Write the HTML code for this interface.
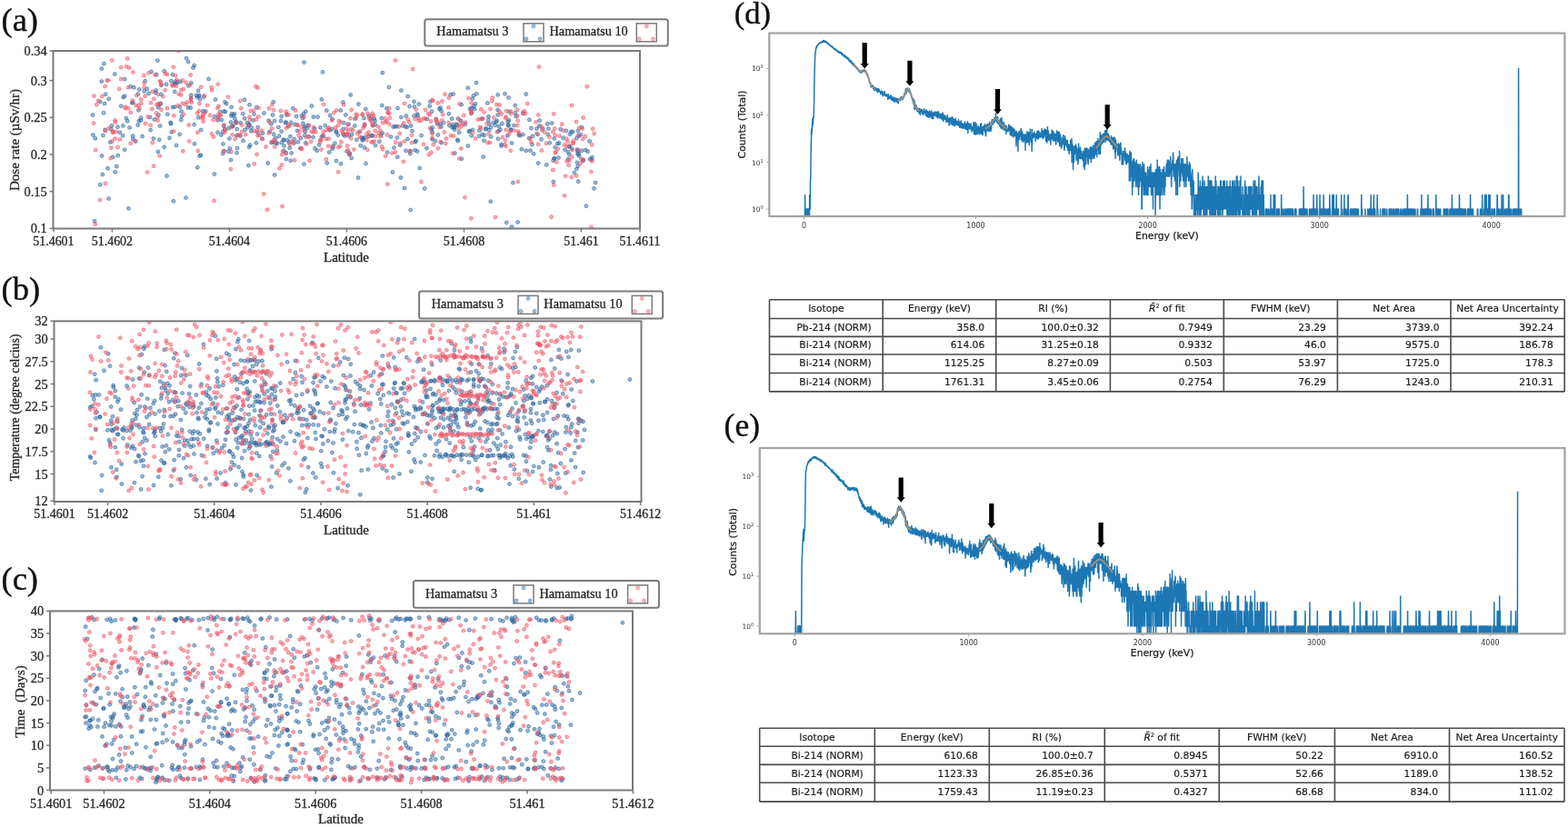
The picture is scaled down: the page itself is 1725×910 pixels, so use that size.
<!DOCTYPE html>
<html><head><meta charset="utf-8"><title>Figure</title><style>
html,body{margin:0;padding:0;background:#fff;}
body{width:1725px;height:910px;overflow:hidden;}
svg{display:block;}
.tk{font-family:'Liberation Serif','Times New Roman',serif;font-size:15px;fill:#262626;stroke:#262626;stroke-width:0.3px;}
.pl{font-family:'Liberation Serif','Times New Roman',serif;font-size:36.5px;fill:#111;stroke:#111;stroke-width:0.4px;}
.st{font-family:'DejaVu Sans','Liberation Sans',sans-serif;font-size:7.5px;fill:#333;}
.st2{font-family:'DejaVu Sans','Liberation Sans',sans-serif;font-size:8px;fill:#333;}
.sl{font-family:'DejaVu Sans','Liberation Sans',sans-serif;font-size:10.8px;fill:#222;stroke:#222;stroke-width:0.25px;}
.tb{font-family:'DejaVu Sans','Liberation Sans',sans-serif;font-size:10.7px;fill:#1e1e1e;stroke:#1e1e1e;stroke-width:0.2px;}
</style></head>
<body><svg width="1725" height="910" viewBox="0 0 1725 910">
<defs><filter id="bl" x="-5%" y="-5%" width="110%" height="110%"><feGaussianBlur stdDeviation="0.65"/></filter><filter id="bl2" x="-1%" y="-2%" width="102%" height="104%"><feGaussianBlur stdDeviation="0.35"/></filter></defs>
<clipPath id="c56"><rect x="58.5" y="56" width="645.5" height="195.5"/></clipPath><g clip-path="url(#c56)"><g fill="#2f72b0" fill-opacity="0.5" stroke="#22568c" stroke-opacity="0.5" stroke-width="1" filter="url(#bl)"><circle cx="384.8" cy="168.6" r="2.0"/><circle cx="628.1" cy="145.1" r="2.0"/><circle cx="180.8" cy="78.2" r="2.0"/><circle cx="627.1" cy="147.7" r="2.0"/><circle cx="273.8" cy="136.5" r="2.0"/><circle cx="335.7" cy="144.6" r="2.0"/><circle cx="560" cy="132.3" r="2.0"/><circle cx="327.8" cy="156.3" r="2.0"/><circle cx="405.7" cy="127.5" r="2.0"/><circle cx="116.1" cy="103.7" r="2.0"/><circle cx="518.9" cy="118.7" r="2.0"/><circle cx="399.4" cy="152" r="2.0"/><circle cx="283.8" cy="140.1" r="2.0"/><circle cx="538.2" cy="136.4" r="2.0"/><circle cx="269" cy="109.7" r="2.0"/><circle cx="352.4" cy="140.4" r="2.0"/><circle cx="175.2" cy="153.8" r="2.0"/><circle cx="324.5" cy="137" r="2.0"/><circle cx="213.7" cy="71.9" r="2.0"/><circle cx="246.4" cy="122.5" r="2.0"/><circle cx="517.1" cy="119.7" r="2.0"/><circle cx="256.4" cy="138.7" r="2.0"/><circle cx="370" cy="177" r="2.0"/><circle cx="644.9" cy="226.7" r="2.0"/><circle cx="634.3" cy="185.8" r="2.0"/><circle cx="502.9" cy="137.7" r="2.0"/><circle cx="401.1" cy="137.6" r="2.0"/><circle cx="254.4" cy="127.4" r="2.0"/><circle cx="190" cy="118.1" r="2.0"/><circle cx="638.9" cy="148.2" r="2.0"/><circle cx="387.1" cy="147.8" r="2.0"/><circle cx="165.1" cy="129.1" r="2.0"/><circle cx="446.7" cy="127.6" r="2.0"/><circle cx="531.7" cy="172.6" r="2.0"/><circle cx="440.9" cy="195.5" r="2.0"/><circle cx="609.7" cy="174.2" r="2.0"/><circle cx="122.8" cy="138.3" r="2.0"/><circle cx="394.1" cy="195.6" r="2.0"/><circle cx="355.7" cy="149.5" r="2.0"/><circle cx="135.4" cy="138.3" r="2.0"/><circle cx="456.6" cy="165.3" r="2.0"/><circle cx="573.9" cy="164.2" r="2.0"/><circle cx="429.8" cy="150.4" r="2.0"/><circle cx="245.1" cy="145.3" r="2.0"/><circle cx="566.8" cy="116.1" r="2.0"/><circle cx="383.5" cy="136.7" r="2.0"/><circle cx="384.3" cy="170.1" r="2.0"/><circle cx="518.6" cy="149.3" r="2.0"/><circle cx="182.9" cy="92.8" r="2.0"/><circle cx="555.5" cy="103.2" r="2.0"/><circle cx="479.9" cy="131.4" r="2.0"/><circle cx="537.5" cy="128.3" r="2.0"/><circle cx="207.1" cy="68.1" r="2.0"/><circle cx="546" cy="134.3" r="2.0"/><circle cx="207" cy="118.5" r="2.0"/><circle cx="146.1" cy="152.9" r="2.0"/><circle cx="575.3" cy="148" r="2.0"/><circle cx="578.7" cy="103.6" r="2.0"/><circle cx="587.1" cy="169.2" r="2.0"/><circle cx="362.6" cy="143.2" r="2.0"/><circle cx="252.9" cy="163.2" r="2.0"/><circle cx="104.8" cy="152.2" r="2.0"/><circle cx="459.1" cy="125.5" r="2.0"/><circle cx="500.2" cy="139.8" r="2.0"/><circle cx="564.4" cy="201.1" r="2.0"/><circle cx="257.2" cy="127.1" r="2.0"/><circle cx="220.2" cy="109.2" r="2.0"/><circle cx="455.5" cy="111.8" r="2.0"/><circle cx="547.5" cy="120.9" r="2.0"/><circle cx="635.5" cy="169.5" r="2.0"/><circle cx="184.3" cy="125.7" r="2.0"/><circle cx="368.4" cy="157.7" r="2.0"/><circle cx="597.2" cy="141.6" r="2.0"/><circle cx="335.3" cy="149.2" r="2.0"/><circle cx="427.9" cy="95.9" r="2.0"/><circle cx="114.4" cy="70.1" r="2.0"/><circle cx="474.5" cy="142.4" r="2.0"/><circle cx="610.7" cy="162" r="2.0"/><circle cx="559.5" cy="107.4" r="2.0"/><circle cx="592.1" cy="179.5" r="2.0"/><circle cx="467.2" cy="207.4" r="2.0"/><circle cx="237.1" cy="109.4" r="2.0"/><circle cx="527.2" cy="149.8" r="2.0"/><circle cx="218.3" cy="129.3" r="2.0"/><circle cx="562" cy="142.8" r="2.0"/><circle cx="135.6" cy="107" r="2.0"/><circle cx="558.8" cy="133.8" r="2.0"/><circle cx="192.1" cy="100.8" r="2.0"/><circle cx="309" cy="133.1" r="2.0"/><circle cx="276.6" cy="140.4" r="2.0"/><circle cx="484.4" cy="118.5" r="2.0"/><circle cx="199.9" cy="127.9" r="2.0"/><circle cx="320.7" cy="168.4" r="2.0"/><circle cx="104.1" cy="243.3" r="2.0"/><circle cx="246.5" cy="166.1" r="2.0"/><circle cx="334.5" cy="68.6" r="2.0"/><circle cx="159.6" cy="89.1" r="2.0"/><circle cx="452.1" cy="138.5" r="2.0"/><circle cx="311.9" cy="153.8" r="2.0"/><circle cx="503.2" cy="153.8" r="2.0"/><circle cx="463.6" cy="149.1" r="2.0"/><circle cx="340.1" cy="150.5" r="2.0"/><circle cx="582" cy="152.1" r="2.0"/><circle cx="451.5" cy="166.1" r="2.0"/><circle cx="550.4" cy="142.8" r="2.0"/><circle cx="290.5" cy="124.5" r="2.0"/><circle cx="402.5" cy="180" r="2.0"/><circle cx="209.7" cy="118.5" r="2.0"/><circle cx="653.5" cy="207.3" r="2.0"/><circle cx="235.8" cy="191.5" r="2.0"/><circle cx="243.3" cy="148.5" r="2.0"/><circle cx="141.4" cy="229.3" r="2.0"/><circle cx="243.9" cy="132" r="2.0"/><circle cx="524.2" cy="103.3" r="2.0"/><circle cx="488" cy="135.1" r="2.0"/><circle cx="172.2" cy="82.1" r="2.0"/><circle cx="309.6" cy="144.6" r="2.0"/><circle cx="334.4" cy="180.6" r="2.0"/><circle cx="469.8" cy="130.9" r="2.0"/><circle cx="353.8" cy="150.6" r="2.0"/><circle cx="426.2" cy="167.5" r="2.0"/><circle cx="566.7" cy="124.2" r="2.0"/><circle cx="503.9" cy="130.5" r="2.0"/><circle cx="303.3" cy="151.9" r="2.0"/><circle cx="349.6" cy="128.7" r="2.0"/><circle cx="304.8" cy="157.9" r="2.0"/><circle cx="161.7" cy="97.8" r="2.0"/><circle cx="213.6" cy="137.1" r="2.0"/><circle cx="258.3" cy="130.4" r="2.0"/><circle cx="275.1" cy="159.6" r="2.0"/><circle cx="274.5" cy="115.3" r="2.0"/><circle cx="420.8" cy="80" r="2.0"/><circle cx="639.9" cy="140" r="2.0"/><circle cx="530.6" cy="148.1" r="2.0"/><circle cx="539.7" cy="221.7" r="2.0"/><circle cx="522.1" cy="120.1" r="2.0"/><circle cx="432" cy="189.4" r="2.0"/><circle cx="610" cy="174.4" r="2.0"/><circle cx="483.4" cy="119.9" r="2.0"/><circle cx="378.4" cy="135.2" r="2.0"/><circle cx="143.6" cy="95.3" r="2.0"/><circle cx="371.8" cy="148.5" r="2.0"/><circle cx="218.9" cy="105.7" r="2.0"/><circle cx="174.4" cy="126.5" r="2.0"/><circle cx="381.6" cy="166.6" r="2.0"/><circle cx="536.4" cy="113.4" r="2.0"/><circle cx="264.5" cy="149.4" r="2.0"/><circle cx="527.3" cy="143.6" r="2.0"/><circle cx="392.4" cy="153.7" r="2.0"/><circle cx="183.5" cy="193.6" r="2.0"/><circle cx="636.2" cy="199.6" r="2.0"/><circle cx="323.7" cy="153" r="2.0"/><circle cx="264.6" cy="135.1" r="2.0"/><circle cx="570.7" cy="148.2" r="2.0"/><circle cx="169.9" cy="131.6" r="2.0"/><circle cx="507.8" cy="174.7" r="2.0"/><circle cx="205" cy="64.1" r="2.0"/><circle cx="318.6" cy="162.7" r="2.0"/><circle cx="229.5" cy="86.9" r="2.0"/><circle cx="567.5" cy="128" r="2.0"/><circle cx="317.2" cy="139.2" r="2.0"/><circle cx="641.6" cy="176" r="2.0"/><circle cx="447.7" cy="139.8" r="2.0"/><circle cx="485.6" cy="157" r="2.0"/><circle cx="390.2" cy="138.5" r="2.0"/><circle cx="272.2" cy="140.5" r="2.0"/><circle cx="320.3" cy="134.8" r="2.0"/><circle cx="622.8" cy="143.8" r="2.0"/><circle cx="212.5" cy="74.5" r="2.0"/><circle cx="649.1" cy="175" r="2.0"/><circle cx="521.5" cy="116.7" r="2.0"/><circle cx="300.4" cy="156.2" r="2.0"/><circle cx="456.7" cy="156.2" r="2.0"/><circle cx="312.2" cy="154.1" r="2.0"/><circle cx="312.5" cy="160.4" r="2.0"/><circle cx="380.3" cy="126.4" r="2.0"/><circle cx="110.1" cy="112" r="2.0"/><circle cx="374.7" cy="121.4" r="2.0"/><circle cx="639.9" cy="165.8" r="2.0"/><circle cx="259.2" cy="134.9" r="2.0"/><circle cx="515.9" cy="144.7" r="2.0"/><circle cx="346.5" cy="163.2" r="2.0"/><circle cx="216.9" cy="107.1" r="2.0"/><circle cx="602.9" cy="147.9" r="2.0"/><circle cx="110.2" cy="203.2" r="2.0"/><circle cx="269.2" cy="130.3" r="2.0"/><circle cx="655.1" cy="201" r="2.0"/><circle cx="246.3" cy="138.8" r="2.0"/><circle cx="571.9" cy="149.3" r="2.0"/><circle cx="436.9" cy="151.5" r="2.0"/><circle cx="548" cy="152.8" r="2.0"/><circle cx="450.5" cy="117" r="2.0"/><circle cx="302.1" cy="133.1" r="2.0"/><circle cx="522.9" cy="114.2" r="2.0"/><circle cx="115.5" cy="143" r="2.0"/><circle cx="348.7" cy="165.7" r="2.0"/><circle cx="307.1" cy="149.7" r="2.0"/><circle cx="365.5" cy="163.7" r="2.0"/><circle cx="171.6" cy="99.4" r="2.0"/><circle cx="224.3" cy="106.6" r="2.0"/><circle cx="412.6" cy="137.3" r="2.0"/><circle cx="316" cy="154.3" r="2.0"/><circle cx="540" cy="140" r="2.0"/><circle cx="436.6" cy="139.2" r="2.0"/><circle cx="578.7" cy="165.8" r="2.0"/><circle cx="507.1" cy="133" r="2.0"/><circle cx="434.7" cy="139.3" r="2.0"/><circle cx="260.4" cy="149.2" r="2.0"/><circle cx="535.1" cy="141.2" r="2.0"/><circle cx="240.2" cy="128.7" r="2.0"/><circle cx="142.6" cy="140.4" r="2.0"/><circle cx="635" cy="178.8" r="2.0"/><circle cx="400.4" cy="129.9" r="2.0"/><circle cx="530.2" cy="130.5" r="2.0"/><circle cx="394.4" cy="114.6" r="2.0"/><circle cx="440.1" cy="159.6" r="2.0"/><circle cx="119.6" cy="218.6" r="2.0"/><circle cx="204.5" cy="217.6" r="2.0"/><circle cx="475.1" cy="122.6" r="2.0"/><circle cx="417.4" cy="155.7" r="2.0"/><circle cx="188.8" cy="145.2" r="2.0"/><circle cx="629" cy="163.5" r="2.0"/><circle cx="186.5" cy="151.8" r="2.0"/><circle cx="383.9" cy="149.4" r="2.0"/><circle cx="180.7" cy="161.8" r="2.0"/><circle cx="498.8" cy="140.3" r="2.0"/><circle cx="254.1" cy="176" r="2.0"/><circle cx="175.2" cy="115.3" r="2.0"/><circle cx="126.3" cy="81.6" r="2.0"/><circle cx="197.8" cy="117.7" r="2.0"/><circle cx="207.2" cy="94.3" r="2.0"/><circle cx="398.7" cy="154.5" r="2.0"/><circle cx="351.1" cy="159.4" r="2.0"/><circle cx="631.9" cy="190.1" r="2.0"/><circle cx="630.2" cy="145" r="2.0"/><circle cx="542.7" cy="135" r="2.0"/><circle cx="473.4" cy="111.8" r="2.0"/><circle cx="569.6" cy="244.4" r="2.0"/><circle cx="621.6" cy="164.7" r="2.0"/><circle cx="113.4" cy="149" r="2.0"/><circle cx="166.4" cy="78.9" r="2.0"/><circle cx="300.7" cy="112.3" r="2.0"/><circle cx="152.8" cy="133.1" r="2.0"/><circle cx="433.4" cy="162.6" r="2.0"/><circle cx="245.3" cy="169.1" r="2.0"/><circle cx="247.5" cy="112.2" r="2.0"/><circle cx="260.8" cy="142" r="2.0"/><circle cx="155" cy="132.4" r="2.0"/><circle cx="511.9" cy="136.7" r="2.0"/><circle cx="461.8" cy="184.9" r="2.0"/><circle cx="437.3" cy="172.8" r="2.0"/><circle cx="119.7" cy="108.7" r="2.0"/><circle cx="339.1" cy="137.8" r="2.0"/><circle cx="481" cy="136.2" r="2.0"/><circle cx="187.6" cy="134.8" r="2.0"/><circle cx="314.8" cy="134.6" r="2.0"/><circle cx="111.8" cy="75.6" r="2.0"/><circle cx="146.2" cy="149.5" r="2.0"/><circle cx="220.9" cy="170.7" r="2.0"/><circle cx="330.9" cy="152.1" r="2.0"/><circle cx="357.8" cy="138.2" r="2.0"/><circle cx="591.6" cy="147.7" r="2.0"/><circle cx="276.5" cy="144.3" r="2.0"/><circle cx="112.7" cy="192.1" r="2.0"/><circle cx="559.2" cy="137.4" r="2.0"/><circle cx="135.1" cy="149.3" r="2.0"/><circle cx="152.4" cy="121.2" r="2.0"/><circle cx="635.2" cy="166.1" r="2.0"/><circle cx="518.8" cy="124.4" r="2.0"/><circle cx="288.3" cy="152.6" r="2.0"/><circle cx="174.2" cy="118.2" r="2.0"/><circle cx="315.4" cy="126.4" r="2.0"/><circle cx="289" cy="146.5" r="2.0"/><circle cx="586" cy="149.8" r="2.0"/><circle cx="333.1" cy="129.9" r="2.0"/><circle cx="146.3" cy="113" r="2.0"/><circle cx="615" cy="157.5" r="2.0"/><circle cx="446.1" cy="139.4" r="2.0"/><circle cx="165.6" cy="143.1" r="2.0"/><circle cx="163.6" cy="102.8" r="2.0"/><circle cx="359.3" cy="121.6" r="2.0"/><circle cx="151.9" cy="103.6" r="2.0"/><circle cx="451.3" cy="169.1" r="2.0"/><circle cx="442.8" cy="138.3" r="2.0"/><circle cx="118.6" cy="185.2" r="2.0"/><circle cx="548.8" cy="139.1" r="2.0"/><circle cx="537.3" cy="132.2" r="2.0"/><circle cx="608.6" cy="176.7" r="2.0"/><circle cx="472.7" cy="116.8" r="2.0"/><circle cx="485.2" cy="139.3" r="2.0"/><circle cx="191.7" cy="92.5" r="2.0"/><circle cx="114.1" cy="124.2" r="2.0"/><circle cx="137.2" cy="87.1" r="2.0"/><circle cx="635.9" cy="143.9" r="2.0"/><circle cx="459.1" cy="166.5" r="2.0"/><circle cx="626.2" cy="161.3" r="2.0"/><circle cx="294.7" cy="179.4" r="2.0"/><circle cx="519.8" cy="142.9" r="2.0"/><circle cx="137.1" cy="105.7" r="2.0"/><circle cx="193" cy="89.6" r="2.0"/><circle cx="254.6" cy="117.8" r="2.0"/><circle cx="406.1" cy="149.8" r="2.0"/><circle cx="410.1" cy="137.9" r="2.0"/><circle cx="377.7" cy="142.1" r="2.0"/><circle cx="336.3" cy="122.6" r="2.0"/><circle cx="420.2" cy="116" r="2.0"/><circle cx="637.1" cy="171.5" r="2.0"/><circle cx="355" cy="79.3" r="2.0"/><circle cx="565.4" cy="138" r="2.0"/><circle cx="131.8" cy="145.8" r="2.0"/><circle cx="314.7" cy="168.1" r="2.0"/><circle cx="411.8" cy="130.3" r="2.0"/><circle cx="445" cy="207.1" r="2.0"/><circle cx="239.5" cy="145.7" r="2.0"/><circle cx="322.4" cy="119.2" r="2.0"/><circle cx="626.2" cy="161" r="2.0"/><circle cx="460.8" cy="114.6" r="2.0"/><circle cx="425.4" cy="119.2" r="2.0"/><circle cx="137.1" cy="164.7" r="2.0"/><circle cx="129.8" cy="171.1" r="2.0"/><circle cx="218.1" cy="99.7" r="2.0"/><circle cx="177.3" cy="103.7" r="2.0"/><circle cx="646.6" cy="166.8" r="2.0"/><circle cx="102.4" cy="148.5" r="2.0"/><circle cx="303.8" cy="157.2" r="2.0"/><circle cx="133.2" cy="116.7" r="2.0"/><circle cx="455.9" cy="117.4" r="2.0"/><circle cx="126.6" cy="189.2" r="2.0"/><circle cx="138.8" cy="130.1" r="2.0"/><circle cx="145.2" cy="113.1" r="2.0"/><circle cx="251.6" cy="141.1" r="2.0"/><circle cx="420.6" cy="146.3" r="2.0"/><circle cx="547.7" cy="104.3" r="2.0"/><circle cx="249.1" cy="114.1" r="2.0"/><circle cx="257.9" cy="125.2" r="2.0"/><circle cx="558.2" cy="149.4" r="2.0"/><circle cx="514.7" cy="96.8" r="2.0"/><circle cx="171.2" cy="101.9" r="2.0"/><circle cx="548.2" cy="144.4" r="2.0"/><circle cx="562" cy="142.8" r="2.0"/><circle cx="199.5" cy="122.6" r="2.0"/><circle cx="448.7" cy="105.9" r="2.0"/><circle cx="210" cy="108.6" r="2.0"/><circle cx="235.9" cy="128.2" r="2.0"/><circle cx="374.9" cy="180.2" r="2.0"/><circle cx="390.6" cy="130.6" r="2.0"/><circle cx="366.6" cy="161.6" r="2.0"/><circle cx="401" cy="162.4" r="2.0"/><circle cx="219.1" cy="105" r="2.0"/><circle cx="532.8" cy="148.9" r="2.0"/><circle cx="255" cy="125.2" r="2.0"/><circle cx="607.2" cy="135.5" r="2.0"/><circle cx="386.6" cy="173.9" r="2.0"/><circle cx="269.3" cy="142.9" r="2.0"/><circle cx="197.6" cy="147.8" r="2.0"/><circle cx="370" cy="144.5" r="2.0"/><circle cx="309.6" cy="128" r="2.0"/><circle cx="446.5" cy="165.8" r="2.0"/><circle cx="377.4" cy="112.6" r="2.0"/><circle cx="121.3" cy="156.4" r="2.0"/><circle cx="563" cy="157.4" r="2.0"/><circle cx="129.5" cy="139.7" r="2.0"/><circle cx="560" cy="123.1" r="2.0"/><circle cx="551.7" cy="158.8" r="2.0"/><circle cx="613.4" cy="157.9" r="2.0"/><circle cx="469.4" cy="163.1" r="2.0"/><circle cx="189.9" cy="82.1" r="2.0"/><circle cx="346" cy="141.2" r="2.0"/><circle cx="344.6" cy="151.1" r="2.0"/><circle cx="451.6" cy="231" r="2.0"/><circle cx="312.3" cy="165.9" r="2.0"/><circle cx="475.7" cy="145.6" r="2.0"/><circle cx="214" cy="158.2" r="2.0"/><circle cx="296.9" cy="144.9" r="2.0"/><circle cx="402.3" cy="120" r="2.0"/><circle cx="338.1" cy="140.7" r="2.0"/><circle cx="168.8" cy="152.4" r="2.0"/><circle cx="636.7" cy="169.2" r="2.0"/><circle cx="484.4" cy="136.5" r="2.0"/><circle cx="563" cy="249.6" r="2.0"/><circle cx="299.1" cy="157" r="2.0"/><circle cx="625" cy="175.1" r="2.0"/><circle cx="551.6" cy="160.6" r="2.0"/><circle cx="644.2" cy="165.1" r="2.0"/><circle cx="210.3" cy="104.7" r="2.0"/><circle cx="365.6" cy="130.9" r="2.0"/><circle cx="314.9" cy="175" r="2.0"/><circle cx="441.4" cy="129" r="2.0"/><circle cx="239.6" cy="132.3" r="2.0"/><circle cx="156.6" cy="150" r="2.0"/><circle cx="365.3" cy="142" r="2.0"/><circle cx="455.6" cy="127.5" r="2.0"/><circle cx="313.9" cy="135.1" r="2.0"/><circle cx="648.6" cy="155.4" r="2.0"/><circle cx="326.1" cy="128" r="2.0"/><circle cx="267.2" cy="125.2" r="2.0"/><circle cx="552.4" cy="136" r="2.0"/><circle cx="359.7" cy="179.4" r="2.0"/><circle cx="252.4" cy="152.4" r="2.0"/><circle cx="259.8" cy="133.9" r="2.0"/><circle cx="626.3" cy="170" r="2.0"/><circle cx="634.4" cy="152.1" r="2.0"/><circle cx="459.4" cy="127.3" r="2.0"/><circle cx="255.5" cy="138.8" r="2.0"/><circle cx="495.5" cy="104.3" r="2.0"/><circle cx="221.1" cy="143" r="2.0"/><circle cx="279.5" cy="125.5" r="2.0"/><circle cx="401.4" cy="151.3" r="2.0"/><circle cx="323.4" cy="157.5" r="2.0"/><circle cx="295.6" cy="132.6" r="2.0"/><circle cx="641.3" cy="177.1" r="2.0"/><circle cx="195.3" cy="90.7" r="2.0"/><circle cx="441.3" cy="99.6" r="2.0"/><circle cx="122.2" cy="141.9" r="2.0"/><circle cx="151.7" cy="137.5" r="2.0"/><circle cx="217.3" cy="184.3" r="2.0"/><circle cx="651" cy="175.6" r="2.0"/><circle cx="503.8" cy="155.1" r="2.0"/><circle cx="582.4" cy="131.8" r="2.0"/><circle cx="128.3" cy="183.1" r="2.0"/><circle cx="478.9" cy="155.2" r="2.0"/><circle cx="344.9" cy="128.7" r="2.0"/><circle cx="331.9" cy="127.4" r="2.0"/><circle cx="493.8" cy="125.2" r="2.0"/><circle cx="271.9" cy="135" r="2.0"/><circle cx="385.7" cy="104.4" r="2.0"/><circle cx="245.5" cy="158.4" r="2.0"/><circle cx="318" cy="156.9" r="2.0"/><circle cx="396.7" cy="160.2" r="2.0"/><circle cx="188.4" cy="89.1" r="2.0"/><circle cx="254.1" cy="134.5" r="2.0"/><circle cx="334.1" cy="125" r="2.0"/><circle cx="363.1" cy="127" r="2.0"/><circle cx="544.7" cy="137.8" r="2.0"/><circle cx="457.5" cy="155.1" r="2.0"/><circle cx="412.9" cy="160" r="2.0"/><circle cx="583.4" cy="165.6" r="2.0"/><circle cx="210.3" cy="91.2" r="2.0"/><circle cx="158.6" cy="100.4" r="2.0"/><circle cx="319.3" cy="150" r="2.0"/><circle cx="176.9" cy="114.1" r="2.0"/><circle cx="409.3" cy="148.9" r="2.0"/><circle cx="419.1" cy="148.4" r="2.0"/><circle cx="173.8" cy="167" r="2.0"/><circle cx="498.1" cy="137.1" r="2.0"/><circle cx="409.6" cy="149.6" r="2.0"/><circle cx="335.6" cy="139" r="2.0"/><circle cx="609.8" cy="152.5" r="2.0"/><circle cx="575.7" cy="125" r="2.0"/><circle cx="223.4" cy="122.2" r="2.0"/><circle cx="193.2" cy="91.9" r="2.0"/><circle cx="608.8" cy="199.9" r="2.0"/><circle cx="188.1" cy="136.2" r="2.0"/><circle cx="520.9" cy="105.3" r="2.0"/><circle cx="274.2" cy="161.8" r="2.0"/><circle cx="301.2" cy="147.8" r="2.0"/><circle cx="408" cy="130.9" r="2.0"/><circle cx="614.5" cy="173.6" r="2.0"/><circle cx="102" cy="126.5" r="2.0"/><circle cx="190.9" cy="221.3" r="2.0"/><circle cx="500.4" cy="168.6" r="2.0"/><circle cx="319.7" cy="176.7" r="2.0"/><circle cx="260.5" cy="168.2" r="2.0"/><circle cx="635" cy="164.5" r="2.0"/><circle cx="247.3" cy="142.2" r="2.0"/><circle cx="497" cy="130.5" r="2.0"/><circle cx="635.8" cy="182.7" r="2.0"/><circle cx="524" cy="91.1" r="2.0"/><circle cx="494.4" cy="138.1" r="2.0"/><circle cx="502.1" cy="136.6" r="2.0"/><circle cx="547.6" cy="126.6" r="2.0"/><circle cx="251.3" cy="166.7" r="2.0"/><circle cx="448.5" cy="153" r="2.0"/><circle cx="546.3" cy="132.7" r="2.0"/><circle cx="593.6" cy="132.6" r="2.0"/><circle cx="603.4" cy="141.6" r="2.0"/><circle cx="602.3" cy="136.3" r="2.0"/><circle cx="155" cy="129.5" r="2.0"/><circle cx="309.7" cy="156.9" r="2.0"/><circle cx="354" cy="109.4" r="2.0"/><circle cx="595.5" cy="153.3" r="2.0"/><circle cx="333.4" cy="135.8" r="2.0"/><circle cx="247.8" cy="122.9" r="2.0"/><circle cx="111.8" cy="89.6" r="2.0"/><circle cx="261" cy="163" r="2.0"/><circle cx="534" cy="142.2" r="2.0"/><circle cx="112" cy="171.4" r="2.0"/><circle cx="192.4" cy="117.6" r="2.0"/><circle cx="273.4" cy="182.1" r="2.0"/><circle cx="396" cy="144.8" r="2.0"/><circle cx="302.2" cy="192.5" r="2.0"/><circle cx="590.5" cy="141.6" r="2.0"/><circle cx="215.9" cy="104.7" r="2.0"/><circle cx="412.4" cy="132.7" r="2.0"/><circle cx="532.4" cy="154.7" r="2.0"/><circle cx="616.6" cy="142.2" r="2.0"/><circle cx="585.4" cy="159" r="2.0"/><circle cx="176" cy="138.5" r="2.0"/><circle cx="540.1" cy="150.4" r="2.0"/><circle cx="475.5" cy="153.2" r="2.0"/><circle cx="334.7" cy="140.9" r="2.0"/><circle cx="115" cy="114.1" r="2.0"/><circle cx="194" cy="159.9" r="2.0"/><circle cx="516.6" cy="144.1" r="2.0"/><circle cx="147.4" cy="96.2" r="2.0"/><circle cx="274.3" cy="137.3" r="2.0"/><circle cx="242.4" cy="123.1" r="2.0"/><circle cx="514.8" cy="160.6" r="2.0"/><circle cx="300" cy="126.4" r="2.0"/><circle cx="149.2" cy="155.5" r="2.0"/><circle cx="306.3" cy="139.9" r="2.0"/><circle cx="282.2" cy="118" r="2.0"/><circle cx="498.6" cy="103.6" r="2.0"/><circle cx="278.4" cy="132.3" r="2.0"/><circle cx="485.6" cy="122.2" r="2.0"/><circle cx="399.6" cy="153.3" r="2.0"/><circle cx="593.3" cy="138.6" r="2.0"/><circle cx="507.7" cy="115.2" r="2.0"/><circle cx="327.1" cy="143.8" r="2.0"/><circle cx="369.9" cy="145.4" r="2.0"/><circle cx="362.3" cy="167.5" r="2.0"/><circle cx="584.4" cy="141" r="2.0"/><circle cx="177.4" cy="93.7" r="2.0"/><circle cx="336.2" cy="157.3" r="2.0"/><circle cx="397.6" cy="151.6" r="2.0"/><circle cx="342.8" cy="116.6" r="2.0"/><circle cx="432.6" cy="139.4" r="2.0"/><circle cx="377.6" cy="148.1" r="2.0"/><circle cx="330.3" cy="163.2" r="2.0"/><circle cx="481.9" cy="148.4" r="2.0"/><circle cx="283.5" cy="145.7" r="2.0"/><circle cx="437.5" cy="119" r="2.0"/><circle cx="505" cy="145.8" r="2.0"/><circle cx="173.3" cy="66.6" r="2.0"/><circle cx="281.9" cy="157.2" r="2.0"/><circle cx="624.9" cy="167.3" r="2.0"/><circle cx="636.8" cy="149.6" r="2.0"/><circle cx="651.4" cy="173" r="2.0"/><circle cx="124.4" cy="172.7" r="2.0"/><circle cx="559.4" cy="138.5" r="2.0"/><circle cx="619.7" cy="151.7" r="2.0"/><circle cx="601.2" cy="181.2" r="2.0"/><circle cx="497.5" cy="140" r="2.0"/><circle cx="475.7" cy="140.4" r="2.0"/><circle cx="500.1" cy="142.6" r="2.0"/><circle cx="419.8" cy="130.1" r="2.0"/><circle cx="538.2" cy="143.3" r="2.0"/><circle cx="379.3" cy="149.4" r="2.0"/><circle cx="226.2" cy="122.4" r="2.0"/><circle cx="153.2" cy="98.4" r="2.0"/><circle cx="604.7" cy="157.2" r="2.0"/><circle cx="519.6" cy="108.7" r="2.0"/><circle cx="199.2" cy="132" r="2.0"/><circle cx="557.1" cy="244.8" r="2.0"/><circle cx="267.5" cy="154.8" r="2.0"/><circle cx="453.5" cy="144.1" r="2.0"/><circle cx="298.4" cy="136.3" r="2.0"/><circle cx="219.6" cy="171.4" r="2.0"/><circle cx="198.3" cy="89.7" r="2.0"/><circle cx="140.2" cy="133.3" r="2.0"/></g><g fill="#f25566" fill-opacity="0.5" stroke="#ea5062" stroke-opacity="0.5" stroke-width="1" filter="url(#bl)"><circle cx="372.1" cy="162.1" r="2.0"/><circle cx="629.3" cy="172.5" r="2.0"/><circle cx="431.3" cy="168.5" r="2.0"/><circle cx="481.3" cy="134.5" r="2.0"/><circle cx="345" cy="140.3" r="2.0"/><circle cx="374.8" cy="134.4" r="2.0"/><circle cx="645.9" cy="95.2" r="2.0"/><circle cx="331.1" cy="163.2" r="2.0"/><circle cx="652.1" cy="141.7" r="2.0"/><circle cx="439" cy="139.3" r="2.0"/><circle cx="609.2" cy="125.4" r="2.0"/><circle cx="420.9" cy="135.1" r="2.0"/><circle cx="556.7" cy="160.8" r="2.0"/><circle cx="557" cy="122.1" r="2.0"/><circle cx="314.8" cy="122.7" r="2.0"/><circle cx="283.5" cy="149.1" r="2.0"/><circle cx="622.1" cy="193.8" r="2.0"/><circle cx="283.5" cy="96.6" r="2.0"/><circle cx="535.5" cy="136.1" r="2.0"/><circle cx="199.3" cy="104.3" r="2.0"/><circle cx="372.2" cy="189.2" r="2.0"/><circle cx="310.5" cy="227" r="2.0"/><circle cx="253.9" cy="186.2" r="2.0"/><circle cx="232.9" cy="147.3" r="2.0"/><circle cx="636.3" cy="148.7" r="2.0"/><circle cx="471.9" cy="170.2" r="2.0"/><circle cx="358.8" cy="175.3" r="2.0"/><circle cx="418.6" cy="150.3" r="2.0"/><circle cx="569.9" cy="199.9" r="2.0"/><circle cx="476.3" cy="110.8" r="2.0"/><circle cx="172.1" cy="124.4" r="2.0"/><circle cx="217.8" cy="166.1" r="2.0"/><circle cx="595.3" cy="139" r="2.0"/><circle cx="410.2" cy="138.3" r="2.0"/><circle cx="428.4" cy="136.5" r="2.0"/><circle cx="191.3" cy="127.3" r="2.0"/><circle cx="176.8" cy="90" r="2.0"/><circle cx="221.1" cy="95.7" r="2.0"/><circle cx="281.4" cy="95.1" r="2.0"/><circle cx="410.9" cy="127.1" r="2.0"/><circle cx="307.5" cy="185.2" r="2.0"/><circle cx="476.7" cy="159.1" r="2.0"/><circle cx="340.1" cy="138" r="2.0"/><circle cx="386.2" cy="141.9" r="2.0"/><circle cx="628.9" cy="194.9" r="2.0"/><circle cx="124.3" cy="146.1" r="2.0"/><circle cx="454.1" cy="76" r="2.0"/><circle cx="509.3" cy="136.1" r="2.0"/><circle cx="200.8" cy="113.8" r="2.0"/><circle cx="578.2" cy="125" r="2.0"/><circle cx="169" cy="182.7" r="2.0"/><circle cx="549.5" cy="122.9" r="2.0"/><circle cx="207.7" cy="137.6" r="2.0"/><circle cx="337.3" cy="158.5" r="2.0"/><circle cx="320.3" cy="155.3" r="2.0"/><circle cx="418.4" cy="143.7" r="2.0"/><circle cx="452.9" cy="148.8" r="2.0"/><circle cx="123.3" cy="155.6" r="2.0"/><circle cx="552.9" cy="151" r="2.0"/><circle cx="392.9" cy="126.8" r="2.0"/><circle cx="610.4" cy="141.5" r="2.0"/><circle cx="194.6" cy="88.1" r="2.0"/><circle cx="347.3" cy="145" r="2.0"/><circle cx="630.9" cy="154.9" r="2.0"/><circle cx="452.9" cy="157.1" r="2.0"/><circle cx="382.2" cy="160.5" r="2.0"/><circle cx="361.7" cy="152.7" r="2.0"/><circle cx="608.5" cy="145.2" r="2.0"/><circle cx="105.1" cy="165.1" r="2.0"/><circle cx="650.4" cy="188.9" r="2.0"/><circle cx="362.1" cy="141.8" r="2.0"/><circle cx="556.7" cy="128.6" r="2.0"/><circle cx="369" cy="140.5" r="2.0"/><circle cx="559.6" cy="147.8" r="2.0"/><circle cx="155.4" cy="113.8" r="2.0"/><circle cx="337" cy="150.9" r="2.0"/><circle cx="528.1" cy="139.7" r="2.0"/><circle cx="653.6" cy="146.9" r="2.0"/><circle cx="385.5" cy="130.2" r="2.0"/><circle cx="142.1" cy="74.6" r="2.0"/><circle cx="515.6" cy="108.2" r="2.0"/><circle cx="460.5" cy="129.8" r="2.0"/><circle cx="183.9" cy="119.1" r="2.0"/><circle cx="217.1" cy="124.7" r="2.0"/><circle cx="379.3" cy="147.7" r="2.0"/><circle cx="193" cy="83.2" r="2.0"/><circle cx="609.3" cy="203.5" r="2.0"/><circle cx="650.5" cy="249.9" r="2.0"/><circle cx="518.3" cy="240.3" r="2.0"/><circle cx="569.1" cy="138.1" r="2.0"/><circle cx="284.6" cy="118.8" r="2.0"/><circle cx="160" cy="135.8" r="2.0"/><circle cx="505.3" cy="174.4" r="2.0"/><circle cx="541.3" cy="111.2" r="2.0"/><circle cx="486.3" cy="111.5" r="2.0"/><circle cx="199.1" cy="99.1" r="2.0"/><circle cx="115.6" cy="95" r="2.0"/><circle cx="408.5" cy="156.5" r="2.0"/><circle cx="184" cy="81.8" r="2.0"/><circle cx="264.3" cy="110.9" r="2.0"/><circle cx="365.1" cy="132.4" r="2.0"/><circle cx="240" cy="125.9" r="2.0"/><circle cx="618.3" cy="136.8" r="2.0"/><circle cx="279.1" cy="121.7" r="2.0"/><circle cx="412" cy="155.5" r="2.0"/><circle cx="640.6" cy="141.5" r="2.0"/><circle cx="473" cy="126.2" r="2.0"/><circle cx="314.8" cy="141.1" r="2.0"/><circle cx="518.6" cy="113.2" r="2.0"/><circle cx="208.2" cy="155.4" r="2.0"/><circle cx="158.5" cy="96.3" r="2.0"/><circle cx="122.3" cy="162.7" r="2.0"/><circle cx="471.3" cy="124.9" r="2.0"/><circle cx="465.9" cy="158.7" r="2.0"/><circle cx="473.1" cy="141" r="2.0"/><circle cx="474.4" cy="167.7" r="2.0"/><circle cx="424.1" cy="171.7" r="2.0"/><circle cx="623.3" cy="152.8" r="2.0"/><circle cx="355.9" cy="144.8" r="2.0"/><circle cx="169.3" cy="108.8" r="2.0"/><circle cx="239.5" cy="119.1" r="2.0"/><circle cx="327.4" cy="137.8" r="2.0"/><circle cx="440.5" cy="157.5" r="2.0"/><circle cx="299.3" cy="141.3" r="2.0"/><circle cx="342.6" cy="144.8" r="2.0"/><circle cx="263.7" cy="148.8" r="2.0"/><circle cx="504.6" cy="137.5" r="2.0"/><circle cx="569.7" cy="144.4" r="2.0"/><circle cx="288.8" cy="152.9" r="2.0"/><circle cx="544.9" cy="239.1" r="2.0"/><circle cx="210.2" cy="107.7" r="2.0"/><circle cx="641.7" cy="129.4" r="2.0"/><circle cx="298.4" cy="156.5" r="2.0"/><circle cx="467.8" cy="130.6" r="2.0"/><circle cx="434.9" cy="167.4" r="2.0"/><circle cx="146.4" cy="79.6" r="2.0"/><circle cx="425.8" cy="148.3" r="2.0"/><circle cx="126.7" cy="132.5" r="2.0"/><circle cx="370.2" cy="121.4" r="2.0"/><circle cx="398.9" cy="126" r="2.0"/><circle cx="629" cy="116" r="2.0"/><circle cx="201.9" cy="98" r="2.0"/><circle cx="127.8" cy="145" r="2.0"/><circle cx="448.7" cy="131.4" r="2.0"/><circle cx="272.8" cy="138" r="2.0"/><circle cx="406.1" cy="130.2" r="2.0"/><circle cx="242.6" cy="127.4" r="2.0"/><circle cx="483.8" cy="139.9" r="2.0"/><circle cx="170.6" cy="82.2" r="2.0"/><circle cx="384.8" cy="169.5" r="2.0"/><circle cx="528.9" cy="141.5" r="2.0"/><circle cx="595.8" cy="165.5" r="2.0"/><circle cx="282.7" cy="143.8" r="2.0"/><circle cx="405.2" cy="150.2" r="2.0"/><circle cx="629.6" cy="165" r="2.0"/><circle cx="177.6" cy="120.8" r="2.0"/><circle cx="561.4" cy="144.7" r="2.0"/><circle cx="507.3" cy="163.4" r="2.0"/><circle cx="636.8" cy="165.2" r="2.0"/><circle cx="371.9" cy="138" r="2.0"/><circle cx="353.4" cy="153.7" r="2.0"/><circle cx="403.4" cy="154.1" r="2.0"/><circle cx="301.2" cy="153.8" r="2.0"/><circle cx="133.2" cy="74.2" r="2.0"/><circle cx="416.3" cy="139.5" r="2.0"/><circle cx="317.1" cy="137.3" r="2.0"/><circle cx="381.2" cy="148.3" r="2.0"/><circle cx="488.9" cy="145.4" r="2.0"/><circle cx="319.3" cy="158.9" r="2.0"/><circle cx="190.8" cy="73.8" r="2.0"/><circle cx="561.7" cy="165.8" r="2.0"/><circle cx="624.7" cy="155.7" r="2.0"/><circle cx="231.1" cy="126.9" r="2.0"/><circle cx="439.7" cy="146.8" r="2.0"/><circle cx="310.2" cy="170.2" r="2.0"/><circle cx="490.2" cy="157.8" r="2.0"/><circle cx="131.2" cy="97.9" r="2.0"/><circle cx="610.9" cy="168.4" r="2.0"/><circle cx="575" cy="124" r="2.0"/><circle cx="177.8" cy="93.2" r="2.0"/><circle cx="456.5" cy="131.1" r="2.0"/><circle cx="284.2" cy="128.4" r="2.0"/><circle cx="217.4" cy="145.7" r="2.0"/><circle cx="571" cy="146.4" r="2.0"/><circle cx="518.6" cy="123" r="2.0"/><circle cx="421" cy="164.2" r="2.0"/><circle cx="445" cy="113.9" r="2.0"/><circle cx="583.3" cy="152.7" r="2.0"/><circle cx="290.2" cy="213.4" r="2.0"/><circle cx="374.3" cy="160.7" r="2.0"/><circle cx="228.1" cy="116.1" r="2.0"/><circle cx="352.2" cy="156" r="2.0"/><circle cx="195.7" cy="116.2" r="2.0"/><circle cx="292.6" cy="161.6" r="2.0"/><circle cx="457.7" cy="120.4" r="2.0"/><circle cx="254.3" cy="167.1" r="2.0"/><circle cx="463" cy="132.4" r="2.0"/><circle cx="543.1" cy="129.4" r="2.0"/><circle cx="450.1" cy="134.3" r="2.0"/><circle cx="361.2" cy="160.8" r="2.0"/><circle cx="317.6" cy="126.2" r="2.0"/><circle cx="141" cy="96.3" r="2.0"/><circle cx="525.9" cy="131.5" r="2.0"/><circle cx="630.9" cy="157.3" r="2.0"/><circle cx="234.7" cy="132.1" r="2.0"/><circle cx="487.1" cy="126.1" r="2.0"/><circle cx="435.2" cy="156.5" r="2.0"/><circle cx="551.7" cy="125.5" r="2.0"/><circle cx="479.8" cy="131.1" r="2.0"/><circle cx="209.6" cy="82.5" r="2.0"/><circle cx="175.7" cy="171.5" r="2.0"/><circle cx="287.7" cy="143.7" r="2.0"/><circle cx="204.1" cy="114.9" r="2.0"/><circle cx="435" cy="66.4" r="2.0"/><circle cx="149.6" cy="115.9" r="2.0"/><circle cx="475.5" cy="147.1" r="2.0"/><circle cx="536.5" cy="156.9" r="2.0"/><circle cx="123.8" cy="144.5" r="2.0"/><circle cx="593" cy="73.6" r="2.0"/><circle cx="555.9" cy="154.5" r="2.0"/><circle cx="124.5" cy="144.9" r="2.0"/><circle cx="404.6" cy="124.8" r="2.0"/><circle cx="116.2" cy="144.1" r="2.0"/><circle cx="365.4" cy="161.3" r="2.0"/><circle cx="145.8" cy="110.5" r="2.0"/><circle cx="420.3" cy="161.4" r="2.0"/><circle cx="143.6" cy="157.7" r="2.0"/><circle cx="150.3" cy="105" r="2.0"/><circle cx="639.4" cy="175" r="2.0"/><circle cx="549.5" cy="115.5" r="2.0"/><circle cx="474" cy="133.4" r="2.0"/><circle cx="537.6" cy="147.4" r="2.0"/><circle cx="219.4" cy="114" r="2.0"/><circle cx="158.3" cy="83.1" r="2.0"/><circle cx="279.5" cy="144.3" r="2.0"/><circle cx="523" cy="152.6" r="2.0"/><circle cx="519.9" cy="145.9" r="2.0"/><circle cx="498.9" cy="149.6" r="2.0"/><circle cx="332.2" cy="163.9" r="2.0"/><circle cx="383" cy="165.2" r="2.0"/><circle cx="511.4" cy="217.3" r="2.0"/><circle cx="426.8" cy="123.6" r="2.0"/><circle cx="223.6" cy="130" r="2.0"/><circle cx="361.6" cy="140.5" r="2.0"/><circle cx="619.5" cy="143.6" r="2.0"/><circle cx="634" cy="134" r="2.0"/><circle cx="143.8" cy="123.7" r="2.0"/><circle cx="167.2" cy="119.9" r="2.0"/><circle cx="133" cy="87.1" r="2.0"/><circle cx="381.2" cy="141.5" r="2.0"/><circle cx="599.1" cy="145.5" r="2.0"/><circle cx="386.5" cy="120.9" r="2.0"/><circle cx="285.4" cy="148.9" r="2.0"/><circle cx="589.7" cy="134.3" r="2.0"/><circle cx="234.8" cy="150.5" r="2.0"/><circle cx="405.7" cy="145.5" r="2.0"/><circle cx="592.1" cy="158.8" r="2.0"/><circle cx="584.4" cy="156.5" r="2.0"/><circle cx="174.2" cy="114.4" r="2.0"/><circle cx="270.1" cy="148" r="2.0"/><circle cx="327.1" cy="137.4" r="2.0"/><circle cx="529.4" cy="120.3" r="2.0"/><circle cx="481.8" cy="163.3" r="2.0"/><circle cx="398.6" cy="125.7" r="2.0"/><circle cx="309.9" cy="181.5" r="2.0"/><circle cx="260" cy="135.4" r="2.0"/><circle cx="424" cy="130.4" r="2.0"/><circle cx="546.8" cy="145.2" r="2.0"/><circle cx="295.7" cy="146.2" r="2.0"/><circle cx="258.5" cy="152.9" r="2.0"/><circle cx="106.3" cy="115.3" r="2.0"/><circle cx="162.1" cy="189.5" r="2.0"/><circle cx="173.6" cy="132.6" r="2.0"/><circle cx="340.6" cy="176.7" r="2.0"/><circle cx="531.3" cy="130.7" r="2.0"/><circle cx="325.2" cy="121.6" r="2.0"/><circle cx="181.9" cy="81.2" r="2.0"/><circle cx="194" cy="94.7" r="2.0"/><circle cx="629.5" cy="158" r="2.0"/><circle cx="444.9" cy="155.4" r="2.0"/><circle cx="265.3" cy="119.2" r="2.0"/><circle cx="569.3" cy="127.4" r="2.0"/><circle cx="626.5" cy="176.3" r="2.0"/><circle cx="404.1" cy="164.7" r="2.0"/><circle cx="352.2" cy="154.2" r="2.0"/><circle cx="315.3" cy="125.3" r="2.0"/><circle cx="308.9" cy="121.9" r="2.0"/><circle cx="580.2" cy="114" r="2.0"/><circle cx="495.9" cy="149.3" r="2.0"/><circle cx="606.6" cy="238.7" r="2.0"/><circle cx="119.2" cy="88.4" r="2.0"/><circle cx="173.9" cy="104" r="2.0"/><circle cx="391.9" cy="129.9" r="2.0"/><circle cx="426.5" cy="202.5" r="2.0"/><circle cx="339.5" cy="150" r="2.0"/><circle cx="388" cy="143.3" r="2.0"/><circle cx="600.9" cy="157.7" r="2.0"/><circle cx="413.1" cy="149.8" r="2.0"/><circle cx="246.2" cy="166.3" r="2.0"/><circle cx="378.1" cy="115.3" r="2.0"/><circle cx="266" cy="137.5" r="2.0"/><circle cx="450.6" cy="166.6" r="2.0"/><circle cx="426.7" cy="124.1" r="2.0"/><circle cx="493.6" cy="135" r="2.0"/><circle cx="641.2" cy="153" r="2.0"/><circle cx="377.5" cy="146.3" r="2.0"/><circle cx="121.7" cy="174" r="2.0"/><circle cx="375.4" cy="156" r="2.0"/><circle cx="382.6" cy="137" r="2.0"/><circle cx="539.5" cy="120" r="2.0"/><circle cx="615.5" cy="149.5" r="2.0"/><circle cx="190.3" cy="94.5" r="2.0"/><circle cx="592.3" cy="126.6" r="2.0"/><circle cx="196.6" cy="103.4" r="2.0"/><circle cx="428.3" cy="125" r="2.0"/><circle cx="103.4" cy="105.6" r="2.0"/><circle cx="569.6" cy="132.7" r="2.0"/><circle cx="329.5" cy="144.6" r="2.0"/><circle cx="221.1" cy="129.4" r="2.0"/><circle cx="625.7" cy="181.8" r="2.0"/><circle cx="148.4" cy="154.8" r="2.0"/><circle cx="296.1" cy="119.3" r="2.0"/><circle cx="359.5" cy="143" r="2.0"/><circle cx="247.4" cy="145.6" r="2.0"/><circle cx="299.3" cy="115" r="2.0"/><circle cx="569" cy="120.7" r="2.0"/><circle cx="209.9" cy="110.8" r="2.0"/><circle cx="409.7" cy="124.9" r="2.0"/><circle cx="218.7" cy="122" r="2.0"/><circle cx="444.4" cy="135.4" r="2.0"/><circle cx="239.8" cy="92.7" r="2.0"/><circle cx="275.8" cy="121.9" r="2.0"/><circle cx="393.1" cy="146.8" r="2.0"/><circle cx="240.5" cy="116.7" r="2.0"/><circle cx="505.6" cy="114.3" r="2.0"/><circle cx="225.4" cy="124.3" r="2.0"/><circle cx="565.4" cy="143.5" r="2.0"/><circle cx="489.6" cy="103.7" r="2.0"/><circle cx="172.5" cy="115.3" r="2.0"/><circle cx="389.4" cy="164.5" r="2.0"/><circle cx="137.6" cy="119.2" r="2.0"/><circle cx="196.3" cy="56" r="2.0"/><circle cx="274.4" cy="128.6" r="2.0"/><circle cx="493.5" cy="118.4" r="2.0"/><circle cx="443.8" cy="177.8" r="2.0"/><circle cx="396" cy="150.7" r="2.0"/><circle cx="202" cy="125.8" r="2.0"/><circle cx="265.9" cy="145.1" r="2.0"/><circle cx="481.7" cy="113.3" r="2.0"/><circle cx="373" cy="133" r="2.0"/><circle cx="279.8" cy="180.3" r="2.0"/><circle cx="139.1" cy="73.3" r="2.0"/><circle cx="126.4" cy="152.5" r="2.0"/><circle cx="613.7" cy="163.7" r="2.0"/><circle cx="331.6" cy="139.7" r="2.0"/><circle cx="596.1" cy="143.2" r="2.0"/><circle cx="235.5" cy="220.8" r="2.0"/><circle cx="428.3" cy="119.2" r="2.0"/><circle cx="242.6" cy="126" r="2.0"/><circle cx="590.4" cy="147" r="2.0"/><circle cx="225" cy="105.2" r="2.0"/><circle cx="403.6" cy="147.3" r="2.0"/><circle cx="637" cy="140.8" r="2.0"/><circle cx="505.9" cy="131.9" r="2.0"/><circle cx="408.5" cy="128.1" r="2.0"/><circle cx="302.9" cy="155.7" r="2.0"/><circle cx="394.9" cy="145.4" r="2.0"/><circle cx="103" cy="135.5" r="2.0"/><circle cx="173.3" cy="128.8" r="2.0"/><circle cx="255.7" cy="148.3" r="2.0"/><circle cx="126.8" cy="134.6" r="2.0"/><circle cx="233" cy="99.2" r="2.0"/><circle cx="334.4" cy="128.5" r="2.0"/><circle cx="576.9" cy="122.3" r="2.0"/><circle cx="610.7" cy="148.8" r="2.0"/><circle cx="112.3" cy="106.1" r="2.0"/><circle cx="356" cy="114.9" r="2.0"/><circle cx="480" cy="132.9" r="2.0"/><circle cx="518.2" cy="125.1" r="2.0"/><circle cx="189.2" cy="93.2" r="2.0"/><circle cx="104.8" cy="246.7" r="2.0"/><circle cx="239.2" cy="130.7" r="2.0"/><circle cx="275.1" cy="131.5" r="2.0"/><circle cx="204.7" cy="90.7" r="2.0"/><circle cx="223.2" cy="126" r="2.0"/><circle cx="468.1" cy="120.8" r="2.0"/><circle cx="223.8" cy="133.8" r="2.0"/><circle cx="205.6" cy="112.6" r="2.0"/><circle cx="251.1" cy="106.8" r="2.0"/><circle cx="353.5" cy="164.6" r="2.0"/><circle cx="210.8" cy="112.8" r="2.0"/><circle cx="375.8" cy="143.8" r="2.0"/><circle cx="620.6" cy="159.5" r="2.0"/><circle cx="556.7" cy="143.1" r="2.0"/><circle cx="517.7" cy="121.8" r="2.0"/><circle cx="623.7" cy="177.6" r="2.0"/><circle cx="612.2" cy="178.2" r="2.0"/><circle cx="407.6" cy="132.9" r="2.0"/><circle cx="484.6" cy="156.1" r="2.0"/><circle cx="296.5" cy="134.3" r="2.0"/><circle cx="399.5" cy="140.9" r="2.0"/><circle cx="611.6" cy="167.1" r="2.0"/><circle cx="382.5" cy="147.5" r="2.0"/><circle cx="334.5" cy="143.9" r="2.0"/><circle cx="466" cy="130.6" r="2.0"/><circle cx="358.8" cy="152.8" r="2.0"/><circle cx="153.6" cy="119.1" r="2.0"/><circle cx="311.1" cy="166.6" r="2.0"/><circle cx="176.2" cy="113.7" r="2.0"/><circle cx="608.3" cy="187" r="2.0"/><circle cx="511.9" cy="134.6" r="2.0"/><circle cx="344.6" cy="145.5" r="2.0"/><circle cx="140.1" cy="64.4" r="2.0"/><circle cx="163.5" cy="80.3" r="2.0"/><circle cx="246.4" cy="137.2" r="2.0"/><circle cx="391.7" cy="125.8" r="2.0"/><circle cx="159.7" cy="105.7" r="2.0"/><circle cx="302.2" cy="161.5" r="2.0"/><circle cx="201.3" cy="166.3" r="2.0"/><circle cx="158.6" cy="91.6" r="2.0"/><circle cx="167.8" cy="100.8" r="2.0"/><circle cx="167.7" cy="157.1" r="2.0"/><circle cx="562.1" cy="125.1" r="2.0"/><circle cx="200.8" cy="88.5" r="2.0"/><circle cx="162.7" cy="128.4" r="2.0"/><circle cx="561.8" cy="122.5" r="2.0"/><circle cx="634" cy="193.3" r="2.0"/><circle cx="508.2" cy="138.3" r="2.0"/><circle cx="141.3" cy="119.3" r="2.0"/><circle cx="175.9" cy="89.5" r="2.0"/><circle cx="181.6" cy="99.2" r="2.0"/><circle cx="155.1" cy="109.3" r="2.0"/><circle cx="367.4" cy="124" r="2.0"/><circle cx="131.9" cy="153.5" r="2.0"/><circle cx="541.8" cy="107.6" r="2.0"/><circle cx="328.7" cy="149.1" r="2.0"/><circle cx="209.2" cy="93.4" r="2.0"/><circle cx="152.4" cy="115.7" r="2.0"/><circle cx="416.6" cy="146.4" r="2.0"/><circle cx="532.5" cy="123.4" r="2.0"/><circle cx="424.1" cy="134.5" r="2.0"/><circle cx="232.7" cy="96.1" r="2.0"/><circle cx="546.3" cy="115.1" r="2.0"/><circle cx="386.2" cy="152.3" r="2.0"/><circle cx="425.5" cy="133.5" r="2.0"/><circle cx="604.4" cy="151.1" r="2.0"/><circle cx="475.5" cy="151.7" r="2.0"/><circle cx="165.6" cy="137.8" r="2.0"/><circle cx="486.1" cy="132.4" r="2.0"/><circle cx="261.9" cy="148.5" r="2.0"/><circle cx="539.1" cy="156.8" r="2.0"/><circle cx="412.8" cy="143.9" r="2.0"/><circle cx="400.8" cy="138.7" r="2.0"/><circle cx="179.3" cy="106.3" r="2.0"/><circle cx="115.9" cy="202" r="2.0"/><circle cx="641.6" cy="175.8" r="2.0"/><circle cx="117.7" cy="88.5" r="2.0"/><circle cx="129.6" cy="161.9" r="2.0"/><circle cx="355.2" cy="148.6" r="2.0"/><circle cx="620.9" cy="215.3" r="2.0"/><circle cx="401.2" cy="136.5" r="2.0"/><circle cx="651.3" cy="177.3" r="2.0"/><circle cx="498" cy="168.7" r="2.0"/><circle cx="556.1" cy="130.1" r="2.0"/><circle cx="555.4" cy="159" r="2.0"/><circle cx="624" cy="160.9" r="2.0"/><circle cx="638.4" cy="180" r="2.0"/><circle cx="282.6" cy="169.7" r="2.0"/><circle cx="493.8" cy="107.8" r="2.0"/><circle cx="382.9" cy="144.7" r="2.0"/><circle cx="643.8" cy="150" r="2.0"/><circle cx="428.9" cy="129.7" r="2.0"/><circle cx="322.8" cy="156.2" r="2.0"/><circle cx="119.6" cy="140.9" r="2.0"/><circle cx="505.2" cy="141.3" r="2.0"/><circle cx="107.9" cy="110.9" r="2.0"/><circle cx="460.6" cy="133" r="2.0"/><circle cx="247.8" cy="142.8" r="2.0"/><circle cx="475.6" cy="110.1" r="2.0"/><circle cx="651.1" cy="159.3" r="2.0"/><circle cx="294.2" cy="230.7" r="2.0"/><circle cx="409.9" cy="156.1" r="2.0"/><circle cx="409.5" cy="135.7" r="2.0"/><circle cx="191.2" cy="144.5" r="2.0"/><circle cx="510.2" cy="127.1" r="2.0"/><circle cx="490.9" cy="152.6" r="2.0"/><circle cx="528.8" cy="130.9" r="2.0"/><circle cx="223.3" cy="127.8" r="2.0"/><circle cx="138.4" cy="117.8" r="2.0"/><circle cx="319.3" cy="137.7" r="2.0"/><circle cx="165.9" cy="113.2" r="2.0"/><circle cx="254.4" cy="140.1" r="2.0"/><circle cx="110.2" cy="220.1" r="2.0"/><circle cx="324" cy="176.3" r="2.0"/><circle cx="300.9" cy="121.1" r="2.0"/><circle cx="281.8" cy="131.5" r="2.0"/><circle cx="314.7" cy="169.1" r="2.0"/><circle cx="123.2" cy="66.4" r="2.0"/><circle cx="342.1" cy="155.8" r="2.0"/><circle cx="463.5" cy="199.9" r="2.0"/></g></g><clipPath id="c353"><rect x="59.5" y="353.4" width="646.0" height="198.60000000000002"/></clipPath><g clip-path="url(#c353)"><g fill="#2f72b0" fill-opacity="0.5" stroke="#22568c" stroke-opacity="0.5" stroke-width="1" filter="url(#bl)"><circle cx="240.7" cy="425.2" r="2.0"/><circle cx="260.8" cy="428.3" r="2.0"/><circle cx="541.8" cy="466.3" r="2.0"/><circle cx="148.2" cy="455" r="2.0"/><circle cx="425.1" cy="518.1" r="2.0"/><circle cx="495.1" cy="470.8" r="2.0"/><circle cx="200.5" cy="432.6" r="2.0"/><circle cx="128.1" cy="516.7" r="2.0"/><circle cx="247.9" cy="483.8" r="2.0"/><circle cx="456.4" cy="484.8" r="2.0"/><circle cx="404.5" cy="492.5" r="2.0"/><circle cx="179.9" cy="466.4" r="2.0"/><circle cx="333.9" cy="461.1" r="2.0"/><circle cx="462.8" cy="508.5" r="2.0"/><circle cx="328.5" cy="449.3" r="2.0"/><circle cx="443.2" cy="456.9" r="2.0"/><circle cx="625.3" cy="461.4" r="2.0"/><circle cx="470.3" cy="525.4" r="2.0"/><circle cx="311.5" cy="464.8" r="2.0"/><circle cx="200.1" cy="472.9" r="2.0"/><circle cx="286.6" cy="452" r="2.0"/><circle cx="376.6" cy="452.6" r="2.0"/><circle cx="583.8" cy="462.4" r="2.0"/><circle cx="520.8" cy="495.6" r="2.0"/><circle cx="271.5" cy="419.8" r="2.0"/><circle cx="601.8" cy="424.2" r="2.0"/><circle cx="354.7" cy="480.1" r="2.0"/><circle cx="476.2" cy="446.3" r="2.0"/><circle cx="156.5" cy="524.2" r="2.0"/><circle cx="155.1" cy="538.4" r="2.0"/><circle cx="208.1" cy="443.1" r="2.0"/><circle cx="580.1" cy="439" r="2.0"/><circle cx="468.6" cy="436.9" r="2.0"/><circle cx="560.9" cy="454.1" r="2.0"/><circle cx="449.3" cy="479.2" r="2.0"/><circle cx="319.6" cy="474.9" r="2.0"/><circle cx="379.6" cy="443.3" r="2.0"/><circle cx="421.5" cy="422.9" r="2.0"/><circle cx="567.9" cy="474.2" r="2.0"/><circle cx="336.9" cy="467.7" r="2.0"/><circle cx="584.3" cy="437.5" r="2.0"/><circle cx="432.6" cy="525.5" r="2.0"/><circle cx="550.1" cy="445.2" r="2.0"/><circle cx="369.5" cy="466.2" r="2.0"/><circle cx="475.5" cy="526.7" r="2.0"/><circle cx="282.9" cy="435.2" r="2.0"/><circle cx="383" cy="435.9" r="2.0"/><circle cx="215.9" cy="434.6" r="2.0"/><circle cx="153" cy="416.5" r="2.0"/><circle cx="119.1" cy="389.2" r="2.0"/><circle cx="480.6" cy="495.9" r="2.0"/><circle cx="346.8" cy="459.3" r="2.0"/><circle cx="587.3" cy="512.9" r="2.0"/><circle cx="553.2" cy="436.4" r="2.0"/><circle cx="308" cy="453.2" r="2.0"/><circle cx="628.7" cy="428.6" r="2.0"/><circle cx="420.8" cy="515.4" r="2.0"/><circle cx="515.5" cy="452.6" r="2.0"/><circle cx="320" cy="444.5" r="2.0"/><circle cx="205" cy="514.3" r="2.0"/><circle cx="191.7" cy="431.3" r="2.0"/><circle cx="196.8" cy="501.3" r="2.0"/><circle cx="427.2" cy="453.1" r="2.0"/><circle cx="159.5" cy="499.3" r="2.0"/><circle cx="108.9" cy="434.4" r="2.0"/><circle cx="552.1" cy="406" r="2.0"/><circle cx="152.3" cy="500.9" r="2.0"/><circle cx="343.6" cy="376.9" r="2.0"/><circle cx="364.3" cy="419.6" r="2.0"/><circle cx="436.1" cy="472.2" r="2.0"/><circle cx="372.8" cy="456.8" r="2.0"/><circle cx="608.9" cy="460.9" r="2.0"/><circle cx="507" cy="445.1" r="2.0"/><circle cx="411.2" cy="409.5" r="2.0"/><circle cx="434.5" cy="421" r="2.0"/><circle cx="374.2" cy="398.4" r="2.0"/><circle cx="623.9" cy="458.2" r="2.0"/><circle cx="221.6" cy="422.8" r="2.0"/><circle cx="473.6" cy="482.5" r="2.0"/><circle cx="400.6" cy="429.1" r="2.0"/><circle cx="121" cy="402.7" r="2.0"/><circle cx="259.5" cy="384.2" r="2.0"/><circle cx="603.4" cy="495.4" r="2.0"/><circle cx="525.7" cy="537.8" r="2.0"/><circle cx="105.1" cy="434.5" r="2.0"/><circle cx="259.7" cy="483.6" r="2.0"/><circle cx="103.4" cy="439.4" r="2.0"/><circle cx="549" cy="439.6" r="2.0"/><circle cx="158.2" cy="471.3" r="2.0"/><circle cx="129.4" cy="442.1" r="2.0"/><circle cx="633.2" cy="484.8" r="2.0"/><circle cx="341.1" cy="446.8" r="2.0"/><circle cx="271.6" cy="420.2" r="2.0"/><circle cx="124.8" cy="426" r="2.0"/><circle cx="310.4" cy="512.2" r="2.0"/><circle cx="297.6" cy="502" r="2.0"/><circle cx="383.4" cy="474.1" r="2.0"/><circle cx="101.8" cy="435.3" r="2.0"/><circle cx="178.7" cy="491.5" r="2.0"/><circle cx="212.5" cy="445.4" r="2.0"/><circle cx="338.2" cy="430.9" r="2.0"/><circle cx="262.8" cy="437.2" r="2.0"/><circle cx="432.3" cy="463.1" r="2.0"/><circle cx="253.6" cy="516.2" r="2.0"/><circle cx="593.8" cy="443.2" r="2.0"/><circle cx="622.3" cy="520.6" r="2.0"/><circle cx="130.5" cy="439.2" r="2.0"/><circle cx="212" cy="477" r="2.0"/><circle cx="404.9" cy="490.3" r="2.0"/><circle cx="518.1" cy="375.9" r="2.0"/><circle cx="133" cy="450.6" r="2.0"/><circle cx="198.8" cy="462.1" r="2.0"/><circle cx="347" cy="414.7" r="2.0"/><circle cx="462.5" cy="448.3" r="2.0"/><circle cx="590.4" cy="426.1" r="2.0"/><circle cx="570.6" cy="452.6" r="2.0"/><circle cx="530.7" cy="452.9" r="2.0"/><circle cx="126.8" cy="430.1" r="2.0"/><circle cx="630.3" cy="440.9" r="2.0"/><circle cx="433" cy="482.5" r="2.0"/><circle cx="145" cy="469.2" r="2.0"/><circle cx="237" cy="369.7" r="2.0"/><circle cx="436.4" cy="432.8" r="2.0"/><circle cx="308.3" cy="421.5" r="2.0"/><circle cx="341.5" cy="454.9" r="2.0"/><circle cx="536.6" cy="391.2" r="2.0"/><circle cx="547.2" cy="466.1" r="2.0"/><circle cx="396.1" cy="424.5" r="2.0"/><circle cx="530" cy="383.3" r="2.0"/><circle cx="319.4" cy="529.3" r="2.0"/><circle cx="629.2" cy="466.6" r="2.0"/><circle cx="427.9" cy="432.2" r="2.0"/><circle cx="625.5" cy="445.3" r="2.0"/><circle cx="122.1" cy="462.9" r="2.0"/><circle cx="579.1" cy="466.3" r="2.0"/><circle cx="402.9" cy="499" r="2.0"/><circle cx="487" cy="423.7" r="2.0"/><circle cx="203.1" cy="490.6" r="2.0"/><circle cx="397.1" cy="445.6" r="2.0"/><circle cx="255.7" cy="463.1" r="2.0"/><circle cx="155.6" cy="434.3" r="2.0"/><circle cx="99.8" cy="503.8" r="2.0"/><circle cx="592.3" cy="474.1" r="2.0"/><circle cx="463.7" cy="420.6" r="2.0"/><circle cx="209.8" cy="491.8" r="2.0"/><circle cx="238.6" cy="526.6" r="2.0"/><circle cx="351.8" cy="453" r="2.0"/><circle cx="544" cy="517.3" r="2.0"/><circle cx="162.2" cy="438.7" r="2.0"/><circle cx="625.5" cy="393" r="2.0"/><circle cx="612.5" cy="432.1" r="2.0"/><circle cx="231.4" cy="465.4" r="2.0"/><circle cx="447.3" cy="393.3" r="2.0"/><circle cx="294.3" cy="430.3" r="2.0"/><circle cx="478.1" cy="460.2" r="2.0"/><circle cx="145.5" cy="462.5" r="2.0"/><circle cx="354.2" cy="513.7" r="2.0"/><circle cx="418.8" cy="468.1" r="2.0"/><circle cx="439.5" cy="521.4" r="2.0"/><circle cx="475.6" cy="451" r="2.0"/><circle cx="583.9" cy="454.2" r="2.0"/><circle cx="229.6" cy="436" r="2.0"/><circle cx="181.6" cy="402.2" r="2.0"/><circle cx="311" cy="464.1" r="2.0"/><circle cx="408.1" cy="413" r="2.0"/><circle cx="621.6" cy="494" r="2.0"/><circle cx="485.3" cy="453.5" r="2.0"/><circle cx="500.5" cy="428.4" r="2.0"/><circle cx="628.2" cy="385" r="2.0"/><circle cx="244" cy="493.2" r="2.0"/><circle cx="239.5" cy="466.5" r="2.0"/><circle cx="328.4" cy="454" r="2.0"/><circle cx="259.1" cy="461.6" r="2.0"/><circle cx="452.9" cy="488.6" r="2.0"/><circle cx="616.8" cy="510" r="2.0"/><circle cx="181.8" cy="497.2" r="2.0"/><circle cx="380.4" cy="461.1" r="2.0"/><circle cx="467.4" cy="500.9" r="2.0"/><circle cx="366.9" cy="402.5" r="2.0"/><circle cx="596.1" cy="425.6" r="2.0"/><circle cx="499.7" cy="518.7" r="2.0"/><circle cx="578.9" cy="507.8" r="2.0"/><circle cx="159" cy="381.2" r="2.0"/><circle cx="204.8" cy="412.8" r="2.0"/><circle cx="133.9" cy="532.5" r="2.0"/><circle cx="550.1" cy="503.7" r="2.0"/><circle cx="622.8" cy="470.1" r="2.0"/><circle cx="105.7" cy="418.2" r="2.0"/><circle cx="528.2" cy="455.3" r="2.0"/><circle cx="494.7" cy="487.4" r="2.0"/><circle cx="593" cy="514.2" r="2.0"/><circle cx="245.4" cy="423.8" r="2.0"/><circle cx="487.6" cy="454.2" r="2.0"/><circle cx="227.5" cy="450.8" r="2.0"/><circle cx="139.5" cy="424.6" r="2.0"/><circle cx="504.2" cy="476.4" r="2.0"/><circle cx="121.1" cy="487.5" r="2.0"/><circle cx="479.4" cy="434.4" r="2.0"/><circle cx="252.6" cy="496.5" r="2.0"/><circle cx="363.7" cy="442.9" r="2.0"/><circle cx="584" cy="481.7" r="2.0"/><circle cx="230.7" cy="533.1" r="2.0"/><circle cx="353.3" cy="496.3" r="2.0"/><circle cx="291.6" cy="422.8" r="2.0"/><circle cx="201.8" cy="449.7" r="2.0"/><circle cx="356.2" cy="454.8" r="2.0"/><circle cx="197.1" cy="486" r="2.0"/><circle cx="533.5" cy="463.6" r="2.0"/><circle cx="433.2" cy="393.4" r="2.0"/><circle cx="252.4" cy="496.7" r="2.0"/><circle cx="628.4" cy="469.9" r="2.0"/><circle cx="286.3" cy="463" r="2.0"/><circle cx="463.9" cy="419.8" r="2.0"/><circle cx="497.7" cy="501.6" r="2.0"/><circle cx="242.6" cy="520.4" r="2.0"/><circle cx="104.5" cy="509" r="2.0"/><circle cx="584.5" cy="438.2" r="2.0"/><circle cx="619.3" cy="433.3" r="2.0"/><circle cx="190.9" cy="517.6" r="2.0"/><circle cx="181.8" cy="426.5" r="2.0"/><circle cx="333.9" cy="505.7" r="2.0"/><circle cx="423.8" cy="496.8" r="2.0"/><circle cx="637.1" cy="461.5" r="2.0"/><circle cx="623.2" cy="386.8" r="2.0"/><circle cx="636.5" cy="465.8" r="2.0"/><circle cx="231.9" cy="464.6" r="2.0"/><circle cx="424.5" cy="485.7" r="2.0"/><circle cx="335.6" cy="504.1" r="2.0"/><circle cx="224.2" cy="482.7" r="2.0"/><circle cx="133.7" cy="510.6" r="2.0"/><circle cx="190" cy="440.1" r="2.0"/><circle cx="293.4" cy="486.2" r="2.0"/><circle cx="146.1" cy="417.6" r="2.0"/><circle cx="180.2" cy="509.5" r="2.0"/><circle cx="122.4" cy="514.2" r="2.0"/><circle cx="437.6" cy="487.2" r="2.0"/><circle cx="366.6" cy="487.4" r="2.0"/><circle cx="230.8" cy="449.9" r="2.0"/><circle cx="384.9" cy="430.6" r="2.0"/><circle cx="329.4" cy="460.5" r="2.0"/><circle cx="457.3" cy="470.5" r="2.0"/><circle cx="606.4" cy="395.9" r="2.0"/><circle cx="290.6" cy="443.1" r="2.0"/><circle cx="449.7" cy="497.3" r="2.0"/><circle cx="217.4" cy="482.9" r="2.0"/><circle cx="610.3" cy="405.5" r="2.0"/><circle cx="434.7" cy="448.7" r="2.0"/><circle cx="184.6" cy="433" r="2.0"/><circle cx="238.2" cy="394.7" r="2.0"/><circle cx="184.8" cy="478.1" r="2.0"/><circle cx="195.7" cy="447.3" r="2.0"/><circle cx="265.3" cy="480.4" r="2.0"/><circle cx="546.6" cy="459.4" r="2.0"/><circle cx="347.2" cy="525.4" r="2.0"/><circle cx="249.1" cy="388.7" r="2.0"/><circle cx="326.5" cy="454.6" r="2.0"/><circle cx="243.8" cy="454.7" r="2.0"/><circle cx="497.9" cy="425.8" r="2.0"/><circle cx="130.1" cy="478" r="2.0"/><circle cx="255.7" cy="499.6" r="2.0"/><circle cx="274.3" cy="446.7" r="2.0"/><circle cx="197" cy="494.9" r="2.0"/><circle cx="500.4" cy="453.4" r="2.0"/><circle cx="196.3" cy="441.2" r="2.0"/><circle cx="261.8" cy="487.1" r="2.0"/><circle cx="128.9" cy="463.2" r="2.0"/><circle cx="509.9" cy="492.2" r="2.0"/><circle cx="296.4" cy="438.1" r="2.0"/><circle cx="455.6" cy="505.6" r="2.0"/><circle cx="216.5" cy="454.1" r="2.0"/><circle cx="110" cy="458.9" r="2.0"/><circle cx="273.8" cy="493.5" r="2.0"/><circle cx="522.7" cy="464.1" r="2.0"/><circle cx="554.5" cy="387.6" r="2.0"/><circle cx="288.2" cy="425.8" r="2.0"/><circle cx="559.7" cy="470.6" r="2.0"/><circle cx="125.5" cy="472.4" r="2.0"/><circle cx="382.6" cy="534.3" r="2.0"/><circle cx="238.4" cy="408.3" r="2.0"/><circle cx="337.4" cy="462" r="2.0"/><circle cx="218.9" cy="448.7" r="2.0"/><circle cx="585.1" cy="465.7" r="2.0"/><circle cx="262.8" cy="481.8" r="2.0"/><circle cx="613.3" cy="521" r="2.0"/><circle cx="157.5" cy="506.5" r="2.0"/><circle cx="332.3" cy="468.1" r="2.0"/><circle cx="339.8" cy="467.5" r="2.0"/><circle cx="484.7" cy="396.6" r="2.0"/><circle cx="286.1" cy="470.2" r="2.0"/><circle cx="366.5" cy="449" r="2.0"/><circle cx="136.5" cy="470.6" r="2.0"/><circle cx="267.6" cy="422" r="2.0"/><circle cx="493.2" cy="468.7" r="2.0"/><circle cx="155.8" cy="390.1" r="2.0"/><circle cx="350.2" cy="467.8" r="2.0"/><circle cx="227.1" cy="434.8" r="2.0"/><circle cx="188.3" cy="534.3" r="2.0"/><circle cx="164.2" cy="467" r="2.0"/><circle cx="541.6" cy="432.3" r="2.0"/><circle cx="472.3" cy="457.4" r="2.0"/><circle cx="304.9" cy="495.8" r="2.0"/><circle cx="311.5" cy="480.7" r="2.0"/><circle cx="495.1" cy="448.8" r="2.0"/><circle cx="427.2" cy="402.7" r="2.0"/><circle cx="597.3" cy="475" r="2.0"/><circle cx="599.2" cy="442.1" r="2.0"/><circle cx="360.9" cy="485" r="2.0"/><circle cx="457.3" cy="451.2" r="2.0"/><circle cx="394.9" cy="500.8" r="2.0"/><circle cx="267.2" cy="484.4" r="2.0"/><circle cx="345.2" cy="459.6" r="2.0"/><circle cx="491.1" cy="483.2" r="2.0"/><circle cx="399.3" cy="468" r="2.0"/><circle cx="442.7" cy="427.3" r="2.0"/><circle cx="363.5" cy="463.4" r="2.0"/><circle cx="617.4" cy="394.5" r="2.0"/><circle cx="521.2" cy="425.4" r="2.0"/><circle cx="169.4" cy="476.3" r="2.0"/><circle cx="541.8" cy="422.8" r="2.0"/><circle cx="598.2" cy="461.9" r="2.0"/><circle cx="543.2" cy="487.5" r="2.0"/><circle cx="285.1" cy="436.4" r="2.0"/><circle cx="298.6" cy="384.2" r="2.0"/><circle cx="230.6" cy="427.5" r="2.0"/><circle cx="128.4" cy="470.7" r="2.0"/><circle cx="355.4" cy="488.4" r="2.0"/><circle cx="561.6" cy="512.3" r="2.0"/><circle cx="517.1" cy="481.1" r="2.0"/><circle cx="459" cy="471.1" r="2.0"/><circle cx="559.8" cy="436.2" r="2.0"/><circle cx="457.3" cy="449.2" r="2.0"/><circle cx="219.8" cy="477.3" r="2.0"/><circle cx="535.8" cy="431.3" r="2.0"/><circle cx="298.4" cy="535.6" r="2.0"/><circle cx="583.2" cy="492.7" r="2.0"/><circle cx="276" cy="539.5" r="2.0"/><circle cx="148.2" cy="494" r="2.0"/><circle cx="495.9" cy="467.5" r="2.0"/><circle cx="156.8" cy="486.3" r="2.0"/><circle cx="572.3" cy="483.6" r="2.0"/><circle cx="322.6" cy="417" r="2.0"/><circle cx="523.2" cy="505.9" r="2.0"/><circle cx="126.7" cy="492.2" r="2.0"/><circle cx="394.5" cy="476.2" r="2.0"/><circle cx="467" cy="420.9" r="2.0"/><circle cx="168.7" cy="444.1" r="2.0"/><circle cx="429.7" cy="467.9" r="2.0"/><circle cx="176" cy="471.1" r="2.0"/><circle cx="263.8" cy="467.9" r="2.0"/><circle cx="297.2" cy="443.7" r="2.0"/><circle cx="435.8" cy="488.7" r="2.0"/><circle cx="169" cy="534" r="2.0"/><circle cx="198.8" cy="527.3" r="2.0"/><circle cx="523.9" cy="408.1" r="2.0"/><circle cx="488.2" cy="461.4" r="2.0"/><circle cx="345.6" cy="415.4" r="2.0"/><circle cx="251.8" cy="456.4" r="2.0"/><circle cx="475.3" cy="401.3" r="2.0"/><circle cx="353.1" cy="509.9" r="2.0"/><circle cx="267.9" cy="524.4" r="2.0"/><circle cx="574.8" cy="447.1" r="2.0"/><circle cx="208.1" cy="433.2" r="2.0"/><circle cx="536.4" cy="482.6" r="2.0"/><circle cx="434.8" cy="404" r="2.0"/><circle cx="450.1" cy="455.6" r="2.0"/><circle cx="469.8" cy="456.6" r="2.0"/><circle cx="505.9" cy="406.6" r="2.0"/><circle cx="578.2" cy="529.8" r="2.0"/><circle cx="599.8" cy="442.2" r="2.0"/><circle cx="237.3" cy="448.3" r="2.0"/><circle cx="187.4" cy="458.1" r="2.0"/><circle cx="586.6" cy="444.2" r="2.0"/><circle cx="209.2" cy="425" r="2.0"/><circle cx="219.1" cy="400.5" r="2.0"/><circle cx="536.9" cy="434.4" r="2.0"/><circle cx="624.6" cy="411.9" r="2.0"/><circle cx="558.4" cy="426.6" r="2.0"/><circle cx="379.7" cy="440.2" r="2.0"/><circle cx="302.8" cy="436.6" r="2.0"/><circle cx="636.8" cy="385.7" r="2.0"/><circle cx="499.2" cy="474.5" r="2.0"/><circle cx="440.9" cy="427.6" r="2.0"/><circle cx="104.2" cy="411.7" r="2.0"/><circle cx="204.5" cy="444" r="2.0"/><circle cx="105.4" cy="472.9" r="2.0"/><circle cx="592.4" cy="462.8" r="2.0"/><circle cx="227" cy="431.3" r="2.0"/><circle cx="191.3" cy="394.3" r="2.0"/><circle cx="415.6" cy="433.2" r="2.0"/><circle cx="208.8" cy="474.7" r="2.0"/><circle cx="395.9" cy="438.3" r="2.0"/><circle cx="615.7" cy="536.4" r="2.0"/><circle cx="568.9" cy="381.9" r="2.0"/><circle cx="231.7" cy="439" r="2.0"/><circle cx="597.4" cy="456.7" r="2.0"/><circle cx="315.7" cy="460.2" r="2.0"/><circle cx="383.1" cy="395.1" r="2.0"/><circle cx="275.2" cy="491.2" r="2.0"/><circle cx="643" cy="472.9" r="2.0"/><circle cx="265.4" cy="411.3" r="2.0"/><circle cx="499.9" cy="385.2" r="2.0"/><circle cx="435.9" cy="454.6" r="2.0"/><circle cx="473.5" cy="427.9" r="2.0"/><circle cx="154.8" cy="507.2" r="2.0"/><circle cx="390.6" cy="452.8" r="2.0"/><circle cx="641.5" cy="463.9" r="2.0"/><circle cx="405" cy="516.5" r="2.0"/><circle cx="205.3" cy="445.6" r="2.0"/><circle cx="126.7" cy="436.7" r="2.0"/><circle cx="277.9" cy="403" r="2.0"/><circle cx="504.4" cy="470.1" r="2.0"/><circle cx="111.6" cy="539.8" r="2.0"/><circle cx="124.6" cy="424.1" r="2.0"/><circle cx="456.1" cy="373.1" r="2.0"/><circle cx="578.7" cy="419.1" r="2.0"/><circle cx="337.2" cy="538.3" r="2.0"/><circle cx="438.3" cy="373.4" r="2.0"/><circle cx="238.3" cy="484.8" r="2.0"/><circle cx="246.6" cy="490.2" r="2.0"/><circle cx="356.9" cy="472.3" r="2.0"/><circle cx="217.5" cy="475.4" r="2.0"/><circle cx="345.4" cy="429" r="2.0"/><circle cx="179" cy="470.9" r="2.0"/><circle cx="601.6" cy="479.6" r="2.0"/><circle cx="451.2" cy="427" r="2.0"/><circle cx="149.4" cy="508.2" r="2.0"/><circle cx="203.3" cy="484.6" r="2.0"/><circle cx="550" cy="473.2" r="2.0"/><circle cx="301" cy="469.5" r="2.0"/><circle cx="239.8" cy="453.8" r="2.0"/><circle cx="110.8" cy="382.3" r="2.0"/><circle cx="466.1" cy="418.3" r="2.0"/><circle cx="408.9" cy="424.4" r="2.0"/><circle cx="556.1" cy="502" r="2.0"/><circle cx="190.6" cy="457.7" r="2.0"/><circle cx="508.1" cy="430.6" r="2.0"/><circle cx="548.8" cy="460.6" r="2.0"/><circle cx="547.2" cy="482.2" r="2.0"/><circle cx="504.8" cy="405.6" r="2.0"/><circle cx="339.2" cy="514.1" r="2.0"/><circle cx="123.9" cy="458.3" r="2.0"/><circle cx="449.2" cy="476.8" r="2.0"/><circle cx="112.1" cy="522.9" r="2.0"/><circle cx="144.9" cy="470.7" r="2.0"/><circle cx="321.1" cy="456.5" r="2.0"/><circle cx="163.9" cy="412.7" r="2.0"/><circle cx="344.4" cy="520.6" r="2.0"/><circle cx="561.9" cy="434.9" r="2.0"/><circle cx="193" cy="455.7" r="2.0"/><circle cx="533.1" cy="424.6" r="2.0"/><circle cx="641.7" cy="519.9" r="2.0"/><circle cx="118.4" cy="473.3" r="2.0"/><circle cx="328.7" cy="478.5" r="2.0"/><circle cx="483.7" cy="440.8" r="2.0"/><circle cx="496.8" cy="377.9" r="2.0"/><circle cx="250.6" cy="475.3" r="2.0"/><circle cx="539" cy="495.3" r="2.0"/><circle cx="300.4" cy="497" r="2.0"/><circle cx="207.5" cy="488.8" r="2.0"/><circle cx="380.3" cy="428.7" r="2.0"/><circle cx="431.9" cy="493" r="2.0"/><circle cx="554.6" cy="383.7" r="2.0"/><circle cx="459.9" cy="450.2" r="2.0"/><circle cx="143.4" cy="473.8" r="2.0"/><circle cx="411.4" cy="482.3" r="2.0"/><circle cx="285.6" cy="442.6" r="2.0"/><circle cx="482.3" cy="469.5" r="2.0"/><circle cx="122.6" cy="472.9" r="2.0"/><circle cx="456.3" cy="477.1" r="2.0"/><circle cx="529.5" cy="539.1" r="2.0"/><circle cx="120" cy="484.3" r="2.0"/><circle cx="106.5" cy="453.5" r="2.0"/><circle cx="584.2" cy="415.9" r="2.0"/><circle cx="586.1" cy="480.8" r="2.0"/><circle cx="194.3" cy="479.5" r="2.0"/><circle cx="600.8" cy="479.8" r="2.0"/><circle cx="319.7" cy="440.2" r="2.0"/><circle cx="381" cy="438.9" r="2.0"/><circle cx="354.7" cy="414.2" r="2.0"/><circle cx="280.7" cy="437" r="2.0"/><circle cx="580" cy="518.1" r="2.0"/><circle cx="430.8" cy="445.1" r="2.0"/><circle cx="606.3" cy="535.4" r="2.0"/><circle cx="437.1" cy="441.6" r="2.0"/><circle cx="602.1" cy="453.9" r="2.0"/><circle cx="378.9" cy="393.6" r="2.0"/><circle cx="356.9" cy="415.8" r="2.0"/><circle cx="409.4" cy="485.4" r="2.0"/><circle cx="101.3" cy="446.9" r="2.0"/><circle cx="516.4" cy="431.5" r="2.0"/><circle cx="174.2" cy="524.7" r="2.0"/><circle cx="612.5" cy="488.3" r="2.0"/><circle cx="122.2" cy="447.6" r="2.0"/><circle cx="484" cy="438.9" r="2.0"/><circle cx="517" cy="453.4" r="2.0"/><circle cx="393.3" cy="422.4" r="2.0"/><circle cx="150.3" cy="467.8" r="2.0"/><circle cx="540.3" cy="443.6" r="2.0"/><circle cx="273.1" cy="431.9" r="2.0"/><circle cx="255" cy="508.6" r="2.0"/><circle cx="475.4" cy="457.7" r="2.0"/><circle cx="627.7" cy="476.6" r="2.0"/><circle cx="150.5" cy="456.6" r="2.0"/><circle cx="335.9" cy="541.9" r="2.0"/><circle cx="465" cy="455.7" r="2.0"/><circle cx="249" cy="476.3" r="2.0"/><circle cx="602.2" cy="478.6" r="2.0"/><circle cx="426.6" cy="457.7" r="2.0"/><circle cx="139.3" cy="474.1" r="2.0"/><circle cx="182.4" cy="429.8" r="2.0"/><circle cx="176.2" cy="419.7" r="2.0"/><circle cx="346.6" cy="431.2" r="2.0"/><circle cx="594.2" cy="428.6" r="2.0"/><circle cx="159.3" cy="447.6" r="2.0"/><circle cx="180.5" cy="458.1" r="2.0"/><circle cx="213.5" cy="499.6" r="2.0"/><circle cx="410.4" cy="470.8" r="2.0"/><circle cx="332.5" cy="420.8" r="2.0"/><circle cx="326.1" cy="434.9" r="2.0"/><circle cx="177.1" cy="474.6" r="2.0"/><circle cx="547.3" cy="455.7" r="2.0"/><circle cx="359.4" cy="425.6" r="2.0"/><circle cx="569.9" cy="464.2" r="2.0"/><circle cx="114.5" cy="407.8" r="2.0"/><circle cx="347.5" cy="483" r="2.0"/><circle cx="298.9" cy="434.1" r="2.0"/><circle cx="556.6" cy="437.1" r="2.0"/><circle cx="475.3" cy="453.6" r="2.0"/><circle cx="382" cy="449.5" r="2.0"/><circle cx="186" cy="442" r="2.0"/><circle cx="470.1" cy="530.7" r="2.0"/><circle cx="586.4" cy="444.1" r="2.0"/><circle cx="521.3" cy="422.8" r="2.0"/><circle cx="625.1" cy="446.3" r="2.0"/><circle cx="420.3" cy="423" r="2.0"/><circle cx="269.1" cy="496.3" r="2.0"/><circle cx="218.5" cy="461.1" r="2.0"/><circle cx="533.7" cy="448.5" r="2.0"/><circle cx="540.5" cy="467.2" r="2.0"/><circle cx="444" cy="421.4" r="2.0"/><circle cx="524.3" cy="443.6" r="2.0"/><circle cx="362.9" cy="475.1" r="2.0"/><circle cx="562.2" cy="433.2" r="2.0"/><circle cx="476.7" cy="433.1" r="2.0"/><circle cx="229.9" cy="472.7" r="2.0"/><circle cx="418.3" cy="439.1" r="2.0"/><circle cx="455.7" cy="447" r="2.0"/><circle cx="208.6" cy="447.7" r="2.0"/><circle cx="608.1" cy="479.2" r="2.0"/><circle cx="537.1" cy="418.7" r="2.0"/><circle cx="177.3" cy="438.5" r="2.0"/><circle cx="217.9" cy="459.8" r="2.0"/><circle cx="99.2" cy="448" r="2.0"/><circle cx="610" cy="448.4" r="2.0"/><circle cx="193.1" cy="432" r="2.0"/><circle cx="552.5" cy="477.5" r="2.0"/><circle cx="376.9" cy="455.9" r="2.0"/><circle cx="129.2" cy="477.8" r="2.0"/><circle cx="213.3" cy="474.4" r="2.0"/><circle cx="238.5" cy="495.8" r="2.0"/><circle cx="514.6" cy="467.8" r="2.0"/><circle cx="298.5" cy="427.2" r="2.0"/><circle cx="175.4" cy="452.3" r="2.0"/><circle cx="613.8" cy="457.6" r="2.0"/><circle cx="378.5" cy="423.8" r="2.0"/><circle cx="134.4" cy="472.5" r="2.0"/><circle cx="628.4" cy="506.4" r="2.0"/><circle cx="466.1" cy="406.7" r="2.0"/><circle cx="338.4" cy="482.1" r="2.0"/><circle cx="177.5" cy="506.5" r="2.0"/><circle cx="476" cy="446.4" r="2.0"/><circle cx="150.9" cy="451.1" r="2.0"/><circle cx="610" cy="475.5" r="2.0"/><circle cx="507.6" cy="505.8" r="2.0"/><circle cx="486.7" cy="502.8" r="2.0"/><circle cx="517.9" cy="409.5" r="2.0"/><circle cx="568.8" cy="462.8" r="2.0"/><circle cx="353.6" cy="479.8" r="2.0"/><circle cx="540.3" cy="400.3" r="2.0"/><circle cx="158.1" cy="476.4" r="2.0"/><circle cx="479.8" cy="488.4" r="2.0"/><circle cx="507.5" cy="441.9" r="2.0"/><circle cx="213.3" cy="447.5" r="2.0"/><circle cx="158.8" cy="409.6" r="2.0"/><circle cx="597.7" cy="508.5" r="2.0"/><circle cx="583.9" cy="450" r="2.0"/><circle cx="158" cy="512.8" r="2.0"/><circle cx="419.3" cy="444.5" r="2.0"/><circle cx="196.6" cy="479.9" r="2.0"/><circle cx="209.6" cy="522.9" r="2.0"/><circle cx="604.5" cy="482.5" r="2.0"/><circle cx="459.3" cy="397.7" r="2.0"/><circle cx="511.4" cy="441.5" r="2.0"/><circle cx="251.8" cy="461.9" r="2.0"/><circle cx="520.9" cy="467.3" r="2.0"/><circle cx="462.9" cy="475.1" r="2.0"/><circle cx="286.8" cy="442.6" r="2.0"/><circle cx="368.5" cy="427.2" r="2.0"/><circle cx="233.8" cy="492.4" r="2.0"/><circle cx="422.1" cy="501.4" r="2.0"/><circle cx="200" cy="404.9" r="2.0"/><circle cx="342.6" cy="454.5" r="2.0"/><circle cx="564.2" cy="502.7" r="2.0"/><circle cx="456.6" cy="508.7" r="2.0"/><circle cx="426.3" cy="472.6" r="2.0"/><circle cx="159.1" cy="482" r="2.0"/><circle cx="545.9" cy="467.1" r="2.0"/><circle cx="435.7" cy="495.8" r="2.0"/><circle cx="614.9" cy="384.9" r="2.0"/><circle cx="607" cy="441" r="2.0"/><circle cx="605.9" cy="516.8" r="2.0"/><circle cx="389.3" cy="444.2" r="2.0"/><circle cx="517.6" cy="536.7" r="2.0"/><circle cx="153.5" cy="470.2" r="2.0"/><circle cx="122.5" cy="466.7" r="2.0"/><circle cx="526.6" cy="425" r="2.0"/><circle cx="465" cy="442.4" r="2.0"/><circle cx="614.2" cy="498.2" r="2.0"/><circle cx="264" cy="420.7" r="2.0"/><circle cx="367.9" cy="475.2" r="2.0"/><circle cx="526.8" cy="400.7" r="2.0"/><circle cx="430" cy="490.2" r="2.0"/><circle cx="560.5" cy="532.6" r="2.0"/><circle cx="313.2" cy="456.6" r="2.0"/><circle cx="558.7" cy="421.2" r="2.0"/><circle cx="567.5" cy="443.4" r="2.0"/><circle cx="590.2" cy="454.9" r="2.0"/><circle cx="315" cy="488" r="2.0"/><circle cx="593.1" cy="430.8" r="2.0"/><circle cx="266.5" cy="519" r="2.0"/><circle cx="421.8" cy="434.8" r="2.0"/><circle cx="632.1" cy="498.6" r="2.0"/><circle cx="449.3" cy="479.3" r="2.0"/><circle cx="420.9" cy="502.3" r="2.0"/><circle cx="294.8" cy="489.5" r="2.0"/><circle cx="378" cy="413.1" r="2.0"/><circle cx="365.5" cy="498" r="2.0"/><circle cx="467.4" cy="454.5" r="2.0"/><circle cx="392.3" cy="486.2" r="2.0"/><circle cx="271.6" cy="427.9" r="2.0"/><circle cx="202.1" cy="504.1" r="2.0"/><circle cx="636.2" cy="460.7" r="2.0"/><circle cx="435.6" cy="432" r="2.0"/><circle cx="192.4" cy="388.6" r="2.0"/><circle cx="282.3" cy="498.7" r="2.0"/><circle cx="452.4" cy="518.8" r="2.0"/><circle cx="228.1" cy="490.7" r="2.0"/><circle cx="586" cy="413.7" r="2.0"/><circle cx="392.7" cy="493.8" r="2.0"/><circle cx="469.1" cy="434.8" r="2.0"/><circle cx="459.7" cy="481.2" r="2.0"/><circle cx="186.2" cy="494.4" r="2.0"/><circle cx="606.1" cy="512.1" r="2.0"/><circle cx="559" cy="457" r="2.0"/><circle cx="177.6" cy="434.9" r="2.0"/><circle cx="408.5" cy="464.6" r="2.0"/><circle cx="385.8" cy="400.8" r="2.0"/><circle cx="266.8" cy="479.4" r="2.0"/><circle cx="302.6" cy="430.4" r="2.0"/><circle cx="239.3" cy="420.3" r="2.0"/><circle cx="442.2" cy="452.6" r="2.0"/><circle cx="331.7" cy="414.1" r="2.0"/><circle cx="152.8" cy="502.2" r="2.0"/><circle cx="221.9" cy="501.1" r="2.0"/><circle cx="180.7" cy="385" r="2.0"/><circle cx="441.2" cy="440" r="2.0"/><circle cx="400.1" cy="468.1" r="2.0"/><circle cx="312" cy="464.6" r="2.0"/><circle cx="396.3" cy="544.3" r="2.0"/><circle cx="440.8" cy="447.4" r="2.0"/><circle cx="216.1" cy="528.1" r="2.0"/><circle cx="128.4" cy="524.9" r="2.0"/><circle cx="622.4" cy="475.6" r="2.0"/><circle cx="199.2" cy="413.2" r="2.0"/><circle cx="229.9" cy="474.4" r="2.0"/><circle cx="481.9" cy="449.6" r="2.0"/><circle cx="635.3" cy="475.6" r="2.0"/><circle cx="165.4" cy="448.8" r="2.0"/><circle cx="317.4" cy="515.3" r="2.0"/><circle cx="564.5" cy="393.9" r="2.0"/><circle cx="144.4" cy="492.7" r="2.0"/><circle cx="234.5" cy="443.6" r="2.0"/><circle cx="432.6" cy="466.8" r="2.0"/><circle cx="550" cy="404.4" r="2.0"/><circle cx="154" cy="447.5" r="2.0"/><circle cx="325" cy="396.9" r="2.0"/><circle cx="420.8" cy="391.6" r="2.0"/><circle cx="396.2" cy="428" r="2.0"/><circle cx="389.9" cy="467.1" r="2.0"/><circle cx="639.3" cy="462.8" r="2.0"/><circle cx="634.4" cy="419.4" r="2.0"/><circle cx="212.7" cy="490.5" r="2.0"/><circle cx="237.4" cy="437.4" r="2.0"/><circle cx="316.1" cy="398.4" r="2.0"/><circle cx="153.1" cy="404.7" r="2.0"/><circle cx="177.9" cy="426.8" r="2.0"/><circle cx="406" cy="450.4" r="2.0"/><circle cx="636" cy="492.2" r="2.0"/><circle cx="258.2" cy="414.5" r="2.0"/><circle cx="206.2" cy="390.9" r="2.0"/><circle cx="434.1" cy="421.9" r="2.0"/><circle cx="260.2" cy="471.4" r="2.0"/><circle cx="105.5" cy="460.3" r="2.0"/><circle cx="149.2" cy="460.7" r="2.0"/><circle cx="576.4" cy="441" r="2.0"/><circle cx="157.3" cy="474.8" r="2.0"/><circle cx="447.6" cy="454.8" r="2.0"/><circle cx="326.3" cy="477.4" r="2.0"/><circle cx="517.4" cy="443.5" r="2.0"/><circle cx="375.6" cy="451.4" r="2.0"/><circle cx="223.9" cy="378.7" r="2.0"/><circle cx="213.2" cy="482.9" r="2.0"/><circle cx="226.3" cy="455" r="2.0"/><circle cx="225.5" cy="459.2" r="2.0"/><circle cx="234.8" cy="498.8" r="2.0"/><circle cx="261.2" cy="458.9" r="2.0"/><circle cx="424.1" cy="491.9" r="2.0"/><circle cx="385.7" cy="437.2" r="2.0"/><circle cx="135.5" cy="482.3" r="2.0"/><circle cx="327.4" cy="451.5" r="2.0"/><circle cx="604.9" cy="527.5" r="2.0"/><circle cx="610.2" cy="444.4" r="2.0"/><circle cx="272.3" cy="439.3" r="2.0"/><circle cx="182.9" cy="490.3" r="2.0"/><circle cx="257.6" cy="401.1" r="2.0"/><circle cx="170.4" cy="472.7" r="2.0"/><circle cx="239" cy="416.2" r="2.0"/><circle cx="602.1" cy="439.3" r="2.0"/><circle cx="576.1" cy="500.9" r="2.0"/><circle cx="344.6" cy="467.3" r="2.0"/><circle cx="397.7" cy="517.6" r="2.0"/><circle cx="479.9" cy="471.1" r="2.0"/><circle cx="480.3" cy="443.2" r="2.0"/><circle cx="476.1" cy="434" r="2.0"/><circle cx="499.2" cy="464.2" r="2.0"/><circle cx="420.2" cy="411.4" r="2.0"/><circle cx="170.5" cy="455.5" r="2.0"/><circle cx="472.5" cy="480.1" r="2.0"/><circle cx="462.7" cy="450.1" r="2.0"/><circle cx="186.6" cy="424.5" r="2.0"/><circle cx="204.3" cy="454.3" r="2.0"/><circle cx="445" cy="432.7" r="2.0"/><circle cx="308.4" cy="485.5" r="2.0"/><circle cx="540" cy="476.2" r="2.0"/><circle cx="249.2" cy="449.4" r="2.0"/><circle cx="461.1" cy="395.1" r="2.0"/><circle cx="433.2" cy="427.5" r="2.0"/><circle cx="158.3" cy="383.7" r="2.0"/><circle cx="249.8" cy="458.3" r="2.0"/><circle cx="290.7" cy="420" r="2.0"/><circle cx="262.6" cy="514" r="2.0"/><circle cx="147.7" cy="442.9" r="2.0"/><circle cx="226.4" cy="526.8" r="2.0"/><circle cx="390.9" cy="420" r="2.0"/><circle cx="221.3" cy="444.1" r="2.0"/><circle cx="444.6" cy="422" r="2.0"/><circle cx="324.3" cy="446.4" r="2.0"/><circle cx="346.8" cy="476" r="2.0"/><circle cx="210.9" cy="483.2" r="2.0"/><circle cx="526.7" cy="482.1" r="2.0"/><circle cx="140.3" cy="489.5" r="2.0"/><circle cx="612.8" cy="536.9" r="2.0"/><circle cx="419.3" cy="476.5" r="2.0"/><circle cx="612.7" cy="477.3" r="2.0"/><circle cx="397.4" cy="481.8" r="2.0"/><circle cx="289.7" cy="465.9" r="2.0"/><circle cx="299.7" cy="462" r="2.0"/><circle cx="604.5" cy="474.5" r="2.0"/><circle cx="382" cy="458.8" r="2.0"/><circle cx="313" cy="509.6" r="2.0"/><circle cx="183.1" cy="408.8" r="2.0"/><circle cx="180.8" cy="451" r="2.0"/><circle cx="324.8" cy="410" r="2.0"/><circle cx="344.4" cy="449.6" r="2.0"/><circle cx="536.4" cy="465.1" r="2.0"/><circle cx="164.4" cy="456.1" r="2.0"/><circle cx="345.6" cy="451.7" r="2.0"/><circle cx="170.6" cy="480" r="2.0"/><circle cx="236.5" cy="449.7" r="2.0"/><circle cx="366.8" cy="520.3" r="2.0"/><circle cx="576" cy="428.6" r="2.0"/><circle cx="170.2" cy="475.2" r="2.0"/><circle cx="193.1" cy="441.8" r="2.0"/><circle cx="483" cy="485.4" r="2.0"/><circle cx="385.4" cy="413.6" r="2.0"/><circle cx="145.9" cy="490.8" r="2.0"/><circle cx="469.2" cy="429.8" r="2.0"/><circle cx="620.4" cy="457.6" r="2.0"/><circle cx="500.4" cy="457.3" r="2.0"/><circle cx="641.2" cy="484.4" r="2.0"/><circle cx="502.9" cy="466.6" r="2.0"/><circle cx="277.4" cy="482.8" r="2.0"/><circle cx="534.3" cy="486" r="2.0"/><circle cx="407.6" cy="443.6" r="2.0"/><circle cx="147.9" cy="531.2" r="2.0"/><circle cx="295.6" cy="469.3" r="2.0"/><circle cx="613.8" cy="393" r="2.0"/><circle cx="455" cy="458.8" r="2.0"/><circle cx="299.7" cy="481.2" r="2.0"/><circle cx="484.2" cy="415.5" r="2.0"/><circle cx="470.4" cy="437" r="2.0"/><circle cx="184.4" cy="421.9" r="2.0"/><circle cx="349.2" cy="444.2" r="2.0"/><circle cx="537.3" cy="473.4" r="2.0"/><circle cx="161.5" cy="484.5" r="2.0"/><circle cx="396.5" cy="466.9" r="2.0"/><circle cx="162.9" cy="404.6" r="2.0"/><circle cx="247.9" cy="531.2" r="2.0"/><circle cx="515.8" cy="440.3" r="2.0"/><circle cx="293" cy="411.3" r="2.0"/><circle cx="546.3" cy="432.7" r="2.0"/><circle cx="493.8" cy="430" r="2.0"/><circle cx="444.5" cy="466.6" r="2.0"/><circle cx="180" cy="422" r="2.0"/><circle cx="344.5" cy="421.1" r="2.0"/><circle cx="576.7" cy="459.3" r="2.0"/><circle cx="442.9" cy="465.6" r="2.0"/><circle cx="135.5" cy="473.5" r="2.0"/><circle cx="371.7" cy="537.2" r="2.0"/><circle cx="352.5" cy="419.6" r="2.0"/><circle cx="363.6" cy="461.6" r="2.0"/><circle cx="324" cy="485.2" r="2.0"/><circle cx="541.5" cy="472.7" r="2.0"/><circle cx="388.2" cy="475.2" r="2.0"/><circle cx="565.9" cy="516.4" r="2.0"/><circle cx="617.7" cy="418.7" r="2.0"/><circle cx="586" cy="519.1" r="2.0"/><circle cx="517.6" cy="372.4" r="2.0"/><circle cx="109.8" cy="458.5" r="2.0"/><circle cx="99.1" cy="502.3" r="2.0"/><circle cx="191.6" cy="506.2" r="2.0"/><circle cx="379.9" cy="425.6" r="2.0"/><circle cx="261.2" cy="492.8" r="2.0"/><circle cx="170.1" cy="440.9" r="2.0"/><circle cx="603.2" cy="484.4" r="2.0"/><circle cx="332.3" cy="433.7" r="2.0"/><circle cx="206.4" cy="484.7" r="2.0"/><circle cx="376.9" cy="483.7" r="2.0"/><circle cx="633.1" cy="514" r="2.0"/><circle cx="492.1" cy="420.4" r="2.0"/><circle cx="602" cy="492.1" r="2.0"/><circle cx="161.4" cy="459" r="2.0"/><circle cx="501.9" cy="461.5" r="2.0"/><circle cx="282.1" cy="401" r="2.0"/><circle cx="294.4" cy="477.1" r="2.0"/><circle cx="347" cy="433.9" r="2.0"/><circle cx="350.3" cy="393.7" r="2.0"/><circle cx="529.1" cy="539.3" r="2.0"/><circle cx="259.3" cy="418.4" r="2.0"/><circle cx="349.6" cy="443.8" r="2.0"/><circle cx="334.1" cy="451.3" r="2.0"/><circle cx="437.4" cy="442.6" r="2.0"/><circle cx="402.5" cy="469.5" r="2.0"/><circle cx="123.9" cy="474.3" r="2.0"/><circle cx="563.5" cy="449.3" r="2.0"/><circle cx="448.3" cy="464.2" r="2.0"/><circle cx="181" cy="509.5" r="2.0"/><circle cx="368.3" cy="472.2" r="2.0"/><circle cx="588.7" cy="404.4" r="2.0"/><circle cx="579.2" cy="482.8" r="2.0"/><circle cx="318.1" cy="440.9" r="2.0"/><circle cx="227.9" cy="461.1" r="2.0"/><circle cx="581.8" cy="435.2" r="2.0"/><circle cx="556.4" cy="486.3" r="2.0"/><circle cx="547.9" cy="494.2" r="2.0"/><circle cx="518.1" cy="444.4" r="2.0"/><circle cx="571.6" cy="481" r="2.0"/><circle cx="492.8" cy="459.8" r="2.0"/><circle cx="567.2" cy="404.2" r="2.0"/><circle cx="564" cy="428.1" r="2.0"/><circle cx="531.4" cy="450.6" r="2.0"/><circle cx="512.9" cy="454.3" r="2.0"/><circle cx="550.6" cy="489.7" r="2.0"/><circle cx="515.7" cy="508.7" r="2.0"/><circle cx="518.7" cy="485.4" r="2.0"/><circle cx="501.8" cy="432.3" r="2.0"/><circle cx="562" cy="491.7" r="2.0"/><circle cx="488.2" cy="440.3" r="2.0"/><circle cx="528.2" cy="471.6" r="2.0"/><circle cx="522" cy="491.4" r="2.0"/><circle cx="585.8" cy="422.4" r="2.0"/><circle cx="483.1" cy="453.1" r="2.0"/><circle cx="536.5" cy="442" r="2.0"/><circle cx="496.2" cy="457" r="2.0"/><circle cx="581.6" cy="480.7" r="2.0"/><circle cx="484.9" cy="459.6" r="2.0"/><circle cx="577.6" cy="435.5" r="2.0"/><circle cx="545.9" cy="490.6" r="2.0"/><circle cx="492.6" cy="449.9" r="2.0"/><circle cx="518.8" cy="400.5" r="2.0"/><circle cx="502.5" cy="420.4" r="2.0"/><circle cx="526.2" cy="438" r="2.0"/><circle cx="566.9" cy="387" r="2.0"/><circle cx="526.6" cy="411.2" r="2.0"/><circle cx="585.7" cy="480" r="2.0"/><circle cx="577" cy="452.8" r="2.0"/><circle cx="495.5" cy="474.1" r="2.0"/><circle cx="485.7" cy="452.5" r="2.0"/><circle cx="550.4" cy="434.3" r="2.0"/><circle cx="512.4" cy="459.3" r="2.0"/><circle cx="501.3" cy="457.2" r="2.0"/><circle cx="578.7" cy="501.5" r="2.0"/><circle cx="538" cy="440.8" r="2.0"/><circle cx="501.7" cy="459.6" r="2.0"/><circle cx="536.2" cy="439.3" r="2.0"/><circle cx="534.7" cy="426.2" r="2.0"/><circle cx="563.9" cy="458.1" r="2.0"/><circle cx="518.5" cy="468.5" r="2.0"/><circle cx="529.3" cy="478.2" r="2.0"/><circle cx="488" cy="470.4" r="2.0"/><circle cx="569.7" cy="459.8" r="2.0"/><circle cx="577.9" cy="477.9" r="2.0"/><circle cx="470.5" cy="466.4" r="2.0"/><circle cx="558.7" cy="504" r="2.0"/><circle cx="584.3" cy="486.2" r="2.0"/><circle cx="570.9" cy="472.7" r="2.0"/><circle cx="563.9" cy="404.8" r="2.0"/><circle cx="495.4" cy="461.9" r="2.0"/><circle cx="586.3" cy="479.5" r="2.0"/><circle cx="513.9" cy="465" r="2.0"/><circle cx="570.7" cy="526.7" r="2.0"/><circle cx="293.1" cy="456.4" r="2.0"/><circle cx="283.1" cy="441.6" r="2.0"/><circle cx="304.1" cy="520.4" r="2.0"/><circle cx="303.6" cy="425.3" r="2.0"/><circle cx="273.5" cy="465.8" r="2.0"/><circle cx="275.2" cy="462" r="2.0"/><circle cx="300.4" cy="474.4" r="2.0"/><circle cx="274" cy="474.6" r="2.0"/><circle cx="298.4" cy="455.5" r="2.0"/><circle cx="260.8" cy="417.1" r="2.0"/><circle cx="262.3" cy="373.2" r="2.0"/><circle cx="270.2" cy="475.1" r="2.0"/><circle cx="265.6" cy="450.8" r="2.0"/><circle cx="274.1" cy="374.9" r="2.0"/><circle cx="260.5" cy="446.5" r="2.0"/><circle cx="257.1" cy="502.8" r="2.0"/><circle cx="269.8" cy="470.6" r="2.0"/><circle cx="257.9" cy="511.7" r="2.0"/><circle cx="267.6" cy="522.2" r="2.0"/><circle cx="270.8" cy="484.5" r="2.0"/><circle cx="302.7" cy="439.4" r="2.0"/><circle cx="272" cy="469.1" r="2.0"/><circle cx="282.1" cy="490.1" r="2.0"/><circle cx="301.7" cy="473.2" r="2.0"/><circle cx="273.6" cy="456" r="2.0"/><circle cx="263.7" cy="460.4" r="2.0"/><circle cx="280.8" cy="468.2" r="2.0"/><circle cx="295.8" cy="471.1" r="2.0"/><circle cx="264.2" cy="459.8" r="2.0"/><circle cx="290.7" cy="433.6" r="2.0"/><circle cx="275.7" cy="478.2" r="2.0"/><circle cx="278.5" cy="446.4" r="2.0"/><circle cx="285.3" cy="501.9" r="2.0"/><circle cx="274.9" cy="431.2" r="2.0"/><circle cx="258.4" cy="448.8" r="2.0"/><circle cx="261.1" cy="471.2" r="2.0"/><circle cx="250.4" cy="470.5" r="2.0"/><circle cx="299.2" cy="513.4" r="2.0"/><circle cx="285.7" cy="457.3" r="2.0"/><circle cx="302.5" cy="467.9" r="2.0"/><circle cx="266.1" cy="504" r="2.0"/><circle cx="280.3" cy="419.4" r="2.0"/><circle cx="280.9" cy="442.1" r="2.0"/><circle cx="255.7" cy="454.6" r="2.0"/><circle cx="280.1" cy="451.6" r="2.0"/><circle cx="283" cy="477.5" r="2.0"/><circle cx="272.8" cy="433.5" r="2.0"/><circle cx="268" cy="460.8" r="2.0"/><circle cx="261.4" cy="376.2" r="2.0"/><circle cx="252" cy="390.5" r="2.0"/><circle cx="282.6" cy="522.8" r="2.0"/><circle cx="259" cy="475.7" r="2.0"/><circle cx="252.2" cy="459.7" r="2.0"/><circle cx="305.1" cy="483" r="2.0"/><circle cx="299.7" cy="427.5" r="2.0"/><circle cx="268.7" cy="470.8" r="2.0"/><circle cx="275.1" cy="407.4" r="2.0"/><circle cx="259.5" cy="533.4" r="2.0"/><circle cx="305.3" cy="446.4" r="2.0"/><circle cx="473.7" cy="419.3" r="2.0"/><circle cx="474.1" cy="419.1" r="2.0"/><circle cx="478.1" cy="418.3" r="2.0"/><circle cx="478.2" cy="419.6" r="2.0"/><circle cx="483.7" cy="416.2" r="2.0"/><circle cx="487" cy="417.9" r="2.0"/><circle cx="490.7" cy="418.7" r="2.0"/><circle cx="492.2" cy="419" r="2.0"/><circle cx="495.2" cy="416.4" r="2.0"/><circle cx="497.4" cy="419.2" r="2.0"/><circle cx="501.2" cy="418" r="2.0"/><circle cx="507.5" cy="417.4" r="2.0"/><circle cx="505.8" cy="419.3" r="2.0"/><circle cx="508.8" cy="418.1" r="2.0"/><circle cx="513.8" cy="418.9" r="2.0"/><circle cx="515.6" cy="417.5" r="2.0"/><circle cx="521.1" cy="417.4" r="2.0"/><circle cx="520.9" cy="418.1" r="2.0"/><circle cx="527.6" cy="418.4" r="2.0"/><circle cx="528.1" cy="419.5" r="2.0"/><circle cx="529.7" cy="416.6" r="2.0"/><circle cx="532" cy="417.3" r="2.0"/><circle cx="482.8" cy="450.2" r="2.0"/><circle cx="486.6" cy="449.6" r="2.0"/><circle cx="487.7" cy="450.5" r="2.0"/><circle cx="489.3" cy="449.7" r="2.0"/><circle cx="494.5" cy="451.3" r="2.0"/><circle cx="495.2" cy="449.9" r="2.0"/><circle cx="498.6" cy="450.3" r="2.0"/><circle cx="503" cy="450.2" r="2.0"/><circle cx="503.1" cy="451" r="2.0"/><circle cx="507.9" cy="450.7" r="2.0"/><circle cx="510.4" cy="450" r="2.0"/><circle cx="512.2" cy="451.2" r="2.0"/><circle cx="515.1" cy="449.6" r="2.0"/><circle cx="519.1" cy="450.6" r="2.0"/><circle cx="521.9" cy="449.9" r="2.0"/><circle cx="525.3" cy="451.1" r="2.0"/><circle cx="526.2" cy="451.5" r="2.0"/><circle cx="531" cy="449.7" r="2.0"/><circle cx="532.3" cy="449.7" r="2.0"/><circle cx="535.7" cy="450.3" r="2.0"/><circle cx="540.6" cy="449.7" r="2.0"/><circle cx="541.6" cy="450.2" r="2.0"/><circle cx="544.7" cy="449.7" r="2.0"/><circle cx="547.2" cy="450.1" r="2.0"/><circle cx="477.9" cy="501.3" r="2.0"/><circle cx="483.2" cy="502.7" r="2.0"/><circle cx="483.7" cy="500.2" r="2.0"/><circle cx="490.4" cy="500.5" r="2.0"/><circle cx="490.5" cy="499.9" r="2.0"/><circle cx="492.6" cy="501.7" r="2.0"/><circle cx="496.3" cy="501.2" r="2.0"/><circle cx="499.6" cy="502.2" r="2.0"/><circle cx="502.6" cy="500.5" r="2.0"/><circle cx="506" cy="501.4" r="2.0"/><circle cx="507.6" cy="499.9" r="2.0"/><circle cx="508.8" cy="500.6" r="2.0"/><circle cx="513.2" cy="500.6" r="2.0"/><circle cx="517.6" cy="500.8" r="2.0"/><circle cx="521.3" cy="502.4" r="2.0"/><circle cx="520.6" cy="500.6" r="2.0"/><circle cx="526" cy="502.5" r="2.0"/><circle cx="530.1" cy="500.9" r="2.0"/><circle cx="530.1" cy="500.7" r="2.0"/><circle cx="536.7" cy="502.1" r="2.0"/><circle cx="536.7" cy="501.7" r="2.0"/><circle cx="540.4" cy="501.3" r="2.0"/><circle cx="542.9" cy="501" r="2.0"/><circle cx="548.5" cy="501" r="2.0"/><circle cx="550.4" cy="501.2" r="2.0"/><circle cx="552.4" cy="501.9" r="2.0"/><circle cx="554.8" cy="501" r="2.0"/><circle cx="556.1" cy="499.2" r="2.0"/><circle cx="560.7" cy="501.6" r="2.0"/><circle cx="563.3" cy="499.9" r="2.0"/><circle cx="266.1" cy="488.2" r="2.0"/><circle cx="269.2" cy="488.1" r="2.0"/><circle cx="274.1" cy="488" r="2.0"/><circle cx="276" cy="486.8" r="2.0"/><circle cx="279.5" cy="487.7" r="2.0"/><circle cx="280.8" cy="486.9" r="2.0"/><circle cx="281.9" cy="487.7" r="2.0"/><circle cx="285.2" cy="489.3" r="2.0"/><circle cx="287.1" cy="488.9" r="2.0"/><circle cx="291.4" cy="488" r="2.0"/><circle cx="293.4" cy="486.9" r="2.0"/><circle cx="296.7" cy="487.8" r="2.0"/><circle cx="296.9" cy="489" r="2.0"/><circle cx="300" cy="487.7" r="2.0"/><circle cx="264.8" cy="396.5" r="2.0"/><circle cx="269.1" cy="397.1" r="2.0"/><circle cx="272.8" cy="397.3" r="2.0"/><circle cx="275.5" cy="396.4" r="2.0"/><circle cx="277.7" cy="396.1" r="2.0"/><circle cx="280.6" cy="396.5" r="2.0"/><circle cx="284.8" cy="397.6" r="2.0"/><circle cx="288.5" cy="397" r="2.0"/><circle cx="651.9" cy="419.5" r="2.0"/><circle cx="692.9" cy="417.6" r="2.0"/></g><g fill="#f25566" fill-opacity="0.5" stroke="#ea5062" stroke-opacity="0.5" stroke-width="1" filter="url(#bl)"><circle cx="483.3" cy="385.3" r="2.0"/><circle cx="145.4" cy="437.6" r="2.0"/><circle cx="201.8" cy="488.3" r="2.0"/><circle cx="410.9" cy="419.3" r="2.0"/><circle cx="187.8" cy="379.3" r="2.0"/><circle cx="163.6" cy="424.4" r="2.0"/><circle cx="460.8" cy="394.5" r="2.0"/><circle cx="141.4" cy="416.2" r="2.0"/><circle cx="360.5" cy="513.3" r="2.0"/><circle cx="540.3" cy="409.6" r="2.0"/><circle cx="163.5" cy="538.4" r="2.0"/><circle cx="611.1" cy="376.3" r="2.0"/><circle cx="327.7" cy="449.1" r="2.0"/><circle cx="158" cy="494.6" r="2.0"/><circle cx="203.3" cy="406.9" r="2.0"/><circle cx="205.1" cy="500.1" r="2.0"/><circle cx="580.7" cy="422.1" r="2.0"/><circle cx="602.3" cy="480.6" r="2.0"/><circle cx="401.1" cy="445.7" r="2.0"/><circle cx="262.8" cy="381.7" r="2.0"/><circle cx="503.7" cy="523.5" r="2.0"/><circle cx="361.4" cy="408.9" r="2.0"/><circle cx="330.8" cy="461.5" r="2.0"/><circle cx="450.3" cy="425.1" r="2.0"/><circle cx="473.3" cy="363.4" r="2.0"/><circle cx="535.5" cy="495.6" r="2.0"/><circle cx="426.2" cy="446.7" r="2.0"/><circle cx="218.6" cy="486.9" r="2.0"/><circle cx="607.3" cy="410.1" r="2.0"/><circle cx="159" cy="452.6" r="2.0"/><circle cx="637.6" cy="491.6" r="2.0"/><circle cx="252.7" cy="395.7" r="2.0"/><circle cx="500.8" cy="493.3" r="2.0"/><circle cx="607.7" cy="445" r="2.0"/><circle cx="555.1" cy="431.6" r="2.0"/><circle cx="330.9" cy="488.8" r="2.0"/><circle cx="169.2" cy="491" r="2.0"/><circle cx="624.6" cy="489.5" r="2.0"/><circle cx="243" cy="393" r="2.0"/><circle cx="594.4" cy="380.3" r="2.0"/><circle cx="133.2" cy="409.6" r="2.0"/><circle cx="483.9" cy="372.9" r="2.0"/><circle cx="533.1" cy="369.6" r="2.0"/><circle cx="206.8" cy="442" r="2.0"/><circle cx="638.2" cy="370.7" r="2.0"/><circle cx="591.1" cy="378.1" r="2.0"/><circle cx="195" cy="475.9" r="2.0"/><circle cx="104.3" cy="444.3" r="2.0"/><circle cx="464.7" cy="531.5" r="2.0"/><circle cx="142.5" cy="481.9" r="2.0"/><circle cx="286.7" cy="458" r="2.0"/><circle cx="253.2" cy="466.6" r="2.0"/><circle cx="245.7" cy="420.4" r="2.0"/><circle cx="194.5" cy="389.4" r="2.0"/><circle cx="307.4" cy="523.4" r="2.0"/><circle cx="157.8" cy="412.1" r="2.0"/><circle cx="555.9" cy="526" r="2.0"/><circle cx="145.8" cy="440.5" r="2.0"/><circle cx="170.8" cy="364.7" r="2.0"/><circle cx="193.3" cy="409.4" r="2.0"/><circle cx="417" cy="429.4" r="2.0"/><circle cx="335.1" cy="416.9" r="2.0"/><circle cx="153.8" cy="488.8" r="2.0"/><circle cx="609.3" cy="529.5" r="2.0"/><circle cx="539" cy="448.9" r="2.0"/><circle cx="608.8" cy="433" r="2.0"/><circle cx="548.3" cy="424.7" r="2.0"/><circle cx="265.1" cy="415.2" r="2.0"/><circle cx="124.2" cy="519.5" r="2.0"/><circle cx="394.5" cy="388.4" r="2.0"/><circle cx="615.8" cy="391.8" r="2.0"/><circle cx="594.5" cy="412.3" r="2.0"/><circle cx="254.6" cy="416.9" r="2.0"/><circle cx="334.7" cy="368.5" r="2.0"/><circle cx="289.8" cy="542.1" r="2.0"/><circle cx="172.6" cy="381.8" r="2.0"/><circle cx="593.2" cy="379.3" r="2.0"/><circle cx="282.9" cy="413.3" r="2.0"/><circle cx="178.9" cy="479.6" r="2.0"/><circle cx="152.3" cy="440.1" r="2.0"/><circle cx="486.1" cy="420.3" r="2.0"/><circle cx="590.2" cy="478.2" r="2.0"/><circle cx="539.6" cy="449.3" r="2.0"/><circle cx="233.8" cy="365.1" r="2.0"/><circle cx="333.8" cy="491" r="2.0"/><circle cx="609.8" cy="513.3" r="2.0"/><circle cx="236.2" cy="459.3" r="2.0"/><circle cx="426.7" cy="399.9" r="2.0"/><circle cx="342.5" cy="378.6" r="2.0"/><circle cx="188.8" cy="524.2" r="2.0"/><circle cx="526.8" cy="451.6" r="2.0"/><circle cx="541.9" cy="365.7" r="2.0"/><circle cx="409.3" cy="365.3" r="2.0"/><circle cx="153.4" cy="391.2" r="2.0"/><circle cx="144.2" cy="408.3" r="2.0"/><circle cx="188.5" cy="470.8" r="2.0"/><circle cx="239.5" cy="445" r="2.0"/><circle cx="505.7" cy="386.4" r="2.0"/><circle cx="248" cy="461.7" r="2.0"/><circle cx="438.8" cy="459.7" r="2.0"/><circle cx="588.9" cy="484.6" r="2.0"/><circle cx="237" cy="425.1" r="2.0"/><circle cx="521.3" cy="369.4" r="2.0"/><circle cx="468" cy="423.6" r="2.0"/><circle cx="246.3" cy="399.1" r="2.0"/><circle cx="475.4" cy="371.8" r="2.0"/><circle cx="320.6" cy="367.7" r="2.0"/><circle cx="473.1" cy="511.6" r="2.0"/><circle cx="498.2" cy="457.6" r="2.0"/><circle cx="590.4" cy="435" r="2.0"/><circle cx="329.9" cy="447" r="2.0"/><circle cx="266.8" cy="354.3" r="2.0"/><circle cx="606.3" cy="375.3" r="2.0"/><circle cx="481.9" cy="418.9" r="2.0"/><circle cx="273.2" cy="531" r="2.0"/><circle cx="599.5" cy="375.5" r="2.0"/><circle cx="515.2" cy="455" r="2.0"/><circle cx="341.2" cy="397.4" r="2.0"/><circle cx="252.9" cy="443.6" r="2.0"/><circle cx="332.6" cy="374" r="2.0"/><circle cx="120.6" cy="431.9" r="2.0"/><circle cx="603.8" cy="421.5" r="2.0"/><circle cx="133.4" cy="402.4" r="2.0"/><circle cx="316.9" cy="429" r="2.0"/><circle cx="288.6" cy="409.1" r="2.0"/><circle cx="492.7" cy="413.4" r="2.0"/><circle cx="466.8" cy="431.3" r="2.0"/><circle cx="389.5" cy="446" r="2.0"/><circle cx="628.5" cy="366.1" r="2.0"/><circle cx="289.1" cy="430.6" r="2.0"/><circle cx="105.3" cy="471.7" r="2.0"/><circle cx="340.7" cy="493.3" r="2.0"/><circle cx="151.6" cy="383.9" r="2.0"/><circle cx="459.5" cy="471.9" r="2.0"/><circle cx="144.7" cy="537.1" r="2.0"/><circle cx="129.3" cy="460.5" r="2.0"/><circle cx="379.8" cy="512.7" r="2.0"/><circle cx="611.2" cy="436.2" r="2.0"/><circle cx="539.7" cy="394.8" r="2.0"/><circle cx="616" cy="437.6" r="2.0"/><circle cx="261.3" cy="416.8" r="2.0"/><circle cx="600.8" cy="381.3" r="2.0"/><circle cx="139.8" cy="497.9" r="2.0"/><circle cx="310.3" cy="368.6" r="2.0"/><circle cx="421.6" cy="499.6" r="2.0"/><circle cx="416.2" cy="363.5" r="2.0"/><circle cx="124.4" cy="465.5" r="2.0"/><circle cx="579.5" cy="414.8" r="2.0"/><circle cx="212.5" cy="441.8" r="2.0"/><circle cx="129.2" cy="471.8" r="2.0"/><circle cx="467.4" cy="392.8" r="2.0"/><circle cx="391.7" cy="383.4" r="2.0"/><circle cx="354.4" cy="380" r="2.0"/><circle cx="435" cy="407.2" r="2.0"/><circle cx="611.4" cy="513.7" r="2.0"/><circle cx="482.9" cy="448.5" r="2.0"/><circle cx="374.6" cy="503" r="2.0"/><circle cx="170.6" cy="399.9" r="2.0"/><circle cx="548.3" cy="453.6" r="2.0"/><circle cx="172.7" cy="377.7" r="2.0"/><circle cx="427.5" cy="463.1" r="2.0"/><circle cx="269.3" cy="369.7" r="2.0"/><circle cx="445.3" cy="361.7" r="2.0"/><circle cx="251.3" cy="405.6" r="2.0"/><circle cx="456.6" cy="423.6" r="2.0"/><circle cx="273.6" cy="383.2" r="2.0"/><circle cx="574.6" cy="425.6" r="2.0"/><circle cx="575.6" cy="448.5" r="2.0"/><circle cx="581.3" cy="476.5" r="2.0"/><circle cx="287.5" cy="424.2" r="2.0"/><circle cx="469.2" cy="422.2" r="2.0"/><circle cx="99.8" cy="391.9" r="2.0"/><circle cx="403.1" cy="446.1" r="2.0"/><circle cx="544.3" cy="518.3" r="2.0"/><circle cx="241.8" cy="496.4" r="2.0"/><circle cx="309.7" cy="400.8" r="2.0"/><circle cx="309.2" cy="430.1" r="2.0"/><circle cx="376.5" cy="540.1" r="2.0"/><circle cx="577" cy="369" r="2.0"/><circle cx="525.9" cy="530.3" r="2.0"/><circle cx="101.5" cy="395.6" r="2.0"/><circle cx="279" cy="460.4" r="2.0"/><circle cx="194.1" cy="437.3" r="2.0"/><circle cx="241.1" cy="498.1" r="2.0"/><circle cx="98.8" cy="431.7" r="2.0"/><circle cx="420" cy="427.5" r="2.0"/><circle cx="624.7" cy="519.3" r="2.0"/><circle cx="182.8" cy="374.8" r="2.0"/><circle cx="354.1" cy="397.5" r="2.0"/><circle cx="121.2" cy="489.3" r="2.0"/><circle cx="528" cy="419.3" r="2.0"/><circle cx="603.2" cy="380.2" r="2.0"/><circle cx="381.6" cy="541.1" r="2.0"/><circle cx="438.2" cy="442.4" r="2.0"/><circle cx="516.4" cy="446.5" r="2.0"/><circle cx="292.6" cy="422.3" r="2.0"/><circle cx="154.1" cy="382.3" r="2.0"/><circle cx="344.8" cy="370.5" r="2.0"/><circle cx="590.2" cy="387.7" r="2.0"/><circle cx="426.9" cy="525.8" r="2.0"/><circle cx="235" cy="366.8" r="2.0"/><circle cx="370.3" cy="389.3" r="2.0"/><circle cx="280.2" cy="393" r="2.0"/><circle cx="579.3" cy="427.3" r="2.0"/><circle cx="319.4" cy="421.4" r="2.0"/><circle cx="115.6" cy="455.5" r="2.0"/><circle cx="103.8" cy="497.9" r="2.0"/><circle cx="546.8" cy="354.8" r="2.0"/><circle cx="346.7" cy="412.4" r="2.0"/><circle cx="414.4" cy="462.3" r="2.0"/><circle cx="530.6" cy="404.1" r="2.0"/><circle cx="368.9" cy="375.5" r="2.0"/><circle cx="614.5" cy="526.6" r="2.0"/><circle cx="347.1" cy="381.4" r="2.0"/><circle cx="249.5" cy="533" r="2.0"/><circle cx="228" cy="493.8" r="2.0"/><circle cx="499" cy="496.3" r="2.0"/><circle cx="369.8" cy="395" r="2.0"/><circle cx="149.2" cy="381.2" r="2.0"/><circle cx="458.6" cy="389.1" r="2.0"/><circle cx="523" cy="444.8" r="2.0"/><circle cx="441.1" cy="360" r="2.0"/><circle cx="638.9" cy="418.5" r="2.0"/><circle cx="169.8" cy="502.7" r="2.0"/><circle cx="599.2" cy="419" r="2.0"/><circle cx="183.2" cy="384.2" r="2.0"/><circle cx="568.3" cy="455.6" r="2.0"/><circle cx="474.5" cy="398.8" r="2.0"/><circle cx="577.1" cy="517.4" r="2.0"/><circle cx="429" cy="476.1" r="2.0"/><circle cx="141.9" cy="394.4" r="2.0"/><circle cx="186.6" cy="449.9" r="2.0"/><circle cx="422.7" cy="512.6" r="2.0"/><circle cx="532.3" cy="436.4" r="2.0"/><circle cx="162.8" cy="513.1" r="2.0"/><circle cx="465.1" cy="455.8" r="2.0"/><circle cx="573.4" cy="359.6" r="2.0"/><circle cx="439.2" cy="406.5" r="2.0"/><circle cx="396.1" cy="418" r="2.0"/><circle cx="629.9" cy="370.6" r="2.0"/><circle cx="620.6" cy="513.9" r="2.0"/><circle cx="209.6" cy="514.2" r="2.0"/><circle cx="540.5" cy="517.4" r="2.0"/><circle cx="495.5" cy="424.1" r="2.0"/><circle cx="325.1" cy="498.6" r="2.0"/><circle cx="401.4" cy="443" r="2.0"/><circle cx="531" cy="392.4" r="2.0"/><circle cx="278.6" cy="364.2" r="2.0"/><circle cx="223.8" cy="432.6" r="2.0"/><circle cx="615.7" cy="410.3" r="2.0"/><circle cx="211.6" cy="455.2" r="2.0"/><circle cx="536.6" cy="393.4" r="2.0"/><circle cx="518.4" cy="430.5" r="2.0"/><circle cx="631.9" cy="448.2" r="2.0"/><circle cx="545.8" cy="366.3" r="2.0"/><circle cx="582.3" cy="476.6" r="2.0"/><circle cx="419" cy="504.3" r="2.0"/><circle cx="489.3" cy="433.1" r="2.0"/><circle cx="418.3" cy="404.7" r="2.0"/><circle cx="559.2" cy="415.4" r="2.0"/><circle cx="296.3" cy="450.7" r="2.0"/><circle cx="604.6" cy="474.6" r="2.0"/><circle cx="178.1" cy="432.7" r="2.0"/><circle cx="211.9" cy="448.5" r="2.0"/><circle cx="631.4" cy="417.1" r="2.0"/><circle cx="595.3" cy="387.1" r="2.0"/><circle cx="447.6" cy="426.6" r="2.0"/><circle cx="476" cy="357.9" r="2.0"/><circle cx="542" cy="431.8" r="2.0"/><circle cx="467" cy="426.7" r="2.0"/><circle cx="141.7" cy="470.3" r="2.0"/><circle cx="144.4" cy="466.4" r="2.0"/><circle cx="233.4" cy="368.9" r="2.0"/><circle cx="196.2" cy="397.2" r="2.0"/><circle cx="434.8" cy="456.4" r="2.0"/><circle cx="372.7" cy="527.2" r="2.0"/><circle cx="487.7" cy="456.2" r="2.0"/><circle cx="280.4" cy="361.3" r="2.0"/><circle cx="207" cy="501.3" r="2.0"/><circle cx="577.1" cy="398.4" r="2.0"/><circle cx="122.6" cy="432.9" r="2.0"/><circle cx="429.8" cy="389.2" r="2.0"/><circle cx="153.5" cy="367.9" r="2.0"/><circle cx="617.3" cy="498.9" r="2.0"/><circle cx="444.5" cy="373.2" r="2.0"/><circle cx="526.9" cy="456.4" r="2.0"/><circle cx="154.8" cy="416.3" r="2.0"/><circle cx="606.8" cy="358.1" r="2.0"/><circle cx="381.7" cy="429.4" r="2.0"/><circle cx="348.5" cy="357" r="2.0"/><circle cx="146.6" cy="477.9" r="2.0"/><circle cx="421.5" cy="406" r="2.0"/><circle cx="99.1" cy="467.9" r="2.0"/><circle cx="192.1" cy="442.4" r="2.0"/><circle cx="200.4" cy="476.1" r="2.0"/><circle cx="377.7" cy="531.5" r="2.0"/><circle cx="570.2" cy="409.2" r="2.0"/><circle cx="411.4" cy="494.1" r="2.0"/><circle cx="494.7" cy="506.5" r="2.0"/><circle cx="436" cy="406.6" r="2.0"/><circle cx="174.3" cy="518.1" r="2.0"/><circle cx="556.3" cy="491.6" r="2.0"/><circle cx="545.1" cy="407" r="2.0"/><circle cx="214.4" cy="523.9" r="2.0"/><circle cx="164.6" cy="413.3" r="2.0"/><circle cx="267.7" cy="446.4" r="2.0"/><circle cx="474.7" cy="462.6" r="2.0"/><circle cx="108.3" cy="445.4" r="2.0"/><circle cx="362.1" cy="538.9" r="2.0"/><circle cx="309" cy="461.1" r="2.0"/><circle cx="617.8" cy="424.8" r="2.0"/><circle cx="202.6" cy="412" r="2.0"/><circle cx="608.2" cy="413.4" r="2.0"/><circle cx="618.5" cy="419.8" r="2.0"/><circle cx="609.6" cy="448.7" r="2.0"/><circle cx="494.9" cy="470.6" r="2.0"/><circle cx="561.9" cy="452" r="2.0"/><circle cx="544.8" cy="509.2" r="2.0"/><circle cx="331.6" cy="511.9" r="2.0"/><circle cx="626.7" cy="421.3" r="2.0"/><circle cx="499.4" cy="390.1" r="2.0"/><circle cx="305.5" cy="498.9" r="2.0"/><circle cx="333" cy="361" r="2.0"/><circle cx="212.9" cy="370.9" r="2.0"/><circle cx="475" cy="372.2" r="2.0"/><circle cx="471.3" cy="532.4" r="2.0"/><circle cx="621.1" cy="428.3" r="2.0"/><circle cx="471.5" cy="448.3" r="2.0"/><circle cx="176.3" cy="517.5" r="2.0"/><circle cx="613.6" cy="439.1" r="2.0"/><circle cx="515" cy="410.3" r="2.0"/><circle cx="462.8" cy="397" r="2.0"/><circle cx="288.3" cy="460.1" r="2.0"/><circle cx="267" cy="440.2" r="2.0"/><circle cx="600.7" cy="413.4" r="2.0"/><circle cx="500.1" cy="381.1" r="2.0"/><circle cx="359.5" cy="400.3" r="2.0"/><circle cx="139.5" cy="415.8" r="2.0"/><circle cx="318.2" cy="431.8" r="2.0"/><circle cx="555.4" cy="378.2" r="2.0"/><circle cx="441.2" cy="482.2" r="2.0"/><circle cx="544.2" cy="361.2" r="2.0"/><circle cx="432.5" cy="433.2" r="2.0"/><circle cx="390.4" cy="440" r="2.0"/><circle cx="298.4" cy="484.9" r="2.0"/><circle cx="592" cy="369.2" r="2.0"/><circle cx="121.5" cy="491.7" r="2.0"/><circle cx="372.2" cy="402.1" r="2.0"/><circle cx="555.2" cy="468.7" r="2.0"/><circle cx="192.5" cy="432.1" r="2.0"/><circle cx="491.2" cy="385.2" r="2.0"/><circle cx="126" cy="483.5" r="2.0"/><circle cx="336.5" cy="378.9" r="2.0"/><circle cx="610.7" cy="359.2" r="2.0"/><circle cx="602.5" cy="368.5" r="2.0"/><circle cx="509.6" cy="394.4" r="2.0"/><circle cx="485.6" cy="434.8" r="2.0"/><circle cx="454.5" cy="408.3" r="2.0"/><circle cx="612.4" cy="444.4" r="2.0"/><circle cx="596" cy="522.8" r="2.0"/><circle cx="213.2" cy="527.5" r="2.0"/><circle cx="634.9" cy="478.8" r="2.0"/><circle cx="413.6" cy="512.6" r="2.0"/><circle cx="598.3" cy="427.2" r="2.0"/><circle cx="239.9" cy="374.2" r="2.0"/><circle cx="204" cy="387.2" r="2.0"/><circle cx="246.9" cy="497.6" r="2.0"/><circle cx="431.4" cy="373.3" r="2.0"/><circle cx="188.6" cy="384.6" r="2.0"/><circle cx="382.8" cy="360.3" r="2.0"/><circle cx="162.3" cy="470.8" r="2.0"/><circle cx="468.5" cy="474.5" r="2.0"/><circle cx="592.7" cy="396.9" r="2.0"/><circle cx="403.1" cy="409.8" r="2.0"/><circle cx="99.5" cy="409.5" r="2.0"/><circle cx="372.3" cy="427.8" r="2.0"/><circle cx="449.3" cy="429.1" r="2.0"/><circle cx="638" cy="418.9" r="2.0"/><circle cx="127.6" cy="526.2" r="2.0"/><circle cx="277.1" cy="383.4" r="2.0"/><circle cx="224.6" cy="501.9" r="2.0"/><circle cx="267.5" cy="537.7" r="2.0"/><circle cx="565.1" cy="436.4" r="2.0"/><circle cx="605.1" cy="421" r="2.0"/><circle cx="533.4" cy="378.2" r="2.0"/><circle cx="379.7" cy="521.6" r="2.0"/><circle cx="626.9" cy="376.9" r="2.0"/><circle cx="579.6" cy="423" r="2.0"/><circle cx="635.4" cy="404" r="2.0"/><circle cx="453.9" cy="415.2" r="2.0"/><circle cx="414.7" cy="484.5" r="2.0"/><circle cx="277.6" cy="505" r="2.0"/><circle cx="274.7" cy="491.2" r="2.0"/><circle cx="473.9" cy="533.4" r="2.0"/><circle cx="286.5" cy="386.2" r="2.0"/><circle cx="447.4" cy="441.1" r="2.0"/><circle cx="416.5" cy="481.5" r="2.0"/><circle cx="439.7" cy="472" r="2.0"/><circle cx="301.2" cy="489.4" r="2.0"/><circle cx="566.3" cy="521.8" r="2.0"/><circle cx="288.8" cy="388.7" r="2.0"/><circle cx="606" cy="495.3" r="2.0"/><circle cx="592" cy="364.7" r="2.0"/><circle cx="416.2" cy="375.4" r="2.0"/><circle cx="546.3" cy="393.8" r="2.0"/><circle cx="639.3" cy="359.6" r="2.0"/><circle cx="194.2" cy="362.7" r="2.0"/><circle cx="285.7" cy="484.6" r="2.0"/><circle cx="257.2" cy="448.1" r="2.0"/><circle cx="199.3" cy="421.4" r="2.0"/><circle cx="331.9" cy="388.2" r="2.0"/><circle cx="246.8" cy="373" r="2.0"/><circle cx="183.7" cy="437.8" r="2.0"/><circle cx="206.3" cy="368.8" r="2.0"/><circle cx="233.1" cy="445" r="2.0"/><circle cx="160.4" cy="424.3" r="2.0"/><circle cx="570" cy="362.1" r="2.0"/><circle cx="414.1" cy="398.7" r="2.0"/><circle cx="633.1" cy="474.7" r="2.0"/><circle cx="294.7" cy="436.9" r="2.0"/><circle cx="117.5" cy="438.7" r="2.0"/><circle cx="612.2" cy="460" r="2.0"/><circle cx="118.1" cy="466.9" r="2.0"/><circle cx="613" cy="374.3" r="2.0"/><circle cx="405.2" cy="414.3" r="2.0"/><circle cx="413.5" cy="365.6" r="2.0"/><circle cx="617.5" cy="370.5" r="2.0"/><circle cx="214.1" cy="357.2" r="2.0"/><circle cx="478.9" cy="540.6" r="2.0"/><circle cx="235.4" cy="431.7" r="2.0"/><circle cx="393.3" cy="370.7" r="2.0"/><circle cx="326.3" cy="413.7" r="2.0"/><circle cx="319" cy="407.9" r="2.0"/><circle cx="375.3" cy="422.5" r="2.0"/><circle cx="381.6" cy="490.1" r="2.0"/><circle cx="580.2" cy="357.5" r="2.0"/><circle cx="325.8" cy="419.9" r="2.0"/><circle cx="422.2" cy="380" r="2.0"/><circle cx="163.6" cy="377.4" r="2.0"/><circle cx="298.4" cy="374.8" r="2.0"/><circle cx="626.2" cy="490.1" r="2.0"/><circle cx="196" cy="527.4" r="2.0"/><circle cx="265.9" cy="487.9" r="2.0"/><circle cx="237.3" cy="518.9" r="2.0"/><circle cx="592.1" cy="377.7" r="2.0"/><circle cx="571.8" cy="431.1" r="2.0"/><circle cx="423.8" cy="467.9" r="2.0"/><circle cx="199.2" cy="447" r="2.0"/><circle cx="520.6" cy="493.7" r="2.0"/><circle cx="276" cy="389.7" r="2.0"/><circle cx="202.3" cy="417.4" r="2.0"/><circle cx="573.9" cy="531.7" r="2.0"/><circle cx="313.8" cy="462.2" r="2.0"/><circle cx="638.3" cy="430.9" r="2.0"/><circle cx="224" cy="382.6" r="2.0"/><circle cx="567.4" cy="429.2" r="2.0"/><circle cx="421.3" cy="406.6" r="2.0"/><circle cx="303.5" cy="498.8" r="2.0"/><circle cx="141.1" cy="427.5" r="2.0"/><circle cx="448.3" cy="417.2" r="2.0"/><circle cx="228.2" cy="414.2" r="2.0"/><circle cx="153" cy="467.5" r="2.0"/><circle cx="375" cy="357.5" r="2.0"/><circle cx="100.9" cy="482.4" r="2.0"/><circle cx="315.2" cy="389.8" r="2.0"/><circle cx="565.3" cy="409.5" r="2.0"/><circle cx="347.5" cy="388.9" r="2.0"/><circle cx="515.4" cy="435.4" r="2.0"/><circle cx="379.7" cy="363.6" r="2.0"/><circle cx="265.1" cy="385.3" r="2.0"/><circle cx="429.7" cy="354.5" r="2.0"/><circle cx="322.4" cy="461.2" r="2.0"/><circle cx="511.9" cy="406.4" r="2.0"/><circle cx="572.5" cy="354.5" r="2.0"/><circle cx="381" cy="415.5" r="2.0"/><circle cx="370.9" cy="394.4" r="2.0"/><circle cx="251" cy="363.4" r="2.0"/><circle cx="431" cy="512.5" r="2.0"/><circle cx="344.9" cy="378.3" r="2.0"/><circle cx="290.7" cy="439.5" r="2.0"/><circle cx="513.9" cy="466.9" r="2.0"/><circle cx="543.2" cy="444.6" r="2.0"/><circle cx="230.8" cy="391.5" r="2.0"/><circle cx="147.1" cy="424.7" r="2.0"/><circle cx="229.1" cy="416.6" r="2.0"/><circle cx="412.1" cy="504.8" r="2.0"/><circle cx="309" cy="457.7" r="2.0"/><circle cx="251.8" cy="379" r="2.0"/><circle cx="407.1" cy="446.2" r="2.0"/><circle cx="555.8" cy="386" r="2.0"/><circle cx="549.2" cy="382.7" r="2.0"/><circle cx="157.9" cy="362.8" r="2.0"/><circle cx="345.3" cy="456.9" r="2.0"/><circle cx="209.3" cy="437.8" r="2.0"/><circle cx="170.5" cy="415.1" r="2.0"/><circle cx="227" cy="508.9" r="2.0"/><circle cx="119.1" cy="396.5" r="2.0"/><circle cx="338.7" cy="403.1" r="2.0"/><circle cx="376.9" cy="476.9" r="2.0"/><circle cx="623.4" cy="422.4" r="2.0"/><circle cx="597.3" cy="389.2" r="2.0"/><circle cx="472" cy="410.5" r="2.0"/><circle cx="180.6" cy="424.5" r="2.0"/><circle cx="443.3" cy="385" r="2.0"/><circle cx="355.6" cy="390.8" r="2.0"/><circle cx="491.3" cy="438.8" r="2.0"/><circle cx="606" cy="448.5" r="2.0"/><circle cx="518" cy="493.3" r="2.0"/><circle cx="610.2" cy="533.7" r="2.0"/><circle cx="216.2" cy="360.1" r="2.0"/><circle cx="267.5" cy="442.2" r="2.0"/><circle cx="594.9" cy="359.8" r="2.0"/><circle cx="581.2" cy="503.1" r="2.0"/><circle cx="208.2" cy="369.1" r="2.0"/><circle cx="174.8" cy="407.8" r="2.0"/><circle cx="401.7" cy="479.9" r="2.0"/><circle cx="175.7" cy="516.3" r="2.0"/><circle cx="162.2" cy="380.7" r="2.0"/><circle cx="145.1" cy="375.2" r="2.0"/><circle cx="639" cy="527.5" r="2.0"/><circle cx="405.1" cy="432.2" r="2.0"/><circle cx="453.3" cy="377.1" r="2.0"/><circle cx="333.7" cy="476.2" r="2.0"/><circle cx="501" cy="491.2" r="2.0"/><circle cx="208" cy="444.2" r="2.0"/><circle cx="279.8" cy="463.6" r="2.0"/><circle cx="269.4" cy="455.5" r="2.0"/><circle cx="244.9" cy="532.9" r="2.0"/><circle cx="394.4" cy="440" r="2.0"/><circle cx="255.3" cy="436.7" r="2.0"/><circle cx="404.4" cy="444.2" r="2.0"/><circle cx="298.2" cy="381.4" r="2.0"/><circle cx="287.5" cy="369.8" r="2.0"/><circle cx="527.4" cy="401" r="2.0"/><circle cx="548" cy="525.7" r="2.0"/><circle cx="200.9" cy="481.4" r="2.0"/><circle cx="625.5" cy="473.2" r="2.0"/><circle cx="271.4" cy="535.4" r="2.0"/><circle cx="525.6" cy="518.3" r="2.0"/><circle cx="568.4" cy="379.9" r="2.0"/><circle cx="222.9" cy="432.3" r="2.0"/><circle cx="239" cy="432.2" r="2.0"/><circle cx="525" cy="515.4" r="2.0"/><circle cx="474.4" cy="391.7" r="2.0"/><circle cx="291.7" cy="473" r="2.0"/><circle cx="132.3" cy="371.7" r="2.0"/><circle cx="139.5" cy="491.6" r="2.0"/><circle cx="128.9" cy="498.1" r="2.0"/><circle cx="261.3" cy="438.1" r="2.0"/><circle cx="248.9" cy="413.8" r="2.0"/><circle cx="368.2" cy="445.3" r="2.0"/><circle cx="428.4" cy="404.6" r="2.0"/><circle cx="209.1" cy="411.6" r="2.0"/><circle cx="300.2" cy="440.2" r="2.0"/><circle cx="594.5" cy="378.9" r="2.0"/><circle cx="181.2" cy="453" r="2.0"/><circle cx="403.2" cy="445.6" r="2.0"/><circle cx="231" cy="374.4" r="2.0"/><circle cx="636.9" cy="462.2" r="2.0"/><circle cx="234" cy="492.6" r="2.0"/><circle cx="166.9" cy="453.8" r="2.0"/><circle cx="434.9" cy="501.7" r="2.0"/><circle cx="513.3" cy="358.6" r="2.0"/><circle cx="598.9" cy="531.1" r="2.0"/><circle cx="479.3" cy="392.5" r="2.0"/><circle cx="258.6" cy="435.7" r="2.0"/><circle cx="536.5" cy="364.2" r="2.0"/><circle cx="332.2" cy="492.3" r="2.0"/><circle cx="237.2" cy="521.8" r="2.0"/><circle cx="417.1" cy="413.8" r="2.0"/><circle cx="418.1" cy="412.1" r="2.0"/><circle cx="418.2" cy="511.6" r="2.0"/><circle cx="178.3" cy="414" r="2.0"/><circle cx="377.8" cy="385.5" r="2.0"/><circle cx="572.5" cy="394" r="2.0"/><circle cx="219.6" cy="368.8" r="2.0"/><circle cx="597.7" cy="406.6" r="2.0"/><circle cx="332.2" cy="486" r="2.0"/><circle cx="331.1" cy="407.3" r="2.0"/><circle cx="582.9" cy="421.6" r="2.0"/><circle cx="624.6" cy="371" r="2.0"/><circle cx="589.7" cy="477.6" r="2.0"/><circle cx="552" cy="372.3" r="2.0"/><circle cx="245.3" cy="450.6" r="2.0"/><circle cx="288.1" cy="416.3" r="2.0"/><circle cx="450.4" cy="396.6" r="2.0"/><circle cx="470.5" cy="466" r="2.0"/><circle cx="558.9" cy="412.7" r="2.0"/><circle cx="318.8" cy="457.1" r="2.0"/><circle cx="187" cy="415.4" r="2.0"/><circle cx="160.7" cy="449.2" r="2.0"/><circle cx="589.6" cy="433.8" r="2.0"/><circle cx="343.7" cy="459.1" r="2.0"/><circle cx="219.1" cy="489.5" r="2.0"/><circle cx="141.6" cy="539.8" r="2.0"/><circle cx="525.5" cy="448.2" r="2.0"/><circle cx="595.7" cy="406.3" r="2.0"/><circle cx="199" cy="531.5" r="2.0"/><circle cx="549.3" cy="388.7" r="2.0"/><circle cx="510.7" cy="363.1" r="2.0"/><circle cx="220.9" cy="425.3" r="2.0"/><circle cx="108.5" cy="370.5" r="2.0"/><circle cx="559.1" cy="359.9" r="2.0"/><circle cx="483.5" cy="415.4" r="2.0"/><circle cx="530.8" cy="492.8" r="2.0"/><circle cx="539.2" cy="404.1" r="2.0"/><circle cx="433.3" cy="464.5" r="2.0"/><circle cx="598.8" cy="410.7" r="2.0"/><circle cx="619.4" cy="372.1" r="2.0"/><circle cx="239" cy="487.5" r="2.0"/><circle cx="349.3" cy="424.7" r="2.0"/><circle cx="286.5" cy="384.8" r="2.0"/><circle cx="187.1" cy="430" r="2.0"/><circle cx="385.5" cy="435.8" r="2.0"/><circle cx="324.7" cy="422.9" r="2.0"/><circle cx="461.9" cy="441.2" r="2.0"/><circle cx="631.2" cy="530.9" r="2.0"/><circle cx="355.2" cy="530.7" r="2.0"/><circle cx="146.3" cy="465.4" r="2.0"/><circle cx="466.4" cy="416.2" r="2.0"/><circle cx="598.3" cy="360.6" r="2.0"/><circle cx="586.7" cy="433.9" r="2.0"/><circle cx="427.2" cy="390.7" r="2.0"/><circle cx="191.9" cy="515.9" r="2.0"/><circle cx="195.1" cy="402.6" r="2.0"/><circle cx="116.3" cy="387.7" r="2.0"/><circle cx="641.1" cy="409" r="2.0"/><circle cx="299.6" cy="381.7" r="2.0"/><circle cx="330.1" cy="447.6" r="2.0"/><circle cx="528.6" cy="485.3" r="2.0"/><circle cx="171.6" cy="412.3" r="2.0"/><circle cx="575.2" cy="438.7" r="2.0"/><circle cx="338.8" cy="470.2" r="2.0"/><circle cx="219.3" cy="406.2" r="2.0"/><circle cx="154.8" cy="406.1" r="2.0"/><circle cx="605.8" cy="532.7" r="2.0"/><circle cx="483.7" cy="467" r="2.0"/><circle cx="581.9" cy="522.2" r="2.0"/><circle cx="193.1" cy="487" r="2.0"/><circle cx="349.1" cy="412.7" r="2.0"/><circle cx="492.3" cy="527.6" r="2.0"/><circle cx="285" cy="526" r="2.0"/><circle cx="622.4" cy="542.3" r="2.0"/><circle cx="361.4" cy="454.6" r="2.0"/><circle cx="503.1" cy="360.6" r="2.0"/><circle cx="355.5" cy="379.8" r="2.0"/><circle cx="104.6" cy="450.2" r="2.0"/><circle cx="540.5" cy="394.2" r="2.0"/><circle cx="491.2" cy="396.1" r="2.0"/><circle cx="485.2" cy="363.7" r="2.0"/><circle cx="509.5" cy="520.1" r="2.0"/><circle cx="168.2" cy="471.2" r="2.0"/><circle cx="99.2" cy="450.6" r="2.0"/><circle cx="372.1" cy="361.2" r="2.0"/><circle cx="533.8" cy="425.8" r="2.0"/><circle cx="443.7" cy="438.8" r="2.0"/><circle cx="250" cy="475" r="2.0"/><circle cx="259.2" cy="475" r="2.0"/><circle cx="301.4" cy="424.5" r="2.0"/><circle cx="111.1" cy="397.5" r="2.0"/><circle cx="227.8" cy="424.2" r="2.0"/><circle cx="183.6" cy="377.5" r="2.0"/><circle cx="344" cy="493.9" r="2.0"/><circle cx="487" cy="480.2" r="2.0"/><circle cx="469.5" cy="420.4" r="2.0"/><circle cx="104.7" cy="454.5" r="2.0"/><circle cx="414.2" cy="401.2" r="2.0"/><circle cx="537.8" cy="510.9" r="2.0"/><circle cx="212.6" cy="444.3" r="2.0"/><circle cx="401.2" cy="415.7" r="2.0"/><circle cx="362.2" cy="464.2" r="2.0"/><circle cx="607.5" cy="418.2" r="2.0"/><circle cx="332.8" cy="526.3" r="2.0"/><circle cx="623.2" cy="436.9" r="2.0"/><circle cx="131.1" cy="507" r="2.0"/><circle cx="550.1" cy="387.3" r="2.0"/><circle cx="596.3" cy="527.9" r="2.0"/><circle cx="338.5" cy="429.2" r="2.0"/><circle cx="254.1" cy="514.1" r="2.0"/><circle cx="129.4" cy="464.3" r="2.0"/><circle cx="437.2" cy="377.2" r="2.0"/><circle cx="560.8" cy="404.1" r="2.0"/><circle cx="261.2" cy="400.9" r="2.0"/><circle cx="304.6" cy="491.6" r="2.0"/><circle cx="496" cy="375.5" r="2.0"/><circle cx="242.8" cy="436.2" r="2.0"/><circle cx="439.2" cy="386.9" r="2.0"/><circle cx="326.9" cy="397.4" r="2.0"/><circle cx="222.2" cy="453.4" r="2.0"/><circle cx="178.4" cy="401" r="2.0"/><circle cx="221.1" cy="535.3" r="2.0"/><circle cx="267.5" cy="445.7" r="2.0"/><circle cx="466.9" cy="374.9" r="2.0"/><circle cx="164.1" cy="354.8" r="2.0"/><circle cx="402.4" cy="409.3" r="2.0"/><circle cx="329.8" cy="537" r="2.0"/><circle cx="506.2" cy="421.3" r="2.0"/><circle cx="192.7" cy="413.7" r="2.0"/><circle cx="372.5" cy="443" r="2.0"/><circle cx="466.8" cy="455.9" r="2.0"/><circle cx="558" cy="437.2" r="2.0"/><circle cx="368" cy="505.7" r="2.0"/><circle cx="276.1" cy="522.1" r="2.0"/><circle cx="172.4" cy="470.7" r="2.0"/><circle cx="532.6" cy="525.2" r="2.0"/><circle cx="504.9" cy="429.2" r="2.0"/><circle cx="568.9" cy="470" r="2.0"/><circle cx="586" cy="430" r="2.0"/><circle cx="517" cy="398.7" r="2.0"/><circle cx="537.7" cy="429.2" r="2.0"/><circle cx="513" cy="372.7" r="2.0"/><circle cx="544.1" cy="408.4" r="2.0"/><circle cx="531.6" cy="440.3" r="2.0"/><circle cx="492.4" cy="443.6" r="2.0"/><circle cx="547.8" cy="473.4" r="2.0"/><circle cx="526.4" cy="416.3" r="2.0"/><circle cx="521.7" cy="480.3" r="2.0"/><circle cx="509.6" cy="485.2" r="2.0"/><circle cx="505.8" cy="485.7" r="2.0"/><circle cx="486.8" cy="389" r="2.0"/><circle cx="566" cy="400.6" r="2.0"/><circle cx="526" cy="440.2" r="2.0"/><circle cx="558" cy="366" r="2.0"/><circle cx="550.4" cy="433.1" r="2.0"/><circle cx="571" cy="451.1" r="2.0"/><circle cx="564.9" cy="371.5" r="2.0"/><circle cx="505.7" cy="440.1" r="2.0"/><circle cx="530.8" cy="386.5" r="2.0"/><circle cx="558.4" cy="401.4" r="2.0"/><circle cx="570.4" cy="357.8" r="2.0"/><circle cx="523.9" cy="381.7" r="2.0"/><circle cx="473.1" cy="366.4" r="2.0"/><circle cx="511.9" cy="538.2" r="2.0"/><circle cx="555.4" cy="394.9" r="2.0"/><circle cx="513.9" cy="382.7" r="2.0"/><circle cx="539.5" cy="420.1" r="2.0"/><circle cx="578" cy="451.4" r="2.0"/><circle cx="504.2" cy="415.4" r="2.0"/><circle cx="482.6" cy="430.4" r="2.0"/><circle cx="518.6" cy="499.1" r="2.0"/><circle cx="513" cy="432.4" r="2.0"/><circle cx="509" cy="488.3" r="2.0"/><circle cx="587.1" cy="430.3" r="2.0"/><circle cx="571" cy="521.9" r="2.0"/><circle cx="493.3" cy="375.2" r="2.0"/><circle cx="575.7" cy="446.5" r="2.0"/><circle cx="506.5" cy="400" r="2.0"/><circle cx="565.5" cy="511.2" r="2.0"/><circle cx="529.2" cy="451.4" r="2.0"/><circle cx="520.3" cy="445.9" r="2.0"/><circle cx="525.7" cy="395.3" r="2.0"/><circle cx="501.2" cy="379.1" r="2.0"/><circle cx="288.3" cy="429.1" r="2.0"/><circle cx="264.6" cy="460.3" r="2.0"/><circle cx="276.5" cy="532.8" r="2.0"/><circle cx="289.6" cy="478.8" r="2.0"/><circle cx="285.8" cy="389.1" r="2.0"/><circle cx="270.8" cy="476.8" r="2.0"/><circle cx="299.5" cy="465.5" r="2.0"/><circle cx="305.5" cy="391.1" r="2.0"/><circle cx="299.2" cy="505.1" r="2.0"/><circle cx="247.7" cy="533.3" r="2.0"/><circle cx="257" cy="472.4" r="2.0"/><circle cx="279.8" cy="396" r="2.0"/><circle cx="298.7" cy="449.8" r="2.0"/><circle cx="259.1" cy="366.7" r="2.0"/><circle cx="248" cy="533.3" r="2.0"/><circle cx="269.9" cy="535.7" r="2.0"/><circle cx="255.5" cy="441.9" r="2.0"/><circle cx="276.9" cy="475.3" r="2.0"/><circle cx="295.8" cy="528.1" r="2.0"/><circle cx="269.4" cy="404.8" r="2.0"/><circle cx="254.8" cy="419.8" r="2.0"/><circle cx="288.5" cy="538.7" r="2.0"/><circle cx="299.4" cy="462" r="2.0"/><circle cx="277.3" cy="498.3" r="2.0"/><circle cx="273" cy="395" r="2.0"/><circle cx="291.1" cy="459.1" r="2.0"/><circle cx="253.9" cy="363.7" r="2.0"/><circle cx="305.9" cy="517.9" r="2.0"/><circle cx="283.7" cy="382.3" r="2.0"/><circle cx="274.6" cy="435.8" r="2.0"/><circle cx="292.5" cy="356.4" r="2.0"/><circle cx="250" cy="449.5" r="2.0"/><circle cx="292.9" cy="490.6" r="2.0"/><circle cx="257.2" cy="461.9" r="2.0"/><circle cx="276.5" cy="503.8" r="2.0"/><circle cx="251.8" cy="412.6" r="2.0"/><circle cx="275.2" cy="408.2" r="2.0"/><circle cx="256" cy="451.2" r="2.0"/><circle cx="287.2" cy="451.6" r="2.0"/><circle cx="268" cy="484.2" r="2.0"/><circle cx="268.3" cy="432.5" r="2.0"/><circle cx="275.1" cy="522.6" r="2.0"/><circle cx="289.1" cy="402.4" r="2.0"/><circle cx="302.1" cy="455.7" r="2.0"/><circle cx="279.8" cy="528.4" r="2.0"/><circle cx="296.8" cy="413.6" r="2.0"/><circle cx="247.7" cy="518.4" r="2.0"/><circle cx="271.3" cy="432" r="2.0"/><circle cx="481.7" cy="393.4" r="2.0"/><circle cx="484.5" cy="391.6" r="2.0"/><circle cx="487.2" cy="392.5" r="2.0"/><circle cx="488.9" cy="391.9" r="2.0"/><circle cx="490.4" cy="393.4" r="2.0"/><circle cx="492.4" cy="392.7" r="2.0"/><circle cx="495.6" cy="391.2" r="2.0"/><circle cx="498.8" cy="393.3" r="2.0"/><circle cx="500.5" cy="393.1" r="2.0"/><circle cx="500" cy="391.2" r="2.0"/><circle cx="501.5" cy="392.5" r="2.0"/><circle cx="504.9" cy="392.4" r="2.0"/><circle cx="508.5" cy="393.2" r="2.0"/><circle cx="511" cy="392.7" r="2.0"/><circle cx="511.3" cy="393.6" r="2.0"/><circle cx="512.3" cy="390.8" r="2.0"/><circle cx="514.6" cy="392.2" r="2.0"/><circle cx="518.4" cy="392" r="2.0"/><circle cx="519.5" cy="392.9" r="2.0"/><circle cx="524.8" cy="393.1" r="2.0"/><circle cx="523.4" cy="392.6" r="2.0"/><circle cx="523.4" cy="393.3" r="2.0"/><circle cx="531.3" cy="392.7" r="2.0"/><circle cx="532" cy="393.1" r="2.0"/><circle cx="531" cy="392" r="2.0"/><circle cx="533.3" cy="392.9" r="2.0"/><circle cx="506.2" cy="434.2" r="2.0"/><circle cx="508.7" cy="435.3" r="2.0"/><circle cx="508.6" cy="434.5" r="2.0"/><circle cx="510.7" cy="436.1" r="2.0"/><circle cx="513.2" cy="435.6" r="2.0"/><circle cx="513.7" cy="434.3" r="2.0"/><circle cx="517.6" cy="435.6" r="2.0"/><circle cx="520.1" cy="436" r="2.0"/><circle cx="518.7" cy="434" r="2.0"/><circle cx="523.6" cy="436.6" r="2.0"/><circle cx="524.6" cy="434.7" r="2.0"/><circle cx="526" cy="435.7" r="2.0"/><circle cx="528.3" cy="434.1" r="2.0"/><circle cx="529.9" cy="435.1" r="2.0"/><circle cx="533.3" cy="435.7" r="2.0"/><circle cx="533.9" cy="433.9" r="2.0"/><circle cx="478.3" cy="478.1" r="2.0"/><circle cx="484.7" cy="477.9" r="2.0"/><circle cx="484.3" cy="479.7" r="2.0"/><circle cx="486" cy="477.1" r="2.0"/><circle cx="488.1" cy="478.8" r="2.0"/><circle cx="490.9" cy="478.4" r="2.0"/><circle cx="492.5" cy="478.1" r="2.0"/><circle cx="495.6" cy="476.3" r="2.0"/><circle cx="497.3" cy="479" r="2.0"/><circle cx="498.9" cy="478.8" r="2.0"/><circle cx="502.8" cy="479.2" r="2.0"/><circle cx="504" cy="478.2" r="2.0"/><circle cx="504.4" cy="478.4" r="2.0"/><circle cx="508.7" cy="477.4" r="2.0"/><circle cx="508.9" cy="477.8" r="2.0"/><circle cx="512.6" cy="478.4" r="2.0"/><circle cx="514.4" cy="477.7" r="2.0"/><circle cx="517.5" cy="477.9" r="2.0"/><circle cx="520.4" cy="477.6" r="2.0"/><circle cx="523.3" cy="477.7" r="2.0"/><circle cx="524.1" cy="477.5" r="2.0"/><circle cx="527" cy="477.7" r="2.0"/><circle cx="528.6" cy="477.3" r="2.0"/><circle cx="531.8" cy="479.2" r="2.0"/><circle cx="534.9" cy="477.7" r="2.0"/><circle cx="537.7" cy="477.7" r="2.0"/><circle cx="537.1" cy="478.2" r="2.0"/><circle cx="541.5" cy="477.5" r="2.0"/><circle cx="266.7" cy="409.8" r="2.0"/><circle cx="267.3" cy="409.2" r="2.0"/><circle cx="271" cy="409.8" r="2.0"/><circle cx="275" cy="411.6" r="2.0"/><circle cx="277.9" cy="409.9" r="2.0"/><circle cx="279.5" cy="409.1" r="2.0"/><circle cx="280.6" cy="409.6" r="2.0"/><circle cx="284.4" cy="408.6" r="2.0"/><circle cx="287.1" cy="410.3" r="2.0"/><circle cx="289.1" cy="408.6" r="2.0"/><circle cx="291.2" cy="409.4" r="2.0"/><circle cx="293.9" cy="408.4" r="2.0"/><circle cx="295.3" cy="408.8" r="2.0"/><circle cx="298.9" cy="410.8" r="2.0"/></g></g><clipPath id="c672"><rect x="55" y="672.4" width="641" height="197.10000000000002"/></clipPath><g clip-path="url(#c672)"><g fill="#2f72b0" fill-opacity="0.5" stroke="#22568c" stroke-opacity="0.5" stroke-width="1" filter="url(#bl)"><circle cx="138.8" cy="774.7" r="2.0"/><circle cx="219.9" cy="814.5" r="2.0"/><circle cx="522.8" cy="680.6" r="2.0"/><circle cx="405.3" cy="720.4" r="2.0"/><circle cx="143.4" cy="844" r="2.0"/><circle cx="325.3" cy="825.2" r="2.0"/><circle cx="349.9" cy="824.5" r="2.0"/><circle cx="178.6" cy="855.7" r="2.0"/><circle cx="487" cy="770.4" r="2.0"/><circle cx="153.9" cy="740.9" r="2.0"/><circle cx="302.8" cy="802.9" r="2.0"/><circle cx="370.2" cy="773.2" r="2.0"/><circle cx="323.9" cy="723.7" r="2.0"/><circle cx="407.7" cy="725.7" r="2.0"/><circle cx="488.8" cy="797.1" r="2.0"/><circle cx="606" cy="845.4" r="2.0"/><circle cx="245.4" cy="801.2" r="2.0"/><circle cx="440.9" cy="786.2" r="2.0"/><circle cx="466.5" cy="858.1" r="2.0"/><circle cx="249.9" cy="809.8" r="2.0"/><circle cx="93.7" cy="759.9" r="2.0"/><circle cx="615.2" cy="797.5" r="2.0"/><circle cx="253" cy="681.6" r="2.0"/><circle cx="261.4" cy="681.5" r="2.0"/><circle cx="571.4" cy="855.7" r="2.0"/><circle cx="406.9" cy="846.8" r="2.0"/><circle cx="345.8" cy="758.3" r="2.0"/><circle cx="507.8" cy="733.3" r="2.0"/><circle cx="109.1" cy="736.1" r="2.0"/><circle cx="472.2" cy="793.9" r="2.0"/><circle cx="293.7" cy="832.2" r="2.0"/><circle cx="141.6" cy="780" r="2.0"/><circle cx="447.3" cy="845.3" r="2.0"/><circle cx="592.7" cy="806.3" r="2.0"/><circle cx="204" cy="814.2" r="2.0"/><circle cx="431" cy="769" r="2.0"/><circle cx="252.9" cy="701" r="2.0"/><circle cx="490.9" cy="680.5" r="2.0"/><circle cx="480.4" cy="729.9" r="2.0"/><circle cx="210.2" cy="821.3" r="2.0"/><circle cx="538.2" cy="738.3" r="2.0"/><circle cx="445.8" cy="682.3" r="2.0"/><circle cx="459.3" cy="829.1" r="2.0"/><circle cx="532.9" cy="750.3" r="2.0"/><circle cx="322.8" cy="714.3" r="2.0"/><circle cx="500" cy="844.2" r="2.0"/><circle cx="564.3" cy="795.5" r="2.0"/><circle cx="147.8" cy="680.7" r="2.0"/><circle cx="548.9" cy="796.2" r="2.0"/><circle cx="304.2" cy="681.6" r="2.0"/><circle cx="350.3" cy="768.4" r="2.0"/><circle cx="171.4" cy="860.8" r="2.0"/><circle cx="467.6" cy="836" r="2.0"/><circle cx="249.5" cy="839.8" r="2.0"/><circle cx="560.3" cy="799.9" r="2.0"/><circle cx="240.6" cy="777.4" r="2.0"/><circle cx="394.3" cy="777.4" r="2.0"/><circle cx="307.3" cy="809.8" r="2.0"/><circle cx="421.8" cy="742.3" r="2.0"/><circle cx="198.4" cy="777.1" r="2.0"/><circle cx="189.6" cy="774.4" r="2.0"/><circle cx="493.6" cy="820.5" r="2.0"/><circle cx="496.5" cy="813.3" r="2.0"/><circle cx="397.1" cy="832.5" r="2.0"/><circle cx="587.1" cy="778.3" r="2.0"/><circle cx="203.3" cy="830.2" r="2.0"/><circle cx="549.5" cy="773.2" r="2.0"/><circle cx="183.5" cy="814.4" r="2.0"/><circle cx="610.3" cy="777.2" r="2.0"/><circle cx="427.5" cy="812.6" r="2.0"/><circle cx="418.5" cy="784.5" r="2.0"/><circle cx="613.7" cy="834.6" r="2.0"/><circle cx="515.2" cy="734.5" r="2.0"/><circle cx="516.7" cy="728.6" r="2.0"/><circle cx="121.9" cy="789" r="2.0"/><circle cx="291" cy="740.2" r="2.0"/><circle cx="138.4" cy="777.6" r="2.0"/><circle cx="196.7" cy="823.1" r="2.0"/><circle cx="207.6" cy="773.5" r="2.0"/><circle cx="553.6" cy="845.3" r="2.0"/><circle cx="160.9" cy="845.7" r="2.0"/><circle cx="252.1" cy="796.7" r="2.0"/><circle cx="357.3" cy="858.2" r="2.0"/><circle cx="548.7" cy="770" r="2.0"/><circle cx="610.8" cy="780.7" r="2.0"/><circle cx="472.9" cy="804.9" r="2.0"/><circle cx="207.5" cy="779.6" r="2.0"/><circle cx="385.3" cy="857.3" r="2.0"/><circle cx="471.7" cy="790.3" r="2.0"/><circle cx="120.7" cy="775.2" r="2.0"/><circle cx="457.7" cy="845.4" r="2.0"/><circle cx="290.5" cy="746.5" r="2.0"/><circle cx="409.3" cy="805.2" r="2.0"/><circle cx="452.1" cy="844.1" r="2.0"/><circle cx="451.9" cy="780.2" r="2.0"/><circle cx="373.5" cy="795.5" r="2.0"/><circle cx="390.5" cy="844.2" r="2.0"/><circle cx="199.2" cy="794.7" r="2.0"/><circle cx="358.6" cy="746.1" r="2.0"/><circle cx="160.2" cy="756.2" r="2.0"/><circle cx="350.8" cy="844.8" r="2.0"/><circle cx="380.6" cy="804.2" r="2.0"/><circle cx="508.3" cy="718.6" r="2.0"/><circle cx="304.1" cy="755.7" r="2.0"/><circle cx="103.4" cy="742.6" r="2.0"/><circle cx="376.1" cy="786.3" r="2.0"/><circle cx="203" cy="816.3" r="2.0"/><circle cx="490.6" cy="813.4" r="2.0"/><circle cx="301.4" cy="744.2" r="2.0"/><circle cx="297" cy="832.8" r="2.0"/><circle cx="580.9" cy="846.2" r="2.0"/><circle cx="303.7" cy="759.9" r="2.0"/><circle cx="280.1" cy="688.4" r="2.0"/><circle cx="279.6" cy="780.8" r="2.0"/><circle cx="350.8" cy="693.2" r="2.0"/><circle cx="142.9" cy="772.5" r="2.0"/><circle cx="386.3" cy="682.3" r="2.0"/><circle cx="587.3" cy="845.8" r="2.0"/><circle cx="394.9" cy="699.5" r="2.0"/><circle cx="492.1" cy="809.3" r="2.0"/><circle cx="601.1" cy="775.6" r="2.0"/><circle cx="544.7" cy="777.1" r="2.0"/><circle cx="492.1" cy="709.1" r="2.0"/><circle cx="529.2" cy="743.2" r="2.0"/><circle cx="533" cy="859.1" r="2.0"/><circle cx="229" cy="779.8" r="2.0"/><circle cx="351.5" cy="808.1" r="2.0"/><circle cx="276.8" cy="812.5" r="2.0"/><circle cx="233.3" cy="735.1" r="2.0"/><circle cx="399.6" cy="780.7" r="2.0"/><circle cx="263.4" cy="839.6" r="2.0"/><circle cx="424.8" cy="855.3" r="2.0"/><circle cx="405.4" cy="856.7" r="2.0"/><circle cx="148.9" cy="682.6" r="2.0"/><circle cx="330.3" cy="805.2" r="2.0"/><circle cx="302.1" cy="725.4" r="2.0"/><circle cx="472.1" cy="775.7" r="2.0"/><circle cx="140.2" cy="766.6" r="2.0"/><circle cx="183.5" cy="751.7" r="2.0"/><circle cx="367.9" cy="791.4" r="2.0"/><circle cx="310" cy="790.5" r="2.0"/><circle cx="449.9" cy="835.7" r="2.0"/><circle cx="271.5" cy="771.2" r="2.0"/><circle cx="198.7" cy="680.4" r="2.0"/><circle cx="592.9" cy="682.5" r="2.0"/><circle cx="223.7" cy="680.9" r="2.0"/><circle cx="171.8" cy="818.5" r="2.0"/><circle cx="243.1" cy="773" r="2.0"/><circle cx="275.2" cy="683.9" r="2.0"/><circle cx="213.7" cy="710.2" r="2.0"/><circle cx="380.7" cy="732.7" r="2.0"/><circle cx="595.6" cy="745.1" r="2.0"/><circle cx="160.5" cy="822.2" r="2.0"/><circle cx="315.6" cy="854.2" r="2.0"/><circle cx="451.4" cy="681.5" r="2.0"/><circle cx="567.6" cy="724.3" r="2.0"/><circle cx="629.4" cy="769.9" r="2.0"/><circle cx="169.9" cy="802.5" r="2.0"/><circle cx="381.2" cy="722.6" r="2.0"/><circle cx="565.7" cy="845.1" r="2.0"/><circle cx="121.3" cy="681" r="2.0"/><circle cx="408.5" cy="680.7" r="2.0"/><circle cx="186.2" cy="858.8" r="2.0"/><circle cx="504.9" cy="723.8" r="2.0"/><circle cx="596" cy="843.9" r="2.0"/><circle cx="381.7" cy="776.6" r="2.0"/><circle cx="97.7" cy="801.7" r="2.0"/><circle cx="127.3" cy="799.4" r="2.0"/><circle cx="315.9" cy="785.3" r="2.0"/><circle cx="547.5" cy="790" r="2.0"/><circle cx="219.9" cy="857.9" r="2.0"/><circle cx="451.9" cy="823.8" r="2.0"/><circle cx="310.4" cy="805.9" r="2.0"/><circle cx="235.1" cy="679.8" r="2.0"/><circle cx="470.6" cy="813.8" r="2.0"/><circle cx="258.3" cy="782.3" r="2.0"/><circle cx="292.4" cy="712" r="2.0"/><circle cx="503.5" cy="855.7" r="2.0"/><circle cx="358.6" cy="793.3" r="2.0"/><circle cx="513.5" cy="727" r="2.0"/><circle cx="369.9" cy="808.5" r="2.0"/><circle cx="178.7" cy="816.8" r="2.0"/><circle cx="331" cy="754.6" r="2.0"/><circle cx="561.2" cy="844.4" r="2.0"/><circle cx="396" cy="782.3" r="2.0"/><circle cx="610.6" cy="756" r="2.0"/><circle cx="93.5" cy="789.1" r="2.0"/><circle cx="275.5" cy="797" r="2.0"/><circle cx="505.5" cy="756.4" r="2.0"/><circle cx="461.1" cy="775.9" r="2.0"/><circle cx="393.9" cy="802.5" r="2.0"/><circle cx="449" cy="823" r="2.0"/><circle cx="563.2" cy="797.8" r="2.0"/><circle cx="459.7" cy="837.1" r="2.0"/><circle cx="386.5" cy="813" r="2.0"/><circle cx="394.7" cy="819.9" r="2.0"/><circle cx="450.4" cy="777.2" r="2.0"/><circle cx="266.7" cy="680.4" r="2.0"/><circle cx="452.1" cy="806.3" r="2.0"/><circle cx="422.9" cy="857.4" r="2.0"/><circle cx="514.6" cy="820.1" r="2.0"/><circle cx="350.6" cy="828.8" r="2.0"/><circle cx="107.4" cy="799.6" r="2.0"/><circle cx="381" cy="769" r="2.0"/><circle cx="553.1" cy="855.5" r="2.0"/><circle cx="436.3" cy="780.6" r="2.0"/><circle cx="438.2" cy="794.8" r="2.0"/><circle cx="302.7" cy="740" r="2.0"/><circle cx="284.2" cy="810.5" r="2.0"/><circle cx="478.6" cy="756.4" r="2.0"/><circle cx="134.6" cy="758.3" r="2.0"/><circle cx="557.8" cy="855.7" r="2.0"/><circle cx="563.1" cy="784.5" r="2.0"/><circle cx="609.3" cy="680.4" r="2.0"/><circle cx="165.7" cy="832.8" r="2.0"/><circle cx="154.8" cy="738.3" r="2.0"/><circle cx="572.6" cy="761.1" r="2.0"/><circle cx="308.1" cy="765.1" r="2.0"/><circle cx="237.9" cy="790" r="2.0"/><circle cx="298" cy="796.5" r="2.0"/><circle cx="446.8" cy="820.4" r="2.0"/><circle cx="179.5" cy="767.9" r="2.0"/><circle cx="354.3" cy="795.5" r="2.0"/><circle cx="447.1" cy="834.1" r="2.0"/><circle cx="479.6" cy="809.2" r="2.0"/><circle cx="99.4" cy="846.9" r="2.0"/><circle cx="528" cy="842.9" r="2.0"/><circle cx="325.8" cy="793.4" r="2.0"/><circle cx="326.7" cy="782.6" r="2.0"/><circle cx="394.6" cy="823.1" r="2.0"/><circle cx="243.2" cy="817.6" r="2.0"/><circle cx="568.7" cy="857.8" r="2.0"/><circle cx="206.7" cy="856.5" r="2.0"/><circle cx="384.1" cy="779" r="2.0"/><circle cx="183" cy="729.4" r="2.0"/><circle cx="423.5" cy="721.6" r="2.0"/><circle cx="576.8" cy="764.6" r="2.0"/><circle cx="566.5" cy="770.8" r="2.0"/><circle cx="165.1" cy="778.5" r="2.0"/><circle cx="428.2" cy="794.5" r="2.0"/><circle cx="571.8" cy="723.6" r="2.0"/><circle cx="200.3" cy="823.1" r="2.0"/><circle cx="315.4" cy="738.5" r="2.0"/><circle cx="475.5" cy="831.7" r="2.0"/><circle cx="488.9" cy="711.8" r="2.0"/><circle cx="335" cy="681.6" r="2.0"/><circle cx="435.6" cy="855.9" r="2.0"/><circle cx="451.8" cy="775.4" r="2.0"/><circle cx="282.4" cy="760.3" r="2.0"/><circle cx="442.8" cy="706.5" r="2.0"/><circle cx="402.7" cy="802.3" r="2.0"/><circle cx="467.1" cy="844.7" r="2.0"/><circle cx="367.4" cy="752.1" r="2.0"/><circle cx="273.4" cy="682.7" r="2.0"/><circle cx="326" cy="846.2" r="2.0"/><circle cx="587.9" cy="802.3" r="2.0"/><circle cx="193.5" cy="682.9" r="2.0"/><circle cx="172.4" cy="776.4" r="2.0"/><circle cx="99.4" cy="792.8" r="2.0"/><circle cx="550.1" cy="682.3" r="2.0"/><circle cx="623.4" cy="743.6" r="2.0"/><circle cx="219.8" cy="843.7" r="2.0"/><circle cx="235.7" cy="801" r="2.0"/><circle cx="199.3" cy="856.3" r="2.0"/><circle cx="414.9" cy="845.7" r="2.0"/><circle cx="353.2" cy="758.1" r="2.0"/><circle cx="533.2" cy="814.7" r="2.0"/><circle cx="205.4" cy="680.8" r="2.0"/><circle cx="564" cy="844.4" r="2.0"/><circle cx="341.8" cy="729.1" r="2.0"/><circle cx="526.4" cy="767.2" r="2.0"/><circle cx="523.3" cy="786.8" r="2.0"/><circle cx="581.6" cy="799.3" r="2.0"/><circle cx="360.5" cy="759.4" r="2.0"/><circle cx="420" cy="754.9" r="2.0"/><circle cx="393.9" cy="827.5" r="2.0"/><circle cx="195" cy="846.8" r="2.0"/><circle cx="362" cy="790" r="2.0"/><circle cx="590.1" cy="679.7" r="2.0"/><circle cx="580.6" cy="804.2" r="2.0"/><circle cx="104.4" cy="760.9" r="2.0"/><circle cx="448.8" cy="680.7" r="2.0"/><circle cx="268.2" cy="680.9" r="2.0"/><circle cx="165.8" cy="791.9" r="2.0"/><circle cx="167.7" cy="700.5" r="2.0"/><circle cx="519.4" cy="769.2" r="2.0"/><circle cx="607.6" cy="775.6" r="2.0"/><circle cx="372" cy="835.4" r="2.0"/><circle cx="298.7" cy="765.7" r="2.0"/><circle cx="366.5" cy="857" r="2.0"/><circle cx="537.9" cy="765.1" r="2.0"/><circle cx="493.6" cy="769.2" r="2.0"/><circle cx="127.3" cy="763.4" r="2.0"/><circle cx="206.9" cy="680.1" r="2.0"/><circle cx="558.5" cy="764.1" r="2.0"/><circle cx="357.5" cy="741.2" r="2.0"/><circle cx="445.8" cy="817" r="2.0"/><circle cx="510.1" cy="753.8" r="2.0"/><circle cx="434.5" cy="771" r="2.0"/><circle cx="486.7" cy="834" r="2.0"/><circle cx="385.7" cy="845.1" r="2.0"/><circle cx="215.9" cy="843.9" r="2.0"/><circle cx="193.3" cy="681.7" r="2.0"/><circle cx="626" cy="760.2" r="2.0"/><circle cx="98.5" cy="793" r="2.0"/><circle cx="463.6" cy="845.6" r="2.0"/><circle cx="565.4" cy="730" r="2.0"/><circle cx="217" cy="816.3" r="2.0"/><circle cx="118.9" cy="846.9" r="2.0"/><circle cx="307.1" cy="789.7" r="2.0"/><circle cx="269.9" cy="778.8" r="2.0"/><circle cx="340.6" cy="680.9" r="2.0"/><circle cx="322.2" cy="769.2" r="2.0"/><circle cx="598.4" cy="846.1" r="2.0"/><circle cx="156.9" cy="843.9" r="2.0"/><circle cx="599.4" cy="785.5" r="2.0"/><circle cx="117.4" cy="818.8" r="2.0"/><circle cx="596.3" cy="775.8" r="2.0"/><circle cx="271.6" cy="758.1" r="2.0"/><circle cx="483" cy="681.4" r="2.0"/><circle cx="94.5" cy="795.6" r="2.0"/><circle cx="332.9" cy="839.5" r="2.0"/><circle cx="456.6" cy="753.6" r="2.0"/><circle cx="430" cy="847.2" r="2.0"/><circle cx="525.6" cy="765.4" r="2.0"/><circle cx="175.2" cy="680.9" r="2.0"/><circle cx="308.2" cy="754.4" r="2.0"/><circle cx="422.2" cy="802.8" r="2.0"/><circle cx="108.3" cy="792.3" r="2.0"/><circle cx="541.3" cy="846.9" r="2.0"/><circle cx="316.2" cy="681.5" r="2.0"/><circle cx="224.9" cy="789.2" r="2.0"/><circle cx="212.2" cy="737.8" r="2.0"/><circle cx="442.2" cy="771" r="2.0"/><circle cx="118.5" cy="843.7" r="2.0"/><circle cx="224" cy="792.9" r="2.0"/><circle cx="255.9" cy="780.5" r="2.0"/><circle cx="231.6" cy="781.9" r="2.0"/><circle cx="484.9" cy="761.8" r="2.0"/><circle cx="410.8" cy="723.6" r="2.0"/><circle cx="577.9" cy="740.4" r="2.0"/><circle cx="469" cy="775.7" r="2.0"/><circle cx="250.9" cy="807.1" r="2.0"/><circle cx="266.9" cy="758.9" r="2.0"/><circle cx="159" cy="778.2" r="2.0"/><circle cx="223" cy="835.7" r="2.0"/><circle cx="417.3" cy="683.1" r="2.0"/><circle cx="485.1" cy="681.8" r="2.0"/><circle cx="251.6" cy="774.9" r="2.0"/><circle cx="277.6" cy="776.3" r="2.0"/><circle cx="523.7" cy="802.5" r="2.0"/><circle cx="607.2" cy="682.4" r="2.0"/><circle cx="138.3" cy="857.4" r="2.0"/><circle cx="131.1" cy="830.4" r="2.0"/><circle cx="500.3" cy="807.6" r="2.0"/><circle cx="358.9" cy="761.1" r="2.0"/><circle cx="320.9" cy="837" r="2.0"/><circle cx="432.8" cy="781.8" r="2.0"/><circle cx="500.9" cy="857" r="2.0"/><circle cx="130.3" cy="734.3" r="2.0"/><circle cx="609" cy="799.7" r="2.0"/><circle cx="607" cy="817.5" r="2.0"/><circle cx="316.4" cy="803.3" r="2.0"/><circle cx="344.8" cy="808.4" r="2.0"/><circle cx="239" cy="678.7" r="2.0"/><circle cx="408.1" cy="748.3" r="2.0"/><circle cx="202.9" cy="844.7" r="2.0"/><circle cx="379.7" cy="823.1" r="2.0"/><circle cx="578.1" cy="728.4" r="2.0"/><circle cx="364.5" cy="754.7" r="2.0"/><circle cx="536.7" cy="855.2" r="2.0"/><circle cx="189" cy="844.9" r="2.0"/><circle cx="567" cy="679.1" r="2.0"/><circle cx="159" cy="845.5" r="2.0"/><circle cx="207.1" cy="794.3" r="2.0"/><circle cx="479.3" cy="809.5" r="2.0"/><circle cx="254.9" cy="853.6" r="2.0"/><circle cx="156.7" cy="724.6" r="2.0"/><circle cx="139.4" cy="738.2" r="2.0"/><circle cx="518.6" cy="826.7" r="2.0"/><circle cx="103.5" cy="682.1" r="2.0"/><circle cx="123.1" cy="818.4" r="2.0"/><circle cx="600.2" cy="827.3" r="2.0"/><circle cx="512.6" cy="682.5" r="2.0"/><circle cx="291.6" cy="772.2" r="2.0"/><circle cx="196.1" cy="844.3" r="2.0"/><circle cx="558.2" cy="803.5" r="2.0"/><circle cx="515.5" cy="771.9" r="2.0"/><circle cx="451.6" cy="745.6" r="2.0"/><circle cx="377.5" cy="806.7" r="2.0"/><circle cx="374.7" cy="775.1" r="2.0"/><circle cx="617.6" cy="858.8" r="2.0"/><circle cx="373.1" cy="777.8" r="2.0"/><circle cx="138" cy="822.7" r="2.0"/><circle cx="133" cy="837.6" r="2.0"/><circle cx="412.4" cy="785.2" r="2.0"/><circle cx="486" cy="768.4" r="2.0"/><circle cx="430" cy="765.8" r="2.0"/><circle cx="491.5" cy="808.4" r="2.0"/><circle cx="250.7" cy="808.7" r="2.0"/><circle cx="292" cy="858.2" r="2.0"/><circle cx="235.2" cy="740.7" r="2.0"/><circle cx="292.8" cy="798.4" r="2.0"/><circle cx="235.9" cy="843.7" r="2.0"/><circle cx="540.5" cy="681.2" r="2.0"/><circle cx="172.2" cy="856.9" r="2.0"/><circle cx="204.4" cy="758.4" r="2.0"/><circle cx="476" cy="783.5" r="2.0"/><circle cx="306.4" cy="820.6" r="2.0"/><circle cx="276" cy="731.7" r="2.0"/><circle cx="615.8" cy="704.7" r="2.0"/><circle cx="572.5" cy="803.2" r="2.0"/><circle cx="210.4" cy="771.2" r="2.0"/><circle cx="176.2" cy="743.1" r="2.0"/><circle cx="357.1" cy="803.4" r="2.0"/><circle cx="400.9" cy="844.2" r="2.0"/><circle cx="278.9" cy="822.4" r="2.0"/><circle cx="410.2" cy="799.6" r="2.0"/><circle cx="456.8" cy="756.4" r="2.0"/><circle cx="530" cy="854.5" r="2.0"/><circle cx="222.8" cy="753.8" r="2.0"/><circle cx="439" cy="857.9" r="2.0"/><circle cx="124" cy="835" r="2.0"/><circle cx="127.6" cy="847.4" r="2.0"/><circle cx="122.6" cy="798.4" r="2.0"/><circle cx="155.3" cy="736.5" r="2.0"/><circle cx="512.4" cy="766.9" r="2.0"/><circle cx="291.9" cy="853.2" r="2.0"/><circle cx="357.3" cy="756.3" r="2.0"/><circle cx="334.8" cy="722.4" r="2.0"/><circle cx="204" cy="741.1" r="2.0"/><circle cx="117.4" cy="844" r="2.0"/><circle cx="190.4" cy="782.4" r="2.0"/><circle cx="553.4" cy="683.4" r="2.0"/><circle cx="274.6" cy="812.6" r="2.0"/><circle cx="318.5" cy="809.8" r="2.0"/><circle cx="234.7" cy="839.6" r="2.0"/><circle cx="490.6" cy="824.2" r="2.0"/><circle cx="469.8" cy="745.3" r="2.0"/><circle cx="298.8" cy="765.6" r="2.0"/><circle cx="364.6" cy="750.2" r="2.0"/><circle cx="305.3" cy="801" r="2.0"/><circle cx="400.5" cy="762.9" r="2.0"/><circle cx="411.4" cy="762.8" r="2.0"/><circle cx="402.7" cy="784.9" r="2.0"/><circle cx="576.7" cy="764.2" r="2.0"/><circle cx="602.8" cy="853.3" r="2.0"/><circle cx="120.4" cy="797.9" r="2.0"/><circle cx="296.6" cy="679.4" r="2.0"/><circle cx="114.5" cy="799.7" r="2.0"/><circle cx="293.9" cy="737.6" r="2.0"/><circle cx="523.8" cy="769" r="2.0"/><circle cx="457.5" cy="795.9" r="2.0"/><circle cx="397.3" cy="809.6" r="2.0"/><circle cx="139.2" cy="847.3" r="2.0"/><circle cx="528.2" cy="842.4" r="2.0"/><circle cx="421.5" cy="793" r="2.0"/><circle cx="255.3" cy="803.4" r="2.0"/><circle cx="514.3" cy="803.8" r="2.0"/><circle cx="113.8" cy="779.8" r="2.0"/><circle cx="193.5" cy="681.3" r="2.0"/><circle cx="516.3" cy="693.2" r="2.0"/><circle cx="117.5" cy="681.9" r="2.0"/><circle cx="163.8" cy="845.5" r="2.0"/><circle cx="362" cy="679.7" r="2.0"/><circle cx="473.9" cy="836.1" r="2.0"/><circle cx="409.1" cy="750.8" r="2.0"/><circle cx="112.7" cy="725.8" r="2.0"/><circle cx="240.3" cy="816" r="2.0"/><circle cx="471.8" cy="679.3" r="2.0"/><circle cx="279.8" cy="860.2" r="2.0"/><circle cx="197.1" cy="844" r="2.0"/><circle cx="94.1" cy="689.6" r="2.0"/><circle cx="233.8" cy="714.6" r="2.0"/><circle cx="592.3" cy="844.4" r="2.0"/><circle cx="119.5" cy="763.2" r="2.0"/><circle cx="389.7" cy="814.7" r="2.0"/><circle cx="581" cy="845.8" r="2.0"/><circle cx="468.8" cy="855.7" r="2.0"/><circle cx="243.6" cy="807.2" r="2.0"/><circle cx="440.9" cy="681" r="2.0"/><circle cx="156.9" cy="804.6" r="2.0"/><circle cx="360.6" cy="800.6" r="2.0"/><circle cx="234.1" cy="812.9" r="2.0"/><circle cx="562.8" cy="798.4" r="2.0"/><circle cx="557.5" cy="679.8" r="2.0"/><circle cx="501.7" cy="843.1" r="2.0"/><circle cx="294.4" cy="792.1" r="2.0"/><circle cx="520.5" cy="819.5" r="2.0"/><circle cx="618.7" cy="743.6" r="2.0"/><circle cx="291.1" cy="768.7" r="2.0"/><circle cx="374.7" cy="755.1" r="2.0"/><circle cx="180" cy="787.1" r="2.0"/><circle cx="151" cy="764" r="2.0"/><circle cx="479.3" cy="788.1" r="2.0"/><circle cx="125.2" cy="814.1" r="2.0"/><circle cx="415.6" cy="781.8" r="2.0"/><circle cx="153.8" cy="855.8" r="2.0"/><circle cx="451.9" cy="780.9" r="2.0"/><circle cx="497.2" cy="803.3" r="2.0"/><circle cx="597.8" cy="837.6" r="2.0"/><circle cx="302.1" cy="775.9" r="2.0"/><circle cx="301.9" cy="809.1" r="2.0"/><circle cx="307.3" cy="793.4" r="2.0"/><circle cx="471.6" cy="857.3" r="2.0"/><circle cx="515.6" cy="859.4" r="2.0"/><circle cx="155" cy="805.1" r="2.0"/><circle cx="267.1" cy="833.2" r="2.0"/><circle cx="122.5" cy="683.7" r="2.0"/><circle cx="218.9" cy="682.3" r="2.0"/><circle cx="486.6" cy="856.2" r="2.0"/><circle cx="595.6" cy="682.5" r="2.0"/><circle cx="618.9" cy="857.2" r="2.0"/><circle cx="129.4" cy="844.5" r="2.0"/><circle cx="308.5" cy="769.2" r="2.0"/><circle cx="561" cy="774.6" r="2.0"/><circle cx="363.7" cy="819.6" r="2.0"/><circle cx="280.4" cy="790.8" r="2.0"/><circle cx="512.7" cy="838.3" r="2.0"/><circle cx="556.7" cy="812.9" r="2.0"/><circle cx="171.2" cy="765.3" r="2.0"/><circle cx="370.4" cy="683.6" r="2.0"/><circle cx="171.9" cy="791.9" r="2.0"/><circle cx="189.6" cy="841.8" r="2.0"/><circle cx="377.6" cy="680" r="2.0"/><circle cx="228.5" cy="693.4" r="2.0"/><circle cx="524.9" cy="767.2" r="2.0"/><circle cx="288.9" cy="702.5" r="2.0"/><circle cx="190.1" cy="741.6" r="2.0"/><circle cx="430.5" cy="751" r="2.0"/><circle cx="233.5" cy="760.4" r="2.0"/><circle cx="128.5" cy="745.2" r="2.0"/><circle cx="629" cy="677.7" r="2.0"/><circle cx="191.7" cy="770" r="2.0"/><circle cx="163.3" cy="732.1" r="2.0"/><circle cx="350.7" cy="843.9" r="2.0"/><circle cx="95" cy="788.6" r="2.0"/><circle cx="516.4" cy="854.9" r="2.0"/><circle cx="133.2" cy="799.5" r="2.0"/><circle cx="114.1" cy="779.2" r="2.0"/><circle cx="611.2" cy="844.4" r="2.0"/><circle cx="370.2" cy="770" r="2.0"/><circle cx="591.2" cy="784.4" r="2.0"/><circle cx="574.2" cy="841.2" r="2.0"/><circle cx="486.7" cy="683.2" r="2.0"/><circle cx="108.8" cy="842.8" r="2.0"/><circle cx="438.3" cy="797.8" r="2.0"/><circle cx="127.8" cy="855.8" r="2.0"/><circle cx="98.6" cy="798.3" r="2.0"/><circle cx="546" cy="778.7" r="2.0"/><circle cx="257.5" cy="844.8" r="2.0"/><circle cx="493.8" cy="682.1" r="2.0"/><circle cx="377.2" cy="740.3" r="2.0"/><circle cx="513.6" cy="806.2" r="2.0"/><circle cx="436.2" cy="728.1" r="2.0"/><circle cx="614.9" cy="846" r="2.0"/><circle cx="347.6" cy="762.5" r="2.0"/><circle cx="550.7" cy="858" r="2.0"/><circle cx="533.9" cy="842" r="2.0"/><circle cx="407.7" cy="728.6" r="2.0"/><circle cx="364.6" cy="839.1" r="2.0"/><circle cx="323.7" cy="824" r="2.0"/><circle cx="439.5" cy="813.2" r="2.0"/><circle cx="198" cy="853.7" r="2.0"/><circle cx="328.5" cy="794.7" r="2.0"/><circle cx="440.1" cy="843" r="2.0"/><circle cx="257.8" cy="853.9" r="2.0"/><circle cx="209.2" cy="771.8" r="2.0"/><circle cx="149.9" cy="843" r="2.0"/><circle cx="524.6" cy="816.2" r="2.0"/><circle cx="562.8" cy="813.4" r="2.0"/><circle cx="540.4" cy="772.7" r="2.0"/><circle cx="472" cy="771.1" r="2.0"/><circle cx="417.3" cy="796" r="2.0"/><circle cx="124" cy="790.1" r="2.0"/><circle cx="565.5" cy="785.9" r="2.0"/><circle cx="347" cy="824.9" r="2.0"/><circle cx="461.3" cy="679.7" r="2.0"/><circle cx="157.8" cy="776.5" r="2.0"/><circle cx="493" cy="807.5" r="2.0"/><circle cx="171.7" cy="719.8" r="2.0"/><circle cx="607.1" cy="681.7" r="2.0"/><circle cx="474.2" cy="783.2" r="2.0"/><circle cx="377.6" cy="803.2" r="2.0"/><circle cx="443.4" cy="797.8" r="2.0"/><circle cx="216.2" cy="785.5" r="2.0"/><circle cx="360.7" cy="794.5" r="2.0"/><circle cx="139.1" cy="786.7" r="2.0"/><circle cx="242.9" cy="772.6" r="2.0"/><circle cx="246.1" cy="681.3" r="2.0"/><circle cx="181.5" cy="769" r="2.0"/><circle cx="316.1" cy="803.7" r="2.0"/><circle cx="126.8" cy="682.4" r="2.0"/><circle cx="106.7" cy="758.1" r="2.0"/><circle cx="271.4" cy="803.8" r="2.0"/><circle cx="624.9" cy="755.3" r="2.0"/><circle cx="483" cy="790" r="2.0"/><circle cx="322.4" cy="772.7" r="2.0"/><circle cx="199.9" cy="680.8" r="2.0"/><circle cx="158.1" cy="775.2" r="2.0"/><circle cx="316.4" cy="785.4" r="2.0"/><circle cx="443.5" cy="767" r="2.0"/><circle cx="536.2" cy="791.1" r="2.0"/><circle cx="341" cy="796.6" r="2.0"/><circle cx="550" cy="854.4" r="2.0"/><circle cx="528.2" cy="856.5" r="2.0"/><circle cx="548.8" cy="845.3" r="2.0"/><circle cx="271" cy="762.1" r="2.0"/><circle cx="343.5" cy="682.7" r="2.0"/><circle cx="178.9" cy="773.5" r="2.0"/><circle cx="406.5" cy="779.1" r="2.0"/><circle cx="115.6" cy="820.4" r="2.0"/><circle cx="344.8" cy="810" r="2.0"/><circle cx="180.7" cy="788.3" r="2.0"/><circle cx="349.2" cy="734.2" r="2.0"/><circle cx="190.1" cy="752.7" r="2.0"/><circle cx="93.7" cy="845.7" r="2.0"/><circle cx="319.2" cy="700" r="2.0"/><circle cx="322.7" cy="846.1" r="2.0"/><circle cx="383.2" cy="843.1" r="2.0"/><circle cx="159.8" cy="766.8" r="2.0"/><circle cx="360.2" cy="680.2" r="2.0"/><circle cx="253.7" cy="822.5" r="2.0"/><circle cx="136.5" cy="777.5" r="2.0"/><circle cx="313" cy="739.8" r="2.0"/><circle cx="450.7" cy="727.8" r="2.0"/><circle cx="255.4" cy="845" r="2.0"/><circle cx="475.7" cy="805.7" r="2.0"/><circle cx="516.1" cy="787.5" r="2.0"/><circle cx="100.4" cy="800.1" r="2.0"/><circle cx="208.5" cy="748.2" r="2.0"/><circle cx="245.1" cy="809.7" r="2.0"/><circle cx="410.7" cy="815.7" r="2.0"/><circle cx="354.2" cy="680.5" r="2.0"/><circle cx="397.7" cy="778.8" r="2.0"/><circle cx="132.5" cy="771.7" r="2.0"/><circle cx="246.9" cy="802.3" r="2.0"/><circle cx="179.2" cy="807" r="2.0"/><circle cx="493.2" cy="843.8" r="2.0"/><circle cx="459.6" cy="744.7" r="2.0"/><circle cx="256.5" cy="824.3" r="2.0"/><circle cx="563" cy="834" r="2.0"/><circle cx="165.6" cy="848" r="2.0"/><circle cx="102.4" cy="773.3" r="2.0"/><circle cx="293.2" cy="747.1" r="2.0"/><circle cx="451.6" cy="680.7" r="2.0"/><circle cx="600.6" cy="682.4" r="2.0"/><circle cx="365.8" cy="736.5" r="2.0"/><circle cx="166.1" cy="750.4" r="2.0"/><circle cx="413.4" cy="775.7" r="2.0"/><circle cx="101.9" cy="790.9" r="2.0"/><circle cx="531.8" cy="819.3" r="2.0"/><circle cx="265.9" cy="843.3" r="2.0"/><circle cx="147.5" cy="845.9" r="2.0"/><circle cx="173" cy="818" r="2.0"/><circle cx="537.5" cy="792.4" r="2.0"/><circle cx="579.3" cy="835.4" r="2.0"/><circle cx="191.9" cy="681.6" r="2.0"/><circle cx="628.4" cy="680.6" r="2.0"/><circle cx="554.5" cy="834.7" r="2.0"/><circle cx="269.6" cy="794" r="2.0"/><circle cx="120.3" cy="848.8" r="2.0"/><circle cx="174" cy="855.2" r="2.0"/><circle cx="327.1" cy="760.5" r="2.0"/><circle cx="203.1" cy="819" r="2.0"/><circle cx="190.5" cy="846.7" r="2.0"/><circle cx="239.2" cy="844.2" r="2.0"/><circle cx="563.8" cy="682.6" r="2.0"/><circle cx="112.4" cy="810.4" r="2.0"/><circle cx="587.9" cy="836.3" r="2.0"/><circle cx="333.9" cy="836.3" r="2.0"/><circle cx="488.9" cy="682.7" r="2.0"/><circle cx="367.6" cy="856.4" r="2.0"/><circle cx="600.2" cy="735.5" r="2.0"/><circle cx="190.1" cy="816.5" r="2.0"/><circle cx="229.9" cy="800" r="2.0"/><circle cx="365.6" cy="857.4" r="2.0"/><circle cx="365.3" cy="835.1" r="2.0"/><circle cx="270.5" cy="789.2" r="2.0"/><circle cx="256.7" cy="859.4" r="2.0"/><circle cx="140.7" cy="842.6" r="2.0"/><circle cx="362.3" cy="769" r="2.0"/><circle cx="538.6" cy="797.6" r="2.0"/><circle cx="558" cy="755.7" r="2.0"/><circle cx="315.4" cy="802.8" r="2.0"/><circle cx="618.5" cy="762.8" r="2.0"/><circle cx="611.7" cy="794.1" r="2.0"/><circle cx="264.3" cy="848.9" r="2.0"/><circle cx="155.4" cy="792.2" r="2.0"/><circle cx="541.3" cy="761.5" r="2.0"/><circle cx="597.7" cy="810.3" r="2.0"/><circle cx="441.2" cy="790.5" r="2.0"/><circle cx="610.4" cy="856.2" r="2.0"/><circle cx="349.1" cy="780.8" r="2.0"/><circle cx="373.9" cy="812.4" r="2.0"/><circle cx="132.6" cy="740.2" r="2.0"/><circle cx="291.4" cy="859.5" r="2.0"/><circle cx="589" cy="780" r="2.0"/><circle cx="148.3" cy="756.2" r="2.0"/><circle cx="166.6" cy="752.5" r="2.0"/><circle cx="110.6" cy="767.9" r="2.0"/><circle cx="358.9" cy="772" r="2.0"/><circle cx="416.7" cy="765.1" r="2.0"/><circle cx="378.6" cy="813.5" r="2.0"/><circle cx="564.5" cy="684.6" r="2.0"/><circle cx="458.1" cy="808.8" r="2.0"/><circle cx="434.7" cy="695.5" r="2.0"/><circle cx="416.3" cy="802.5" r="2.0"/><circle cx="364.4" cy="846.9" r="2.0"/><circle cx="132.9" cy="810.3" r="2.0"/><circle cx="145.1" cy="810.5" r="2.0"/><circle cx="438.5" cy="798" r="2.0"/><circle cx="206.6" cy="785.1" r="2.0"/><circle cx="315.8" cy="819.4" r="2.0"/><circle cx="440.2" cy="844.7" r="2.0"/><circle cx="414.7" cy="855.5" r="2.0"/><circle cx="224" cy="772.4" r="2.0"/><circle cx="236.3" cy="782.6" r="2.0"/><circle cx="168.3" cy="692.8" r="2.0"/><circle cx="448.4" cy="788.8" r="2.0"/><circle cx="479" cy="835.6" r="2.0"/><circle cx="163.7" cy="781.1" r="2.0"/><circle cx="238.1" cy="837.1" r="2.0"/><circle cx="172.7" cy="858.6" r="2.0"/><circle cx="421.3" cy="768.2" r="2.0"/><circle cx="251.8" cy="774.3" r="2.0"/><circle cx="559.6" cy="805" r="2.0"/><circle cx="235.7" cy="682.1" r="2.0"/><circle cx="438.6" cy="681.5" r="2.0"/><circle cx="434.2" cy="721.8" r="2.0"/><circle cx="598.3" cy="813.5" r="2.0"/><circle cx="480.8" cy="856.3" r="2.0"/><circle cx="593.5" cy="801.9" r="2.0"/><circle cx="406.4" cy="679.9" r="2.0"/><circle cx="94.7" cy="748.8" r="2.0"/><circle cx="268" cy="780.4" r="2.0"/><circle cx="490.2" cy="683" r="2.0"/><circle cx="276.8" cy="726.9" r="2.0"/><circle cx="445.9" cy="759.4" r="2.0"/><circle cx="156" cy="857" r="2.0"/><circle cx="439.8" cy="786.6" r="2.0"/><circle cx="299.5" cy="828.5" r="2.0"/><circle cx="600.5" cy="683.4" r="2.0"/><circle cx="131.1" cy="732.6" r="2.0"/><circle cx="286.4" cy="847.1" r="2.0"/><circle cx="504.7" cy="825.4" r="2.0"/><circle cx="303.3" cy="845.5" r="2.0"/><circle cx="341" cy="846.4" r="2.0"/><circle cx="272.3" cy="679.5" r="2.0"/><circle cx="145.2" cy="828.5" r="2.0"/><circle cx="264.7" cy="844.7" r="2.0"/><circle cx="563.3" cy="788.8" r="2.0"/><circle cx="504.6" cy="679.7" r="2.0"/><circle cx="259.1" cy="772.7" r="2.0"/><circle cx="451.6" cy="847.1" r="2.0"/><circle cx="518.9" cy="845.4" r="2.0"/><circle cx="520.5" cy="846.1" r="2.0"/><circle cx="122.5" cy="793.6" r="2.0"/><circle cx="180.9" cy="858.3" r="2.0"/><circle cx="606" cy="809.7" r="2.0"/><circle cx="243.1" cy="747.1" r="2.0"/><circle cx="510.6" cy="750" r="2.0"/><circle cx="431.1" cy="682.9" r="2.0"/><circle cx="560.9" cy="858.1" r="2.0"/><circle cx="134.8" cy="767" r="2.0"/><circle cx="594" cy="808.7" r="2.0"/><circle cx="562.9" cy="682" r="2.0"/><circle cx="220.8" cy="844.7" r="2.0"/><circle cx="474.4" cy="738.9" r="2.0"/><circle cx="96.1" cy="703.1" r="2.0"/><circle cx="557.2" cy="746.9" r="2.0"/><circle cx="315.3" cy="857.5" r="2.0"/><circle cx="490.2" cy="845" r="2.0"/><circle cx="519.5" cy="729.5" r="2.0"/><circle cx="107.1" cy="757.2" r="2.0"/><circle cx="566.2" cy="683.9" r="2.0"/><circle cx="149.2" cy="681.4" r="2.0"/><circle cx="176" cy="679.4" r="2.0"/><circle cx="337.7" cy="721" r="2.0"/><circle cx="228.9" cy="680.1" r="2.0"/><circle cx="440.6" cy="783.9" r="2.0"/><circle cx="195.1" cy="819.9" r="2.0"/><circle cx="427.2" cy="789.1" r="2.0"/><circle cx="501.6" cy="761.3" r="2.0"/><circle cx="610" cy="809.2" r="2.0"/><circle cx="307.2" cy="775.2" r="2.0"/><circle cx="246.3" cy="843.4" r="2.0"/><circle cx="402.8" cy="771.7" r="2.0"/><circle cx="442.4" cy="854.4" r="2.0"/><circle cx="588.2" cy="844.6" r="2.0"/><circle cx="407.2" cy="682.8" r="2.0"/><circle cx="328.2" cy="761.1" r="2.0"/><circle cx="252.6" cy="809.7" r="2.0"/><circle cx="482" cy="746.7" r="2.0"/><circle cx="435" cy="680.9" r="2.0"/><circle cx="131.3" cy="796.9" r="2.0"/><circle cx="253.5" cy="682.3" r="2.0"/><circle cx="182.6" cy="798.6" r="2.0"/><circle cx="358.7" cy="812.8" r="2.0"/><circle cx="297.4" cy="777.2" r="2.0"/><circle cx="178.1" cy="842.3" r="2.0"/><circle cx="377.2" cy="799.5" r="2.0"/><circle cx="446.7" cy="680.8" r="2.0"/><circle cx="275.9" cy="856" r="2.0"/><circle cx="540.7" cy="765.4" r="2.0"/><circle cx="147.3" cy="690.6" r="2.0"/><circle cx="123.7" cy="847.3" r="2.0"/><circle cx="472.4" cy="857" r="2.0"/><circle cx="395.1" cy="796.3" r="2.0"/><circle cx="496.3" cy="769.3" r="2.0"/><circle cx="594.4" cy="743.1" r="2.0"/><circle cx="367" cy="682.1" r="2.0"/><circle cx="531.3" cy="762.9" r="2.0"/><circle cx="440.5" cy="774.7" r="2.0"/><circle cx="368.8" cy="855.4" r="2.0"/><circle cx="362.9" cy="818.3" r="2.0"/><circle cx="625.1" cy="680.4" r="2.0"/><circle cx="278.4" cy="793.9" r="2.0"/><circle cx="320.7" cy="778.3" r="2.0"/><circle cx="347.5" cy="858.3" r="2.0"/><circle cx="436.2" cy="679.4" r="2.0"/><circle cx="125.6" cy="785.5" r="2.0"/><circle cx="442.6" cy="710.7" r="2.0"/><circle cx="113.4" cy="845.3" r="2.0"/><circle cx="296.5" cy="730.6" r="2.0"/><circle cx="330.2" cy="774.8" r="2.0"/><circle cx="396.6" cy="858.9" r="2.0"/><circle cx="399.6" cy="758.9" r="2.0"/><circle cx="416.7" cy="837.2" r="2.0"/><circle cx="106" cy="775.2" r="2.0"/><circle cx="269.2" cy="718.3" r="2.0"/><circle cx="488.9" cy="857.9" r="2.0"/><circle cx="316.7" cy="818.6" r="2.0"/><circle cx="536.3" cy="843.8" r="2.0"/><circle cx="384.6" cy="784.5" r="2.0"/><circle cx="398.4" cy="742" r="2.0"/><circle cx="455.9" cy="806.7" r="2.0"/><circle cx="620.3" cy="752.2" r="2.0"/><circle cx="95" cy="775.9" r="2.0"/><circle cx="156.6" cy="787.9" r="2.0"/><circle cx="140.5" cy="789.8" r="2.0"/><circle cx="203.6" cy="735.2" r="2.0"/><circle cx="104" cy="844.7" r="2.0"/><circle cx="622.9" cy="680.8" r="2.0"/><circle cx="173.4" cy="855.1" r="2.0"/><circle cx="347.3" cy="755.6" r="2.0"/><circle cx="566.1" cy="823.4" r="2.0"/><circle cx="347.3" cy="857.1" r="2.0"/><circle cx="225.4" cy="819.1" r="2.0"/><circle cx="249.6" cy="768.7" r="2.0"/><circle cx="319.3" cy="848.8" r="2.0"/><circle cx="257.8" cy="742.8" r="2.0"/><circle cx="345.5" cy="856.5" r="2.0"/><circle cx="314.6" cy="777.1" r="2.0"/><circle cx="136.5" cy="779" r="2.0"/><circle cx="561.9" cy="768.9" r="2.0"/><circle cx="612.9" cy="760" r="2.0"/><circle cx="394.7" cy="784.7" r="2.0"/><circle cx="143.5" cy="777.4" r="2.0"/><circle cx="580.6" cy="761.7" r="2.0"/><circle cx="287.5" cy="680.7" r="2.0"/><circle cx="297.6" cy="755.5" r="2.0"/><circle cx="229.9" cy="789.2" r="2.0"/><circle cx="591.3" cy="807.8" r="2.0"/><circle cx="464.2" cy="779.5" r="2.0"/><circle cx="254.3" cy="680.7" r="2.0"/><circle cx="291.1" cy="740.8" r="2.0"/><circle cx="319.7" cy="832.5" r="2.0"/><circle cx="297.1" cy="776.1" r="2.0"/><circle cx="453.6" cy="844.4" r="2.0"/><circle cx="602.4" cy="763.6" r="2.0"/><circle cx="115.9" cy="795.6" r="2.0"/><circle cx="547.9" cy="792.2" r="2.0"/><circle cx="548.6" cy="801" r="2.0"/><circle cx="210.4" cy="845.6" r="2.0"/><circle cx="617.8" cy="779" r="2.0"/><circle cx="563" cy="680" r="2.0"/><circle cx="480.6" cy="856.5" r="2.0"/><circle cx="150.2" cy="818.8" r="2.0"/><circle cx="332.9" cy="819.2" r="2.0"/><circle cx="499.2" cy="768.1" r="2.0"/><circle cx="390.2" cy="818.4" r="2.0"/><circle cx="124.4" cy="788.1" r="2.0"/><circle cx="502.8" cy="783.9" r="2.0"/><circle cx="313.1" cy="857.3" r="2.0"/><circle cx="211.2" cy="681.9" r="2.0"/><circle cx="279.4" cy="841.3" r="2.0"/><circle cx="148.5" cy="681.5" r="2.0"/><circle cx="286.7" cy="681.5" r="2.0"/><circle cx="101.2" cy="679.3" r="2.0"/><circle cx="628.6" cy="681" r="2.0"/><circle cx="166.2" cy="845" r="2.0"/><circle cx="274.8" cy="835.7" r="2.0"/><circle cx="254.3" cy="782.4" r="2.0"/><circle cx="339.5" cy="792.9" r="2.0"/><circle cx="274.8" cy="729.5" r="2.0"/><circle cx="569" cy="782.6" r="2.0"/><circle cx="193.3" cy="749.2" r="2.0"/><circle cx="627.9" cy="797.8" r="2.0"/><circle cx="303.5" cy="782.6" r="2.0"/><circle cx="684.8" cy="685.2" r="2.0"/><circle cx="638.2" cy="762.6" r="2.0"/></g><g fill="#f25566" fill-opacity="0.5" stroke="#ea5062" stroke-opacity="0.5" stroke-width="1" filter="url(#bl)"><circle cx="625.7" cy="750.6" r="2.0"/><circle cx="191.9" cy="770" r="2.0"/><circle cx="322.6" cy="805.5" r="2.0"/><circle cx="255" cy="733" r="2.0"/><circle cx="565.1" cy="824.1" r="2.0"/><circle cx="114.2" cy="700" r="2.0"/><circle cx="428.3" cy="751" r="2.0"/><circle cx="529.8" cy="713.5" r="2.0"/><circle cx="172.3" cy="734.3" r="2.0"/><circle cx="238.4" cy="855" r="2.0"/><circle cx="248.9" cy="754.8" r="2.0"/><circle cx="380.6" cy="815.9" r="2.0"/><circle cx="126.8" cy="727.8" r="2.0"/><circle cx="338.7" cy="721.2" r="2.0"/><circle cx="406.3" cy="718.1" r="2.0"/><circle cx="99.6" cy="722.1" r="2.0"/><circle cx="499.5" cy="713.9" r="2.0"/><circle cx="123.3" cy="730.3" r="2.0"/><circle cx="107.7" cy="842.8" r="2.0"/><circle cx="410.6" cy="776.8" r="2.0"/><circle cx="554.4" cy="781.1" r="2.0"/><circle cx="223.4" cy="751.1" r="2.0"/><circle cx="464" cy="737.4" r="2.0"/><circle cx="133.6" cy="681.3" r="2.0"/><circle cx="338.2" cy="730" r="2.0"/><circle cx="556.1" cy="728.5" r="2.0"/><circle cx="482.7" cy="749.3" r="2.0"/><circle cx="554.7" cy="692.4" r="2.0"/><circle cx="350.4" cy="768.2" r="2.0"/><circle cx="614.4" cy="732.9" r="2.0"/><circle cx="543.7" cy="696.5" r="2.0"/><circle cx="243.7" cy="857.7" r="2.0"/><circle cx="536.5" cy="771.4" r="2.0"/><circle cx="440.1" cy="802" r="2.0"/><circle cx="610.3" cy="714.8" r="2.0"/><circle cx="429.5" cy="719.5" r="2.0"/><circle cx="261.4" cy="679.8" r="2.0"/><circle cx="404.6" cy="766.9" r="2.0"/><circle cx="498.4" cy="752.9" r="2.0"/><circle cx="516.7" cy="719.1" r="2.0"/><circle cx="426.2" cy="723.4" r="2.0"/><circle cx="311.2" cy="708.8" r="2.0"/><circle cx="410.6" cy="692.6" r="2.0"/><circle cx="201.8" cy="715.8" r="2.0"/><circle cx="614.7" cy="729.8" r="2.0"/><circle cx="356.3" cy="832" r="2.0"/><circle cx="281.2" cy="757.3" r="2.0"/><circle cx="582.2" cy="681.7" r="2.0"/><circle cx="524.4" cy="846.3" r="2.0"/><circle cx="243.6" cy="695.1" r="2.0"/><circle cx="450.9" cy="697.4" r="2.0"/><circle cx="400.6" cy="682.6" r="2.0"/><circle cx="443.9" cy="731" r="2.0"/><circle cx="187.2" cy="764.9" r="2.0"/><circle cx="431.6" cy="847.7" r="2.0"/><circle cx="435.2" cy="792.6" r="2.0"/><circle cx="243.8" cy="859.1" r="2.0"/><circle cx="602.2" cy="791.9" r="2.0"/><circle cx="610.1" cy="845.9" r="2.0"/><circle cx="577.1" cy="858.1" r="2.0"/><circle cx="568.8" cy="681.5" r="2.0"/><circle cx="455.3" cy="754.3" r="2.0"/><circle cx="556.2" cy="763.4" r="2.0"/><circle cx="267.2" cy="858.1" r="2.0"/><circle cx="321.2" cy="824.3" r="2.0"/><circle cx="521.2" cy="694" r="2.0"/><circle cx="461.6" cy="754.2" r="2.0"/><circle cx="353.3" cy="833.8" r="2.0"/><circle cx="112.6" cy="845.5" r="2.0"/><circle cx="348.3" cy="726.6" r="2.0"/><circle cx="218.4" cy="731.5" r="2.0"/><circle cx="477" cy="828.5" r="2.0"/><circle cx="477.7" cy="856.3" r="2.0"/><circle cx="405" cy="710.2" r="2.0"/><circle cx="542.3" cy="728" r="2.0"/><circle cx="415.1" cy="691.2" r="2.0"/><circle cx="336.6" cy="737.4" r="2.0"/><circle cx="168.6" cy="718.9" r="2.0"/><circle cx="182.9" cy="758.9" r="2.0"/><circle cx="160.8" cy="718.8" r="2.0"/><circle cx="298.2" cy="855.1" r="2.0"/><circle cx="489.2" cy="858.8" r="2.0"/><circle cx="290.9" cy="758.1" r="2.0"/><circle cx="544.5" cy="735.3" r="2.0"/><circle cx="367.3" cy="733.6" r="2.0"/><circle cx="547.9" cy="856.8" r="2.0"/><circle cx="556.4" cy="856.3" r="2.0"/><circle cx="206.8" cy="857.4" r="2.0"/><circle cx="534.8" cy="857.3" r="2.0"/><circle cx="624.4" cy="744.7" r="2.0"/><circle cx="454.1" cy="717.8" r="2.0"/><circle cx="181.4" cy="785.4" r="2.0"/><circle cx="568.7" cy="705.6" r="2.0"/><circle cx="374.9" cy="753.1" r="2.0"/><circle cx="283.9" cy="729.7" r="2.0"/><circle cx="468.3" cy="722.5" r="2.0"/><circle cx="239.3" cy="777.2" r="2.0"/><circle cx="344.6" cy="739.6" r="2.0"/><circle cx="266.3" cy="738.2" r="2.0"/><circle cx="366" cy="725.8" r="2.0"/><circle cx="565.1" cy="858.2" r="2.0"/><circle cx="379.7" cy="718.6" r="2.0"/><circle cx="208.4" cy="740.6" r="2.0"/><circle cx="603.8" cy="740.8" r="2.0"/><circle cx="300.2" cy="750.5" r="2.0"/><circle cx="430.9" cy="841.8" r="2.0"/><circle cx="621.1" cy="785.2" r="2.0"/><circle cx="379.2" cy="707.1" r="2.0"/><circle cx="238.5" cy="696.6" r="2.0"/><circle cx="454.2" cy="689.2" r="2.0"/><circle cx="598.4" cy="769.4" r="2.0"/><circle cx="451.8" cy="751.6" r="2.0"/><circle cx="609.2" cy="729.2" r="2.0"/><circle cx="338.1" cy="743" r="2.0"/><circle cx="118.5" cy="757.4" r="2.0"/><circle cx="93.5" cy="765.1" r="2.0"/><circle cx="197.8" cy="846.7" r="2.0"/><circle cx="476.6" cy="855.2" r="2.0"/><circle cx="94.7" cy="775.6" r="2.0"/><circle cx="162" cy="744.2" r="2.0"/><circle cx="355.4" cy="678.7" r="2.0"/><circle cx="276.1" cy="856.1" r="2.0"/><circle cx="503.3" cy="721.7" r="2.0"/><circle cx="320.7" cy="720.2" r="2.0"/><circle cx="183.6" cy="858.6" r="2.0"/><circle cx="618.7" cy="679.1" r="2.0"/><circle cx="227.9" cy="766.8" r="2.0"/><circle cx="597.2" cy="856.7" r="2.0"/><circle cx="477.9" cy="843.7" r="2.0"/><circle cx="581.6" cy="742.7" r="2.0"/><circle cx="625.8" cy="692" r="2.0"/><circle cx="545.9" cy="748.1" r="2.0"/><circle cx="468.1" cy="712.2" r="2.0"/><circle cx="142.3" cy="714.8" r="2.0"/><circle cx="97.1" cy="679.9" r="2.0"/><circle cx="398.4" cy="811.5" r="2.0"/><circle cx="597.7" cy="794.8" r="2.0"/><circle cx="604.9" cy="772" r="2.0"/><circle cx="402.8" cy="845.5" r="2.0"/><circle cx="218.6" cy="845.9" r="2.0"/><circle cx="480.3" cy="775.7" r="2.0"/><circle cx="597.5" cy="702.6" r="2.0"/><circle cx="611.4" cy="858.9" r="2.0"/><circle cx="98.3" cy="695.5" r="2.0"/><circle cx="223.3" cy="843.5" r="2.0"/><circle cx="292" cy="770.1" r="2.0"/><circle cx="280.4" cy="856.4" r="2.0"/><circle cx="189.1" cy="731.2" r="2.0"/><circle cx="415.3" cy="855.7" r="2.0"/><circle cx="395.1" cy="859.9" r="2.0"/><circle cx="475.8" cy="750.2" r="2.0"/><circle cx="246.5" cy="726.7" r="2.0"/><circle cx="200.8" cy="770.2" r="2.0"/><circle cx="527.2" cy="703.8" r="2.0"/><circle cx="262" cy="721.8" r="2.0"/><circle cx="209.5" cy="818.9" r="2.0"/><circle cx="477" cy="857.5" r="2.0"/><circle cx="201.9" cy="857.3" r="2.0"/><circle cx="217.7" cy="740.6" r="2.0"/><circle cx="336.6" cy="853.8" r="2.0"/><circle cx="154.3" cy="740.2" r="2.0"/><circle cx="247.9" cy="856.1" r="2.0"/><circle cx="591.2" cy="806.1" r="2.0"/><circle cx="283.5" cy="789.5" r="2.0"/><circle cx="126.4" cy="721.5" r="2.0"/><circle cx="520.7" cy="708.9" r="2.0"/><circle cx="308.3" cy="752.5" r="2.0"/><circle cx="617" cy="855.9" r="2.0"/><circle cx="469" cy="857.1" r="2.0"/><circle cx="271.5" cy="767.3" r="2.0"/><circle cx="571" cy="856.7" r="2.0"/><circle cx="143" cy="691.8" r="2.0"/><circle cx="553.4" cy="750" r="2.0"/><circle cx="338.1" cy="748" r="2.0"/><circle cx="398.5" cy="678.7" r="2.0"/><circle cx="589" cy="828" r="2.0"/><circle cx="590.1" cy="817.2" r="2.0"/><circle cx="104" cy="775.2" r="2.0"/><circle cx="332.2" cy="741.8" r="2.0"/><circle cx="588.3" cy="731.4" r="2.0"/><circle cx="320.7" cy="734.4" r="2.0"/><circle cx="143.1" cy="704.3" r="2.0"/><circle cx="580.7" cy="775" r="2.0"/><circle cx="232.2" cy="681.3" r="2.0"/><circle cx="474.8" cy="778.9" r="2.0"/><circle cx="419.1" cy="723.8" r="2.0"/><circle cx="426.8" cy="720.4" r="2.0"/><circle cx="617.8" cy="764.6" r="2.0"/><circle cx="430.2" cy="839" r="2.0"/><circle cx="375.3" cy="742.9" r="2.0"/><circle cx="110.2" cy="855.9" r="2.0"/><circle cx="294.6" cy="682" r="2.0"/><circle cx="484.8" cy="707.4" r="2.0"/><circle cx="461.1" cy="856.6" r="2.0"/><circle cx="334.5" cy="703.1" r="2.0"/><circle cx="225.6" cy="856" r="2.0"/><circle cx="251.5" cy="857.1" r="2.0"/><circle cx="130.9" cy="858.7" r="2.0"/><circle cx="132.6" cy="766" r="2.0"/><circle cx="487.1" cy="845.8" r="2.0"/><circle cx="422.3" cy="749" r="2.0"/><circle cx="507.1" cy="836.9" r="2.0"/><circle cx="479.6" cy="707" r="2.0"/><circle cx="533" cy="805.2" r="2.0"/><circle cx="354.2" cy="836.2" r="2.0"/><circle cx="209.3" cy="741.8" r="2.0"/><circle cx="189.9" cy="762.5" r="2.0"/><circle cx="261" cy="842.1" r="2.0"/><circle cx="512.8" cy="856.5" r="2.0"/><circle cx="541.4" cy="843.9" r="2.0"/><circle cx="280.1" cy="693.3" r="2.0"/><circle cx="405.8" cy="856.7" r="2.0"/><circle cx="166.1" cy="780.5" r="2.0"/><circle cx="622.9" cy="690.4" r="2.0"/><circle cx="97.4" cy="682.3" r="2.0"/><circle cx="436.9" cy="701.6" r="2.0"/><circle cx="385.3" cy="859" r="2.0"/><circle cx="256.4" cy="858.4" r="2.0"/><circle cx="539.4" cy="765.1" r="2.0"/><circle cx="99.8" cy="680.5" r="2.0"/><circle cx="379.9" cy="768.5" r="2.0"/><circle cx="451.9" cy="697.2" r="2.0"/><circle cx="489.9" cy="724.6" r="2.0"/><circle cx="418.3" cy="829.7" r="2.0"/><circle cx="469.3" cy="857.7" r="2.0"/><circle cx="528.5" cy="714.3" r="2.0"/><circle cx="410.2" cy="854.8" r="2.0"/><circle cx="363.5" cy="724.8" r="2.0"/><circle cx="168.9" cy="711.3" r="2.0"/><circle cx="299.1" cy="755" r="2.0"/><circle cx="533.1" cy="734" r="2.0"/><circle cx="345.2" cy="680.4" r="2.0"/><circle cx="310.2" cy="787.9" r="2.0"/><circle cx="259.3" cy="698.1" r="2.0"/><circle cx="323.6" cy="744.3" r="2.0"/><circle cx="437" cy="762.4" r="2.0"/><circle cx="453.3" cy="757.4" r="2.0"/><circle cx="232.2" cy="746.4" r="2.0"/><circle cx="521.1" cy="856" r="2.0"/><circle cx="99.2" cy="710.3" r="2.0"/><circle cx="264.5" cy="695.1" r="2.0"/><circle cx="148.5" cy="772.5" r="2.0"/><circle cx="453" cy="728.5" r="2.0"/><circle cx="367" cy="854.5" r="2.0"/><circle cx="551.5" cy="700.7" r="2.0"/><circle cx="573.8" cy="736.6" r="2.0"/><circle cx="553.1" cy="860.2" r="2.0"/><circle cx="476.4" cy="746.7" r="2.0"/><circle cx="618.6" cy="856.3" r="2.0"/><circle cx="262.9" cy="735.5" r="2.0"/><circle cx="409.9" cy="769.8" r="2.0"/><circle cx="132" cy="798.3" r="2.0"/><circle cx="535.4" cy="787.5" r="2.0"/><circle cx="202.5" cy="682.9" r="2.0"/><circle cx="487.1" cy="751.7" r="2.0"/><circle cx="503.9" cy="711.3" r="2.0"/><circle cx="393.6" cy="790.4" r="2.0"/><circle cx="415.4" cy="772.4" r="2.0"/><circle cx="604.3" cy="830.1" r="2.0"/><circle cx="355.6" cy="770.7" r="2.0"/><circle cx="260.9" cy="803.8" r="2.0"/><circle cx="400.7" cy="843.7" r="2.0"/><circle cx="520" cy="783.6" r="2.0"/><circle cx="468.2" cy="845.2" r="2.0"/><circle cx="97.6" cy="844.2" r="2.0"/><circle cx="406.2" cy="677.4" r="2.0"/><circle cx="191.4" cy="807.5" r="2.0"/><circle cx="342.1" cy="772" r="2.0"/><circle cx="608.3" cy="854.6" r="2.0"/><circle cx="569.3" cy="694.3" r="2.0"/><circle cx="250.6" cy="752" r="2.0"/><circle cx="252.3" cy="755.4" r="2.0"/><circle cx="341" cy="719.5" r="2.0"/><circle cx="311.8" cy="801.9" r="2.0"/><circle cx="374.9" cy="734.7" r="2.0"/><circle cx="464.1" cy="720.1" r="2.0"/><circle cx="618.2" cy="816" r="2.0"/><circle cx="271.6" cy="712.6" r="2.0"/><circle cx="97.4" cy="730.4" r="2.0"/><circle cx="278.8" cy="785.7" r="2.0"/><circle cx="330.7" cy="717.7" r="2.0"/><circle cx="365.5" cy="705.4" r="2.0"/><circle cx="168.3" cy="774.8" r="2.0"/><circle cx="116.7" cy="727.2" r="2.0"/><circle cx="349.8" cy="714.8" r="2.0"/><circle cx="491.4" cy="857.5" r="2.0"/><circle cx="505.9" cy="856.2" r="2.0"/><circle cx="107.1" cy="732.4" r="2.0"/><circle cx="414.8" cy="858.2" r="2.0"/><circle cx="358.7" cy="827.3" r="2.0"/><circle cx="277.4" cy="752.5" r="2.0"/><circle cx="424.3" cy="856.3" r="2.0"/><circle cx="181.6" cy="718" r="2.0"/><circle cx="598.6" cy="706.3" r="2.0"/><circle cx="386" cy="747.5" r="2.0"/><circle cx="137.4" cy="829.7" r="2.0"/><circle cx="131.4" cy="701.1" r="2.0"/><circle cx="250.9" cy="843.3" r="2.0"/><circle cx="214.1" cy="856.9" r="2.0"/><circle cx="419.8" cy="734.5" r="2.0"/><circle cx="403.8" cy="746" r="2.0"/><circle cx="386.3" cy="705.5" r="2.0"/><circle cx="514.3" cy="761.4" r="2.0"/><circle cx="150.1" cy="690.4" r="2.0"/><circle cx="589.3" cy="846" r="2.0"/><circle cx="322.5" cy="734.8" r="2.0"/><circle cx="121.5" cy="772.8" r="2.0"/><circle cx="141.4" cy="822.6" r="2.0"/><circle cx="528" cy="765.1" r="2.0"/><circle cx="253.1" cy="731.8" r="2.0"/><circle cx="340" cy="716.6" r="2.0"/><circle cx="152.7" cy="735.8" r="2.0"/><circle cx="479.2" cy="792.6" r="2.0"/><circle cx="143.8" cy="700.4" r="2.0"/><circle cx="571.5" cy="835.8" r="2.0"/><circle cx="151.9" cy="726.2" r="2.0"/><circle cx="539.2" cy="859" r="2.0"/><circle cx="323.4" cy="855.2" r="2.0"/><circle cx="304.6" cy="856.7" r="2.0"/><circle cx="145.1" cy="856.2" r="2.0"/><circle cx="283" cy="859.3" r="2.0"/><circle cx="585.2" cy="715.6" r="2.0"/><circle cx="120.2" cy="855.6" r="2.0"/><circle cx="149" cy="718.1" r="2.0"/><circle cx="603.3" cy="700.8" r="2.0"/><circle cx="527" cy="857.7" r="2.0"/><circle cx="588.8" cy="836.5" r="2.0"/><circle cx="579.6" cy="771.2" r="2.0"/><circle cx="616.7" cy="743.1" r="2.0"/><circle cx="286.4" cy="765.8" r="2.0"/><circle cx="534.8" cy="855.7" r="2.0"/><circle cx="272.6" cy="721.1" r="2.0"/><circle cx="422.6" cy="737.2" r="2.0"/><circle cx="98.1" cy="679.8" r="2.0"/><circle cx="249.5" cy="805.6" r="2.0"/><circle cx="266.1" cy="775.4" r="2.0"/><circle cx="273.4" cy="702.4" r="2.0"/><circle cx="170.2" cy="826.2" r="2.0"/><circle cx="100.5" cy="772.9" r="2.0"/><circle cx="214.8" cy="745.1" r="2.0"/><circle cx="103.6" cy="717.6" r="2.0"/><circle cx="200.6" cy="821.5" r="2.0"/><circle cx="435" cy="718.1" r="2.0"/><circle cx="399.4" cy="830" r="2.0"/><circle cx="456.4" cy="718" r="2.0"/><circle cx="451.9" cy="699.5" r="2.0"/><circle cx="122.8" cy="730.1" r="2.0"/><circle cx="379.4" cy="858.4" r="2.0"/><circle cx="304.4" cy="739.8" r="2.0"/><circle cx="298.9" cy="701.7" r="2.0"/><circle cx="274.5" cy="753.6" r="2.0"/><circle cx="308.8" cy="706.7" r="2.0"/><circle cx="528.3" cy="725.4" r="2.0"/><circle cx="202.1" cy="683.4" r="2.0"/><circle cx="452.4" cy="743.7" r="2.0"/><circle cx="331.1" cy="845" r="2.0"/><circle cx="427" cy="823.4" r="2.0"/><circle cx="290.8" cy="855" r="2.0"/><circle cx="550.2" cy="721.8" r="2.0"/><circle cx="440.5" cy="823.8" r="2.0"/><circle cx="342.6" cy="780.7" r="2.0"/><circle cx="98.4" cy="746" r="2.0"/><circle cx="111.6" cy="726.6" r="2.0"/><circle cx="206.3" cy="739.7" r="2.0"/><circle cx="483.6" cy="722.2" r="2.0"/><circle cx="242.4" cy="777.1" r="2.0"/><circle cx="487" cy="778.6" r="2.0"/><circle cx="267.5" cy="724.6" r="2.0"/><circle cx="422.5" cy="698.7" r="2.0"/><circle cx="178.7" cy="729.3" r="2.0"/><circle cx="174.9" cy="756.4" r="2.0"/><circle cx="616.1" cy="683.9" r="2.0"/><circle cx="453.1" cy="857.2" r="2.0"/><circle cx="178.1" cy="856.6" r="2.0"/><circle cx="255.1" cy="808.6" r="2.0"/><circle cx="155.7" cy="731.4" r="2.0"/><circle cx="201.8" cy="857.5" r="2.0"/><circle cx="507.9" cy="784.5" r="2.0"/><circle cx="239.7" cy="698" r="2.0"/><circle cx="569.6" cy="726.9" r="2.0"/><circle cx="95.6" cy="859.2" r="2.0"/><circle cx="433.6" cy="723.7" r="2.0"/><circle cx="226.5" cy="786.1" r="2.0"/><circle cx="569.6" cy="836.4" r="2.0"/><circle cx="279.2" cy="828.6" r="2.0"/><circle cx="260.1" cy="686.8" r="2.0"/><circle cx="291.6" cy="715.2" r="2.0"/><circle cx="144.1" cy="724.3" r="2.0"/><circle cx="579.4" cy="700.9" r="2.0"/><circle cx="588.7" cy="846.2" r="2.0"/><circle cx="472.7" cy="690.8" r="2.0"/><circle cx="371.7" cy="752.1" r="2.0"/><circle cx="308.6" cy="736.2" r="2.0"/><circle cx="358.6" cy="680.9" r="2.0"/><circle cx="619.1" cy="845.3" r="2.0"/><circle cx="367.8" cy="680.9" r="2.0"/><circle cx="483.4" cy="683" r="2.0"/><circle cx="317.3" cy="718" r="2.0"/><circle cx="552.8" cy="818.5" r="2.0"/><circle cx="368.4" cy="764.7" r="2.0"/><circle cx="336.5" cy="681.3" r="2.0"/><circle cx="231.4" cy="741.4" r="2.0"/><circle cx="274.9" cy="806.1" r="2.0"/><circle cx="186.5" cy="783.9" r="2.0"/><circle cx="352.6" cy="750.9" r="2.0"/><circle cx="610.8" cy="743.2" r="2.0"/><circle cx="519.9" cy="857" r="2.0"/><circle cx="454.4" cy="783.4" r="2.0"/><circle cx="457.4" cy="773.3" r="2.0"/><circle cx="328.6" cy="855" r="2.0"/><circle cx="224.3" cy="844.6" r="2.0"/><circle cx="180" cy="768.8" r="2.0"/><circle cx="527" cy="854.9" r="2.0"/><circle cx="544.8" cy="779.1" r="2.0"/><circle cx="424.9" cy="847.7" r="2.0"/><circle cx="308.5" cy="857.2" r="2.0"/><circle cx="182.9" cy="727.6" r="2.0"/><circle cx="104.1" cy="720.2" r="2.0"/><circle cx="121.3" cy="696.9" r="2.0"/><circle cx="433.5" cy="854.8" r="2.0"/><circle cx="299.4" cy="714.6" r="2.0"/><circle cx="279.6" cy="812.6" r="2.0"/><circle cx="472.8" cy="681.4" r="2.0"/><circle cx="556" cy="694" r="2.0"/><circle cx="416.6" cy="856.9" r="2.0"/><circle cx="496.3" cy="738.8" r="2.0"/><circle cx="436.3" cy="858.4" r="2.0"/><circle cx="358.1" cy="844.8" r="2.0"/><circle cx="320.4" cy="728.1" r="2.0"/><circle cx="198.9" cy="713.5" r="2.0"/><circle cx="605.5" cy="717" r="2.0"/><circle cx="525.7" cy="786.2" r="2.0"/><circle cx="381.7" cy="775.3" r="2.0"/><circle cx="489.9" cy="792.2" r="2.0"/><circle cx="264.1" cy="742.8" r="2.0"/><circle cx="406.9" cy="742.3" r="2.0"/><circle cx="468.8" cy="790.4" r="2.0"/><circle cx="180.1" cy="681.6" r="2.0"/><circle cx="484.4" cy="754.7" r="2.0"/><circle cx="164.3" cy="771.6" r="2.0"/><circle cx="274.2" cy="778.1" r="2.0"/><circle cx="372" cy="722.8" r="2.0"/><circle cx="302" cy="714.3" r="2.0"/><circle cx="210.5" cy="845.8" r="2.0"/><circle cx="396.8" cy="747" r="2.0"/><circle cx="99.1" cy="715.7" r="2.0"/><circle cx="189.5" cy="767.6" r="2.0"/><circle cx="114.7" cy="745.5" r="2.0"/><circle cx="131.5" cy="706.3" r="2.0"/><circle cx="366" cy="679.5" r="2.0"/><circle cx="351.6" cy="683.3" r="2.0"/><circle cx="443.7" cy="843.7" r="2.0"/><circle cx="268.7" cy="835.7" r="2.0"/><circle cx="207.7" cy="710.2" r="2.0"/><circle cx="614" cy="856.8" r="2.0"/><circle cx="200.3" cy="803.5" r="2.0"/><circle cx="534.7" cy="681.5" r="2.0"/><circle cx="294.3" cy="723.9" r="2.0"/><circle cx="94" cy="705.3" r="2.0"/><circle cx="340.9" cy="691.1" r="2.0"/><circle cx="448.6" cy="714.6" r="2.0"/><circle cx="555.8" cy="754.7" r="2.0"/><circle cx="288.5" cy="856.6" r="2.0"/><circle cx="305.7" cy="846.7" r="2.0"/><circle cx="279.8" cy="722.4" r="2.0"/><circle cx="317.3" cy="749.4" r="2.0"/><circle cx="284.6" cy="855.2" r="2.0"/><circle cx="367.3" cy="726.5" r="2.0"/><circle cx="266.6" cy="802.9" r="2.0"/><circle cx="280" cy="859.9" r="2.0"/><circle cx="385" cy="854.9" r="2.0"/><circle cx="450.6" cy="746" r="2.0"/><circle cx="509.9" cy="693.9" r="2.0"/><circle cx="388.1" cy="845.5" r="2.0"/><circle cx="540.1" cy="855.4" r="2.0"/><circle cx="465.9" cy="712.9" r="2.0"/><circle cx="419.1" cy="855.8" r="2.0"/><circle cx="151.9" cy="858.7" r="2.0"/><circle cx="135.2" cy="774.5" r="2.0"/><circle cx="97.5" cy="859" r="2.0"/><circle cx="259.1" cy="845.3" r="2.0"/><circle cx="354.6" cy="700.2" r="2.0"/><circle cx="209.8" cy="683.3" r="2.0"/><circle cx="399.1" cy="855.2" r="2.0"/><circle cx="134.8" cy="843.2" r="2.0"/><circle cx="354.4" cy="823" r="2.0"/><circle cx="222.8" cy="756.3" r="2.0"/><circle cx="270.4" cy="729.2" r="2.0"/><circle cx="520.1" cy="844.9" r="2.0"/><circle cx="104.4" cy="836.6" r="2.0"/><circle cx="482.9" cy="744.4" r="2.0"/><circle cx="252.5" cy="857.1" r="2.0"/><circle cx="585.9" cy="724.7" r="2.0"/><circle cx="281.7" cy="699.9" r="2.0"/><circle cx="481.5" cy="773.3" r="2.0"/><circle cx="252.2" cy="842.6" r="2.0"/><circle cx="360.2" cy="855.2" r="2.0"/><circle cx="372.4" cy="824.7" r="2.0"/><circle cx="244.3" cy="731.9" r="2.0"/><circle cx="325" cy="837.2" r="2.0"/><circle cx="143.7" cy="799.7" r="2.0"/><circle cx="588.5" cy="753.9" r="2.0"/><circle cx="441.6" cy="858.4" r="2.0"/><circle cx="365.8" cy="729.5" r="2.0"/><circle cx="314.5" cy="714.2" r="2.0"/><circle cx="93.2" cy="703" r="2.0"/><circle cx="339.8" cy="843.6" r="2.0"/><circle cx="187.7" cy="729.6" r="2.0"/><circle cx="364.9" cy="727.2" r="2.0"/><circle cx="467.8" cy="846.3" r="2.0"/><circle cx="205.3" cy="746.4" r="2.0"/><circle cx="496.4" cy="681.3" r="2.0"/><circle cx="332.1" cy="701.2" r="2.0"/><circle cx="193.8" cy="855.7" r="2.0"/><circle cx="243.2" cy="681.1" r="2.0"/><circle cx="405.6" cy="704.6" r="2.0"/><circle cx="409.2" cy="725.5" r="2.0"/><circle cx="513.3" cy="725.9" r="2.0"/><circle cx="404.2" cy="728.8" r="2.0"/><circle cx="481" cy="776.2" r="2.0"/><circle cx="168.4" cy="855.9" r="2.0"/><circle cx="425.3" cy="746.6" r="2.0"/><circle cx="360.6" cy="695.5" r="2.0"/><circle cx="275.7" cy="700.2" r="2.0"/><circle cx="336.2" cy="828.4" r="2.0"/><circle cx="516.7" cy="714.7" r="2.0"/><circle cx="281.2" cy="846.9" r="2.0"/><circle cx="329.8" cy="748.2" r="2.0"/><circle cx="605.6" cy="845.3" r="2.0"/><circle cx="350.7" cy="693" r="2.0"/><circle cx="192.9" cy="858.7" r="2.0"/><circle cx="419.7" cy="844.1" r="2.0"/><circle cx="399.2" cy="713" r="2.0"/><circle cx="212.4" cy="857.1" r="2.0"/><circle cx="99" cy="781.2" r="2.0"/><circle cx="147.8" cy="766.7" r="2.0"/><circle cx="451.9" cy="746.9" r="2.0"/><circle cx="429.1" cy="854.1" r="2.0"/><circle cx="441" cy="845.2" r="2.0"/><circle cx="362.3" cy="700.7" r="2.0"/><circle cx="466.7" cy="836" r="2.0"/><circle cx="354.4" cy="846.6" r="2.0"/><circle cx="167.7" cy="844.3" r="2.0"/><circle cx="123.2" cy="857.8" r="2.0"/><circle cx="441.5" cy="855.1" r="2.0"/><circle cx="587.8" cy="831.4" r="2.0"/><circle cx="614.7" cy="828.7" r="2.0"/><circle cx="269.7" cy="725.5" r="2.0"/><circle cx="233.4" cy="719.8" r="2.0"/><circle cx="332.2" cy="757.4" r="2.0"/><circle cx="241.5" cy="738.7" r="2.0"/><circle cx="527.5" cy="764.3" r="2.0"/><circle cx="231.5" cy="698.9" r="2.0"/><circle cx="378.2" cy="856.7" r="2.0"/><circle cx="213.7" cy="736.4" r="2.0"/><circle cx="607.4" cy="811.4" r="2.0"/><circle cx="261.4" cy="845.5" r="2.0"/><circle cx="399.1" cy="734" r="2.0"/><circle cx="370.4" cy="734.4" r="2.0"/><circle cx="190.3" cy="696.2" r="2.0"/><circle cx="503.4" cy="846.3" r="2.0"/><circle cx="238.3" cy="688" r="2.0"/><circle cx="120.5" cy="740" r="2.0"/><circle cx="340.4" cy="858.1" r="2.0"/><circle cx="398" cy="813.5" r="2.0"/><circle cx="278.9" cy="715.2" r="2.0"/><circle cx="203.6" cy="837.6" r="2.0"/><circle cx="615.2" cy="826.4" r="2.0"/><circle cx="232" cy="678.1" r="2.0"/><circle cx="206.6" cy="717.1" r="2.0"/><circle cx="582.3" cy="738.9" r="2.0"/><circle cx="425.6" cy="746.2" r="2.0"/><circle cx="515.4" cy="857.5" r="2.0"/><circle cx="380.6" cy="742.5" r="2.0"/><circle cx="583.8" cy="742.6" r="2.0"/><circle cx="600.3" cy="705.4" r="2.0"/><circle cx="445.9" cy="722" r="2.0"/><circle cx="556.1" cy="746" r="2.0"/><circle cx="238.9" cy="744.7" r="2.0"/><circle cx="329.2" cy="828.6" r="2.0"/><circle cx="371.3" cy="753.1" r="2.0"/><circle cx="371.7" cy="725.9" r="2.0"/><circle cx="116.5" cy="820.6" r="2.0"/><circle cx="131.9" cy="699.3" r="2.0"/><circle cx="464.5" cy="700.2" r="2.0"/><circle cx="106" cy="844.7" r="2.0"/><circle cx="282" cy="858.2" r="2.0"/><circle cx="611.7" cy="682.8" r="2.0"/><circle cx="143.1" cy="712.5" r="2.0"/><circle cx="446.7" cy="833.2" r="2.0"/><circle cx="317.2" cy="854.1" r="2.0"/><circle cx="127.2" cy="811.3" r="2.0"/><circle cx="132.2" cy="823.8" r="2.0"/><circle cx="269.3" cy="778.5" r="2.0"/><circle cx="192.2" cy="800.6" r="2.0"/><circle cx="480" cy="754.1" r="2.0"/><circle cx="539.5" cy="731.4" r="2.0"/><circle cx="449" cy="759.9" r="2.0"/><circle cx="388.2" cy="773.5" r="2.0"/><circle cx="315.8" cy="745.6" r="2.0"/><circle cx="132.1" cy="763.6" r="2.0"/><circle cx="615.1" cy="743.8" r="2.0"/><circle cx="483.7" cy="690" r="2.0"/><circle cx="195.2" cy="819.9" r="2.0"/><circle cx="109.6" cy="742.9" r="2.0"/><circle cx="106.7" cy="681.1" r="2.0"/><circle cx="412.8" cy="754.8" r="2.0"/><circle cx="576.6" cy="692.3" r="2.0"/><circle cx="623.7" cy="810.9" r="2.0"/><circle cx="455.2" cy="845.3" r="2.0"/><circle cx="175.7" cy="859" r="2.0"/><circle cx="434.3" cy="725.3" r="2.0"/><circle cx="385.1" cy="828.5" r="2.0"/><circle cx="98.7" cy="745.4" r="2.0"/><circle cx="539.9" cy="723.9" r="2.0"/><circle cx="326.4" cy="772.4" r="2.0"/><circle cx="416.9" cy="728.8" r="2.0"/><circle cx="404.3" cy="743.9" r="2.0"/><circle cx="339.4" cy="787.2" r="2.0"/><circle cx="247.6" cy="847.5" r="2.0"/><circle cx="148.2" cy="724.4" r="2.0"/><circle cx="206.8" cy="746.3" r="2.0"/><circle cx="492.6" cy="858.5" r="2.0"/><circle cx="409.7" cy="687.5" r="2.0"/><circle cx="588.8" cy="731.7" r="2.0"/><circle cx="241" cy="756.5" r="2.0"/><circle cx="172.3" cy="722.6" r="2.0"/><circle cx="489.7" cy="703.2" r="2.0"/><circle cx="615.2" cy="799.9" r="2.0"/><circle cx="425.6" cy="688.7" r="2.0"/><circle cx="268.6" cy="723.7" r="2.0"/><circle cx="487.2" cy="845.3" r="2.0"/><circle cx="339" cy="709.1" r="2.0"/><circle cx="583.6" cy="681.6" r="2.0"/><circle cx="589.9" cy="708" r="2.0"/><circle cx="606" cy="856.7" r="2.0"/><circle cx="270.4" cy="700.4" r="2.0"/><circle cx="468.5" cy="692.1" r="2.0"/><circle cx="316.2" cy="704.4" r="2.0"/><circle cx="100.5" cy="745.2" r="2.0"/><circle cx="398.8" cy="836.7" r="2.0"/><circle cx="129.3" cy="702.4" r="2.0"/><circle cx="360.9" cy="775.1" r="2.0"/><circle cx="418.2" cy="742.6" r="2.0"/><circle cx="571.2" cy="729" r="2.0"/><circle cx="395.2" cy="719.1" r="2.0"/><circle cx="155.3" cy="779.9" r="2.0"/><circle cx="460.3" cy="714.4" r="2.0"/><circle cx="217.8" cy="786" r="2.0"/><circle cx="248.7" cy="709.5" r="2.0"/><circle cx="154.1" cy="844.4" r="2.0"/><circle cx="286.3" cy="846.3" r="2.0"/><circle cx="133.6" cy="715.4" r="2.0"/><circle cx="155.9" cy="789.6" r="2.0"/><circle cx="373.2" cy="815.1" r="2.0"/><circle cx="477.7" cy="855.3" r="2.0"/><circle cx="439.1" cy="858.7" r="2.0"/><circle cx="301.7" cy="737.6" r="2.0"/><circle cx="480.3" cy="726.6" r="2.0"/><circle cx="240.9" cy="858" r="2.0"/><circle cx="557.7" cy="838.1" r="2.0"/><circle cx="414.7" cy="742.1" r="2.0"/><circle cx="387.1" cy="857.1" r="2.0"/><circle cx="608.7" cy="739.1" r="2.0"/><circle cx="244.3" cy="739.9" r="2.0"/><circle cx="606.4" cy="838.2" r="2.0"/><circle cx="168.9" cy="720.9" r="2.0"/><circle cx="523.6" cy="857.3" r="2.0"/><circle cx="113.8" cy="856.7" r="2.0"/><circle cx="431.5" cy="704.3" r="2.0"/><circle cx="417.4" cy="681.3" r="2.0"/><circle cx="307.7" cy="857.7" r="2.0"/><circle cx="616.3" cy="739.3" r="2.0"/><circle cx="615.2" cy="811.4" r="2.0"/><circle cx="548.1" cy="788" r="2.0"/><circle cx="298.9" cy="718.2" r="2.0"/><circle cx="615.3" cy="708.8" r="2.0"/><circle cx="113.3" cy="856.8" r="2.0"/><circle cx="425.4" cy="832.5" r="2.0"/><circle cx="330.6" cy="818.9" r="2.0"/><circle cx="397.5" cy="744.5" r="2.0"/><circle cx="424.2" cy="713.6" r="2.0"/><circle cx="608.5" cy="847.3" r="2.0"/><circle cx="310.9" cy="739.5" r="2.0"/><circle cx="225.8" cy="855.7" r="2.0"/><circle cx="293" cy="817.3" r="2.0"/><circle cx="219.8" cy="691.3" r="2.0"/><circle cx="206.7" cy="723.6" r="2.0"/><circle cx="532.3" cy="690" r="2.0"/><circle cx="451.1" cy="834.7" r="2.0"/><circle cx="575.8" cy="755.5" r="2.0"/><circle cx="400.3" cy="844.1" r="2.0"/><circle cx="555.4" cy="858.5" r="2.0"/><circle cx="287.7" cy="843.5" r="2.0"/><circle cx="363.6" cy="699.1" r="2.0"/><circle cx="509.4" cy="859.1" r="2.0"/><circle cx="310.6" cy="740.3" r="2.0"/><circle cx="478.1" cy="737" r="2.0"/><circle cx="520.6" cy="845.4" r="2.0"/><circle cx="251.9" cy="702.5" r="2.0"/><circle cx="576" cy="798.8" r="2.0"/><circle cx="441.6" cy="823" r="2.0"/><circle cx="551" cy="692.7" r="2.0"/><circle cx="341.1" cy="844.8" r="2.0"/><circle cx="122.3" cy="735" r="2.0"/><circle cx="432.8" cy="765.6" r="2.0"/><circle cx="124" cy="728.4" r="2.0"/><circle cx="375.4" cy="754.1" r="2.0"/><circle cx="452.8" cy="713.3" r="2.0"/><circle cx="416" cy="682.5" r="2.0"/><circle cx="164.9" cy="717.2" r="2.0"/><circle cx="222.6" cy="838.2" r="2.0"/><circle cx="459.8" cy="702.8" r="2.0"/><circle cx="395.4" cy="683.2" r="2.0"/><circle cx="198.5" cy="784" r="2.0"/><circle cx="521.5" cy="835.6" r="2.0"/><circle cx="102" cy="735.7" r="2.0"/><circle cx="351.4" cy="750.5" r="2.0"/><circle cx="277.4" cy="857.9" r="2.0"/><circle cx="313.5" cy="682.4" r="2.0"/><circle cx="462" cy="689.4" r="2.0"/><circle cx="431.4" cy="713.9" r="2.0"/><circle cx="208.8" cy="729.4" r="2.0"/><circle cx="362.2" cy="793.3" r="2.0"/><circle cx="172.3" cy="846.3" r="2.0"/><circle cx="479.6" cy="845" r="2.0"/><circle cx="329.8" cy="703.7" r="2.0"/><circle cx="162.5" cy="847.2" r="2.0"/><circle cx="404.2" cy="856.6" r="2.0"/><circle cx="372.8" cy="722.1" r="2.0"/><circle cx="208.4" cy="845.6" r="2.0"/><circle cx="252.4" cy="754.8" r="2.0"/><circle cx="460.8" cy="714.7" r="2.0"/><circle cx="507.2" cy="737.3" r="2.0"/><circle cx="620.8" cy="682.6" r="2.0"/><circle cx="599.8" cy="740.3" r="2.0"/><circle cx="99.5" cy="754.1" r="2.0"/><circle cx="326.9" cy="717" r="2.0"/><circle cx="162.8" cy="679.9" r="2.0"/><circle cx="549.3" cy="696.6" r="2.0"/><circle cx="577.9" cy="745.3" r="2.0"/><circle cx="171.8" cy="681.7" r="2.0"/><circle cx="440.8" cy="852.9" r="2.0"/><circle cx="132.6" cy="844.8" r="2.0"/><circle cx="95.5" cy="855.5" r="2.0"/><circle cx="368.2" cy="802.4" r="2.0"/><circle cx="266.8" cy="740.6" r="2.0"/><circle cx="507.4" cy="846.1" r="2.0"/><circle cx="350.9" cy="774.8" r="2.0"/><circle cx="340.8" cy="856" r="2.0"/><circle cx="600" cy="734.8" r="2.0"/><circle cx="97.5" cy="845.3" r="2.0"/><circle cx="487.4" cy="686" r="2.0"/><circle cx="624.4" cy="740.9" r="2.0"/><circle cx="506.6" cy="688.2" r="2.0"/><circle cx="229" cy="711.2" r="2.0"/><circle cx="539.4" cy="762.2" r="2.0"/><circle cx="311.2" cy="727.1" r="2.0"/><circle cx="275.2" cy="730.3" r="2.0"/><circle cx="528.5" cy="702.1" r="2.0"/><circle cx="610.4" cy="758.6" r="2.0"/><circle cx="518.1" cy="829.3" r="2.0"/><circle cx="577.8" cy="789.1" r="2.0"/><circle cx="222.4" cy="805.8" r="2.0"/><circle cx="534.3" cy="845" r="2.0"/><circle cx="452.3" cy="861.1" r="2.0"/><circle cx="272.2" cy="859.5" r="2.0"/><circle cx="343.4" cy="686.5" r="2.0"/><circle cx="111.9" cy="715.8" r="2.0"/><circle cx="619.5" cy="771.1" r="2.0"/><circle cx="548.3" cy="712.6" r="2.0"/><circle cx="579.4" cy="688.1" r="2.0"/><circle cx="142.3" cy="691.4" r="2.0"/><circle cx="94.6" cy="781.4" r="2.0"/><circle cx="590.1" cy="709.6" r="2.0"/><circle cx="480.6" cy="815.2" r="2.0"/><circle cx="290.2" cy="751" r="2.0"/><circle cx="179.3" cy="696.2" r="2.0"/><circle cx="151.5" cy="728.4" r="2.0"/><circle cx="291.4" cy="812.5" r="2.0"/></g></g><clipPath id="s36"><rect x="846.3" y="36.5" width="875.1000000000001" height="201.5"/></clipPath><path clip-path="url(#s36)" d="M884.5 239.0 884.7 239.0 884.9 239.0 885.1 239.0 885.3 239.0 885.4 239.0 885.6 214.5 885.8 230.0 886.0 239.0 886.2 239.0 886.4 239.0 886.6 239.0 886.8 239.0 887.0 239.0 887.1 239.0 887.3 230.0 887.5 230.0 887.7 230.0 887.9 239.0 888.1 230.0 888.3 230.0 888.5 239.0 888.7 230.0 888.8 230.0 889.0 239.0 889.2 230.0 889.4 230.0 889.6 239.0 889.8 230.0 890.0 230.0 890.2 239.0 890.4 230.0 890.5 239.0 890.7 214.5 890.9 230.0 891.1 214.5 891.3 230.0 891.5 199.0 891.7 199.0 891.9 189.9 892.1 169.4 892.3 157.1 892.4 164.1 892.6 143.8 892.8 142.0 893.0 148.0 893.2 142.5 893.4 139.1 893.6 140.3 893.8 131.1 894.0 135.2 894.1 131.7 894.3 137.6 894.5 133.7 894.7 128.6 894.9 127.9 895.1 129.8 895.3 125.0 895.5 113.5 895.7 106.9 895.8 97.1 896.0 84.3 896.2 75.4 896.4 68.6 896.6 64.8 896.8 59.9 897.0 58.4 897.2 56.8 897.4 55.5 897.5 53.5 897.7 54.1 897.9 52.5 898.1 51.8 898.3 52.3 898.5 51.1 898.7 50.6 898.9 50.2 899.1 50.8 899.2 50.0 899.4 49.5 899.6 49.7 899.8 49.3 900.0 49.2 900.2 48.8 900.4 48.3 900.6 48.9 900.8 48.1 900.9 48.4 901.1 47.5 901.3 47.1 901.5 47.8 901.7 47.6 901.9 47.5 902.1 46.7 902.3 46.8 902.5 46.7 902.6 46.8 902.8 46.7 903.0 46.5 903.2 46.6 903.4 47.0 903.6 46.5 903.8 46.2 904.0 46.3 904.2 46.6 904.4 46.1 904.5 46.0 904.7 45.9 904.9 46.2 905.1 46.5 905.3 44.5 905.5 46.2 905.7 46.0 905.9 45.6 906.1 45.8 906.2 45.3 906.4 45.6 906.6 44.4 906.8 45.9 907.0 45.5 907.2 46.4 907.4 45.7 907.6 45.5 907.8 46.6 907.9 45.3 908.1 46.0 908.3 45.3 908.5 45.8 908.7 46.6 908.9 46.9 909.1 46.5 909.3 46.0 909.5 46.5 909.6 47.3 909.8 46.8 910.0 47.0 910.2 47.4 910.4 47.9 910.6 47.7 910.8 48.3 911.0 48.1 911.2 48.1 911.3 47.8 911.5 47.8 911.7 48.7 911.9 49.0 912.1 49.4 912.3 49.2 912.5 49.4 912.7 49.3 912.9 49.6 913.0 49.9 913.2 49.8 913.4 50.8 913.6 50.4 913.8 50.3 914.0 50.7 914.2 50.6 914.4 51.0 914.6 51.1 914.7 51.1 914.9 51.4 915.1 51.5 915.3 51.0 915.5 50.9 915.7 51.2 915.9 52.2 916.1 52.3 916.3 52.0 916.4 52.3 916.6 53.0 916.8 52.6 917.0 53.3 917.2 53.4 917.4 53.6 917.6 53.0 917.8 53.9 918.0 54.0 918.2 54.6 918.3 53.4 918.5 54.5 918.7 53.8 918.9 54.7 919.1 54.3 919.3 55.3 919.5 54.6 919.7 54.4 919.9 55.3 920.0 54.7 920.2 55.4 920.4 55.8 920.6 55.7 920.8 55.6 921.0 55.5 921.2 56.3 921.4 56.4 921.6 57.2 921.7 56.5 921.9 56.1 922.1 56.7 922.3 57.5 922.5 57.0 922.7 57.7 922.9 57.6 923.1 57.3 923.3 57.8 923.4 57.9 923.6 57.9 923.8 58.3 924.0 56.9 924.2 57.6 924.4 57.3 924.6 58.3 924.8 58.2 925.0 58.5 925.1 58.8 925.3 59.3 925.5 57.7 925.7 59.7 925.9 59.5 926.1 60.0 926.3 58.6 926.5 59.5 926.7 59.4 926.8 60.1 927.0 60.8 927.2 60.6 927.4 60.6 927.6 60.7 927.8 60.0 928.0 60.1 928.2 61.3 928.4 61.4 928.5 60.8 928.7 61.6 928.9 62.6 929.1 61.4 929.3 60.8 929.5 62.4 929.7 61.8 929.9 61.8 930.1 62.0 930.3 62.3 930.4 63.2 930.6 62.7 930.8 63.1 931.0 62.3 931.2 62.9 931.4 64.1 931.6 63.3 931.8 63.3 932.0 64.5 932.1 63.9 932.3 63.9 932.5 63.5 932.7 65.2 932.9 63.5 933.1 65.1 933.3 65.2 933.5 65.5 933.7 65.2 933.8 64.8 934.0 66.0 934.2 67.5 934.4 66.4 934.6 66.0 934.8 66.2 935.0 67.8 935.2 67.3 935.4 67.0 935.5 67.1 935.7 68.4 935.9 67.9 936.1 67.4 936.3 68.1 936.5 66.9 936.7 69.4 936.9 69.1 937.1 69.9 937.2 69.5 937.4 68.9 937.6 70.0 937.8 70.0 938.0 69.8 938.2 69.6 938.4 72.0 938.6 70.5 938.8 70.2 938.9 71.3 939.1 70.9 939.3 70.2 939.5 72.0 939.7 71.5 939.9 71.3 940.1 72.9 940.3 72.6 940.5 73.2 940.6 71.8 940.8 72.3 941.0 73.2 941.2 73.1 941.4 74.0 941.6 74.6 941.8 74.9 942.0 74.0 942.2 74.6 942.3 74.6 942.5 75.7 942.7 75.2 942.9 74.3 943.1 75.9 943.3 76.0 943.5 76.1 943.7 75.6 943.9 75.3 944.1 77.5 944.2 76.8 944.4 77.4 944.6 77.7 944.8 78.3 945.0 78.1 945.2 77.2 945.4 78.1 945.6 77.8 945.8 78.2 945.9 78.6 946.1 79.6 946.3 78.4 946.5 79.7 946.7 77.9 946.9 78.2 947.1 79.5 947.3 80.2 947.5 78.2 947.6 79.0 947.8 79.2 948.0 77.6 948.2 79.3 948.4 77.6 948.6 78.4 948.8 78.2 949.0 78.9 949.2 78.6 949.3 77.4 949.5 77.4 949.7 78.7 949.9 78.7 950.1 78.6 950.3 78.3 950.5 76.5 950.7 76.5 950.9 77.4 951.0 78.3 951.2 76.8 951.4 78.7 951.6 77.1 951.8 78.0 952.0 77.7 952.2 78.7 952.4 78.2 952.6 78.4 952.7 79.5 952.9 80.8 953.1 80.0 953.3 80.1 953.5 81.6 953.7 82.6 953.9 82.8 954.1 81.9 954.3 82.9 954.4 83.5 954.6 83.6 954.8 83.9 955.0 84.1 955.2 85.6 955.4 86.2 955.6 85.9 955.8 87.3 956.0 87.1 956.1 88.0 956.3 88.2 956.5 89.6 956.7 91.4 956.9 90.5 957.1 91.2 957.3 91.2 957.5 90.7 957.7 92.8 957.9 92.7 958.0 96.0 958.2 93.9 958.4 93.2 958.6 94.5 958.8 94.1 959.0 95.3 959.2 94.8 959.4 95.4 959.6 95.3 959.7 95.3 959.9 94.1 960.1 94.0 960.3 95.2 960.5 97.3 960.7 96.7 960.9 97.7 961.1 95.2 961.3 95.5 961.4 97.2 961.6 97.5 961.8 99.8 962.0 96.8 962.2 96.9 962.4 96.4 962.6 98.5 962.8 97.2 963.0 96.7 963.1 97.1 963.3 98.4 963.5 96.5 963.7 97.6 963.9 98.7 964.1 98.9 964.3 99.1 964.5 100.3 964.7 99.1 964.8 100.0 965.0 97.4 965.2 99.7 965.4 101.4 965.6 99.7 965.8 99.6 966.0 98.7 966.2 100.5 966.4 100.2 966.5 97.8 966.7 100.7 966.9 98.1 967.1 98.5 967.3 99.7 967.5 100.0 967.7 100.4 967.9 100.6 968.1 101.0 968.2 101.3 968.4 100.4 968.6 100.3 968.8 103.7 969.0 102.2 969.2 102.3 969.4 100.7 969.6 100.2 969.8 101.3 970.0 100.6 970.1 101.5 970.3 101.3 970.5 101.5 970.7 104.4 970.9 100.7 971.1 101.3 971.3 105.7 971.5 102.8 971.7 104.1 971.8 103.5 972.0 102.5 972.2 103.7 972.4 103.6 972.6 104.0 972.8 103.1 973.0 103.5 973.2 100.6 973.4 105.0 973.5 104.5 973.7 104.8 973.9 105.1 974.1 104.6 974.3 104.5 974.5 105.6 974.7 104.4 974.9 105.8 975.1 106.0 975.2 103.8 975.4 105.8 975.6 103.7 975.8 104.5 976.0 104.3 976.2 106.0 976.4 105.2 976.6 105.7 976.8 109.1 976.9 106.5 977.1 109.0 977.3 103.7 977.5 107.4 977.7 106.1 977.9 106.2 978.1 106.3 978.3 106.2 978.5 108.2 978.6 108.2 978.8 108.1 979.0 105.9 979.2 105.7 979.4 107.8 979.6 107.3 979.8 104.8 980.0 106.6 980.2 109.0 980.3 105.6 980.5 108.1 980.7 109.8 980.9 109.2 981.1 107.2 981.3 110.3 981.5 109.3 981.7 107.4 981.9 108.1 982.0 106.9 982.2 107.9 982.4 106.7 982.6 110.9 982.8 109.7 983.0 107.8 983.2 108.5 983.4 111.3 983.6 109.9 983.8 108.9 983.9 109.1 984.1 108.6 984.3 112.6 984.5 107.3 984.7 110.8 984.9 109.3 985.1 108.5 985.3 109.2 985.5 109.5 985.6 109.2 985.8 109.6 986.0 109.9 986.2 111.2 986.4 111.5 986.6 111.2 986.8 108.3 987.0 112.6 987.2 112.8 987.3 108.6 987.5 110.4 987.7 111.4 987.9 110.2 988.1 113.8 988.3 112.3 988.5 109.3 988.7 110.0 988.9 109.2 989.0 109.5 989.2 110.0 989.4 108.6 989.6 108.9 989.8 110.3 990.0 110.8 990.2 110.1 990.4 110.2 990.6 110.0 990.7 108.4 990.9 110.3 991.1 106.8 991.3 106.7 991.5 107.8 991.7 108.9 991.9 108.4 992.1 106.9 992.3 107.2 992.4 108.2 992.6 108.9 992.8 107.3 993.0 109.5 993.2 108.7 993.4 107.0 993.6 107.0 993.8 106.5 994.0 105.5 994.1 107.2 994.3 105.8 994.5 106.4 994.7 105.2 994.9 105.9 995.1 102.7 995.3 103.3 995.5 101.5 995.7 104.4 995.9 104.0 996.0 101.4 996.2 100.5 996.4 97.8 996.6 103.1 996.8 101.4 997.0 98.2 997.2 102.7 997.4 99.2 997.6 98.2 997.7 99.9 997.9 99.7 998.1 96.7 998.3 100.0 998.5 98.3 998.7 99.0 998.9 98.2 999.1 97.6 999.3 98.4 999.4 97.2 999.6 98.8 999.8 99.2 1000.0 101.3 1000.2 100.4 1000.4 100.1 1000.6 98.0 1000.8 101.1 1001.0 100.0 1001.1 99.6 1001.3 102.4 1001.5 102.7 1001.7 101.5 1001.9 102.6 1002.1 104.2 1002.3 103.5 1002.5 105.3 1002.7 106.2 1002.8 107.3 1003.0 107.3 1003.2 106.1 1003.4 108.5 1003.6 108.3 1003.8 110.8 1004.0 107.4 1004.2 108.3 1004.4 110.8 1004.5 110.3 1004.7 112.8 1004.9 108.8 1005.1 114.5 1005.3 113.1 1005.5 110.0 1005.7 116.3 1005.9 111.2 1006.1 120.6 1006.2 116.0 1006.4 112.0 1006.6 114.0 1006.8 117.4 1007.0 117.9 1007.2 115.3 1007.4 119.6 1007.6 118.2 1007.8 119.4 1007.9 116.1 1008.1 116.1 1008.3 119.1 1008.5 121.1 1008.7 119.4 1008.9 120.4 1009.1 122.3 1009.3 120.7 1009.5 120.9 1009.7 122.1 1009.8 118.9 1010.0 119.9 1010.2 123.2 1010.4 119.9 1010.6 120.9 1010.8 124.0 1011.0 122.7 1011.2 121.6 1011.4 120.7 1011.5 119.6 1011.7 121.1 1011.9 125.4 1012.1 119.9 1012.3 125.4 1012.5 126.3 1012.7 121.2 1012.9 120.6 1013.1 122.5 1013.2 123.2 1013.4 123.0 1013.6 121.8 1013.8 120.4 1014.0 122.3 1014.2 120.7 1014.4 121.9 1014.6 123.0 1014.8 125.6 1014.9 124.6 1015.1 122.5 1015.3 122.9 1015.5 122.3 1015.7 122.9 1015.9 126.1 1016.1 124.4 1016.3 123.8 1016.5 121.4 1016.6 119.7 1016.8 123.8 1017.0 124.2 1017.2 122.7 1017.4 123.6 1017.6 123.2 1017.8 123.8 1018.0 124.2 1018.2 125.8 1018.3 122.1 1018.5 126.3 1018.7 127.2 1018.9 121.1 1019.1 122.1 1019.3 121.1 1019.5 125.0 1019.7 123.4 1019.9 122.3 1020.0 128.8 1020.2 128.6 1020.4 122.5 1020.6 125.2 1020.8 125.2 1021.0 124.6 1021.2 122.9 1021.4 123.6 1021.6 125.8 1021.8 129.3 1021.9 126.3 1022.1 127.2 1022.3 125.4 1022.5 125.2 1022.7 121.9 1022.9 124.0 1023.1 127.6 1023.3 125.6 1023.5 129.1 1023.6 126.3 1023.8 126.1 1024.0 124.0 1024.2 124.0 1024.4 127.9 1024.6 122.1 1024.8 123.6 1025.0 125.2 1025.2 124.8 1025.3 130.6 1025.5 123.6 1025.7 126.9 1025.9 128.8 1026.1 127.6 1026.3 124.2 1026.5 126.5 1026.7 130.6 1026.9 129.1 1027.0 124.6 1027.2 126.1 1027.4 125.6 1027.6 126.3 1027.8 124.0 1028.0 125.2 1028.2 127.2 1028.4 124.4 1028.6 122.9 1028.7 124.6 1028.9 123.4 1029.1 126.7 1029.3 125.0 1029.5 124.4 1029.7 123.6 1029.9 126.9 1030.1 128.8 1030.3 124.4 1030.4 123.2 1030.6 125.2 1030.8 126.7 1031.0 123.6 1031.2 126.9 1031.4 127.2 1031.6 128.3 1031.8 130.1 1032.0 123.6 1032.1 125.8 1032.3 122.5 1032.5 126.9 1032.7 124.2 1032.9 124.6 1033.1 125.6 1033.3 128.8 1033.5 128.8 1033.7 126.7 1033.8 130.1 1034.0 127.2 1034.2 126.1 1034.4 126.3 1034.6 125.4 1034.8 127.2 1035.0 128.1 1035.2 130.1 1035.4 125.4 1035.6 128.3 1035.7 130.3 1035.9 128.6 1036.1 125.2 1036.3 131.4 1036.5 131.1 1036.7 129.3 1036.9 126.5 1037.1 130.8 1037.3 124.0 1037.4 130.1 1037.6 133.4 1037.8 127.9 1038.0 128.1 1038.2 126.5 1038.4 126.7 1038.6 128.3 1038.8 129.5 1039.0 131.7 1039.1 128.6 1039.3 129.8 1039.5 127.6 1039.7 130.1 1039.9 127.2 1040.1 129.1 1040.3 129.8 1040.5 131.4 1040.7 129.5 1040.8 129.3 1041.0 134.6 1041.2 129.8 1041.4 133.1 1041.6 130.8 1041.8 129.5 1042.0 131.4 1042.2 127.4 1042.4 126.7 1042.5 134.0 1042.7 134.0 1042.9 131.4 1043.1 131.7 1043.3 131.1 1043.5 130.6 1043.7 134.0 1043.9 130.8 1044.1 138.0 1044.2 132.5 1044.4 130.1 1044.6 131.7 1044.8 131.1 1045.0 134.0 1045.2 130.3 1045.4 130.6 1045.6 134.6 1045.8 129.5 1045.9 130.6 1046.1 136.9 1046.3 134.0 1046.5 131.7 1046.7 130.1 1046.9 134.3 1047.1 131.1 1047.3 130.1 1047.5 128.8 1047.7 128.8 1047.8 137.3 1048.0 134.9 1048.2 130.3 1048.4 134.3 1048.6 133.4 1048.8 138.0 1049.0 137.6 1049.2 131.1 1049.4 138.0 1049.5 133.7 1049.7 132.5 1049.9 131.7 1050.1 131.7 1050.3 134.3 1050.5 138.4 1050.7 133.4 1050.9 134.0 1051.1 137.3 1051.2 130.3 1051.4 134.6 1051.6 133.7 1051.8 132.5 1052.0 135.6 1052.2 136.9 1052.4 135.9 1052.6 136.6 1052.8 136.9 1052.9 134.0 1053.1 137.6 1053.3 136.9 1053.5 133.7 1053.7 134.3 1053.9 134.9 1054.1 135.2 1054.3 136.9 1054.5 138.0 1054.6 131.7 1054.8 136.2 1055.0 134.0 1055.2 134.6 1055.4 134.3 1055.6 138.7 1055.8 140.3 1056.0 136.2 1056.2 137.6 1056.3 136.2 1056.5 134.6 1056.7 138.0 1056.9 137.6 1057.1 139.5 1057.3 132.8 1057.5 140.7 1057.7 138.0 1057.9 137.6 1058.0 134.9 1058.2 136.2 1058.4 137.3 1058.6 139.5 1058.8 141.1 1059.0 137.6 1059.2 139.9 1059.4 136.9 1059.6 136.2 1059.7 138.7 1059.9 141.1 1060.1 137.3 1060.3 141.1 1060.5 136.2 1060.7 139.9 1060.9 136.9 1061.1 138.7 1061.3 138.4 1061.5 133.7 1061.6 141.6 1061.8 142.0 1062.0 139.9 1062.2 136.9 1062.4 138.4 1062.6 142.0 1062.8 138.0 1063.0 137.3 1063.2 135.9 1063.3 142.5 1063.5 139.9 1063.7 135.9 1063.9 135.2 1064.1 142.5 1064.3 141.1 1064.5 134.0 1064.7 135.9 1064.9 146.4 1065.0 136.9 1065.2 141.6 1065.4 139.9 1065.6 138.7 1065.8 140.3 1066.0 135.9 1066.2 141.6 1066.4 140.3 1066.6 138.7 1066.7 138.4 1066.9 142.0 1067.1 139.9 1067.3 136.9 1067.5 141.6 1067.7 140.3 1067.9 139.9 1068.1 135.9 1068.3 138.0 1068.4 140.3 1068.6 142.9 1068.8 144.8 1069.0 141.1 1069.2 140.3 1069.4 141.6 1069.6 139.9 1069.8 139.9 1070.0 139.9 1070.1 139.5 1070.3 141.6 1070.5 143.8 1070.7 139.9 1070.9 136.6 1071.1 134.6 1071.3 140.7 1071.5 147.4 1071.7 138.7 1071.8 136.9 1072.0 142.9 1072.2 141.6 1072.4 145.3 1072.6 148.0 1072.8 134.6 1073.0 136.9 1073.2 146.4 1073.4 141.6 1073.5 139.5 1073.7 144.3 1073.9 148.0 1074.1 135.9 1074.3 139.5 1074.5 146.9 1074.7 142.9 1074.9 142.0 1075.1 140.3 1075.3 146.9 1075.4 142.9 1075.6 142.5 1075.8 147.4 1076.0 140.3 1076.2 140.3 1076.4 138.7 1076.6 141.1 1076.8 142.9 1077.0 145.8 1077.1 142.0 1077.3 140.7 1077.5 141.1 1077.7 147.4 1077.9 140.3 1078.1 144.8 1078.3 145.8 1078.5 140.7 1078.7 146.4 1078.8 136.6 1079.0 145.8 1079.2 142.5 1079.4 135.9 1079.6 147.4 1079.8 145.3 1080.0 140.3 1080.2 145.3 1080.4 142.5 1080.5 139.9 1080.7 146.9 1080.9 141.6 1081.1 145.8 1081.3 148.6 1081.5 142.0 1081.7 141.1 1081.9 139.1 1082.1 142.0 1082.2 142.0 1082.4 143.4 1082.6 138.7 1082.8 143.4 1083.0 139.5 1083.2 141.1 1083.4 138.7 1083.6 136.6 1083.8 145.8 1083.9 144.8 1084.1 145.8 1084.3 149.8 1084.5 144.8 1084.7 149.2 1084.9 138.7 1085.1 142.5 1085.3 138.7 1085.5 137.6 1085.6 143.4 1085.8 137.3 1086.0 139.1 1086.2 138.4 1086.4 142.9 1086.6 136.6 1086.8 143.8 1087.0 139.5 1087.2 144.3 1087.4 140.3 1087.5 141.6 1087.7 140.7 1087.9 136.9 1088.1 141.6 1088.3 144.8 1088.5 134.6 1088.7 137.3 1088.9 139.5 1089.1 135.2 1089.2 136.2 1089.4 138.7 1089.6 138.0 1089.8 143.4 1090.0 137.6 1090.2 144.3 1090.4 136.2 1090.6 141.6 1090.8 137.6 1090.9 133.7 1091.1 135.9 1091.3 131.7 1091.5 134.0 1091.7 136.2 1091.9 134.9 1092.1 135.2 1092.3 131.4 1092.5 136.9 1092.6 131.9 1092.8 131.9 1093.0 133.4 1093.2 133.1 1093.4 133.7 1093.6 134.0 1093.8 129.8 1094.0 132.8 1094.2 134.9 1094.3 132.5 1094.5 131.7 1094.7 129.8 1094.9 133.4 1095.1 130.6 1095.3 130.1 1095.5 124.4 1095.7 129.3 1095.9 129.8 1096.0 131.1 1096.2 129.5 1096.4 131.4 1096.6 131.1 1096.8 134.6 1097.0 131.4 1097.2 128.8 1097.4 129.5 1097.6 132.5 1097.7 129.3 1097.9 134.9 1098.1 136.2 1098.3 132.2 1098.5 133.4 1098.7 134.0 1098.9 133.4 1099.1 136.2 1099.3 133.4 1099.4 133.1 1099.6 136.9 1099.8 138.7 1100.0 136.6 1100.2 134.0 1100.4 130.8 1100.6 131.4 1100.8 133.7 1101.0 140.7 1101.2 135.6 1101.3 133.4 1101.5 141.1 1101.7 138.4 1101.9 129.5 1102.1 131.7 1102.3 141.6 1102.5 142.0 1102.7 140.3 1102.9 142.0 1103.0 137.6 1103.2 138.0 1103.4 135.2 1103.6 136.6 1103.8 134.6 1104.0 134.3 1104.2 139.1 1104.4 139.9 1104.6 139.1 1104.7 139.9 1104.9 143.4 1105.1 139.9 1105.3 139.1 1105.5 142.0 1105.7 137.6 1105.9 139.1 1106.1 139.9 1106.3 138.4 1106.4 142.0 1106.6 142.0 1106.8 147.4 1107.0 140.3 1107.2 144.8 1107.4 139.1 1107.6 141.6 1107.8 143.4 1108.0 141.6 1108.1 142.9 1108.3 143.8 1108.5 142.9 1108.7 141.6 1108.9 144.8 1109.1 143.4 1109.3 144.3 1109.5 140.7 1109.7 137.3 1109.8 143.4 1110.0 141.1 1110.2 138.4 1110.4 138.0 1110.6 140.3 1110.8 143.4 1111.0 143.4 1111.2 143.8 1111.4 148.6 1111.5 147.4 1111.7 142.9 1111.9 138.7 1112.1 146.9 1112.3 144.3 1112.5 148.6 1112.7 139.9 1112.9 145.8 1113.1 149.8 1113.3 140.3 1113.4 146.4 1113.6 144.3 1113.8 143.8 1114.0 144.8 1114.2 143.8 1114.4 141.1 1114.6 141.1 1114.8 151.1 1115.0 145.8 1115.1 142.0 1115.3 142.9 1115.5 143.8 1115.7 144.8 1115.9 142.5 1116.1 149.2 1116.3 144.3 1116.5 146.9 1116.7 144.8 1116.8 144.3 1117.0 149.8 1117.2 148.6 1117.4 146.4 1117.6 148.0 1117.8 152.4 1118.0 160.8 1118.2 153.9 1118.4 144.3 1118.5 151.8 1118.7 146.4 1118.9 148.6 1119.1 148.0 1119.3 151.8 1119.5 147.4 1119.7 149.8 1119.9 166.6 1120.1 152.4 1120.2 146.4 1120.4 146.9 1120.6 153.2 1120.8 148.6 1121.0 148.0 1121.2 144.3 1121.4 147.4 1121.6 152.4 1121.8 153.2 1121.9 151.1 1122.1 145.8 1122.3 148.6 1122.5 149.8 1122.7 148.0 1122.9 145.3 1123.1 141.6 1123.3 142.0 1123.5 148.6 1123.6 149.8 1123.8 151.1 1124.0 154.6 1124.2 148.6 1124.4 144.8 1124.6 152.4 1124.8 149.2 1125.0 152.4 1125.2 156.2 1125.3 152.4 1125.5 147.4 1125.7 151.8 1125.9 148.6 1126.1 149.8 1126.3 155.4 1126.5 149.8 1126.7 149.8 1126.9 153.2 1127.1 149.2 1127.2 152.4 1127.4 148.0 1127.6 151.1 1127.8 150.4 1128.0 165.3 1128.2 148.0 1128.4 153.9 1128.6 150.4 1128.8 155.4 1128.9 152.4 1129.1 148.6 1129.3 151.8 1129.5 147.4 1129.7 157.1 1129.9 144.8 1130.1 145.8 1130.3 150.4 1130.5 156.2 1130.6 146.9 1130.8 151.1 1131.0 145.8 1131.2 153.2 1131.4 153.9 1131.6 156.2 1131.8 148.0 1132.0 145.8 1132.2 159.8 1132.3 151.8 1132.5 158.0 1132.7 151.1 1132.9 147.4 1133.1 148.6 1133.3 146.9 1133.5 142.0 1133.7 153.2 1133.9 153.9 1134.0 148.6 1134.2 152.4 1134.4 156.2 1134.6 149.8 1134.8 154.6 1135.0 149.2 1135.2 166.6 1135.4 142.5 1135.6 159.8 1135.7 149.2 1135.9 149.2 1136.1 151.1 1136.3 147.4 1136.5 151.8 1136.7 151.8 1136.9 147.4 1137.1 147.4 1137.3 149.8 1137.4 146.4 1137.6 149.2 1137.8 145.3 1138.0 150.4 1138.2 147.4 1138.4 148.6 1138.6 146.9 1138.8 149.2 1139.0 151.1 1139.2 155.4 1139.3 154.6 1139.5 147.4 1139.7 151.8 1139.9 149.2 1140.1 148.6 1140.3 151.8 1140.5 149.8 1140.7 151.8 1140.9 144.8 1141.0 152.4 1141.2 151.1 1141.4 146.9 1141.6 146.9 1141.8 151.8 1142.0 143.8 1142.2 153.2 1142.4 147.4 1142.6 147.4 1142.7 146.4 1142.9 145.3 1143.1 151.1 1143.3 148.0 1143.5 151.1 1143.7 149.2 1143.9 145.3 1144.1 148.0 1144.3 149.8 1144.4 149.2 1144.6 149.8 1144.8 151.1 1145.0 149.8 1145.2 147.4 1145.4 148.0 1145.6 149.2 1145.8 150.4 1146.0 145.3 1146.1 141.6 1146.3 146.9 1146.5 149.2 1146.7 143.4 1146.9 143.8 1147.1 151.1 1147.3 152.4 1147.5 144.3 1147.7 151.8 1147.8 149.2 1148.0 148.0 1148.2 147.4 1148.4 148.6 1148.6 144.3 1148.8 151.1 1149.0 142.0 1149.2 148.0 1149.4 145.3 1149.5 142.9 1149.7 146.4 1149.9 148.0 1150.1 148.0 1150.3 142.5 1150.5 145.8 1150.7 155.4 1150.9 150.4 1151.1 149.8 1151.2 143.8 1151.4 153.9 1151.6 148.6 1151.8 157.1 1152.0 152.4 1152.2 149.8 1152.4 139.5 1152.6 144.3 1152.8 149.2 1153.0 154.6 1153.1 143.4 1153.3 145.8 1153.5 148.0 1153.7 146.4 1153.9 153.2 1154.1 148.6 1154.3 150.4 1154.5 148.6 1154.7 154.6 1154.8 152.4 1155.0 148.6 1155.2 151.8 1155.4 148.0 1155.6 148.0 1155.8 158.9 1156.0 147.4 1156.2 149.2 1156.4 149.8 1156.5 151.1 1156.7 149.8 1156.9 152.4 1157.1 148.0 1157.3 142.9 1157.5 145.8 1157.7 144.8 1157.9 148.6 1158.1 152.4 1158.2 154.6 1158.4 145.8 1158.6 144.8 1158.8 148.0 1159.0 148.0 1159.2 145.3 1159.4 154.6 1159.6 152.4 1159.8 155.4 1159.9 148.0 1160.1 149.2 1160.3 149.8 1160.5 153.9 1160.7 151.8 1160.9 147.4 1161.1 147.4 1161.3 148.0 1161.5 149.8 1161.6 158.9 1161.8 156.2 1162.0 150.4 1162.2 151.8 1162.4 153.9 1162.6 143.8 1162.8 148.6 1163.0 151.1 1163.2 153.2 1163.3 150.4 1163.5 145.3 1163.7 154.6 1163.9 156.2 1164.1 155.4 1164.3 151.1 1164.5 150.4 1164.7 146.9 1164.9 145.3 1165.1 148.0 1165.2 145.3 1165.4 152.4 1165.6 157.1 1165.8 160.8 1166.0 148.6 1166.2 154.6 1166.4 158.0 1166.6 148.0 1166.8 156.2 1166.9 151.1 1167.1 152.4 1167.3 157.1 1167.5 163.0 1167.7 158.9 1167.9 157.1 1168.1 161.9 1168.3 155.4 1168.5 157.1 1168.6 158.0 1168.8 155.4 1169.0 151.1 1169.2 156.2 1169.4 158.0 1169.6 154.6 1169.8 148.6 1170.0 151.8 1170.2 157.1 1170.3 159.8 1170.5 156.2 1170.7 161.9 1170.9 164.1 1171.1 165.3 1171.3 154.6 1171.5 152.4 1171.7 149.8 1171.9 154.6 1172.0 159.8 1172.2 153.2 1172.4 155.4 1172.6 153.2 1172.8 157.1 1173.0 158.9 1173.2 156.2 1173.4 156.2 1173.6 161.9 1173.7 158.0 1173.9 155.4 1174.1 158.0 1174.3 154.6 1174.5 158.9 1174.7 165.3 1174.9 158.9 1175.1 165.3 1175.3 158.9 1175.4 160.8 1175.6 158.9 1175.8 166.6 1176.0 160.8 1176.2 169.4 1176.4 163.0 1176.6 161.9 1176.8 159.8 1177.0 159.8 1177.1 165.3 1177.3 158.9 1177.5 164.1 1177.7 154.6 1177.9 165.3 1178.1 161.9 1178.3 161.9 1178.5 163.0 1178.7 165.3 1178.9 169.4 1179.0 152.4 1179.2 178.5 1179.4 168.0 1179.6 158.0 1179.8 161.9 1180.0 166.6 1180.2 163.0 1180.4 160.8 1180.6 186.5 1180.7 170.9 1180.9 163.0 1181.1 176.3 1181.3 163.0 1181.5 178.5 1181.7 164.1 1181.9 163.0 1182.1 160.8 1182.3 169.4 1182.4 166.6 1182.6 160.8 1182.8 166.6 1183.0 168.0 1183.2 163.0 1183.4 164.1 1183.6 158.9 1183.8 168.0 1184.0 165.3 1184.1 176.3 1184.3 161.9 1184.5 168.0 1184.7 169.4 1184.9 168.0 1185.1 174.4 1185.3 164.1 1185.5 166.6 1185.7 174.4 1185.8 180.8 1186.0 172.6 1186.2 178.5 1186.4 170.9 1186.6 158.0 1186.8 168.0 1187.0 166.6 1187.2 169.4 1187.4 170.9 1187.5 168.0 1187.7 164.1 1187.9 174.4 1188.1 172.6 1188.3 165.3 1188.5 161.9 1188.7 174.4 1188.9 165.3 1189.1 174.4 1189.2 168.0 1189.4 166.6 1189.6 170.9 1189.8 169.4 1190.0 172.6 1190.2 174.4 1190.4 169.4 1190.6 172.6 1190.8 172.6 1191.0 172.6 1191.1 176.3 1191.3 174.4 1191.5 166.6 1191.7 169.4 1191.9 166.6 1192.1 178.5 1192.3 183.5 1192.5 180.8 1192.7 170.9 1192.8 174.4 1193.0 186.5 1193.2 164.1 1193.4 183.5 1193.6 170.9 1193.8 168.0 1194.0 163.0 1194.2 178.5 1194.4 178.5 1194.5 165.3 1194.7 180.8 1194.9 169.4 1195.1 168.0 1195.3 163.0 1195.5 169.4 1195.7 170.9 1195.9 170.9 1196.1 169.4 1196.2 172.6 1196.4 164.1 1196.6 170.9 1196.8 178.5 1197.0 164.1 1197.2 180.8 1197.4 170.9 1197.6 169.4 1197.8 170.9 1197.9 174.4 1198.1 174.4 1198.3 174.4 1198.5 165.3 1198.7 172.6 1198.9 170.9 1199.1 166.6 1199.3 161.9 1199.5 174.4 1199.6 166.6 1199.8 163.0 1200.0 169.4 1200.2 168.0 1200.4 178.5 1200.6 168.0 1200.8 161.9 1201.0 172.6 1201.2 168.0 1201.3 165.3 1201.5 174.4 1201.7 169.4 1201.9 166.6 1202.1 165.3 1202.3 164.1 1202.5 160.8 1202.7 166.6 1202.9 172.6 1203.0 159.8 1203.2 169.4 1203.4 174.4 1203.6 164.1 1203.8 174.4 1204.0 166.6 1204.2 166.6 1204.4 170.9 1204.6 168.0 1204.8 157.1 1204.9 168.0 1205.1 164.1 1205.3 161.9 1205.5 164.1 1205.7 159.8 1205.9 169.4 1206.1 161.9 1206.3 155.4 1206.5 164.1 1206.6 172.6 1206.8 170.9 1207.0 165.3 1207.2 164.1 1207.4 164.1 1207.6 155.4 1207.8 161.9 1208.0 152.4 1208.2 163.0 1208.3 160.8 1208.5 158.0 1208.7 163.0 1208.9 169.4 1209.1 158.9 1209.3 157.1 1209.5 155.4 1209.7 156.2 1209.9 154.6 1210.0 159.8 1210.2 145.8 1210.4 169.4 1210.6 164.1 1210.8 160.8 1211.0 157.1 1211.2 158.9 1211.4 153.9 1211.6 148.6 1211.7 158.9 1211.9 158.0 1212.1 158.0 1212.3 157.1 1212.5 150.4 1212.7 157.1 1212.9 151.8 1213.1 155.4 1213.3 155.4 1213.4 147.4 1213.6 156.2 1213.8 147.4 1214.0 152.4 1214.2 156.2 1214.4 151.8 1214.6 151.1 1214.8 146.9 1215.0 150.4 1215.1 151.1 1215.3 152.4 1215.5 146.9 1215.7 143.8 1215.9 150.4 1216.1 156.2 1216.3 149.2 1216.5 146.4 1216.7 143.4 1216.8 148.6 1217.0 148.0 1217.2 148.6 1217.4 153.9 1217.6 148.0 1217.8 141.1 1218.0 151.1 1218.2 151.1 1218.4 153.2 1218.6 149.2 1218.7 151.1 1218.9 152.4 1219.1 154.6 1219.3 147.4 1219.5 149.8 1219.7 152.4 1219.9 153.9 1220.1 149.2 1220.3 155.4 1220.4 155.4 1220.6 151.1 1220.8 151.8 1221.0 152.4 1221.2 154.6 1221.4 153.2 1221.6 157.1 1221.8 156.2 1222.0 156.2 1222.1 158.9 1222.3 158.0 1222.5 149.8 1222.7 153.2 1222.9 158.9 1223.1 152.4 1223.3 155.4 1223.5 152.4 1223.7 154.6 1223.8 151.8 1224.0 154.6 1224.2 159.8 1224.4 152.4 1224.6 164.1 1224.8 153.9 1225.0 151.1 1225.2 156.2 1225.4 151.8 1225.5 160.8 1225.7 153.9 1225.9 155.4 1226.1 164.1 1226.3 164.1 1226.5 151.8 1226.7 168.0 1226.9 163.0 1227.1 174.4 1227.2 163.0 1227.4 153.9 1227.6 166.6 1227.8 157.1 1228.0 161.9 1228.2 158.9 1228.4 159.8 1228.6 161.9 1228.8 163.0 1228.9 161.9 1229.1 158.9 1229.3 160.8 1229.5 166.6 1229.7 170.9 1229.9 169.4 1230.1 170.9 1230.3 164.1 1230.5 158.0 1230.7 158.0 1230.8 165.3 1231.0 164.1 1231.2 165.3 1231.4 158.9 1231.6 165.3 1231.8 176.3 1232.0 169.4 1232.2 168.0 1232.4 163.0 1232.5 169.4 1232.7 158.0 1232.9 157.1 1233.1 166.6 1233.3 161.9 1233.5 169.4 1233.7 165.3 1233.9 169.4 1234.1 168.0 1234.2 180.8 1234.4 169.4 1234.6 174.4 1234.8 180.8 1235.0 169.4 1235.2 170.9 1235.4 176.3 1235.6 172.6 1235.8 180.8 1235.9 166.6 1236.1 172.6 1236.3 168.0 1236.5 170.9 1236.7 166.6 1236.9 170.9 1237.1 166.6 1237.3 168.0 1237.5 163.0 1237.6 176.3 1237.8 174.4 1238.0 166.6 1238.2 169.4 1238.4 174.4 1238.6 176.3 1238.8 180.8 1239.0 169.4 1239.2 176.3 1239.3 180.8 1239.5 178.5 1239.7 169.4 1239.9 169.4 1240.1 169.4 1240.3 172.6 1240.5 170.9 1240.7 172.6 1240.9 178.5 1241.0 174.4 1241.2 176.3 1241.4 176.3 1241.6 178.5 1241.8 170.9 1242.0 178.5 1242.2 174.4 1242.4 199.0 1242.6 170.9 1242.7 180.8 1242.9 166.6 1243.1 186.5 1243.3 186.5 1243.5 199.0 1243.7 186.5 1243.9 172.6 1244.1 178.5 1244.3 168.0 1244.5 168.0 1244.6 194.0 1244.8 176.3 1245.0 186.5 1245.2 178.5 1245.4 180.8 1245.6 214.5 1245.8 186.5 1246.0 199.0 1246.2 183.5 1246.3 180.8 1246.5 205.4 1246.7 176.3 1246.9 199.0 1247.1 176.3 1247.3 174.4 1247.5 178.5 1247.7 176.3 1247.9 199.0 1248.0 194.0 1248.2 194.0 1248.4 178.5 1248.6 178.5 1248.8 186.5 1249.0 194.0 1249.2 180.8 1249.4 180.8 1249.6 205.4 1249.7 199.0 1249.9 199.0 1250.1 189.9 1250.3 176.3 1250.5 186.5 1250.7 189.9 1250.9 189.9 1251.1 180.8 1251.3 205.4 1251.4 183.5 1251.6 199.0 1251.8 180.8 1252.0 205.4 1252.2 183.5 1252.4 205.4 1252.6 214.5 1252.8 180.8 1253.0 199.0 1253.1 205.4 1253.3 189.9 1253.5 183.5 1253.7 205.4 1253.9 186.5 1254.1 189.9 1254.3 186.5 1254.5 180.8 1254.7 194.0 1254.8 194.0 1255.0 199.0 1255.2 199.0 1255.4 189.9 1255.6 189.9 1255.8 186.5 1256.0 230.0 1256.2 183.5 1256.4 230.0 1256.6 199.0 1256.7 199.0 1256.9 178.5 1257.1 205.4 1257.3 189.9 1257.5 183.5 1257.7 205.4 1257.9 189.9 1258.1 194.0 1258.3 205.4 1258.4 214.5 1258.6 180.8 1258.8 186.5 1259.0 194.0 1259.2 189.9 1259.4 194.0 1259.6 189.9 1259.8 205.4 1260.0 214.5 1260.1 214.5 1260.3 199.0 1260.5 199.0 1260.7 189.9 1260.9 199.0 1261.1 205.4 1261.3 205.4 1261.5 194.0 1261.7 214.5 1261.8 194.0 1262.0 214.5 1262.2 205.4 1262.4 205.4 1262.6 183.5 1262.8 186.5 1263.0 214.5 1263.2 186.5 1263.4 205.4 1263.5 205.4 1263.7 194.0 1263.9 189.9 1264.1 194.0 1264.3 194.0 1264.5 194.0 1264.7 205.4 1264.9 183.5 1265.1 194.0 1265.2 189.9 1265.4 205.4 1265.6 194.0 1265.8 205.4 1266.0 180.8 1266.2 199.0 1266.4 205.4 1266.6 214.5 1266.8 199.0 1266.9 214.5 1267.1 205.4 1267.3 205.4 1267.5 189.9 1267.7 189.9 1267.9 205.4 1268.1 214.5 1268.3 194.0 1268.5 230.0 1268.6 205.4 1268.8 194.0 1269.0 189.9 1269.2 205.4 1269.4 199.0 1269.6 194.0 1269.8 199.0 1270.0 189.9 1270.2 194.0 1270.4 199.0 1270.5 189.9 1270.7 205.4 1270.9 199.0 1271.1 239.0 1271.3 199.0 1271.5 214.5 1271.7 186.5 1271.9 214.5 1272.1 205.4 1272.2 186.5 1272.4 194.0 1272.6 189.9 1272.8 214.5 1273.0 205.4 1273.2 176.3 1273.4 205.4 1273.6 194.0 1273.8 199.0 1273.9 205.4 1274.1 199.0 1274.3 214.5 1274.5 194.0 1274.7 189.9 1274.9 183.5 1275.1 214.5 1275.3 214.5 1275.5 183.5 1275.6 205.4 1275.8 199.0 1276.0 230.0 1276.2 205.4 1276.4 186.5 1276.6 205.4 1276.8 194.0 1277.0 214.5 1277.2 199.0 1277.3 214.5 1277.5 189.9 1277.7 194.0 1277.9 205.4 1278.1 194.0 1278.3 189.9 1278.5 189.9 1278.7 194.0 1278.9 189.9 1279.0 186.5 1279.2 214.5 1279.4 205.4 1279.6 199.0 1279.8 186.5 1280.0 199.0 1280.2 205.4 1280.4 194.0 1280.6 189.9 1280.7 183.5 1280.9 205.4 1281.1 214.5 1281.3 194.0 1281.5 194.0 1281.7 199.0 1281.9 205.4 1282.1 194.0 1282.3 189.9 1282.5 189.9 1282.6 194.0 1282.8 194.0 1283.0 189.9 1283.2 180.8 1283.4 194.0 1283.6 180.8 1283.8 189.9 1284.0 178.5 1284.2 178.5 1284.3 176.3 1284.5 186.5 1284.7 194.0 1284.9 189.9 1285.1 183.5 1285.3 176.3 1285.5 194.0 1285.7 176.3 1285.9 194.0 1286.0 178.5 1286.2 189.9 1286.4 183.5 1286.6 178.5 1286.8 194.0 1287.0 186.5 1287.2 186.5 1287.4 180.8 1287.6 183.5 1287.7 172.6 1287.9 189.9 1288.1 186.5 1288.3 183.5 1288.5 186.5 1288.7 205.4 1288.9 194.0 1289.1 180.8 1289.3 183.5 1289.4 186.5 1289.6 180.8 1289.8 178.5 1290.0 176.3 1290.2 186.5 1290.4 176.3 1290.6 168.0 1290.8 170.9 1291.0 194.0 1291.1 186.5 1291.3 180.8 1291.5 189.9 1291.7 194.0 1291.9 194.0 1292.1 189.9 1292.3 180.8 1292.5 199.0 1292.7 183.5 1292.8 194.0 1293.0 194.0 1293.2 189.9 1293.4 180.8 1293.6 199.0 1293.8 214.5 1294.0 183.5 1294.2 178.5 1294.4 189.9 1294.5 180.8 1294.7 176.3 1294.9 189.9 1295.1 183.5 1295.3 189.9 1295.5 214.5 1295.7 174.4 1295.9 186.5 1296.1 174.4 1296.3 172.6 1296.4 186.5 1296.6 180.8 1296.8 183.5 1297.0 178.5 1297.2 174.4 1297.4 194.0 1297.6 166.6 1297.8 205.4 1298.0 186.5 1298.1 189.9 1298.3 180.8 1298.5 199.0 1298.7 186.5 1298.9 199.0 1299.1 186.5 1299.3 183.5 1299.5 189.9 1299.7 174.4 1299.8 183.5 1300.0 180.8 1300.2 180.8 1300.4 189.9 1300.6 186.5 1300.8 183.5 1301.0 194.0 1301.2 194.0 1301.4 174.4 1301.5 189.9 1301.7 199.0 1301.9 186.5 1302.1 180.8 1302.3 186.5 1302.5 183.5 1302.7 180.8 1302.9 205.4 1303.1 186.5 1303.2 199.0 1303.4 183.5 1303.6 180.8 1303.8 199.0 1304.0 183.5 1304.2 180.8 1304.4 186.5 1304.6 180.8 1304.8 205.4 1304.9 186.5 1305.1 199.0 1305.3 194.0 1305.5 180.8 1305.7 183.5 1305.9 172.6 1306.1 186.5 1306.3 194.0 1306.5 180.8 1306.6 189.9 1306.8 183.5 1307.0 186.5 1307.2 186.5 1307.4 183.5 1307.6 199.0 1307.8 183.5 1308.0 194.0 1308.2 199.0 1308.4 178.5 1308.5 186.5 1308.7 194.0 1308.9 180.8 1309.1 189.9 1309.3 180.8 1309.5 183.5 1309.7 205.4 1309.9 199.0 1310.1 189.9 1310.2 214.5 1310.4 194.0 1310.6 199.0 1310.8 205.4 1311.0 194.0 1311.2 230.0 1311.4 230.0 1311.6 214.5 1311.8 186.5 1311.9 194.0 1312.1 205.4 1312.3 199.0 1312.5 199.0 1312.7 199.0 1312.9 214.5 1313.1 199.0 1313.3 214.5 1313.5 230.0 1313.6 239.0 1313.8 214.5 1314.0 239.0 1314.2 230.0 1314.4 239.0 1314.6 230.0 1314.8 239.0 1315.0 239.0 1315.2 239.0 1315.3 230.0 1315.5 214.5 1315.7 230.0 1315.9 230.0 1316.1 230.0 1316.3 230.0 1316.5 230.0 1316.7 214.5 1316.9 214.5 1317.0 230.0 1317.2 239.0 1317.4 214.5 1317.6 214.5 1317.8 214.5 1318.0 230.0 1318.2 189.9 1318.4 230.0 1318.6 205.4 1318.7 230.0 1318.9 230.0 1319.1 239.0 1319.3 214.5 1319.5 239.0 1319.7 230.0 1319.9 205.4 1320.1 214.5 1320.3 199.0 1320.4 230.0 1320.6 205.4 1320.8 230.0 1321.0 205.4 1321.2 239.0 1321.4 205.4 1321.6 205.4 1321.8 230.0 1322.0 214.5 1322.2 205.4 1322.3 205.4 1322.5 230.0 1322.7 199.0 1322.9 230.0 1323.1 194.0 1323.3 230.0 1323.5 205.4 1323.7 214.5 1323.9 214.5 1324.0 239.0 1324.2 230.0 1324.4 214.5 1324.6 230.0 1324.8 205.4 1325.0 199.0 1325.2 239.0 1325.4 214.5 1325.6 230.0 1325.7 230.0 1325.9 214.5 1326.1 205.4 1326.3 239.0 1326.5 230.0 1326.7 239.0 1326.9 239.0 1327.1 230.0 1327.3 230.0 1327.4 205.4 1327.6 230.0 1327.8 239.0 1328.0 230.0 1328.2 214.5 1328.4 205.4 1328.6 205.4 1328.8 214.5 1329.0 205.4 1329.1 205.4 1329.3 194.0 1329.5 230.0 1329.7 230.0 1329.9 199.0 1330.1 199.0 1330.3 230.0 1330.5 205.4 1330.7 214.5 1330.8 230.0 1331.0 239.0 1331.2 230.0 1331.4 199.0 1331.6 205.4 1331.8 199.0 1332.0 239.0 1332.2 230.0 1332.4 230.0 1332.5 230.0 1332.7 239.0 1332.9 199.0 1333.1 239.0 1333.3 230.0 1333.5 205.4 1333.7 214.5 1333.9 230.0 1334.1 230.0 1334.2 230.0 1334.4 239.0 1334.6 205.4 1334.8 239.0 1335.0 214.5 1335.2 205.4 1335.4 230.0 1335.6 230.0 1335.8 205.4 1336.0 239.0 1336.1 230.0 1336.3 230.0 1336.5 205.4 1336.7 230.0 1336.9 230.0 1337.1 194.0 1337.3 239.0 1337.5 230.0 1337.7 230.0 1337.8 199.0 1338.0 205.4 1338.2 214.5 1338.4 230.0 1338.6 230.0 1338.8 230.0 1339.0 214.5 1339.2 230.0 1339.4 214.5 1339.5 230.0 1339.7 239.0 1339.9 205.4 1340.1 214.5 1340.3 214.5 1340.5 230.0 1340.7 230.0 1340.9 239.0 1341.1 230.0 1341.2 230.0 1341.4 205.4 1341.6 230.0 1341.8 214.5 1342.0 239.0 1342.2 214.5 1342.4 230.0 1342.6 199.0 1342.8 230.0 1342.9 239.0 1343.1 205.4 1343.3 199.0 1343.5 230.0 1343.7 214.5 1343.9 214.5 1344.1 214.5 1344.3 230.0 1344.5 214.5 1344.6 205.4 1344.8 230.0 1345.0 239.0 1345.2 230.0 1345.4 230.0 1345.6 214.5 1345.8 199.0 1346.0 230.0 1346.2 230.0 1346.3 214.5 1346.5 230.0 1346.7 214.5 1346.9 230.0 1347.1 205.4 1347.3 199.0 1347.5 205.4 1347.7 214.5 1347.9 214.5 1348.1 205.4 1348.2 205.4 1348.4 230.0 1348.6 230.0 1348.8 230.0 1349.0 230.0 1349.2 205.4 1349.4 230.0 1349.6 230.0 1349.8 199.0 1349.9 239.0 1350.1 239.0 1350.3 230.0 1350.5 230.0 1350.7 205.4 1350.9 239.0 1351.1 230.0 1351.3 214.5 1351.5 230.0 1351.6 214.5 1351.8 205.4 1352.0 214.5 1352.2 239.0 1352.4 239.0 1352.6 239.0 1352.8 230.0 1353.0 205.4 1353.2 205.4 1353.3 199.0 1353.5 239.0 1353.7 205.4 1353.9 214.5 1354.1 205.4 1354.3 230.0 1354.5 214.5 1354.7 239.0 1354.9 214.5 1355.0 214.5 1355.2 230.0 1355.4 239.0 1355.6 239.0 1355.8 199.0 1356.0 214.5 1356.2 199.0 1356.4 214.5 1356.6 214.5 1356.7 239.0 1356.9 205.4 1357.1 205.4 1357.3 239.0 1357.5 239.0 1357.7 205.4 1357.9 214.5 1358.1 199.0 1358.3 214.5 1358.4 199.0 1358.6 239.0 1358.8 230.0 1359.0 205.4 1359.2 214.5 1359.4 239.0 1359.6 230.0 1359.8 239.0 1360.0 214.5 1360.1 239.0 1360.3 194.0 1360.5 239.0 1360.7 239.0 1360.9 230.0 1361.1 194.0 1361.3 230.0 1361.5 205.4 1361.7 214.5 1361.9 199.0 1362.0 230.0 1362.2 230.0 1362.4 214.5 1362.6 239.0 1362.8 239.0 1363.0 230.0 1363.2 214.5 1363.4 205.4 1363.6 230.0 1363.7 205.4 1363.9 230.0 1364.1 199.0 1364.3 239.0 1364.5 205.4 1364.7 214.5 1364.9 194.0 1365.1 214.5 1365.3 214.5 1365.4 230.0 1365.6 230.0 1365.8 230.0 1366.0 230.0 1366.2 230.0 1366.4 214.5 1366.6 230.0 1366.8 230.0 1367.0 239.0 1367.1 205.4 1367.3 239.0 1367.5 239.0 1367.7 239.0 1367.9 230.0 1368.1 230.0 1368.3 239.0 1368.5 239.0 1368.7 239.0 1368.8 214.5 1369.0 214.5 1369.2 239.0 1369.4 214.5 1369.6 199.0 1369.8 230.0 1370.0 230.0 1370.2 205.4 1370.4 205.4 1370.5 239.0 1370.7 239.0 1370.9 214.5 1371.1 205.4 1371.3 230.0 1371.5 230.0 1371.7 230.0 1371.9 214.5 1372.1 214.5 1372.2 230.0 1372.4 239.0 1372.6 214.5 1372.8 239.0 1373.0 214.5 1373.2 239.0 1373.4 205.4 1373.6 214.5 1373.8 214.5 1374.0 239.0 1374.1 214.5 1374.3 205.4 1374.5 214.5 1374.7 239.0 1374.9 230.0 1375.1 214.5 1375.3 205.4 1375.5 205.4 1375.7 205.4 1375.8 230.0 1376.0 230.0 1376.2 205.4 1376.4 230.0 1376.6 230.0 1376.8 214.5 1377.0 205.4 1377.2 230.0 1377.4 214.5 1377.5 230.0 1377.7 239.0 1377.9 239.0 1378.1 239.0 1378.3 214.5 1378.5 239.0 1378.7 239.0 1378.9 214.5 1379.1 199.0 1379.2 214.5 1379.4 239.0 1379.6 239.0 1379.8 214.5 1380.0 205.4 1380.2 239.0 1380.4 230.0 1380.6 205.4 1380.8 199.0 1380.9 239.0 1381.1 205.4 1381.3 214.5 1381.5 230.0 1381.7 214.5 1381.9 214.5 1382.1 205.4 1382.3 230.0 1382.5 239.0 1382.6 205.4 1382.8 230.0 1383.0 205.4 1383.2 230.0 1383.4 214.5 1383.6 214.5 1383.8 230.0 1384.0 230.0 1384.2 230.0 1384.3 230.0 1384.5 214.5 1384.7 230.0 1384.9 194.0 1385.1 205.4 1385.3 214.5 1385.5 239.0 1385.7 214.5 1385.9 239.0 1386.0 214.5 1386.2 239.0 1386.4 230.0 1386.6 239.0 1386.8 214.5 1387.0 230.0 1387.2 205.4 1387.4 214.5 1387.6 239.0 1387.8 214.5 1387.9 205.4 1388.1 199.0 1388.3 230.0 1388.5 230.0 1388.7 205.4 1388.9 230.0 1389.1 239.0 1389.3 239.0 1389.5 199.0 1389.6 239.0 1389.8 239.0 1390.0 214.5 1390.2 214.5 1390.4 239.0 1390.6 239.0 1390.8 239.0 1391.0 239.0 1391.2 239.0 1391.3 239.0 1391.5 239.0 1391.7 239.0 1391.9 239.0 1392.1 239.0 1392.3 230.0 1392.5 239.0 1392.7 239.0 1392.9 239.0 1393.0 239.0 1393.2 239.0 1393.4 230.0 1393.6 239.0 1393.8 239.0 1394.0 239.0 1394.2 239.0 1394.4 239.0 1394.6 239.0 1394.7 230.0 1394.9 230.0 1395.1 239.0 1395.3 239.0 1395.5 230.0 1395.7 239.0 1395.9 239.0 1396.1 239.0 1396.3 239.0 1396.4 239.0 1396.6 239.0 1396.8 239.0 1397.0 239.0 1397.2 230.0 1397.4 239.0 1397.6 230.0 1397.8 239.0 1398.0 214.5 1398.1 239.0 1398.3 239.0 1398.5 230.0 1398.7 239.0 1398.9 239.0 1399.1 239.0 1399.3 230.0 1399.5 239.0 1399.7 239.0 1399.9 239.0 1400.0 239.0 1400.2 239.0 1400.4 239.0 1400.6 230.0 1400.8 230.0 1401.0 239.0 1401.2 214.5 1401.4 239.0 1401.6 239.0 1401.7 230.0 1401.9 230.0 1402.1 239.0 1402.3 239.0 1402.5 239.0 1402.7 214.5 1402.9 239.0 1403.1 239.0 1403.3 239.0 1403.4 239.0 1403.6 239.0 1403.8 239.0 1404.0 239.0 1404.2 239.0 1404.4 239.0 1404.6 230.0 1404.8 239.0 1405.0 239.0 1405.1 239.0 1405.3 230.0 1405.5 239.0 1405.7 239.0 1405.9 230.0 1406.1 239.0 1406.3 239.0 1406.5 239.0 1406.7 239.0 1406.8 230.0 1407.0 239.0 1407.2 239.0 1407.4 230.0 1407.6 239.0 1407.8 239.0 1408.0 239.0 1408.2 239.0 1408.4 239.0 1408.5 239.0 1408.7 239.0 1408.9 239.0 1409.1 239.0 1409.3 239.0 1409.5 239.0 1409.7 214.5 1409.9 239.0 1410.1 230.0 1410.2 239.0 1410.4 239.0 1410.6 230.0 1410.8 239.0 1411.0 239.0 1411.2 239.0 1411.4 239.0 1411.6 239.0 1411.8 239.0 1411.9 239.0 1412.1 239.0 1412.3 230.0 1412.5 239.0 1412.7 239.0 1412.9 239.0 1413.1 239.0 1413.3 239.0 1413.5 239.0 1413.7 239.0 1413.8 239.0 1414.0 230.0 1414.2 230.0 1414.4 239.0 1414.6 239.0 1414.8 239.0 1415.0 230.0 1415.2 230.0 1415.4 239.0 1415.5 239.0 1415.7 239.0 1415.9 239.0 1416.1 239.0 1416.3 239.0 1416.5 230.0 1416.7 230.0 1416.9 239.0 1417.1 230.0 1417.2 230.0 1417.4 239.0 1417.6 230.0 1417.8 239.0 1418.0 239.0 1418.2 230.0 1418.4 239.0 1418.6 230.0 1418.8 230.0 1418.9 239.0 1419.1 230.0 1419.3 230.0 1419.5 239.0 1419.7 239.0 1419.9 230.0 1420.1 239.0 1420.3 230.0 1420.5 230.0 1420.6 239.0 1420.8 239.0 1421.0 230.0 1421.2 230.0 1421.4 239.0 1421.6 239.0 1421.8 239.0 1422.0 239.0 1422.2 239.0 1422.3 239.0 1422.5 230.0 1422.7 239.0 1422.9 239.0 1423.1 239.0 1423.3 239.0 1423.5 239.0 1423.7 239.0 1423.9 239.0 1424.0 239.0 1424.2 239.0 1424.4 239.0 1424.6 230.0 1424.8 239.0 1425.0 239.0 1425.2 239.0 1425.4 230.0 1425.6 239.0 1425.8 239.0 1425.9 230.0 1426.1 239.0 1426.3 239.0 1426.5 239.0 1426.7 239.0 1426.9 239.0 1427.1 239.0 1427.3 239.0 1427.5 239.0 1427.6 239.0 1427.8 239.0 1428.0 239.0 1428.2 239.0 1428.4 239.0 1428.6 239.0 1428.8 239.0 1429.0 239.0 1429.2 239.0 1429.3 230.0 1429.5 239.0 1429.7 239.0 1429.9 230.0 1430.1 239.0 1430.3 230.0 1430.5 239.0 1430.7 239.0 1430.9 230.0 1431.0 239.0 1431.2 239.0 1431.4 239.0 1431.6 230.0 1431.8 230.0 1432.0 230.0 1432.2 239.0 1432.4 230.0 1432.6 239.0 1432.7 230.0 1432.9 239.0 1433.1 230.0 1433.3 239.0 1433.5 230.0 1433.7 239.0 1433.9 239.0 1434.1 205.4 1434.3 239.0 1434.4 230.0 1434.6 239.0 1434.8 239.0 1435.0 239.0 1435.2 239.0 1435.4 230.0 1435.6 230.0 1435.8 239.0 1436.0 239.0 1436.1 230.0 1436.3 239.0 1436.5 239.0 1436.7 239.0 1436.9 239.0 1437.1 230.0 1437.3 230.0 1437.5 239.0 1437.7 239.0 1437.8 239.0 1438.0 230.0 1438.2 239.0 1438.4 239.0 1438.6 239.0 1438.8 239.0 1439.0 239.0 1439.2 239.0 1439.4 239.0 1439.6 239.0 1439.7 239.0 1439.9 239.0 1440.1 239.0 1440.3 239.0 1440.5 230.0 1440.7 230.0 1440.9 239.0 1441.1 239.0 1441.3 239.0 1441.4 239.0 1441.6 239.0 1441.8 230.0 1442.0 230.0 1442.2 239.0 1442.4 239.0 1442.6 239.0 1442.8 230.0 1443.0 239.0 1443.1 239.0 1443.3 239.0 1443.5 239.0 1443.7 239.0 1443.9 239.0 1444.1 230.0 1444.3 239.0 1444.5 239.0 1444.7 239.0 1444.8 239.0 1445.0 214.5 1445.2 239.0 1445.4 239.0 1445.6 230.0 1445.8 239.0 1446.0 230.0 1446.2 239.0 1446.4 230.0 1446.5 239.0 1446.7 239.0 1446.9 239.0 1447.1 239.0 1447.3 230.0 1447.5 239.0 1447.7 239.0 1447.9 230.0 1448.1 239.0 1448.2 230.0 1448.4 239.0 1448.6 230.0 1448.8 214.5 1449.0 239.0 1449.2 239.0 1449.4 230.0 1449.6 230.0 1449.8 239.0 1449.9 239.0 1450.1 239.0 1450.3 239.0 1450.5 239.0 1450.7 239.0 1450.9 239.0 1451.1 239.0 1451.3 239.0 1451.5 239.0 1451.7 239.0 1451.8 239.0 1452.0 214.5 1452.2 239.0 1452.4 239.0 1452.6 239.0 1452.8 239.0 1453.0 239.0 1453.2 230.0 1453.4 239.0 1453.5 239.0 1453.7 239.0 1453.9 239.0 1454.1 230.0 1454.3 239.0 1454.5 239.0 1454.7 230.0 1454.9 239.0 1455.1 230.0 1455.2 239.0 1455.4 239.0 1455.6 230.0 1455.8 239.0 1456.0 239.0 1456.2 214.5 1456.4 239.0 1456.6 239.0 1456.8 230.0 1456.9 239.0 1457.1 239.0 1457.3 239.0 1457.5 239.0 1457.7 239.0 1457.9 230.0 1458.1 239.0 1458.3 230.0 1458.5 239.0 1458.6 239.0 1458.8 239.0 1459.0 239.0 1459.2 239.0 1459.4 239.0 1459.6 239.0 1459.8 230.0 1460.0 239.0 1460.2 239.0 1460.3 239.0 1460.5 239.0 1460.7 239.0 1460.9 239.0 1461.1 230.0 1461.3 239.0 1461.5 239.0 1461.7 230.0 1461.9 239.0 1462.0 239.0 1462.2 239.0 1462.4 239.0 1462.6 239.0 1462.8 214.5 1463.0 230.0 1463.2 239.0 1463.4 230.0 1463.6 239.0 1463.7 239.0 1463.9 239.0 1464.1 239.0 1464.3 239.0 1464.5 239.0 1464.7 239.0 1464.9 239.0 1465.1 239.0 1465.3 239.0 1465.5 239.0 1465.6 239.0 1465.8 214.5 1466.0 239.0 1466.2 230.0 1466.4 230.0 1466.6 239.0 1466.8 239.0 1467.0 239.0 1467.2 230.0 1467.3 214.5 1467.5 239.0 1467.7 239.0 1467.9 239.0 1468.1 239.0 1468.3 239.0 1468.5 239.0 1468.7 239.0 1468.9 239.0 1469.0 230.0 1469.2 230.0 1469.4 239.0 1469.6 239.0 1469.8 239.0 1470.0 239.0 1470.2 214.5 1470.4 239.0 1470.6 239.0 1470.7 239.0 1470.9 230.0 1471.1 230.0 1471.3 239.0 1471.5 239.0 1471.7 239.0 1471.9 239.0 1472.1 239.0 1472.3 230.0 1472.4 239.0 1472.6 239.0 1472.8 239.0 1473.0 239.0 1473.2 239.0 1473.4 239.0 1473.6 239.0 1473.8 239.0 1474.0 239.0 1474.1 239.0 1474.3 239.0 1474.5 239.0 1474.7 239.0 1474.9 239.0 1475.1 239.0 1475.3 239.0 1475.5 230.0 1475.7 214.5 1475.8 239.0 1476.0 230.0 1476.2 239.0 1476.4 239.0 1476.6 239.0 1476.8 239.0 1477.0 239.0 1477.2 239.0 1477.4 239.0 1477.5 239.0 1477.7 239.0 1477.9 239.0 1478.1 230.0 1478.3 239.0 1478.5 239.0 1478.7 239.0 1478.9 214.5 1479.1 239.0 1479.3 239.0 1479.4 239.0 1479.6 239.0 1479.8 239.0 1480.0 239.0 1480.2 239.0 1480.4 230.0 1480.6 239.0 1480.8 239.0 1481.0 239.0 1481.1 239.0 1481.3 239.0 1481.5 239.0 1481.7 239.0 1481.9 239.0 1482.1 230.0 1482.3 239.0 1482.5 239.0 1482.7 239.0 1482.8 239.0 1483.0 214.5 1483.2 214.5 1483.4 239.0 1483.6 230.0 1483.8 239.0 1484.0 239.0 1484.2 239.0 1484.4 239.0 1484.5 239.0 1484.7 239.0 1484.9 239.0 1485.1 239.0 1485.3 239.0 1485.5 239.0 1485.7 230.0 1485.9 239.0 1486.1 230.0 1486.2 239.0 1486.4 239.0 1486.6 239.0 1486.8 239.0 1487.0 230.0 1487.2 230.0 1487.4 230.0 1487.6 230.0 1487.8 239.0 1487.9 239.0 1488.1 239.0 1488.3 239.0 1488.5 239.0 1488.7 230.0 1488.9 239.0 1489.1 239.0 1489.3 230.0 1489.5 230.0 1489.6 239.0 1489.8 239.0 1490.0 239.0 1490.2 239.0 1490.4 230.0 1490.6 239.0 1490.8 230.0 1491.0 239.0 1491.2 230.0 1491.4 239.0 1491.5 230.0 1491.7 230.0 1491.9 239.0 1492.1 239.0 1492.3 239.0 1492.5 239.0 1492.7 239.0 1492.9 239.0 1493.1 239.0 1493.2 230.0 1493.4 239.0 1493.6 230.0 1493.8 239.0 1494.0 239.0 1494.2 230.0 1494.4 239.0 1494.6 239.0 1494.8 239.0 1494.9 239.0 1495.1 239.0 1495.3 239.0 1495.5 239.0 1495.7 239.0 1495.9 239.0 1496.1 239.0 1496.3 239.0 1496.5 239.0 1496.6 239.0 1496.8 239.0 1497.0 239.0 1497.2 239.0 1497.4 239.0 1497.6 239.0 1497.8 214.5 1498.0 239.0 1498.2 239.0 1498.3 239.0 1498.5 230.0 1498.7 239.0 1498.9 239.0 1499.1 239.0 1499.3 239.0 1499.5 239.0 1499.7 239.0 1499.9 239.0 1500.0 239.0 1500.2 239.0 1500.4 239.0 1500.6 239.0 1500.8 239.0 1501.0 239.0 1501.2 239.0 1501.4 239.0 1501.6 239.0 1501.7 239.0 1501.9 230.0 1502.1 239.0 1502.3 239.0 1502.5 239.0 1502.7 239.0 1502.9 239.0 1503.1 239.0 1503.3 239.0 1503.4 239.0 1503.6 239.0 1503.8 239.0 1504.0 239.0 1504.2 239.0 1504.4 239.0 1504.6 239.0 1504.8 230.0 1505.0 239.0 1505.2 239.0 1505.3 239.0 1505.5 239.0 1505.7 239.0 1505.9 239.0 1506.1 239.0 1506.3 230.0 1506.5 230.0 1506.7 239.0 1506.9 239.0 1507.0 230.0 1507.2 239.0 1507.4 230.0 1507.6 239.0 1507.8 230.0 1508.0 239.0 1508.2 214.5 1508.4 239.0 1508.6 239.0 1508.7 239.0 1508.9 239.0 1509.1 239.0 1509.3 239.0 1509.5 239.0 1509.7 239.0 1509.9 230.0 1510.1 239.0 1510.3 230.0 1510.4 239.0 1510.6 239.0 1510.8 239.0 1511.0 239.0 1511.2 230.0 1511.4 214.5 1511.6 239.0 1511.8 230.0 1512.0 239.0 1512.1 239.0 1512.3 239.0 1512.5 239.0 1512.7 230.0 1512.9 239.0 1513.1 239.0 1513.3 239.0 1513.5 239.0 1513.7 239.0 1513.8 239.0 1514.0 239.0 1514.2 239.0 1514.4 239.0 1514.6 239.0 1514.8 239.0 1515.0 239.0 1515.2 214.5 1515.4 230.0 1515.5 239.0 1515.7 230.0 1515.9 239.0 1516.1 239.0 1516.3 239.0 1516.5 239.0 1516.7 239.0 1516.9 239.0 1517.1 239.0 1517.3 239.0 1517.4 239.0 1517.6 239.0 1517.8 239.0 1518.0 239.0 1518.2 239.0 1518.4 239.0 1518.6 230.0 1518.8 239.0 1519.0 239.0 1519.1 239.0 1519.3 239.0 1519.5 239.0 1519.7 239.0 1519.9 239.0 1520.1 239.0 1520.3 239.0 1520.5 239.0 1520.7 239.0 1520.8 239.0 1521.0 230.0 1521.2 239.0 1521.4 230.0 1521.6 239.0 1521.8 239.0 1522.0 230.0 1522.2 239.0 1522.4 239.0 1522.5 239.0 1522.7 239.0 1522.9 230.0 1523.1 239.0 1523.3 239.0 1523.5 239.0 1523.7 230.0 1523.9 230.0 1524.1 239.0 1524.2 239.0 1524.4 239.0 1524.6 239.0 1524.8 239.0 1525.0 239.0 1525.2 239.0 1525.4 239.0 1525.6 239.0 1525.8 230.0 1525.9 239.0 1526.1 239.0 1526.3 239.0 1526.5 239.0 1526.7 239.0 1526.9 239.0 1527.1 239.0 1527.3 239.0 1527.5 239.0 1527.6 239.0 1527.8 239.0 1528.0 239.0 1528.2 230.0 1528.4 239.0 1528.6 239.0 1528.8 239.0 1529.0 239.0 1529.2 230.0 1529.3 239.0 1529.5 239.0 1529.7 239.0 1529.9 239.0 1530.1 239.0 1530.3 230.0 1530.5 239.0 1530.7 230.0 1530.9 230.0 1531.1 239.0 1531.2 239.0 1531.4 239.0 1531.6 239.0 1531.8 239.0 1532.0 239.0 1532.2 239.0 1532.4 239.0 1532.6 230.0 1532.8 239.0 1532.9 239.0 1533.1 230.0 1533.3 230.0 1533.5 230.0 1533.7 230.0 1533.9 239.0 1534.1 239.0 1534.3 239.0 1534.5 239.0 1534.6 239.0 1534.8 239.0 1535.0 239.0 1535.2 239.0 1535.4 230.0 1535.6 239.0 1535.8 239.0 1536.0 239.0 1536.2 239.0 1536.3 230.0 1536.5 239.0 1536.7 239.0 1536.9 239.0 1537.1 239.0 1537.3 230.0 1537.5 239.0 1537.7 239.0 1537.9 230.0 1538.0 239.0 1538.2 239.0 1538.4 239.0 1538.6 239.0 1538.8 230.0 1539.0 239.0 1539.2 239.0 1539.4 239.0 1539.6 239.0 1539.7 239.0 1539.9 239.0 1540.1 239.0 1540.3 239.0 1540.5 239.0 1540.7 230.0 1540.9 239.0 1541.1 239.0 1541.3 239.0 1541.4 239.0 1541.6 239.0 1541.8 239.0 1542.0 239.0 1542.2 239.0 1542.4 230.0 1542.6 239.0 1542.8 239.0 1543.0 239.0 1543.2 239.0 1543.3 239.0 1543.5 239.0 1543.7 239.0 1543.9 239.0 1544.1 230.0 1544.3 239.0 1544.5 239.0 1544.7 239.0 1544.9 230.0 1545.0 239.0 1545.2 239.0 1545.4 230.0 1545.6 239.0 1545.8 239.0 1546.0 230.0 1546.2 230.0 1546.4 239.0 1546.6 239.0 1546.7 239.0 1546.9 239.0 1547.1 239.0 1547.3 230.0 1547.5 239.0 1547.7 230.0 1547.9 239.0 1548.1 230.0 1548.3 239.0 1548.4 214.5 1548.6 239.0 1548.8 239.0 1549.0 239.0 1549.2 239.0 1549.4 239.0 1549.6 230.0 1549.8 230.0 1550.0 239.0 1550.1 239.0 1550.3 239.0 1550.5 239.0 1550.7 239.0 1550.9 239.0 1551.1 230.0 1551.3 239.0 1551.5 239.0 1551.7 230.0 1551.8 239.0 1552.0 239.0 1552.2 239.0 1552.4 239.0 1552.6 230.0 1552.8 239.0 1553.0 239.0 1553.2 239.0 1553.4 239.0 1553.5 239.0 1553.7 230.0 1553.9 239.0 1554.1 230.0 1554.3 239.0 1554.5 239.0 1554.7 239.0 1554.9 239.0 1555.1 239.0 1555.2 239.0 1555.4 230.0 1555.6 239.0 1555.8 239.0 1556.0 239.0 1556.2 239.0 1556.4 239.0 1556.6 239.0 1556.8 239.0 1557.0 230.0 1557.1 239.0 1557.3 239.0 1557.5 239.0 1557.7 239.0 1557.9 239.0 1558.1 239.0 1558.3 239.0 1558.5 239.0 1558.7 239.0 1558.8 239.0 1559.0 239.0 1559.2 239.0 1559.4 230.0 1559.6 230.0 1559.8 239.0 1560.0 239.0 1560.2 239.0 1560.4 239.0 1560.5 239.0 1560.7 239.0 1560.9 239.0 1561.1 239.0 1561.3 239.0 1561.5 239.0 1561.7 239.0 1561.9 239.0 1562.1 239.0 1562.2 239.0 1562.4 239.0 1562.6 239.0 1562.8 239.0 1563.0 230.0 1563.2 239.0 1563.4 230.0 1563.6 239.0 1563.8 239.0 1563.9 214.5 1564.1 239.0 1564.3 239.0 1564.5 239.0 1564.7 239.0 1564.9 239.0 1565.1 239.0 1565.3 239.0 1565.5 239.0 1565.6 230.0 1565.8 239.0 1566.0 239.0 1566.2 239.0 1566.4 239.0 1566.6 239.0 1566.8 239.0 1567.0 230.0 1567.2 239.0 1567.3 239.0 1567.5 230.0 1567.7 239.0 1567.9 239.0 1568.1 230.0 1568.3 230.0 1568.5 239.0 1568.7 230.0 1568.9 239.0 1569.1 239.0 1569.2 230.0 1569.4 239.0 1569.6 230.0 1569.8 239.0 1570.0 239.0 1570.2 239.0 1570.4 239.0 1570.6 239.0 1570.8 230.0 1570.9 214.5 1571.1 230.0 1571.3 239.0 1571.5 239.0 1571.7 230.0 1571.9 239.0 1572.1 239.0 1572.3 239.0 1572.5 230.0 1572.6 239.0 1572.8 239.0 1573.0 239.0 1573.2 239.0 1573.4 239.0 1573.6 239.0 1573.8 230.0 1574.0 239.0 1574.2 230.0 1574.3 239.0 1574.5 239.0 1574.7 239.0 1574.9 239.0 1575.1 239.0 1575.3 239.0 1575.5 239.0 1575.7 239.0 1575.9 239.0 1576.0 239.0 1576.2 230.0 1576.4 230.0 1576.6 239.0 1576.8 239.0 1577.0 239.0 1577.2 239.0 1577.4 230.0 1577.6 239.0 1577.7 239.0 1577.9 239.0 1578.1 239.0 1578.3 239.0 1578.5 239.0 1578.7 239.0 1578.9 239.0 1579.1 239.0 1579.3 239.0 1579.4 239.0 1579.6 239.0 1579.8 214.5 1580.0 239.0 1580.2 230.0 1580.4 239.0 1580.6 239.0 1580.8 239.0 1581.0 230.0 1581.1 230.0 1581.3 239.0 1581.5 239.0 1581.7 230.0 1581.9 239.0 1582.1 239.0 1582.3 230.0 1582.5 239.0 1582.7 239.0 1582.9 239.0 1583.0 239.0 1583.2 239.0 1583.4 239.0 1583.6 239.0 1583.8 230.0 1584.0 239.0 1584.2 239.0 1584.4 239.0 1584.6 239.0 1584.7 230.0 1584.9 239.0 1585.1 239.0 1585.3 239.0 1585.5 239.0 1585.7 239.0 1585.9 239.0 1586.1 239.0 1586.3 239.0 1586.4 239.0 1586.6 239.0 1586.8 239.0 1587.0 239.0 1587.2 239.0 1587.4 239.0 1587.6 239.0 1587.8 239.0 1588.0 239.0 1588.1 239.0 1588.3 230.0 1588.5 239.0 1588.7 230.0 1588.9 230.0 1589.1 239.0 1589.3 239.0 1589.5 239.0 1589.7 239.0 1589.8 230.0 1590.0 239.0 1590.2 239.0 1590.4 239.0 1590.6 239.0 1590.8 239.0 1591.0 230.0 1591.2 239.0 1591.4 239.0 1591.5 239.0 1591.7 230.0 1591.9 239.0 1592.1 239.0 1592.3 239.0 1592.5 239.0 1592.7 230.0 1592.9 230.0 1593.1 239.0 1593.2 239.0 1593.4 239.0 1593.6 239.0 1593.8 239.0 1594.0 239.0 1594.2 239.0 1594.4 239.0 1594.6 239.0 1594.8 239.0 1594.9 230.0 1595.1 239.0 1595.3 239.0 1595.5 239.0 1595.7 239.0 1595.9 239.0 1596.1 230.0 1596.3 239.0 1596.5 239.0 1596.7 239.0 1596.8 239.0 1597.0 239.0 1597.2 239.0 1597.4 214.5 1597.6 230.0 1597.8 239.0 1598.0 239.0 1598.2 239.0 1598.4 230.0 1598.5 239.0 1598.7 239.0 1598.9 239.0 1599.1 239.0 1599.3 239.0 1599.5 239.0 1599.7 230.0 1599.9 239.0 1600.1 239.0 1600.2 239.0 1600.4 230.0 1600.6 239.0 1600.8 239.0 1601.0 230.0 1601.2 230.0 1601.4 230.0 1601.6 239.0 1601.8 239.0 1601.9 239.0 1602.1 239.0 1602.3 239.0 1602.5 230.0 1602.7 239.0 1602.9 239.0 1603.1 230.0 1603.3 239.0 1603.5 239.0 1603.6 230.0 1603.8 239.0 1604.0 239.0 1604.2 239.0 1604.4 230.0 1604.6 239.0 1604.8 239.0 1605.0 239.0 1605.2 239.0 1605.3 239.0 1605.5 214.5 1605.7 230.0 1605.9 230.0 1606.1 239.0 1606.3 239.0 1606.5 239.0 1606.7 230.0 1606.9 239.0 1607.0 230.0 1607.2 230.0 1607.4 239.0 1607.6 239.0 1607.8 230.0 1608.0 230.0 1608.2 239.0 1608.4 230.0 1608.6 239.0 1608.8 239.0 1608.9 239.0 1609.1 239.0 1609.3 239.0 1609.5 230.0 1609.7 239.0 1609.9 239.0 1610.1 230.0 1610.3 239.0 1610.5 239.0 1610.6 239.0 1610.8 239.0 1611.0 239.0 1611.2 230.0 1611.4 239.0 1611.6 239.0 1611.8 239.0 1612.0 239.0 1612.2 239.0 1612.3 230.0 1612.5 239.0 1612.7 239.0 1612.9 239.0 1613.1 239.0 1613.3 239.0 1613.5 239.0 1613.7 239.0 1613.9 239.0 1614.0 239.0 1614.2 239.0 1614.4 230.0 1614.6 239.0 1614.8 230.0 1615.0 239.0 1615.2 239.0 1615.4 230.0 1615.6 239.0 1615.7 239.0 1615.9 239.0 1616.1 230.0 1616.3 230.0 1616.5 239.0 1616.7 239.0 1616.9 239.0 1617.1 239.0 1617.3 239.0 1617.4 239.0 1617.6 214.5 1617.8 239.0 1618.0 239.0 1618.2 239.0 1618.4 230.0 1618.6 239.0 1618.8 239.0 1619.0 230.0 1619.1 239.0 1619.3 239.0 1619.5 239.0 1619.7 239.0 1619.9 239.0 1620.1 239.0 1620.3 239.0 1620.5 230.0 1620.7 239.0 1620.8 239.0 1621.0 239.0 1621.2 239.0 1621.4 239.0 1621.6 239.0 1621.8 239.0 1622.0 239.0 1622.2 239.0 1622.4 239.0 1622.6 239.0 1622.7 239.0 1622.9 239.0 1623.1 239.0 1623.3 239.0 1623.5 239.0 1623.7 239.0 1623.9 239.0 1624.1 239.0 1624.3 239.0 1624.4 239.0 1624.6 239.0 1624.8 239.0 1625.0 239.0 1625.2 239.0 1625.4 230.0 1625.6 239.0 1625.8 230.0 1626.0 239.0 1626.1 239.0 1626.3 239.0 1626.5 239.0 1626.7 239.0 1626.9 239.0 1627.1 239.0 1627.3 239.0 1627.5 239.0 1627.7 239.0 1627.8 239.0 1628.0 239.0 1628.2 239.0 1628.4 239.0 1628.6 230.0 1628.8 239.0 1629.0 239.0 1629.2 239.0 1629.4 239.0 1629.5 239.0 1629.7 239.0 1629.9 239.0 1630.1 230.0 1630.3 239.0 1630.5 239.0 1630.7 214.5 1630.9 239.0 1631.1 239.0 1631.2 239.0 1631.4 239.0 1631.6 239.0 1631.8 239.0 1632.0 239.0 1632.2 239.0 1632.4 239.0 1632.6 230.0 1632.8 230.0 1632.9 230.0 1633.1 239.0 1633.3 230.0 1633.5 214.5 1633.7 239.0 1633.9 239.0 1634.1 239.0 1634.3 239.0 1634.5 239.0 1634.7 214.5 1634.8 230.0 1635.0 239.0 1635.2 214.5 1635.4 239.0 1635.6 239.0 1635.8 230.0 1636.0 239.0 1636.2 230.0 1636.4 239.0 1636.5 230.0 1636.7 239.0 1636.9 239.0 1637.1 239.0 1637.3 239.0 1637.5 239.0 1637.7 214.5 1637.9 230.0 1638.1 239.0 1638.2 239.0 1638.4 239.0 1638.6 239.0 1638.8 239.0 1639.0 239.0 1639.2 214.5 1639.4 239.0 1639.6 239.0 1639.8 239.0 1639.9 239.0 1640.1 239.0 1640.3 239.0 1640.5 239.0 1640.7 239.0 1640.9 239.0 1641.1 230.0 1641.3 239.0 1641.5 230.0 1641.6 230.0 1641.8 230.0 1642.0 239.0 1642.2 239.0 1642.4 239.0 1642.6 239.0 1642.8 239.0 1643.0 239.0 1643.2 239.0 1643.3 239.0 1643.5 230.0 1643.7 239.0 1643.9 239.0 1644.1 230.0 1644.3 230.0 1644.5 239.0 1644.7 239.0 1644.9 239.0 1645.0 239.0 1645.2 239.0 1645.4 239.0 1645.6 239.0 1645.8 239.0 1646.0 239.0 1646.2 239.0 1646.4 239.0 1646.6 230.0 1646.7 239.0 1646.9 239.0 1647.1 214.5 1647.3 214.5 1647.5 239.0 1647.7 239.0 1647.9 239.0 1648.1 239.0 1648.3 239.0 1648.5 239.0 1648.6 239.0 1648.8 230.0 1649.0 239.0 1649.2 239.0 1649.4 239.0 1649.6 239.0 1649.8 230.0 1650.0 230.0 1650.2 239.0 1650.3 239.0 1650.5 239.0 1650.7 239.0 1650.9 239.0 1651.1 239.0 1651.3 239.0 1651.5 239.0 1651.7 230.0 1651.9 239.0 1652.0 214.5 1652.2 239.0 1652.4 239.0 1652.6 239.0 1652.8 239.0 1653.0 239.0 1653.2 239.0 1653.4 239.0 1653.6 239.0 1653.7 214.5 1653.9 239.0 1654.1 230.0 1654.3 239.0 1654.5 239.0 1654.7 239.0 1654.9 239.0 1655.1 239.0 1655.3 239.0 1655.4 239.0 1655.6 239.0 1655.8 230.0 1656.0 230.0 1656.2 239.0 1656.4 239.0 1656.6 230.0 1656.8 239.0 1657.0 239.0 1657.1 239.0 1657.3 239.0 1657.5 239.0 1657.7 230.0 1657.9 230.0 1658.1 239.0 1658.3 230.0 1658.5 239.0 1658.7 239.0 1658.8 239.0 1659.0 239.0 1659.2 239.0 1659.4 239.0 1659.6 214.5 1659.8 239.0 1660.0 214.5 1660.2 239.0 1660.4 239.0 1660.6 239.0 1660.7 230.0 1660.9 230.0 1661.1 230.0 1661.3 239.0 1661.5 239.0 1661.7 239.0 1661.9 239.0 1662.1 239.0 1662.3 239.0 1662.4 239.0 1662.6 230.0 1662.8 230.0 1663.0 239.0 1663.2 239.0 1663.4 239.0 1663.6 239.0 1663.8 239.0 1664.0 239.0 1664.1 239.0 1664.3 239.0 1664.5 239.0 1664.7 230.0 1664.9 239.0 1665.1 239.0 1665.3 239.0 1665.5 239.0 1665.7 230.0 1665.8 230.0 1666.0 239.0 1666.2 239.0 1666.4 230.0 1666.6 239.0 1666.8 239.0 1667.0 239.0 1667.2 230.0 1667.4 239.0 1667.5 230.0 1667.7 239.0 1667.9 239.0 1668.1 230.0 1668.3 239.0 1668.5 239.0 1668.7 239.0 1668.9 239.0 1669.1 239.0 1669.2 239.0 1669.4 230.0 1669.6 239.0 1669.8 230.0 1670.0 239.0 1670.2 239.0 1670.4 230.0 1670.6 75.4 1670.8 239.0 1670.9 239.0 1671.1 239.0 1671.3 230.0 1671.5 239.0 1671.7 239.0 1671.9 230.0 1672.1 239.0 1672.3 239.0 1672.5 239.0 1672.6 239.0 1672.8 239.0 1673.0 239.0 1673.2 239.0 1673.4 230.0 1673.6 230.0 1673.8 239.0 1674.0 239.0 1674.2 239.0" fill="none" stroke="#1f77b4" stroke-width="1.5" stroke-linejoin="round" filter="url(#bl2)"/><path d="M939.3 71.2 939.7 71.6 940.1 72.0 940.5 72.4 940.8 72.8 941.2 73.2 941.6 73.7 942.0 74.1 942.3 74.5 942.7 74.9 943.1 75.4 943.5 75.8 943.9 76.2 944.2 76.7 944.6 77.2 945.0 77.8 945.4 78.3 945.8 78.7 946.1 79.0 946.5 79.0 946.9 78.9 947.3 78.8 947.6 78.6 948.0 78.4 948.4 78.2 948.8 78.0 949.2 77.8 949.5 77.6 949.9 77.3 950.3 77.1 950.7 77.0 951.0 77.0 951.4 77.1 951.8 77.5 952.2 78.0 952.6 78.7 952.9 79.5 953.3 80.2 953.7 80.9 954.1 81.8 954.4 82.7 954.8 83.8 955.2 85.0 955.6 86.2 956.0 87.4 956.3 88.6 956.7 89.8 957.1 90.9 957.5 91.9 957.9 92.8 958.2 93.6 958.6 94.2 959.0 94.7 959.4 95.0 959.7 95.4 960.1 95.6 960.5 95.9 960.9 96.2 961.3 96.4 961.6 96.7 962.0 96.9 962.4 97.2" fill="none" stroke="#a39179" stroke-width="1.9" stroke-opacity="0.95" stroke-linecap="round"/><path d="M987.9 110.4 988.3 110.4 988.7 110.4 989.0 110.4 989.4 110.3 989.8 110.1 990.2 109.9 990.6 109.7 990.9 109.4 991.3 109.1 991.7 108.8 992.1 108.4 992.4 108.1 992.8 107.7 993.2 107.4 993.6 106.9 994.0 106.4 994.3 105.7 994.7 105.0 995.1 104.2 995.5 103.3 995.9 102.5 996.2 101.7 996.6 100.8 997.0 100.1 997.4 99.4 997.7 98.9 998.1 98.5 998.5 98.2 998.9 98.1 999.3 98.2 999.6 98.6 1000.0 99.2 1000.4 99.9 1000.8 100.7 1001.1 101.6 1001.5 102.6 1001.9 103.6 1002.3 104.5 1002.7 105.3 1003.0 106.1 1003.4 107.0 1003.8 108.0 1004.2 109.0 1004.5 110.0 1004.9 111.1 1005.3 112.1 1005.7 113.2 1006.1 114.2 1006.4 115.2 1006.8 116.2 1007.2 117.1 1007.6 118.0 1007.9 118.8 1008.3 119.4 1008.7 120.0 1009.1 120.4 1009.5 120.8 1009.8 121.0 1010.2 121.2 1010.6 121.4 1011.0 121.6" fill="none" stroke="#a39179" stroke-width="1.9" stroke-opacity="0.95" stroke-linecap="round"/><path d="M1084.5 141.4 1084.9 141.2 1085.3 140.9 1085.6 140.7 1086.0 140.4 1086.4 140.1 1086.8 139.8 1087.2 139.5 1087.5 139.2 1087.9 138.9 1088.3 138.6 1088.7 138.3 1089.1 137.9 1089.4 137.5 1089.8 137.1 1090.2 136.6 1090.6 136.0 1090.9 135.4 1091.3 134.8 1091.7 134.2 1092.1 133.6 1092.5 133.1 1092.8 132.5 1093.2 132.0 1093.6 131.6 1094.0 131.2 1094.3 130.9 1094.7 130.7 1095.1 130.6 1095.5 130.6 1095.9 130.6 1096.2 130.8 1096.6 131.1 1097.0 131.4 1097.4 131.7 1097.7 132.2 1098.1 132.6 1098.5 133.1 1098.9 133.6 1099.3 134.1 1099.6 134.6 1100.0 135.1 1100.4 135.6 1100.8 136.1 1101.2 136.5 1101.5 136.9 1101.9 137.2 1102.3 137.6 1102.7 137.9 1103.0 138.2 1103.4 138.5 1103.8 138.7 1104.2 139.0 1104.6 139.3 1104.9 139.6 1105.3 139.9 1105.7 140.1 1106.1 140.4 1106.4 140.6 1106.8 140.9 1107.2 141.1 1107.6 141.4" fill="none" stroke="#a39179" stroke-width="1.9" stroke-opacity="0.95" stroke-linecap="round"/><path d="M1206.3 162.6 1206.6 162.2 1207.0 161.8 1207.4 161.3 1207.8 160.8 1208.2 160.3 1208.5 159.8 1208.9 159.2 1209.3 158.7 1209.7 158.1 1210.0 157.5 1210.4 157.0 1210.8 156.4 1211.2 155.8 1211.6 155.2 1211.9 154.7 1212.3 154.2 1212.7 153.6 1213.1 153.2 1213.4 152.7 1213.8 152.2 1214.2 151.8 1214.6 151.5 1215.0 151.1 1215.3 150.8 1215.7 150.6 1216.1 150.4 1216.5 150.2 1216.8 150.2 1217.2 150.1 1217.6 150.2 1218.0 150.2 1218.4 150.4 1218.7 150.6 1219.1 150.8 1219.5 151.1 1219.9 151.4 1220.3 151.7 1220.6 152.1 1221.0 152.5 1221.4 152.9 1221.8 153.4 1222.1 153.8 1222.5 154.2 1222.9 154.7 1223.3 155.1 1223.7 155.6 1224.0 156.0 1224.4 156.4 1224.8 156.8 1225.2 157.2 1225.5 157.6 1225.9 158.0 1226.3 158.5 1226.7 158.9 1227.1 159.3 1227.4 159.8 1227.8 160.3 1228.2 160.7 1228.6 161.2 1228.9 161.7 1229.3 162.1" fill="none" stroke="#a39179" stroke-width="1.9" stroke-opacity="0.95" stroke-linecap="round"/><clipPath id="s493"><rect x="835.8" y="493" width="885.7" height="204.29999999999995"/></clipPath><path clip-path="url(#s493)" d="M874.4 698.3 874.6 698.3 874.8 698.3 875.0 698.3 875.2 689.0 875.4 672.5 875.5 689.0 875.7 698.3 875.9 698.3 876.1 698.3 876.3 698.3 876.5 698.3 876.7 698.3 876.9 698.3 877.1 698.3 877.3 698.3 877.5 698.3 877.7 689.0 877.8 689.0 878.0 698.3 878.2 689.0 878.4 689.0 878.6 698.3 878.8 689.0 879.0 689.0 879.2 698.3 879.4 689.0 879.6 689.0 879.8 698.3 879.9 689.0 880.1 689.0 880.3 698.3 880.5 689.0 880.7 698.3 880.9 689.0 881.1 689.0 881.3 698.3 881.5 689.0 881.7 698.3 881.9 662.8 882.0 629.8 882.2 618.8 882.4 612.3 882.6 609.6 882.8 601.7 883.0 597.2 883.2 592.2 883.4 592.2 883.6 585.4 883.8 594.8 884.0 582.5 884.2 585.1 884.3 595.3 884.5 591.8 884.7 587.0 884.9 586.4 885.1 583.9 885.3 582.0 885.5 577.4 885.7 564.5 885.9 553.7 886.1 536.8 886.3 523.3 886.4 520.5 886.6 518.8 886.8 517.7 887.0 516.7 887.2 516.1 887.4 513.0 887.6 512.7 887.8 512.0 888.0 511.7 888.2 511.6 888.4 511.2 888.6 509.1 888.7 510.3 888.9 508.4 889.1 509.1 889.3 508.0 889.5 507.6 889.7 508.9 889.9 507.1 890.1 508.0 890.3 507.5 890.5 506.3 890.7 506.9 890.8 506.5 891.0 506.2 891.2 505.3 891.4 505.7 891.6 506.9 891.8 505.9 892.0 505.1 892.2 505.4 892.4 506.4 892.6 504.3 892.8 504.6 893.0 505.1 893.1 505.0 893.3 504.6 893.5 504.6 893.7 504.2 893.9 503.9 894.1 504.1 894.3 504.4 894.5 504.2 894.7 504.1 894.9 502.5 895.1 503.1 895.2 503.1 895.4 504.0 895.6 502.5 895.8 503.5 896.0 502.8 896.2 503.2 896.4 503.0 896.6 502.8 896.8 504.2 897.0 503.9 897.2 503.1 897.4 502.9 897.5 503.3 897.7 504.0 897.9 503.9 898.1 503.5 898.3 503.4 898.5 505.0 898.7 503.4 898.9 504.3 899.1 505.5 899.3 505.2 899.5 504.4 899.6 504.1 899.8 504.6 900.0 504.5 900.2 505.4 900.4 505.3 900.6 505.0 900.8 504.9 901.0 505.1 901.2 505.1 901.4 506.6 901.6 505.5 901.7 506.3 901.9 506.7 902.1 506.0 902.3 506.3 902.5 505.7 902.7 506.4 902.9 508.0 903.1 506.8 903.3 506.6 903.5 507.4 903.7 507.1 903.9 507.1 904.0 506.6 904.2 507.5 904.4 507.1 904.6 507.3 904.8 507.5 905.0 508.2 905.2 508.6 905.4 509.0 905.6 508.8 905.8 508.3 906.0 508.6 906.1 509.5 906.3 508.9 906.5 509.6 906.7 510.2 906.9 509.7 907.1 509.7 907.3 510.6 907.5 511.7 907.7 511.4 907.9 509.3 908.1 511.9 908.3 511.7 908.4 510.9 908.6 512.4 908.8 511.0 909.0 512.7 909.2 512.5 909.4 512.8 909.6 512.4 909.8 512.5 910.0 513.1 910.2 513.2 910.4 513.7 910.5 513.1 910.7 513.6 910.9 513.1 911.1 514.4 911.3 514.7 911.5 514.2 911.7 515.3 911.9 514.6 912.1 514.7 912.3 514.7 912.5 515.2 912.6 515.4 912.8 515.2 913.0 516.3 913.2 516.3 913.4 516.5 913.6 517.0 913.8 517.2 914.0 516.6 914.2 518.0 914.4 518.0 914.6 518.1 914.8 517.9 914.9 518.3 915.1 519.5 915.3 518.8 915.5 519.2 915.7 516.7 915.9 519.1 916.1 519.3 916.3 519.4 916.5 520.3 916.7 519.7 916.9 520.1 917.0 520.9 917.2 519.1 917.4 521.4 917.6 520.2 917.8 520.3 918.0 520.6 918.2 520.3 918.4 521.3 918.6 521.2 918.8 522.3 919.0 522.2 919.2 522.8 919.3 521.8 919.5 522.5 919.7 524.0 919.9 523.5 920.1 522.3 920.3 522.7 920.5 522.0 920.7 524.6 920.9 525.1 921.1 524.7 921.3 525.5 921.4 524.4 921.6 525.6 921.8 524.0 922.0 525.5 922.2 526.9 922.4 526.5 922.6 527.9 922.8 524.6 923.0 525.9 923.2 525.6 923.4 527.2 923.6 526.9 923.7 528.5 923.9 527.6 924.1 528.1 924.3 528.4 924.5 527.9 924.7 529.4 924.9 527.7 925.1 529.0 925.3 528.4 925.5 528.8 925.7 529.3 925.8 528.1 926.0 529.1 926.2 529.0 926.4 529.0 926.6 530.5 926.8 530.2 927.0 530.8 927.2 529.4 927.4 531.3 927.6 531.3 927.8 532.8 927.9 532.1 928.1 529.2 928.3 530.7 928.5 532.0 928.7 532.4 928.9 533.0 929.1 532.0 929.3 534.7 929.5 532.4 929.7 534.3 929.9 533.7 930.1 535.2 930.2 533.6 930.4 534.5 930.6 533.7 930.8 534.6 931.0 535.4 931.2 534.5 931.4 534.7 931.6 534.6 931.8 535.4 932.0 535.2 932.2 537.1 932.3 535.7 932.5 535.9 932.7 536.6 932.9 538.9 933.1 537.0 933.3 538.2 933.5 537.0 933.7 538.8 933.9 536.7 934.1 538.3 934.3 537.7 934.5 536.6 934.6 536.6 934.8 539.0 935.0 539.4 935.2 537.7 935.4 537.1 935.6 538.9 935.8 538.3 936.0 539.2 936.2 538.3 936.4 537.6 936.6 538.8 936.7 537.4 936.9 536.4 937.1 538.1 937.3 537.3 937.5 538.0 937.7 537.1 937.9 537.1 938.1 537.5 938.3 536.8 938.5 537.2 938.7 538.8 938.9 536.2 939.0 536.6 939.2 537.0 939.4 537.7 939.6 538.7 939.8 537.8 940.0 540.0 940.2 537.2 940.4 538.3 940.6 538.3 940.8 538.4 941.0 536.8 941.1 537.3 941.3 538.4 941.5 539.4 941.7 538.3 941.9 538.9 942.1 539.3 942.3 537.5 942.5 537.4 942.7 540.8 942.9 540.4 943.1 540.2 943.2 541.2 943.4 539.0 943.6 540.7 943.8 542.4 944.0 543.2 944.2 542.4 944.4 543.7 944.6 546.0 944.8 546.4 945.0 547.6 945.2 548.0 945.4 546.6 945.5 547.2 945.7 547.5 945.9 550.7 946.1 549.7 946.3 547.7 946.5 550.8 946.7 549.5 946.9 549.3 947.1 552.6 947.3 553.7 947.5 552.4 947.6 552.7 947.8 552.7 948.0 551.5 948.2 551.1 948.4 557.4 948.6 552.0 948.8 556.1 949.0 555.0 949.2 555.2 949.4 554.5 949.6 557.0 949.8 556.1 949.9 558.4 950.1 556.4 950.3 555.2 950.5 558.4 950.7 559.4 950.9 560.2 951.1 559.0 951.3 557.4 951.5 559.8 951.7 559.1 951.9 558.6 952.0 560.2 952.2 558.5 952.4 558.2 952.6 558.3 952.8 560.8 953.0 560.2 953.2 559.8 953.4 559.9 953.6 560.2 953.8 558.8 954.0 563.2 954.2 560.6 954.3 559.8 954.5 558.9 954.7 557.6 954.9 558.8 955.1 558.9 955.3 558.6 955.5 563.5 955.7 560.3 955.9 559.3 956.1 562.1 956.3 559.5 956.4 560.4 956.6 560.4 956.8 564.4 957.0 557.7 957.2 560.2 957.4 560.9 957.6 562.4 957.8 560.5 958.0 563.2 958.2 557.3 958.4 566.4 958.5 558.6 958.7 565.7 958.9 562.7 959.1 563.8 959.3 560.8 959.5 564.1 959.7 560.9 959.9 566.1 960.1 564.3 960.3 563.8 960.5 562.0 960.7 565.7 960.8 567.0 961.0 563.3 961.2 564.3 961.4 563.0 961.6 562.8 961.8 564.4 962.0 563.5 962.2 564.5 962.4 561.4 962.6 563.3 962.8 564.8 962.9 564.7 963.1 565.5 963.3 566.8 963.5 563.2 963.7 566.1 963.9 563.0 964.1 563.8 964.3 566.8 964.5 565.7 964.7 566.8 964.9 568.3 965.1 566.1 965.2 566.0 965.4 567.0 965.6 566.1 965.8 569.5 966.0 567.6 966.2 565.1 966.4 567.1 966.6 568.3 966.8 567.6 967.0 564.7 967.2 567.3 967.3 564.3 967.5 570.0 967.7 567.4 967.9 566.7 968.1 567.4 968.3 568.3 968.5 566.0 968.7 572.6 968.9 569.7 969.1 573.9 969.3 569.2 969.5 569.1 969.6 569.2 969.8 570.2 970.0 572.9 970.2 572.6 970.4 568.0 970.6 570.5 970.8 571.5 971.0 569.2 971.2 570.8 971.4 570.2 971.6 572.2 971.7 570.2 971.9 576.9 972.1 571.9 972.3 571.3 972.5 570.0 972.7 574.1 972.9 573.1 973.1 568.9 973.3 574.9 973.5 574.5 973.7 572.8 973.9 570.7 974.0 570.3 974.2 575.7 974.4 571.5 974.6 573.1 974.8 571.5 975.0 572.8 975.2 572.4 975.4 574.7 975.6 572.0 975.8 574.1 976.0 574.1 976.1 575.5 976.3 570.3 976.5 575.3 976.7 576.3 976.9 575.7 977.1 572.2 977.3 573.3 977.5 575.3 977.7 580.2 977.9 573.7 978.1 571.2 978.2 571.3 978.4 572.8 978.6 573.9 978.8 572.8 979.0 575.5 979.2 573.7 979.4 572.6 979.6 575.7 979.8 572.6 980.0 573.3 980.2 576.9 980.4 574.3 980.5 578.0 980.7 576.1 980.9 574.5 981.1 571.0 981.3 574.3 981.5 570.8 981.7 572.6 981.9 572.0 982.1 569.4 982.3 575.7 982.5 573.7 982.6 574.3 982.8 568.4 983.0 570.2 983.2 572.9 983.4 570.8 983.6 570.0 983.8 568.9 984.0 569.9 984.2 571.0 984.4 570.8 984.6 570.5 984.8 568.8 984.9 567.4 985.1 570.7 985.3 566.3 985.5 568.3 985.7 567.6 985.9 569.9 986.1 567.6 986.3 564.9 986.5 565.6 986.7 564.0 986.9 565.3 987.0 567.7 987.2 563.8 987.4 561.2 987.6 559.5 987.8 559.3 988.0 562.6 988.2 561.5 988.4 557.2 988.6 559.9 988.8 558.6 989.0 558.4 989.1 560.9 989.3 560.7 989.5 558.1 989.7 559.0 989.9 560.9 990.1 558.1 990.3 557.0 990.5 558.0 990.7 559.8 990.9 561.2 991.1 560.4 991.3 560.8 991.4 558.9 991.6 560.3 991.8 560.3 992.0 561.9 992.2 560.2 992.4 564.7 992.6 561.3 992.8 562.6 993.0 560.9 993.2 563.8 993.4 566.4 993.5 564.5 993.7 566.3 993.9 566.8 994.1 567.1 994.3 563.3 994.5 568.6 994.7 564.1 994.9 566.7 995.1 567.7 995.3 569.7 995.5 567.3 995.7 570.2 995.8 573.5 996.0 574.7 996.2 568.6 996.4 578.3 996.6 575.3 996.8 576.1 997.0 575.1 997.2 578.3 997.4 579.7 997.6 579.9 997.8 580.2 997.9 573.1 998.1 579.0 998.3 574.9 998.5 579.9 998.7 580.2 998.9 581.4 999.1 582.8 999.3 581.4 999.5 580.7 999.7 585.4 999.9 579.2 1000.1 583.1 1000.2 582.5 1000.4 583.1 1000.6 583.9 1000.8 582.5 1001.0 582.0 1001.2 582.0 1001.4 586.7 1001.6 580.7 1001.8 580.2 1002.0 581.4 1002.2 580.9 1002.3 585.1 1002.5 583.4 1002.7 584.5 1002.9 578.5 1003.1 587.7 1003.3 587.0 1003.5 583.9 1003.7 585.4 1003.9 582.0 1004.1 583.1 1004.3 584.8 1004.5 581.4 1004.6 586.4 1004.8 583.9 1005.0 587.4 1005.2 587.7 1005.4 583.1 1005.6 582.2 1005.8 584.2 1006.0 585.7 1006.2 583.9 1006.4 584.5 1006.6 585.4 1006.7 582.8 1006.9 587.4 1007.1 580.7 1007.3 583.6 1007.5 586.4 1007.7 588.7 1007.9 583.1 1008.1 582.0 1008.3 586.7 1008.5 587.4 1008.7 586.1 1008.8 585.1 1009.0 585.1 1009.2 588.7 1009.4 588.4 1009.6 583.1 1009.8 585.7 1010.0 587.7 1010.2 583.9 1010.4 587.7 1010.6 584.5 1010.8 589.5 1011.0 589.1 1011.1 586.4 1011.3 589.8 1011.5 588.4 1011.7 584.2 1011.9 587.0 1012.1 586.4 1012.3 585.4 1012.5 588.4 1012.7 587.7 1012.9 584.8 1013.1 587.7 1013.2 586.7 1013.4 591.4 1013.6 582.8 1013.8 583.6 1014.0 593.5 1014.2 587.4 1014.4 589.8 1014.6 584.2 1014.8 587.7 1015.0 588.7 1015.2 585.4 1015.4 585.4 1015.5 587.7 1015.7 583.1 1015.9 585.7 1016.1 587.7 1016.3 591.8 1016.5 588.7 1016.7 586.4 1016.9 590.2 1017.1 585.1 1017.3 583.9 1017.5 586.1 1017.6 586.7 1017.8 589.8 1018.0 597.7 1018.2 584.5 1018.4 588.0 1018.6 589.8 1018.8 589.1 1019.0 586.4 1019.2 590.2 1019.4 589.5 1019.6 589.5 1019.8 586.7 1019.9 588.0 1020.1 590.2 1020.3 587.0 1020.5 589.5 1020.7 586.7 1020.9 585.1 1021.1 587.4 1021.3 589.5 1021.5 586.7 1021.7 591.0 1021.9 587.7 1022.0 590.6 1022.2 592.2 1022.4 591.0 1022.6 589.8 1022.8 586.7 1023.0 587.7 1023.2 597.7 1023.4 587.0 1023.6 589.1 1023.8 586.4 1024.0 591.8 1024.1 589.5 1024.3 589.5 1024.5 593.0 1024.7 599.9 1024.9 593.9 1025.1 583.4 1025.3 592.6 1025.5 593.0 1025.7 592.2 1025.9 592.2 1026.1 587.4 1026.3 592.6 1026.4 590.2 1026.6 589.8 1026.8 588.7 1027.0 590.2 1027.2 587.0 1027.4 592.2 1027.6 587.4 1027.8 589.1 1028.0 591.8 1028.2 589.1 1028.4 591.8 1028.5 592.2 1028.7 593.9 1028.9 597.2 1029.1 592.2 1029.3 592.6 1029.5 586.1 1029.7 587.4 1029.9 590.2 1030.1 595.3 1030.3 593.5 1030.5 592.6 1030.7 593.9 1030.8 594.3 1031.0 592.2 1031.2 592.2 1031.4 595.3 1031.6 592.2 1031.8 589.8 1032.0 595.3 1032.2 589.8 1032.4 590.6 1032.6 586.4 1032.8 588.4 1032.9 591.8 1033.1 594.8 1033.3 590.6 1033.5 593.0 1033.7 591.0 1033.9 597.7 1034.1 599.3 1034.3 590.6 1034.5 593.9 1034.7 590.2 1034.9 592.6 1035.0 595.7 1035.2 589.8 1035.4 590.6 1035.6 591.8 1035.8 592.6 1036.0 602.3 1036.2 602.9 1036.4 595.3 1036.6 591.8 1036.8 591.4 1037.0 594.8 1037.2 592.2 1037.3 589.1 1037.5 592.2 1037.7 593.5 1037.9 593.0 1038.1 589.5 1038.3 593.5 1038.5 599.3 1038.7 592.2 1038.9 595.7 1039.1 599.3 1039.3 598.8 1039.4 593.0 1039.6 601.0 1039.8 596.2 1040.0 595.3 1040.2 591.0 1040.4 593.9 1040.6 594.8 1040.8 591.4 1041.0 595.3 1041.2 587.4 1041.4 590.6 1041.6 596.7 1041.7 593.0 1041.9 597.7 1042.1 592.6 1042.3 591.0 1042.5 595.3 1042.7 595.7 1042.9 592.6 1043.1 593.5 1043.3 592.6 1043.5 598.8 1043.7 596.2 1043.8 597.2 1044.0 596.2 1044.2 592.6 1044.4 597.7 1044.6 608.7 1044.8 593.5 1045.0 598.2 1045.2 598.8 1045.4 594.8 1045.6 599.9 1045.8 597.2 1046.0 592.6 1046.1 600.5 1046.3 600.5 1046.5 601.7 1046.7 598.2 1046.9 599.9 1047.1 594.8 1047.3 597.7 1047.5 588.0 1047.7 601.0 1047.9 598.8 1048.1 596.2 1048.2 593.9 1048.4 596.2 1048.6 607.1 1048.8 602.3 1049.0 593.9 1049.2 599.3 1049.4 607.9 1049.6 597.2 1049.8 601.0 1050.0 599.9 1050.2 601.7 1050.3 599.3 1050.5 602.3 1050.7 600.5 1050.9 595.7 1051.1 595.3 1051.3 594.3 1051.5 601.7 1051.7 599.3 1051.9 601.7 1052.1 604.2 1052.3 599.9 1052.5 600.5 1052.6 599.9 1052.8 607.9 1053.0 601.0 1053.2 601.0 1053.4 599.3 1053.6 601.7 1053.8 599.9 1054.0 601.0 1054.2 596.7 1054.4 597.2 1054.6 599.3 1054.7 597.2 1054.9 594.3 1055.1 601.0 1055.3 599.3 1055.5 599.9 1055.7 605.6 1055.9 598.2 1056.1 597.7 1056.3 599.9 1056.5 600.5 1056.7 598.2 1056.9 599.3 1057.0 597.7 1057.2 602.3 1057.4 604.9 1057.6 603.6 1057.8 593.0 1058.0 598.2 1058.2 602.9 1058.4 605.6 1058.6 608.7 1058.8 604.2 1059.0 597.2 1059.1 604.2 1059.3 599.3 1059.5 603.6 1059.7 607.1 1059.9 604.2 1060.1 605.6 1060.3 602.9 1060.5 601.7 1060.7 602.3 1060.9 602.9 1061.1 603.6 1061.3 604.9 1061.4 606.4 1061.6 605.6 1061.8 601.0 1062.0 614.2 1062.2 609.6 1062.4 604.2 1062.6 604.9 1062.8 603.6 1063.0 602.9 1063.2 605.6 1063.4 605.6 1063.5 604.9 1063.7 604.9 1063.9 609.6 1064.1 604.9 1064.3 609.6 1064.5 603.6 1064.7 604.2 1064.9 604.2 1065.1 607.1 1065.3 604.9 1065.5 610.4 1065.7 609.6 1065.8 607.1 1066.0 602.9 1066.2 599.9 1066.4 599.3 1066.6 607.1 1066.8 595.3 1067.0 604.2 1067.2 602.9 1067.4 603.6 1067.6 602.9 1067.8 613.2 1067.9 613.2 1068.1 605.6 1068.3 599.3 1068.5 601.7 1068.7 612.3 1068.9 610.4 1069.1 609.6 1069.3 608.7 1069.5 608.7 1069.7 607.1 1069.9 610.4 1070.0 611.3 1070.2 604.9 1070.4 612.3 1070.6 608.7 1070.8 598.8 1071.0 608.7 1071.2 607.9 1071.4 603.6 1071.6 602.9 1071.8 612.3 1072.0 606.4 1072.2 608.7 1072.3 600.5 1072.5 615.3 1072.7 607.9 1072.9 598.8 1073.1 604.2 1073.3 607.1 1073.5 611.3 1073.7 603.6 1073.9 601.7 1074.1 605.6 1074.3 611.3 1074.4 607.9 1074.6 607.1 1074.8 614.2 1075.0 607.9 1075.2 606.4 1075.4 602.9 1075.6 607.1 1075.8 607.1 1076.0 604.2 1076.2 613.2 1076.4 605.6 1076.6 609.6 1076.7 607.1 1076.9 602.3 1077.1 606.4 1077.3 596.7 1077.5 605.6 1077.7 604.2 1077.9 593.9 1078.1 600.5 1078.3 606.4 1078.5 604.9 1078.7 598.2 1078.8 605.6 1079.0 603.6 1079.2 602.9 1079.4 604.9 1079.6 599.9 1079.8 597.2 1080.0 599.3 1080.2 609.6 1080.4 602.9 1080.6 604.9 1080.8 604.9 1081.0 603.6 1081.1 604.9 1081.3 598.8 1081.5 605.6 1081.7 594.8 1081.9 598.8 1082.1 599.3 1082.3 601.7 1082.5 602.9 1082.7 602.9 1082.9 599.9 1083.1 597.7 1083.2 593.9 1083.4 597.7 1083.6 600.5 1083.8 593.9 1084.0 592.6 1084.2 598.2 1084.4 590.6 1084.6 598.8 1084.8 596.7 1085.0 594.8 1085.2 597.7 1085.3 591.4 1085.5 590.6 1085.7 591.8 1085.9 595.3 1086.1 593.0 1086.3 595.7 1086.5 590.6 1086.7 589.8 1086.9 594.3 1087.1 591.0 1087.3 589.5 1087.5 591.4 1087.6 593.9 1087.8 593.0 1088.0 589.8 1088.2 588.4 1088.4 588.7 1088.6 593.9 1088.8 591.0 1089.0 589.5 1089.2 595.3 1089.4 592.6 1089.6 592.2 1089.7 597.2 1089.9 592.6 1090.1 592.6 1090.3 593.9 1090.5 591.0 1090.7 596.2 1090.9 595.3 1091.1 594.3 1091.3 594.8 1091.5 595.3 1091.7 593.0 1091.9 594.3 1092.0 593.9 1092.2 599.3 1092.4 597.2 1092.6 600.5 1092.8 599.3 1093.0 601.0 1093.2 598.2 1093.4 597.7 1093.6 596.7 1093.8 601.0 1094.0 594.8 1094.1 599.9 1094.3 601.7 1094.5 599.3 1094.7 604.9 1094.9 592.2 1095.1 604.9 1095.3 597.2 1095.5 606.4 1095.7 594.8 1095.9 601.0 1096.1 599.3 1096.2 604.2 1096.4 597.7 1096.6 602.9 1096.8 602.3 1097.0 598.2 1097.2 606.4 1097.4 609.6 1097.6 601.7 1097.8 601.7 1098.0 602.3 1098.2 599.3 1098.4 611.3 1098.5 602.9 1098.7 606.4 1098.9 608.7 1099.1 610.4 1099.3 599.9 1099.5 615.3 1099.7 604.9 1099.9 604.2 1100.1 610.4 1100.3 599.9 1100.5 603.6 1100.6 603.6 1100.8 610.4 1101.0 599.9 1101.2 605.6 1101.4 607.1 1101.6 607.1 1101.8 607.1 1102.0 614.2 1102.2 604.2 1102.4 611.3 1102.6 604.2 1102.8 607.9 1102.9 604.9 1103.1 608.7 1103.3 603.6 1103.5 611.3 1103.7 601.0 1103.9 615.3 1104.1 609.6 1104.3 615.3 1104.5 612.3 1104.7 604.9 1104.9 598.2 1105.0 605.6 1105.2 615.3 1105.4 606.4 1105.6 607.9 1105.8 615.3 1106.0 608.7 1106.2 622.9 1106.4 608.7 1106.6 604.2 1106.8 613.2 1107.0 616.4 1107.2 618.8 1107.3 624.4 1107.5 613.2 1107.7 609.6 1107.9 607.1 1108.1 612.3 1108.3 607.9 1108.5 617.6 1108.7 612.3 1108.9 613.2 1109.1 614.2 1109.3 607.9 1109.4 608.7 1109.6 615.3 1109.8 611.3 1110.0 616.4 1110.2 614.2 1110.4 616.4 1110.6 620.1 1110.8 610.4 1111.0 617.6 1111.2 616.4 1111.4 610.4 1111.5 609.6 1111.7 617.6 1111.9 629.8 1112.1 615.3 1112.3 610.4 1112.5 613.2 1112.7 607.1 1112.9 616.4 1113.1 610.4 1113.3 618.8 1113.5 609.6 1113.7 617.6 1113.8 627.8 1114.0 624.4 1114.2 614.2 1114.4 614.2 1114.6 610.4 1114.8 626.1 1115.0 617.6 1115.2 617.6 1115.4 609.6 1115.6 613.2 1115.8 612.3 1115.9 613.2 1116.1 606.4 1116.3 613.2 1116.5 617.6 1116.7 614.2 1116.9 622.9 1117.1 621.4 1117.3 608.7 1117.5 618.8 1117.7 610.4 1117.9 614.2 1118.1 620.1 1118.2 618.8 1118.4 620.1 1118.6 618.8 1118.8 609.6 1119.0 624.4 1119.2 613.2 1119.4 616.4 1119.6 615.3 1119.8 615.3 1120.0 615.3 1120.2 618.8 1120.3 626.1 1120.5 626.1 1120.7 624.4 1120.9 608.7 1121.1 624.4 1121.3 618.8 1121.5 627.8 1121.7 617.6 1121.9 612.3 1122.1 614.2 1122.3 624.4 1122.5 617.6 1122.6 616.4 1122.8 622.9 1123.0 618.8 1123.2 626.1 1123.4 618.8 1123.6 620.1 1123.8 617.6 1124.0 626.1 1124.2 614.2 1124.4 617.6 1124.6 616.4 1124.7 620.1 1124.9 620.1 1125.1 620.1 1125.3 620.1 1125.5 626.1 1125.7 616.4 1125.9 616.4 1126.1 611.3 1126.3 620.1 1126.5 617.6 1126.7 624.4 1126.8 616.4 1127.0 622.9 1127.2 615.3 1127.4 626.1 1127.6 618.8 1127.8 634.1 1128.0 620.1 1128.2 617.6 1128.4 616.4 1128.6 621.4 1128.8 626.1 1129.0 617.6 1129.1 622.9 1129.3 622.9 1129.5 618.8 1129.7 621.4 1129.9 624.4 1130.1 612.3 1130.3 620.1 1130.5 624.4 1130.7 616.4 1130.9 616.4 1131.1 614.2 1131.2 613.2 1131.4 616.4 1131.6 622.9 1131.8 608.7 1132.0 615.3 1132.2 616.4 1132.4 615.3 1132.6 614.2 1132.8 611.3 1133.0 618.8 1133.2 614.2 1133.4 620.1 1133.5 613.2 1133.7 614.2 1133.9 629.8 1134.1 616.4 1134.3 626.1 1134.5 622.9 1134.7 606.4 1134.9 610.4 1135.1 622.9 1135.3 609.6 1135.5 614.2 1135.6 617.6 1135.8 615.3 1136.0 610.4 1136.2 612.3 1136.4 612.3 1136.6 609.6 1136.8 612.3 1137.0 618.8 1137.2 606.4 1137.4 607.9 1137.6 617.6 1137.8 611.3 1137.9 603.6 1138.1 609.6 1138.3 603.6 1138.5 608.7 1138.7 604.2 1138.9 607.1 1139.1 615.3 1139.3 616.4 1139.5 608.7 1139.7 609.6 1139.9 607.9 1140.0 608.7 1140.2 601.7 1140.4 611.3 1140.6 615.3 1140.8 604.9 1141.0 613.2 1141.2 609.6 1141.4 614.2 1141.6 601.7 1141.8 610.4 1142.0 606.4 1142.2 610.4 1142.3 617.6 1142.5 618.8 1142.7 609.6 1142.9 612.3 1143.1 601.7 1143.3 608.7 1143.5 607.9 1143.7 616.4 1143.9 597.7 1144.1 607.1 1144.3 610.4 1144.4 605.6 1144.6 607.1 1144.8 607.9 1145.0 603.6 1145.2 607.9 1145.4 608.7 1145.6 605.6 1145.8 607.9 1146.0 607.9 1146.2 607.1 1146.4 616.4 1146.5 616.4 1146.7 607.9 1146.9 605.6 1147.1 614.2 1147.3 608.7 1147.5 611.3 1147.7 604.2 1147.9 599.3 1148.1 603.6 1148.3 609.6 1148.5 608.7 1148.7 602.3 1148.8 613.2 1149.0 613.2 1149.2 614.2 1149.4 614.2 1149.6 607.9 1149.8 614.2 1150.0 615.3 1150.2 607.1 1150.4 613.2 1150.6 618.8 1150.8 609.6 1150.9 607.9 1151.1 613.2 1151.3 609.6 1151.5 609.6 1151.7 611.3 1151.9 608.7 1152.1 607.9 1152.3 616.4 1152.5 617.6 1152.7 613.2 1152.9 612.3 1153.1 624.4 1153.2 607.9 1153.4 611.3 1153.6 612.3 1153.8 620.1 1154.0 617.6 1154.2 615.3 1154.4 620.1 1154.6 620.1 1154.8 617.6 1155.0 607.9 1155.2 613.2 1155.3 613.2 1155.5 610.4 1155.7 610.4 1155.9 610.4 1156.1 614.2 1156.3 613.2 1156.5 616.4 1156.7 612.3 1156.9 612.3 1157.1 612.3 1157.3 616.4 1157.5 610.4 1157.6 614.2 1157.8 611.3 1158.0 609.6 1158.2 614.2 1158.4 611.3 1158.6 620.1 1158.8 614.2 1159.0 621.4 1159.2 614.2 1159.4 626.1 1159.6 620.1 1159.7 622.9 1159.9 618.8 1160.1 614.2 1160.3 614.2 1160.5 615.3 1160.7 615.3 1160.9 614.2 1161.1 618.8 1161.3 614.2 1161.5 618.8 1161.7 616.4 1161.8 615.3 1162.0 620.1 1162.2 618.8 1162.4 620.1 1162.6 617.6 1162.8 612.3 1163.0 618.8 1163.2 624.4 1163.4 627.8 1163.6 622.9 1163.8 612.3 1164.0 617.6 1164.1 626.1 1164.3 626.1 1164.5 629.8 1164.7 627.8 1164.9 624.4 1165.1 626.1 1165.3 614.2 1165.5 631.8 1165.7 629.8 1165.9 627.8 1166.1 621.4 1166.2 631.8 1166.4 627.8 1166.6 624.4 1166.8 629.8 1167.0 627.8 1167.2 627.8 1167.4 631.8 1167.6 621.4 1167.8 624.4 1168.0 636.6 1168.2 642.6 1168.4 622.9 1168.5 636.6 1168.7 636.6 1168.9 634.1 1169.1 629.8 1169.3 626.1 1169.5 624.4 1169.7 629.8 1169.9 634.1 1170.1 646.3 1170.3 621.4 1170.5 620.1 1170.6 634.1 1170.8 636.6 1171.0 639.4 1171.2 629.8 1171.4 621.4 1171.6 639.4 1171.8 642.6 1172.0 626.1 1172.2 624.4 1172.4 629.8 1172.6 629.8 1172.8 642.6 1172.9 622.9 1173.1 629.8 1173.3 634.1 1173.5 639.4 1173.7 639.4 1173.9 631.8 1174.1 629.8 1174.3 627.8 1174.5 639.4 1174.7 650.6 1174.9 627.8 1175.0 636.6 1175.2 636.6 1175.4 634.1 1175.6 646.3 1175.8 631.8 1176.0 631.8 1176.2 629.8 1176.4 655.9 1176.6 622.9 1176.8 650.6 1177.0 627.8 1177.1 622.9 1177.3 626.1 1177.5 634.1 1177.7 627.8 1177.9 639.4 1178.1 636.6 1178.3 639.4 1178.5 642.6 1178.7 631.8 1178.9 634.1 1179.1 634.1 1179.3 634.1 1179.4 634.1 1179.6 642.6 1179.8 639.4 1180.0 650.6 1180.2 626.1 1180.4 629.8 1180.6 646.3 1180.8 655.9 1181.0 636.6 1181.2 634.1 1181.4 614.2 1181.5 629.8 1181.7 631.8 1181.9 636.6 1182.1 634.1 1182.3 650.6 1182.5 634.1 1182.7 622.9 1182.9 650.6 1183.1 634.1 1183.3 629.8 1183.5 639.4 1183.7 646.3 1183.8 634.1 1184.0 634.1 1184.2 655.9 1184.4 629.8 1184.6 631.8 1184.8 655.9 1185.0 634.1 1185.2 639.4 1185.4 646.3 1185.6 627.8 1185.8 646.3 1185.9 636.6 1186.1 631.8 1186.3 634.1 1186.5 617.6 1186.7 634.1 1186.9 627.8 1187.1 650.6 1187.3 634.1 1187.5 650.6 1187.7 636.6 1187.9 655.9 1188.0 634.1 1188.2 626.1 1188.4 627.8 1188.6 629.8 1188.8 631.8 1189.0 634.1 1189.2 639.4 1189.4 662.8 1189.6 622.9 1189.8 629.8 1190.0 655.9 1190.2 634.1 1190.3 634.1 1190.5 626.1 1190.7 646.3 1190.9 642.6 1191.1 627.8 1191.3 617.6 1191.5 642.6 1191.7 631.8 1191.9 642.6 1192.1 627.8 1192.3 629.8 1192.4 639.4 1192.6 631.8 1192.8 620.1 1193.0 631.8 1193.2 627.8 1193.4 626.1 1193.6 624.4 1193.8 636.6 1194.0 629.8 1194.2 627.8 1194.4 636.6 1194.6 624.4 1194.7 626.1 1194.9 624.4 1195.1 646.3 1195.3 631.8 1195.5 627.8 1195.7 629.8 1195.9 624.4 1196.1 624.4 1196.3 631.8 1196.5 624.4 1196.7 626.1 1196.8 629.8 1197.0 620.1 1197.2 634.1 1197.4 627.8 1197.6 629.8 1197.8 620.1 1198.0 631.8 1198.2 629.8 1198.4 631.8 1198.6 650.6 1198.8 621.4 1199.0 629.8 1199.1 629.8 1199.3 634.1 1199.5 639.4 1199.7 624.4 1199.9 626.1 1200.1 627.8 1200.3 618.8 1200.5 621.4 1200.7 624.4 1200.9 627.8 1201.1 622.9 1201.2 615.3 1201.4 618.8 1201.6 624.4 1201.8 621.4 1202.0 624.4 1202.2 615.3 1202.4 631.8 1202.6 624.4 1202.8 620.1 1203.0 629.8 1203.2 612.3 1203.3 622.9 1203.5 626.1 1203.7 631.8 1203.9 614.2 1204.1 615.3 1204.3 622.9 1204.5 616.4 1204.7 621.4 1204.9 610.4 1205.1 624.4 1205.3 620.1 1205.5 615.3 1205.6 618.8 1205.8 618.8 1206.0 618.8 1206.2 612.3 1206.4 609.6 1206.6 618.8 1206.8 613.2 1207.0 614.2 1207.2 615.3 1207.4 620.1 1207.6 629.8 1207.7 614.2 1207.9 609.6 1208.1 617.6 1208.3 615.3 1208.5 620.1 1208.7 609.6 1208.9 636.6 1209.1 609.6 1209.3 616.4 1209.5 620.1 1209.7 612.3 1209.9 618.8 1210.0 616.4 1210.2 613.2 1210.4 612.3 1210.6 612.3 1210.8 620.1 1211.0 620.1 1211.2 616.4 1211.4 613.2 1211.6 615.3 1211.8 611.3 1212.0 612.3 1212.1 609.6 1212.3 616.4 1212.5 627.8 1212.7 617.6 1212.9 609.6 1213.1 620.1 1213.3 612.3 1213.5 622.9 1213.7 620.1 1213.9 639.4 1214.1 618.8 1214.3 617.6 1214.4 622.9 1214.6 620.1 1214.8 615.3 1215.0 620.1 1215.2 624.4 1215.4 612.3 1215.6 634.1 1215.8 621.4 1216.0 629.8 1216.2 612.3 1216.4 621.4 1216.5 618.8 1216.7 617.6 1216.9 618.8 1217.1 618.8 1217.3 617.6 1217.5 629.8 1217.7 624.4 1217.9 626.1 1218.1 627.8 1218.3 618.8 1218.5 622.9 1218.7 634.1 1218.8 612.3 1219.0 624.4 1219.2 620.1 1219.4 631.8 1219.6 636.6 1219.8 622.9 1220.0 639.4 1220.2 624.4 1220.4 629.8 1220.6 629.8 1220.8 624.4 1220.9 626.1 1221.1 634.1 1221.3 629.8 1221.5 626.1 1221.7 624.4 1221.9 639.4 1222.1 629.8 1222.3 629.8 1222.5 622.9 1222.7 629.8 1222.9 627.8 1223.0 620.1 1223.2 627.8 1223.4 639.4 1223.6 631.8 1223.8 629.8 1224.0 627.8 1224.2 642.6 1224.4 629.8 1224.6 629.8 1224.8 627.8 1225.0 634.1 1225.2 634.1 1225.3 639.4 1225.5 629.8 1225.7 627.8 1225.9 636.6 1226.1 622.9 1226.3 636.6 1226.5 636.6 1226.7 636.6 1226.9 650.6 1227.1 639.4 1227.3 639.4 1227.4 634.1 1227.6 642.6 1227.8 639.4 1228.0 639.4 1228.2 646.3 1228.4 631.8 1228.6 622.9 1228.8 634.1 1229.0 624.4 1229.2 639.4 1229.4 627.8 1229.6 636.6 1229.7 646.3 1229.9 636.6 1230.1 631.8 1230.3 642.6 1230.5 646.3 1230.7 646.3 1230.9 639.4 1231.1 631.8 1231.3 650.6 1231.5 631.8 1231.7 636.6 1231.8 646.3 1232.0 642.6 1232.2 646.3 1232.4 642.6 1232.6 646.3 1232.8 639.4 1233.0 646.3 1233.2 642.6 1233.4 646.3 1233.6 655.9 1233.8 650.6 1234.0 646.3 1234.1 642.6 1234.3 650.6 1234.5 655.9 1234.7 662.8 1234.9 636.6 1235.1 650.6 1235.3 655.9 1235.5 636.6 1235.7 639.4 1235.9 650.6 1236.1 650.6 1236.2 642.6 1236.4 636.6 1236.6 650.6 1236.8 655.9 1237.0 662.8 1237.2 655.9 1237.4 636.6 1237.6 639.4 1237.8 636.6 1238.0 655.9 1238.2 655.9 1238.3 636.6 1238.5 655.9 1238.7 655.9 1238.9 646.3 1239.1 631.8 1239.3 650.6 1239.5 650.6 1239.7 655.9 1239.9 672.5 1240.1 646.3 1240.3 655.9 1240.5 642.6 1240.6 655.9 1240.8 650.6 1241.0 689.0 1241.2 672.5 1241.4 646.3 1241.6 655.9 1241.8 672.5 1242.0 672.5 1242.2 662.8 1242.4 662.8 1242.6 655.9 1242.7 650.6 1242.9 646.3 1243.1 662.8 1243.3 655.9 1243.5 662.8 1243.7 655.9 1243.9 689.0 1244.1 689.0 1244.3 672.5 1244.5 650.6 1244.7 662.8 1244.9 655.9 1245.0 672.5 1245.2 662.8 1245.4 689.0 1245.6 646.3 1245.8 662.8 1246.0 650.6 1246.2 662.8 1246.4 655.9 1246.6 655.9 1246.8 655.9 1247.0 650.6 1247.1 655.9 1247.3 672.5 1247.5 689.0 1247.7 662.8 1247.9 672.5 1248.1 672.5 1248.3 662.8 1248.5 650.6 1248.7 689.0 1248.9 662.8 1249.1 689.0 1249.2 662.8 1249.4 689.0 1249.6 655.9 1249.8 650.6 1250.0 672.5 1250.2 672.5 1250.4 672.5 1250.6 655.9 1250.8 698.3 1251.0 655.9 1251.2 662.8 1251.4 655.9 1251.5 650.6 1251.7 642.6 1251.9 662.8 1252.1 650.6 1252.3 689.0 1252.5 646.3 1252.7 698.3 1252.9 655.9 1253.1 689.0 1253.3 655.9 1253.5 655.9 1253.6 698.3 1253.8 662.8 1254.0 650.6 1254.2 662.8 1254.4 655.9 1254.6 655.9 1254.8 672.5 1255.0 698.3 1255.2 650.6 1255.4 672.5 1255.6 655.9 1255.8 655.9 1255.9 689.0 1256.1 655.9 1256.3 689.0 1256.5 655.9 1256.7 662.8 1256.9 689.0 1257.1 662.8 1257.3 662.8 1257.5 672.5 1257.7 689.0 1257.9 672.5 1258.0 672.5 1258.2 655.9 1258.4 672.5 1258.6 662.8 1258.8 662.8 1259.0 662.8 1259.2 662.8 1259.4 689.0 1259.6 689.0 1259.8 662.8 1260.0 672.5 1260.2 662.8 1260.3 672.5 1260.5 672.5 1260.7 662.8 1260.9 672.5 1261.1 655.9 1261.3 650.6 1261.5 662.8 1261.7 672.5 1261.9 689.0 1262.1 672.5 1262.3 698.3 1262.4 672.5 1262.6 655.9 1262.8 689.0 1263.0 672.5 1263.2 689.0 1263.4 672.5 1263.6 662.8 1263.8 689.0 1264.0 650.6 1264.2 698.3 1264.4 672.5 1264.5 662.8 1264.7 662.8 1264.9 662.8 1265.1 689.0 1265.3 655.9 1265.5 672.5 1265.7 672.5 1265.9 662.8 1266.1 698.3 1266.3 689.0 1266.5 672.5 1266.7 672.5 1266.8 689.0 1267.0 672.5 1267.2 672.5 1267.4 662.8 1267.6 655.9 1267.8 662.8 1268.0 672.5 1268.2 672.5 1268.4 655.9 1268.6 655.9 1268.8 698.3 1268.9 662.8 1269.1 655.9 1269.3 655.9 1269.5 672.5 1269.7 672.5 1269.9 662.8 1270.1 662.8 1270.3 662.8 1270.5 662.8 1270.7 672.5 1270.9 689.0 1271.1 672.5 1271.2 672.5 1271.4 650.6 1271.6 698.3 1271.8 672.5 1272.0 662.8 1272.2 689.0 1272.4 655.9 1272.6 689.0 1272.8 655.9 1273.0 672.5 1273.2 662.8 1273.3 650.6 1273.5 650.6 1273.7 662.8 1273.9 689.0 1274.1 689.0 1274.3 662.8 1274.5 672.5 1274.7 672.5 1274.9 650.6 1275.1 672.5 1275.3 672.5 1275.5 689.0 1275.6 672.5 1275.8 662.8 1276.0 655.9 1276.2 689.0 1276.4 662.8 1276.6 650.6 1276.8 655.9 1277.0 672.5 1277.2 689.0 1277.4 646.3 1277.6 672.5 1277.7 662.8 1277.9 650.6 1278.1 655.9 1278.3 689.0 1278.5 672.5 1278.7 662.8 1278.9 662.8 1279.1 672.5 1279.3 662.8 1279.5 655.9 1279.7 650.6 1279.8 672.5 1280.0 646.3 1280.2 662.8 1280.4 646.3 1280.6 662.8 1280.8 689.0 1281.0 646.3 1281.2 655.9 1281.4 650.6 1281.6 662.8 1281.8 639.4 1282.0 672.5 1282.1 689.0 1282.3 672.5 1282.5 672.5 1282.7 662.8 1282.9 672.5 1283.1 662.8 1283.3 646.3 1283.5 655.9 1283.7 672.5 1283.9 689.0 1284.1 646.3 1284.2 698.3 1284.4 646.3 1284.6 672.5 1284.8 655.9 1285.0 650.6 1285.2 650.6 1285.4 655.9 1285.6 689.0 1285.8 672.5 1286.0 646.3 1286.2 655.9 1286.4 650.6 1286.5 650.6 1286.7 672.5 1286.9 650.6 1287.1 631.8 1287.3 662.8 1287.5 650.6 1287.7 662.8 1287.9 650.6 1288.1 662.8 1288.3 655.9 1288.5 698.3 1288.6 642.6 1288.8 639.4 1289.0 636.6 1289.2 642.6 1289.4 639.4 1289.6 627.8 1289.8 650.6 1290.0 672.5 1290.2 650.6 1290.4 662.8 1290.6 650.6 1290.8 662.8 1290.9 650.6 1291.1 650.6 1291.3 662.8 1291.5 646.3 1291.7 639.4 1291.9 646.3 1292.1 642.6 1292.3 655.9 1292.5 650.6 1292.7 636.6 1292.9 642.6 1293.0 634.1 1293.2 655.9 1293.4 689.0 1293.6 650.6 1293.8 650.6 1294.0 672.5 1294.2 646.3 1294.4 672.5 1294.6 646.3 1294.8 642.6 1295.0 650.6 1295.2 655.9 1295.3 650.6 1295.5 655.9 1295.7 639.4 1295.9 646.3 1296.1 662.8 1296.3 662.8 1296.5 655.9 1296.7 655.9 1296.9 646.3 1297.1 662.8 1297.3 642.6 1297.4 650.6 1297.6 655.9 1297.8 672.5 1298.0 650.6 1298.2 634.1 1298.4 662.8 1298.6 655.9 1298.8 650.6 1299.0 639.4 1299.2 636.6 1299.4 639.4 1299.5 689.0 1299.7 672.5 1299.9 639.4 1300.1 642.6 1300.3 642.6 1300.5 672.5 1300.7 662.8 1300.9 662.8 1301.1 650.6 1301.3 646.3 1301.5 662.8 1301.7 639.4 1301.8 672.5 1302.0 662.8 1302.2 662.8 1302.4 642.6 1302.6 642.6 1302.8 662.8 1303.0 650.6 1303.2 672.5 1303.4 672.5 1303.6 646.3 1303.8 646.3 1303.9 642.6 1304.1 689.0 1304.3 636.6 1304.5 650.6 1304.7 662.8 1304.9 650.6 1305.1 689.0 1305.3 689.0 1305.5 662.8 1305.7 672.5 1305.9 672.5 1306.1 698.3 1306.2 672.5 1306.4 672.5 1306.6 698.3 1306.8 672.5 1307.0 689.0 1307.2 689.0 1307.4 689.0 1307.6 662.8 1307.8 689.0 1308.0 689.0 1308.2 689.0 1308.3 689.0 1308.5 672.5 1308.7 689.0 1308.9 689.0 1309.1 698.3 1309.3 698.3 1309.5 689.0 1309.7 698.3 1309.9 698.3 1310.1 689.0 1310.3 689.0 1310.5 698.3 1310.6 672.5 1310.8 689.0 1311.0 672.5 1311.2 689.0 1311.4 672.5 1311.6 689.0 1311.8 689.0 1312.0 689.0 1312.2 689.0 1312.4 698.3 1312.6 698.3 1312.7 662.8 1312.9 698.3 1313.1 689.0 1313.3 698.3 1313.5 672.5 1313.7 689.0 1313.9 689.0 1314.1 689.0 1314.3 689.0 1314.5 689.0 1314.7 689.0 1314.8 698.3 1315.0 689.0 1315.2 672.5 1315.4 672.5 1315.6 655.9 1315.8 689.0 1316.0 689.0 1316.2 689.0 1316.4 672.5 1316.6 672.5 1316.8 689.0 1317.0 698.3 1317.1 698.3 1317.3 689.0 1317.5 689.0 1317.7 698.3 1317.9 662.8 1318.1 655.9 1318.3 662.8 1318.5 689.0 1318.7 698.3 1318.9 698.3 1319.1 689.0 1319.2 689.0 1319.4 672.5 1319.6 698.3 1319.8 672.5 1320.0 655.9 1320.2 689.0 1320.4 698.3 1320.6 662.8 1320.8 689.0 1321.0 689.0 1321.2 672.5 1321.4 689.0 1321.5 689.0 1321.7 689.0 1321.9 662.8 1322.1 698.3 1322.3 698.3 1322.5 672.5 1322.7 698.3 1322.9 698.3 1323.1 689.0 1323.3 662.8 1323.5 662.8 1323.6 672.5 1323.8 689.0 1324.0 672.5 1324.2 689.0 1324.4 698.3 1324.6 689.0 1324.8 698.3 1325.0 672.5 1325.2 698.3 1325.4 689.0 1325.6 698.3 1325.8 672.5 1325.9 698.3 1326.1 672.5 1326.3 689.0 1326.5 689.0 1326.7 689.0 1326.9 650.6 1327.1 698.3 1327.3 662.8 1327.5 662.8 1327.7 672.5 1327.9 698.3 1328.0 689.0 1328.2 672.5 1328.4 698.3 1328.6 689.0 1328.8 672.5 1329.0 672.5 1329.2 698.3 1329.4 698.3 1329.6 689.0 1329.8 698.3 1330.0 689.0 1330.1 698.3 1330.3 698.3 1330.5 689.0 1330.7 689.0 1330.9 698.3 1331.1 662.8 1331.3 689.0 1331.5 698.3 1331.7 698.3 1331.9 689.0 1332.1 672.5 1332.3 698.3 1332.4 689.0 1332.6 689.0 1332.8 689.0 1333.0 689.0 1333.2 672.5 1333.4 698.3 1333.6 672.5 1333.8 662.8 1334.0 689.0 1334.2 698.3 1334.4 698.3 1334.5 672.5 1334.7 698.3 1334.9 698.3 1335.1 698.3 1335.3 698.3 1335.5 698.3 1335.7 672.5 1335.9 672.5 1336.1 672.5 1336.3 672.5 1336.5 698.3 1336.7 689.0 1336.8 698.3 1337.0 698.3 1337.2 689.0 1337.4 689.0 1337.6 672.5 1337.8 698.3 1338.0 698.3 1338.2 698.3 1338.4 689.0 1338.6 689.0 1338.8 689.0 1338.9 698.3 1339.1 689.0 1339.3 698.3 1339.5 689.0 1339.7 689.0 1339.9 672.5 1340.1 698.3 1340.3 698.3 1340.5 698.3 1340.7 672.5 1340.9 689.0 1341.0 698.3 1341.2 672.5 1341.4 689.0 1341.6 689.0 1341.8 672.5 1342.0 698.3 1342.2 672.5 1342.4 672.5 1342.6 689.0 1342.8 672.5 1343.0 672.5 1343.2 689.0 1343.3 689.0 1343.5 662.8 1343.7 698.3 1343.9 689.0 1344.1 689.0 1344.3 689.0 1344.5 655.9 1344.7 662.8 1344.9 698.3 1345.1 689.0 1345.3 662.8 1345.4 672.5 1345.6 662.8 1345.8 672.5 1346.0 672.5 1346.2 698.3 1346.4 689.0 1346.6 689.0 1346.8 672.5 1347.0 672.5 1347.2 698.3 1347.4 689.0 1347.6 672.5 1347.7 689.0 1347.9 689.0 1348.1 672.5 1348.3 689.0 1348.5 662.8 1348.7 689.0 1348.9 698.3 1349.1 655.9 1349.3 698.3 1349.5 662.8 1349.7 689.0 1349.8 689.0 1350.0 689.0 1350.2 662.8 1350.4 689.0 1350.6 672.5 1350.8 689.0 1351.0 689.0 1351.2 698.3 1351.4 698.3 1351.6 689.0 1351.8 698.3 1352.0 672.5 1352.1 650.6 1352.3 698.3 1352.5 672.5 1352.7 689.0 1352.9 689.0 1353.1 672.5 1353.3 689.0 1353.5 689.0 1353.7 662.8 1353.9 698.3 1354.1 698.3 1354.2 689.0 1354.4 698.3 1354.6 689.0 1354.8 689.0 1355.0 672.5 1355.2 698.3 1355.4 698.3 1355.6 672.5 1355.8 689.0 1356.0 698.3 1356.2 698.3 1356.3 698.3 1356.5 689.0 1356.7 698.3 1356.9 672.5 1357.1 689.0 1357.3 698.3 1357.5 698.3 1357.7 672.5 1357.9 698.3 1358.1 698.3 1358.3 689.0 1358.5 698.3 1358.6 698.3 1358.8 689.0 1359.0 698.3 1359.2 698.3 1359.4 672.5 1359.6 698.3 1359.8 698.3 1360.0 698.3 1360.2 689.0 1360.4 689.0 1360.6 689.0 1360.7 689.0 1360.9 689.0 1361.1 698.3 1361.3 655.9 1361.5 689.0 1361.7 698.3 1361.9 698.3 1362.1 689.0 1362.3 698.3 1362.5 655.9 1362.7 689.0 1362.9 698.3 1363.0 698.3 1363.2 698.3 1363.4 672.5 1363.6 672.5 1363.8 698.3 1364.0 689.0 1364.2 689.0 1364.4 698.3 1364.6 698.3 1364.8 689.0 1365.0 672.5 1365.1 689.0 1365.3 698.3 1365.5 672.5 1365.7 698.3 1365.9 698.3 1366.1 672.5 1366.3 689.0 1366.5 698.3 1366.7 698.3 1366.9 689.0 1367.1 698.3 1367.3 689.0 1367.4 698.3 1367.6 698.3 1367.8 689.0 1368.0 689.0 1368.2 698.3 1368.4 672.5 1368.6 698.3 1368.8 689.0 1369.0 689.0 1369.2 698.3 1369.4 698.3 1369.5 698.3 1369.7 689.0 1369.9 689.0 1370.1 655.9 1370.3 689.0 1370.5 689.0 1370.7 689.0 1370.9 662.8 1371.1 672.5 1371.3 689.0 1371.5 689.0 1371.7 689.0 1371.8 689.0 1372.0 662.8 1372.2 689.0 1372.4 698.3 1372.6 698.3 1372.8 698.3 1373.0 672.5 1373.2 698.3 1373.4 698.3 1373.6 698.3 1373.8 689.0 1373.9 689.0 1374.1 689.0 1374.3 689.0 1374.5 698.3 1374.7 672.5 1374.9 689.0 1375.1 662.8 1375.3 672.5 1375.5 672.5 1375.7 698.3 1375.9 655.9 1376.0 689.0 1376.2 689.0 1376.4 672.5 1376.6 662.8 1376.8 672.5 1377.0 698.3 1377.2 698.3 1377.4 662.8 1377.6 689.0 1377.8 672.5 1378.0 672.5 1378.2 689.0 1378.3 698.3 1378.5 689.0 1378.7 698.3 1378.9 689.0 1379.1 698.3 1379.3 698.3 1379.5 689.0 1379.7 689.0 1379.9 698.3 1380.1 698.3 1380.3 698.3 1380.4 650.6 1380.6 698.3 1380.8 698.3 1381.0 672.5 1381.2 698.3 1381.4 689.0 1381.6 672.5 1381.8 698.3 1382.0 689.0 1382.2 689.0 1382.4 689.0 1382.6 672.5 1382.7 698.3 1382.9 689.0 1383.1 698.3 1383.3 662.8 1383.5 698.3 1383.7 689.0 1383.9 672.5 1384.1 672.5 1384.3 689.0 1384.5 698.3 1384.7 689.0 1384.8 689.0 1385.0 698.3 1385.2 689.0 1385.4 689.0 1385.6 672.5 1385.8 672.5 1386.0 698.3 1386.2 689.0 1386.4 698.3 1386.6 662.8 1386.8 698.3 1386.9 672.5 1387.1 698.3 1387.3 698.3 1387.5 698.3 1387.7 698.3 1387.9 698.3 1388.1 689.0 1388.3 662.8 1388.5 689.0 1388.7 698.3 1388.9 672.5 1389.1 689.0 1389.2 698.3 1389.4 662.8 1389.6 698.3 1389.8 698.3 1390.0 698.3 1390.2 689.0 1390.4 672.5 1390.6 662.8 1390.8 689.0 1391.0 689.0 1391.2 698.3 1391.3 698.3 1391.5 698.3 1391.7 698.3 1391.9 698.3 1392.1 698.3 1392.3 698.3 1392.5 698.3 1392.7 698.3 1392.9 689.0 1393.1 689.0 1393.3 689.0 1393.5 698.3 1393.6 689.0 1393.8 662.8 1394.0 689.0 1394.2 698.3 1394.4 698.3 1394.6 698.3 1394.8 689.0 1395.0 698.3 1395.2 689.0 1395.4 698.3 1395.6 698.3 1395.7 698.3 1395.9 698.3 1396.1 698.3 1396.3 698.3 1396.5 698.3 1396.7 698.3 1396.9 698.3 1397.1 698.3 1397.3 698.3 1397.5 698.3 1397.7 689.0 1397.9 672.5 1398.0 698.3 1398.2 698.3 1398.4 698.3 1398.6 698.3 1398.8 698.3 1399.0 689.0 1399.2 698.3 1399.4 698.3 1399.6 698.3 1399.8 698.3 1400.0 698.3 1400.1 698.3 1400.3 698.3 1400.5 689.0 1400.7 698.3 1400.9 698.3 1401.1 698.3 1401.3 698.3 1401.5 689.0 1401.7 698.3 1401.9 698.3 1402.1 698.3 1402.2 698.3 1402.4 689.0 1402.6 698.3 1402.8 698.3 1403.0 698.3 1403.2 698.3 1403.4 672.5 1403.6 698.3 1403.8 698.3 1404.0 689.0 1404.2 698.3 1404.4 689.0 1404.5 689.0 1404.7 698.3 1404.9 689.0 1405.1 689.0 1405.3 698.3 1405.5 698.3 1405.7 698.3 1405.9 698.3 1406.1 698.3 1406.3 698.3 1406.5 698.3 1406.6 698.3 1406.8 698.3 1407.0 698.3 1407.2 689.0 1407.4 698.3 1407.6 698.3 1407.8 698.3 1408.0 698.3 1408.2 698.3 1408.4 698.3 1408.6 698.3 1408.8 689.0 1408.9 698.3 1409.1 698.3 1409.3 689.0 1409.5 698.3 1409.7 698.3 1409.9 698.3 1410.1 698.3 1410.3 689.0 1410.5 698.3 1410.7 698.3 1410.9 698.3 1411.0 698.3 1411.2 698.3 1411.4 698.3 1411.6 689.0 1411.8 698.3 1412.0 698.3 1412.2 698.3 1412.4 689.0 1412.6 689.0 1412.8 698.3 1413.0 698.3 1413.2 698.3 1413.3 698.3 1413.5 698.3 1413.7 698.3 1413.9 698.3 1414.1 698.3 1414.3 698.3 1414.5 698.3 1414.7 698.3 1414.9 698.3 1415.1 689.0 1415.3 689.0 1415.4 698.3 1415.6 698.3 1415.8 698.3 1416.0 698.3 1416.2 698.3 1416.4 689.0 1416.6 689.0 1416.8 689.0 1417.0 698.3 1417.2 698.3 1417.4 689.0 1417.5 698.3 1417.7 698.3 1417.9 698.3 1418.1 689.0 1418.3 689.0 1418.5 698.3 1418.7 698.3 1418.9 698.3 1419.1 698.3 1419.3 698.3 1419.5 698.3 1419.7 698.3 1419.8 698.3 1420.0 689.0 1420.2 689.0 1420.4 689.0 1420.6 698.3 1420.8 689.0 1421.0 698.3 1421.2 698.3 1421.4 698.3 1421.6 698.3 1421.8 698.3 1421.9 698.3 1422.1 698.3 1422.3 689.0 1422.5 698.3 1422.7 698.3 1422.9 698.3 1423.1 689.0 1423.3 689.0 1423.5 698.3 1423.7 698.3 1423.9 698.3 1424.1 689.0 1424.2 672.5 1424.4 689.0 1424.6 698.3 1424.8 698.3 1425.0 698.3 1425.2 698.3 1425.4 698.3 1425.6 698.3 1425.8 672.5 1426.0 698.3 1426.2 698.3 1426.3 698.3 1426.5 698.3 1426.7 698.3 1426.9 698.3 1427.1 698.3 1427.3 698.3 1427.5 689.0 1427.7 689.0 1427.9 698.3 1428.1 698.3 1428.3 698.3 1428.5 689.0 1428.6 698.3 1428.8 698.3 1429.0 698.3 1429.2 698.3 1429.4 689.0 1429.6 689.0 1429.8 698.3 1430.0 698.3 1430.2 698.3 1430.4 689.0 1430.6 698.3 1430.7 698.3 1430.9 698.3 1431.1 689.0 1431.3 698.3 1431.5 698.3 1431.7 698.3 1431.9 689.0 1432.1 698.3 1432.3 698.3 1432.5 689.0 1432.7 698.3 1432.8 698.3 1433.0 698.3 1433.2 689.0 1433.4 698.3 1433.6 698.3 1433.8 698.3 1434.0 698.3 1434.2 698.3 1434.4 698.3 1434.6 689.0 1434.8 698.3 1435.0 698.3 1435.1 698.3 1435.3 698.3 1435.5 698.3 1435.7 689.0 1435.9 672.5 1436.1 698.3 1436.3 698.3 1436.5 698.3 1436.7 698.3 1436.9 698.3 1437.1 698.3 1437.2 698.3 1437.4 698.3 1437.6 698.3 1437.8 698.3 1438.0 698.3 1438.2 698.3 1438.4 698.3 1438.6 698.3 1438.8 698.3 1439.0 689.0 1439.2 698.3 1439.4 698.3 1439.5 698.3 1439.7 698.3 1439.9 698.3 1440.1 689.0 1440.3 698.3 1440.5 698.3 1440.7 698.3 1440.9 662.8 1441.1 698.3 1441.3 698.3 1441.5 689.0 1441.6 689.0 1441.8 698.3 1442.0 698.3 1442.2 698.3 1442.4 689.0 1442.6 698.3 1442.8 698.3 1443.0 689.0 1443.2 698.3 1443.4 698.3 1443.6 698.3 1443.8 698.3 1443.9 698.3 1444.1 698.3 1444.3 689.0 1444.5 698.3 1444.7 698.3 1444.9 698.3 1445.1 689.0 1445.3 698.3 1445.5 689.0 1445.7 689.0 1445.9 698.3 1446.0 698.3 1446.2 698.3 1446.4 689.0 1446.6 689.0 1446.8 698.3 1447.0 698.3 1447.2 698.3 1447.4 698.3 1447.6 698.3 1447.8 698.3 1448.0 689.0 1448.2 689.0 1448.3 698.3 1448.5 698.3 1448.7 698.3 1448.9 698.3 1449.1 698.3 1449.3 672.5 1449.5 698.3 1449.7 698.3 1449.9 698.3 1450.1 698.3 1450.3 698.3 1450.4 698.3 1450.6 698.3 1450.8 698.3 1451.0 698.3 1451.2 698.3 1451.4 698.3 1451.6 689.0 1451.8 689.0 1452.0 698.3 1452.2 689.0 1452.4 698.3 1452.5 698.3 1452.7 698.3 1452.9 698.3 1453.1 698.3 1453.3 689.0 1453.5 689.0 1453.7 698.3 1453.9 698.3 1454.1 698.3 1454.3 689.0 1454.5 698.3 1454.7 698.3 1454.8 698.3 1455.0 698.3 1455.2 689.0 1455.4 689.0 1455.6 698.3 1455.8 698.3 1456.0 698.3 1456.2 698.3 1456.4 689.0 1456.6 698.3 1456.8 698.3 1456.9 698.3 1457.1 698.3 1457.3 698.3 1457.5 689.0 1457.7 689.0 1457.9 698.3 1458.1 698.3 1458.3 698.3 1458.5 698.3 1458.7 689.0 1458.9 698.3 1459.1 698.3 1459.2 698.3 1459.4 698.3 1459.6 698.3 1459.8 689.0 1460.0 698.3 1460.2 698.3 1460.4 698.3 1460.6 698.3 1460.8 689.0 1461.0 698.3 1461.2 689.0 1461.3 698.3 1461.5 698.3 1461.7 698.3 1461.9 698.3 1462.1 689.0 1462.3 689.0 1462.5 698.3 1462.7 698.3 1462.9 672.5 1463.1 689.0 1463.3 689.0 1463.4 698.3 1463.6 698.3 1463.8 698.3 1464.0 698.3 1464.2 672.5 1464.4 698.3 1464.6 698.3 1464.8 698.3 1465.0 698.3 1465.2 698.3 1465.4 698.3 1465.6 698.3 1465.7 689.0 1465.9 698.3 1466.1 698.3 1466.3 698.3 1466.5 698.3 1466.7 698.3 1466.9 698.3 1467.1 698.3 1467.3 698.3 1467.5 689.0 1467.7 689.0 1467.8 698.3 1468.0 689.0 1468.2 698.3 1468.4 698.3 1468.6 689.0 1468.8 689.0 1469.0 698.3 1469.2 689.0 1469.4 698.3 1469.6 698.3 1469.8 698.3 1470.0 689.0 1470.1 689.0 1470.3 698.3 1470.5 698.3 1470.7 698.3 1470.9 689.0 1471.1 698.3 1471.3 698.3 1471.5 698.3 1471.7 698.3 1471.9 689.0 1472.1 689.0 1472.2 698.3 1472.4 698.3 1472.6 698.3 1472.8 698.3 1473.0 698.3 1473.2 698.3 1473.4 698.3 1473.6 698.3 1473.8 698.3 1474.0 672.5 1474.2 698.3 1474.4 698.3 1474.5 698.3 1474.7 689.0 1474.9 672.5 1475.1 698.3 1475.3 698.3 1475.5 698.3 1475.7 698.3 1475.9 698.3 1476.1 698.3 1476.3 689.0 1476.5 689.0 1476.6 698.3 1476.8 698.3 1477.0 698.3 1477.2 689.0 1477.4 698.3 1477.6 689.0 1477.8 698.3 1478.0 698.3 1478.2 698.3 1478.4 689.0 1478.6 698.3 1478.8 698.3 1478.9 698.3 1479.1 698.3 1479.3 689.0 1479.5 689.0 1479.7 698.3 1479.9 698.3 1480.1 698.3 1480.3 698.3 1480.5 698.3 1480.7 698.3 1480.9 698.3 1481.0 698.3 1481.2 689.0 1481.4 698.3 1481.6 698.3 1481.8 698.3 1482.0 689.0 1482.2 689.0 1482.4 698.3 1482.6 698.3 1482.8 689.0 1483.0 698.3 1483.1 698.3 1483.3 698.3 1483.5 698.3 1483.7 689.0 1483.9 698.3 1484.1 698.3 1484.3 698.3 1484.5 698.3 1484.7 698.3 1484.9 698.3 1485.1 698.3 1485.3 698.3 1485.4 698.3 1485.6 698.3 1485.8 698.3 1486.0 698.3 1486.2 698.3 1486.4 698.3 1486.6 698.3 1486.8 698.3 1487.0 698.3 1487.2 698.3 1487.4 689.0 1487.5 698.3 1487.7 698.3 1487.9 698.3 1488.1 689.0 1488.3 698.3 1488.5 689.0 1488.7 698.3 1488.9 698.3 1489.1 698.3 1489.3 698.3 1489.5 698.3 1489.7 662.8 1489.8 698.3 1490.0 689.0 1490.2 698.3 1490.4 698.3 1490.6 698.3 1490.8 698.3 1491.0 698.3 1491.2 698.3 1491.4 698.3 1491.6 698.3 1491.8 698.3 1491.9 698.3 1492.1 698.3 1492.3 689.0 1492.5 698.3 1492.7 689.0 1492.9 698.3 1493.1 698.3 1493.3 689.0 1493.5 698.3 1493.7 698.3 1493.9 698.3 1494.0 698.3 1494.2 698.3 1494.4 689.0 1494.6 689.0 1494.8 689.0 1495.0 698.3 1495.2 698.3 1495.4 698.3 1495.6 698.3 1495.8 698.3 1496.0 698.3 1496.2 698.3 1496.3 662.8 1496.5 689.0 1496.7 698.3 1496.9 689.0 1497.1 698.3 1497.3 689.0 1497.5 698.3 1497.7 698.3 1497.9 698.3 1498.1 698.3 1498.3 698.3 1498.4 698.3 1498.6 698.3 1498.8 698.3 1499.0 689.0 1499.2 698.3 1499.4 698.3 1499.6 698.3 1499.8 698.3 1500.0 689.0 1500.2 689.0 1500.4 698.3 1500.6 689.0 1500.7 698.3 1500.9 698.3 1501.1 689.0 1501.3 698.3 1501.5 689.0 1501.7 698.3 1501.9 698.3 1502.1 698.3 1502.3 698.3 1502.5 698.3 1502.7 672.5 1502.8 698.3 1503.0 698.3 1503.2 698.3 1503.4 698.3 1503.6 689.0 1503.8 672.5 1504.0 698.3 1504.2 698.3 1504.4 698.3 1504.6 689.0 1504.8 698.3 1505.0 698.3 1505.1 698.3 1505.3 689.0 1505.5 698.3 1505.7 698.3 1505.9 698.3 1506.1 698.3 1506.3 698.3 1506.5 698.3 1506.7 689.0 1506.9 698.3 1507.1 698.3 1507.2 698.3 1507.4 698.3 1507.6 689.0 1507.8 698.3 1508.0 689.0 1508.2 698.3 1508.4 698.3 1508.6 698.3 1508.8 698.3 1509.0 698.3 1509.2 698.3 1509.3 689.0 1509.5 689.0 1509.7 689.0 1509.9 698.3 1510.1 698.3 1510.3 698.3 1510.5 689.0 1510.7 672.5 1510.9 698.3 1511.1 689.0 1511.3 698.3 1511.5 689.0 1511.6 698.3 1511.8 698.3 1512.0 698.3 1512.2 698.3 1512.4 698.3 1512.6 698.3 1512.8 689.0 1513.0 698.3 1513.2 698.3 1513.4 698.3 1513.6 698.3 1513.7 689.0 1513.9 689.0 1514.1 698.3 1514.3 698.3 1514.5 689.0 1514.7 672.5 1514.9 698.3 1515.1 698.3 1515.3 698.3 1515.5 698.3 1515.7 689.0 1515.9 698.3 1516.0 689.0 1516.2 698.3 1516.4 698.3 1516.6 698.3 1516.8 698.3 1517.0 698.3 1517.2 698.3 1517.4 698.3 1517.6 689.0 1517.8 698.3 1518.0 698.3 1518.1 698.3 1518.3 689.0 1518.5 698.3 1518.7 698.3 1518.9 698.3 1519.1 689.0 1519.3 698.3 1519.5 689.0 1519.7 698.3 1519.9 689.0 1520.1 689.0 1520.3 698.3 1520.4 698.3 1520.6 698.3 1520.8 698.3 1521.0 689.0 1521.2 698.3 1521.4 698.3 1521.6 698.3 1521.8 689.0 1522.0 698.3 1522.2 698.3 1522.4 689.0 1522.5 698.3 1522.7 689.0 1522.9 689.0 1523.1 698.3 1523.3 698.3 1523.5 698.3 1523.7 698.3 1523.9 698.3 1524.1 698.3 1524.3 698.3 1524.5 698.3 1524.7 698.3 1524.8 698.3 1525.0 698.3 1525.2 698.3 1525.4 698.3 1525.6 698.3 1525.8 698.3 1526.0 689.0 1526.2 698.3 1526.4 698.3 1526.6 698.3 1526.8 698.3 1526.9 698.3 1527.1 689.0 1527.3 698.3 1527.5 698.3 1527.7 698.3 1527.9 698.3 1528.1 698.3 1528.3 698.3 1528.5 698.3 1528.7 689.0 1528.9 698.3 1529.0 672.5 1529.2 698.3 1529.4 689.0 1529.6 698.3 1529.8 698.3 1530.0 698.3 1530.2 698.3 1530.4 698.3 1530.6 698.3 1530.8 698.3 1531.0 698.3 1531.2 698.3 1531.3 689.0 1531.5 698.3 1531.7 698.3 1531.9 672.5 1532.1 698.3 1532.3 698.3 1532.5 698.3 1532.7 698.3 1532.9 698.3 1533.1 698.3 1533.3 698.3 1533.4 698.3 1533.6 698.3 1533.8 672.5 1534.0 689.0 1534.2 698.3 1534.4 698.3 1534.6 698.3 1534.8 698.3 1535.0 689.0 1535.2 698.3 1535.4 698.3 1535.6 672.5 1535.7 698.3 1535.9 698.3 1536.1 698.3 1536.3 698.3 1536.5 698.3 1536.7 698.3 1536.9 698.3 1537.1 698.3 1537.3 689.0 1537.5 698.3 1537.7 689.0 1537.8 689.0 1538.0 698.3 1538.2 698.3 1538.4 689.0 1538.6 689.0 1538.8 698.3 1539.0 698.3 1539.2 698.3 1539.4 698.3 1539.6 698.3 1539.8 689.0 1540.0 698.3 1540.1 698.3 1540.3 698.3 1540.5 698.3 1540.7 655.9 1540.9 698.3 1541.1 698.3 1541.3 698.3 1541.5 698.3 1541.7 698.3 1541.9 698.3 1542.1 698.3 1542.2 698.3 1542.4 698.3 1542.6 698.3 1542.8 698.3 1543.0 698.3 1543.2 698.3 1543.4 698.3 1543.6 698.3 1543.8 698.3 1544.0 698.3 1544.2 698.3 1544.3 689.0 1544.5 698.3 1544.7 698.3 1544.9 698.3 1545.1 689.0 1545.3 689.0 1545.5 698.3 1545.7 698.3 1545.9 689.0 1546.1 698.3 1546.3 698.3 1546.5 689.0 1546.6 698.3 1546.8 698.3 1547.0 698.3 1547.2 698.3 1547.4 698.3 1547.6 698.3 1547.8 689.0 1548.0 698.3 1548.2 689.0 1548.4 698.3 1548.6 672.5 1548.7 698.3 1548.9 698.3 1549.1 698.3 1549.3 698.3 1549.5 689.0 1549.7 698.3 1549.9 698.3 1550.1 698.3 1550.3 698.3 1550.5 698.3 1550.7 698.3 1550.9 689.0 1551.0 698.3 1551.2 698.3 1551.4 689.0 1551.6 698.3 1551.8 698.3 1552.0 698.3 1552.2 698.3 1552.4 689.0 1552.6 698.3 1552.8 698.3 1553.0 698.3 1553.1 689.0 1553.3 698.3 1553.5 698.3 1553.7 698.3 1553.9 698.3 1554.1 698.3 1554.3 698.3 1554.5 689.0 1554.7 689.0 1554.9 698.3 1555.1 698.3 1555.2 689.0 1555.4 698.3 1555.6 698.3 1555.8 689.0 1556.0 698.3 1556.2 698.3 1556.4 689.0 1556.6 698.3 1556.8 698.3 1557.0 698.3 1557.2 698.3 1557.4 689.0 1557.5 698.3 1557.7 698.3 1557.9 672.5 1558.1 689.0 1558.3 698.3 1558.5 689.0 1558.7 698.3 1558.9 698.3 1559.1 689.0 1559.3 689.0 1559.5 698.3 1559.6 698.3 1559.8 698.3 1560.0 698.3 1560.2 698.3 1560.4 698.3 1560.6 698.3 1560.8 698.3 1561.0 672.5 1561.2 698.3 1561.4 698.3 1561.6 698.3 1561.8 698.3 1561.9 698.3 1562.1 672.5 1562.3 698.3 1562.5 698.3 1562.7 698.3 1562.9 698.3 1563.1 689.0 1563.3 698.3 1563.5 689.0 1563.7 698.3 1563.9 689.0 1564.0 689.0 1564.2 698.3 1564.4 689.0 1564.6 698.3 1564.8 698.3 1565.0 698.3 1565.2 698.3 1565.4 689.0 1565.6 698.3 1565.8 698.3 1566.0 698.3 1566.2 698.3 1566.3 689.0 1566.5 689.0 1566.7 698.3 1566.9 698.3 1567.1 698.3 1567.3 698.3 1567.5 689.0 1567.7 689.0 1567.9 698.3 1568.1 698.3 1568.3 689.0 1568.4 698.3 1568.6 698.3 1568.8 698.3 1569.0 698.3 1569.2 698.3 1569.4 698.3 1569.6 698.3 1569.8 698.3 1570.0 689.0 1570.2 698.3 1570.4 698.3 1570.5 698.3 1570.7 698.3 1570.9 689.0 1571.1 698.3 1571.3 698.3 1571.5 698.3 1571.7 698.3 1571.9 698.3 1572.1 698.3 1572.3 698.3 1572.5 672.5 1572.7 689.0 1572.8 698.3 1573.0 698.3 1573.2 689.0 1573.4 698.3 1573.6 698.3 1573.8 689.0 1574.0 689.0 1574.2 698.3 1574.4 698.3 1574.6 698.3 1574.8 698.3 1574.9 698.3 1575.1 689.0 1575.3 698.3 1575.5 698.3 1575.7 698.3 1575.9 689.0 1576.1 689.0 1576.3 698.3 1576.5 698.3 1576.7 698.3 1576.9 698.3 1577.1 689.0 1577.2 689.0 1577.4 689.0 1577.6 698.3 1577.8 698.3 1578.0 689.0 1578.2 698.3 1578.4 689.0 1578.6 698.3 1578.8 698.3 1579.0 689.0 1579.2 689.0 1579.3 689.0 1579.5 698.3 1579.7 698.3 1579.9 689.0 1580.1 689.0 1580.3 698.3 1580.5 698.3 1580.7 698.3 1580.9 698.3 1581.1 698.3 1581.3 698.3 1581.5 689.0 1581.6 672.5 1581.8 689.0 1582.0 698.3 1582.2 698.3 1582.4 689.0 1582.6 698.3 1582.8 698.3 1583.0 698.3 1583.2 672.5 1583.4 698.3 1583.6 698.3 1583.7 698.3 1583.9 698.3 1584.1 689.0 1584.3 672.5 1584.5 698.3 1584.7 698.3 1584.9 698.3 1585.1 672.5 1585.3 698.3 1585.5 689.0 1585.7 698.3 1585.8 698.3 1586.0 698.3 1586.2 689.0 1586.4 689.0 1586.6 698.3 1586.8 698.3 1587.0 689.0 1587.2 698.3 1587.4 698.3 1587.6 698.3 1587.8 698.3 1588.0 698.3 1588.1 698.3 1588.3 698.3 1588.5 689.0 1588.7 698.3 1588.9 698.3 1589.1 698.3 1589.3 689.0 1589.5 689.0 1589.7 698.3 1589.9 689.0 1590.1 698.3 1590.2 689.0 1590.4 698.3 1590.6 698.3 1590.8 698.3 1591.0 698.3 1591.2 698.3 1591.4 698.3 1591.6 698.3 1591.8 689.0 1592.0 698.3 1592.2 698.3 1592.4 689.0 1592.5 689.0 1592.7 698.3 1592.9 689.0 1593.1 698.3 1593.3 689.0 1593.5 672.5 1593.7 689.0 1593.9 698.3 1594.1 689.0 1594.3 689.0 1594.5 698.3 1594.6 698.3 1594.8 698.3 1595.0 698.3 1595.2 689.0 1595.4 698.3 1595.6 698.3 1595.8 698.3 1596.0 698.3 1596.2 698.3 1596.4 698.3 1596.6 689.0 1596.8 698.3 1596.9 672.5 1597.1 698.3 1597.3 689.0 1597.5 698.3 1597.7 698.3 1597.9 698.3 1598.1 698.3 1598.3 698.3 1598.5 698.3 1598.7 698.3 1598.9 698.3 1599.0 689.0 1599.2 698.3 1599.4 698.3 1599.6 698.3 1599.8 689.0 1600.0 698.3 1600.2 689.0 1600.4 698.3 1600.6 698.3 1600.8 698.3 1601.0 698.3 1601.2 698.3 1601.3 698.3 1601.5 689.0 1601.7 672.5 1601.9 698.3 1602.1 689.0 1602.3 698.3 1602.5 698.3 1602.7 689.0 1602.9 698.3 1603.1 698.3 1603.3 698.3 1603.4 698.3 1603.6 698.3 1603.8 698.3 1604.0 698.3 1604.2 698.3 1604.4 698.3 1604.6 698.3 1604.8 698.3 1605.0 698.3 1605.2 698.3 1605.4 698.3 1605.5 698.3 1605.7 698.3 1605.9 698.3 1606.1 698.3 1606.3 698.3 1606.5 698.3 1606.7 698.3 1606.9 698.3 1607.1 698.3 1607.3 698.3 1607.5 689.0 1607.7 698.3 1607.8 698.3 1608.0 698.3 1608.2 698.3 1608.4 698.3 1608.6 698.3 1608.8 689.0 1609.0 698.3 1609.2 698.3 1609.4 698.3 1609.6 689.0 1609.8 698.3 1609.9 698.3 1610.1 689.0 1610.3 698.3 1610.5 698.3 1610.7 689.0 1610.9 698.3 1611.1 698.3 1611.3 698.3 1611.5 698.3 1611.7 698.3 1611.9 689.0 1612.1 698.3 1612.2 689.0 1612.4 698.3 1612.6 698.3 1612.8 698.3 1613.0 698.3 1613.2 689.0 1613.4 698.3 1613.6 698.3 1613.8 698.3 1614.0 698.3 1614.2 698.3 1614.3 698.3 1614.5 698.3 1614.7 698.3 1614.9 689.0 1615.1 698.3 1615.3 689.0 1615.5 698.3 1615.7 698.3 1615.9 689.0 1616.1 698.3 1616.3 689.0 1616.5 689.0 1616.6 698.3 1616.8 698.3 1617.0 689.0 1617.2 698.3 1617.4 698.3 1617.6 698.3 1617.8 689.0 1618.0 698.3 1618.2 672.5 1618.4 698.3 1618.6 689.0 1618.7 689.0 1618.9 698.3 1619.1 689.0 1619.3 698.3 1619.5 698.3 1619.7 689.0 1619.9 698.3 1620.1 698.3 1620.3 698.3 1620.5 698.3 1620.7 698.3 1620.8 689.0 1621.0 698.3 1621.2 689.0 1621.4 698.3 1621.6 698.3 1621.8 698.3 1622.0 698.3 1622.2 698.3 1622.4 698.3 1622.6 689.0 1622.8 698.3 1623.0 698.3 1623.1 698.3 1623.3 698.3 1623.5 698.3 1623.7 698.3 1623.9 689.0 1624.1 698.3 1624.3 698.3 1624.5 689.0 1624.7 698.3 1624.9 698.3 1625.1 698.3 1625.2 698.3 1625.4 698.3 1625.6 698.3 1625.8 698.3 1626.0 698.3 1626.2 698.3 1626.4 698.3 1626.6 698.3 1626.8 698.3 1627.0 698.3 1627.2 689.0 1627.4 698.3 1627.5 698.3 1627.7 698.3 1627.9 689.0 1628.1 689.0 1628.3 698.3 1628.5 698.3 1628.7 689.0 1628.9 698.3 1629.1 689.0 1629.3 698.3 1629.5 698.3 1629.6 689.0 1629.8 689.0 1630.0 698.3 1630.2 698.3 1630.4 689.0 1630.6 689.0 1630.8 689.0 1631.0 698.3 1631.2 689.0 1631.4 698.3 1631.6 698.3 1631.8 689.0 1631.9 698.3 1632.1 698.3 1632.3 698.3 1632.5 689.0 1632.7 698.3 1632.9 698.3 1633.1 698.3 1633.3 698.3 1633.5 689.0 1633.7 689.0 1633.9 698.3 1634.0 689.0 1634.2 698.3 1634.4 689.0 1634.6 698.3 1634.8 698.3 1635.0 689.0 1635.2 689.0 1635.4 698.3 1635.6 698.3 1635.8 689.0 1636.0 689.0 1636.1 698.3 1636.3 689.0 1636.5 698.3 1636.7 698.3 1636.9 698.3 1637.1 698.3 1637.3 698.3 1637.5 698.3 1637.7 698.3 1637.9 689.0 1638.1 698.3 1638.3 698.3 1638.4 698.3 1638.6 698.3 1638.8 698.3 1639.0 698.3 1639.2 698.3 1639.4 689.0 1639.6 698.3 1639.8 698.3 1640.0 698.3 1640.2 689.0 1640.4 698.3 1640.5 698.3 1640.7 698.3 1640.9 698.3 1641.1 698.3 1641.3 698.3 1641.5 698.3 1641.7 698.3 1641.9 698.3 1642.1 698.3 1642.3 689.0 1642.5 698.3 1642.7 689.0 1642.8 689.0 1643.0 698.3 1643.2 698.3 1643.4 698.3 1643.6 689.0 1643.8 662.8 1644.0 698.3 1644.2 698.3 1644.4 698.3 1644.6 689.0 1644.8 689.0 1644.9 698.3 1645.1 698.3 1645.3 698.3 1645.5 689.0 1645.7 698.3 1645.9 698.3 1646.1 698.3 1646.3 698.3 1646.5 698.3 1646.7 698.3 1646.9 698.3 1647.0 698.3 1647.2 672.5 1647.4 698.3 1647.6 689.0 1647.8 698.3 1648.0 698.3 1648.2 689.0 1648.4 698.3 1648.6 672.5 1648.8 698.3 1649.0 698.3 1649.2 698.3 1649.3 689.0 1649.5 698.3 1649.7 655.9 1649.9 698.3 1650.1 689.0 1650.3 672.5 1650.5 698.3 1650.7 698.3 1650.9 689.0 1651.1 689.0 1651.3 689.0 1651.4 698.3 1651.6 698.3 1651.8 698.3 1652.0 698.3 1652.2 698.3 1652.4 698.3 1652.6 689.0 1652.8 689.0 1653.0 689.0 1653.2 698.3 1653.4 698.3 1653.6 689.0 1653.7 698.3 1653.9 689.0 1654.1 698.3 1654.3 698.3 1654.5 698.3 1654.7 698.3 1654.9 698.3 1655.1 698.3 1655.3 698.3 1655.5 689.0 1655.7 698.3 1655.8 698.3 1656.0 689.0 1656.2 698.3 1656.4 698.3 1656.6 698.3 1656.8 698.3 1657.0 698.3 1657.2 698.3 1657.4 698.3 1657.6 698.3 1657.8 698.3 1658.0 698.3 1658.1 698.3 1658.3 689.0 1658.5 698.3 1658.7 698.3 1658.9 698.3 1659.1 698.3 1659.3 689.0 1659.5 698.3 1659.7 698.3 1659.9 698.3 1660.1 698.3 1660.2 698.3 1660.4 689.0 1660.6 698.3 1660.8 698.3 1661.0 689.0 1661.2 698.3 1661.4 698.3 1661.6 698.3 1661.8 698.3 1662.0 698.3 1662.2 698.3 1662.3 672.5 1662.5 698.3 1662.7 698.3 1662.9 698.3 1663.1 698.3 1663.3 698.3 1663.5 698.3 1663.7 698.3 1663.9 698.3 1664.1 698.3 1664.3 689.0 1664.5 698.3 1664.6 698.3 1664.8 698.3 1665.0 698.3 1665.2 689.0 1665.4 698.3 1665.6 698.3 1665.8 698.3 1666.0 689.0 1666.2 698.3 1666.4 698.3 1666.6 698.3 1666.7 689.0 1666.9 689.0 1667.1 689.0 1667.3 698.3 1667.5 672.5 1667.7 689.0 1667.9 698.3 1668.1 689.0 1668.3 698.3 1668.5 698.3 1668.7 698.3 1668.9 698.3 1669.0 698.3 1669.2 698.3 1669.4 698.3 1669.6 540.8" fill="none" stroke="#1f77b4" stroke-width="1.5" stroke-linejoin="round" filter="url(#bl2)"/><path d="M979.0 574.1 979.4 573.9 979.8 573.8 980.2 573.5 980.5 573.3 980.9 573.0 981.3 572.8 981.7 572.5 982.1 572.1 982.5 571.8 982.8 571.4 983.2 571.0 983.6 570.7 984.0 570.3 984.4 569.9 984.8 569.4 985.1 568.7 985.5 567.8 985.9 566.8 986.3 565.8 986.7 564.7 987.0 563.5 987.4 562.5 987.8 561.4 988.2 560.5 988.6 559.7 989.0 559.1 989.3 558.8 989.7 558.6 990.1 558.7 990.5 559.0 990.9 559.4 991.3 559.9 991.6 560.6 992.0 561.3 992.4 562.1 992.8 563.0 993.2 563.8 993.5 564.7 993.9 565.5 994.3 566.4 994.7 567.5 995.1 568.7 995.5 570.0 995.8 571.4 996.2 572.9 996.6 574.3 997.0 575.7 997.4 577.0 997.8 578.2 998.1 579.2 998.5 580.1 998.9 580.7 999.3 581.0 999.7 581.3 1000.1 581.6 1000.4 581.9 1000.8 582.2 1001.2 582.4 1001.6 582.7 1002.0 582.9 1002.3 583.2" fill="none" stroke="#a39179" stroke-width="1.9" stroke-opacity="0.95" stroke-linecap="round"/><path d="M1077.5 604.6 1077.9 604.2 1078.3 603.8 1078.7 603.4 1079.0 603.1 1079.4 602.7 1079.8 602.3 1080.2 601.9 1080.6 601.5 1081.0 601.2 1081.3 600.8 1081.7 600.3 1082.1 599.8 1082.5 599.2 1082.9 598.5 1083.2 597.9 1083.6 597.2 1084.0 596.5 1084.4 595.8 1084.8 595.2 1085.2 594.5 1085.5 593.9 1085.9 593.3 1086.3 592.8 1086.7 592.3 1087.1 591.9 1087.5 591.6 1087.8 591.4 1088.2 591.3 1088.6 591.3 1089.0 591.5 1089.4 591.8 1089.7 592.2 1090.1 592.8 1090.5 593.4 1090.9 594.1 1091.3 594.8 1091.7 595.5 1092.0 596.2 1092.4 596.9 1092.8 597.6 1093.2 598.2 1093.6 598.7 1094.0 599.1 1094.3 599.6 1094.7 600.1 1095.1 600.6 1095.5 601.0 1095.9 601.5 1096.2 601.9 1096.6 602.4 1097.0 602.8 1097.4 603.2 1097.8 603.6 1098.2 604.0 1098.5 604.4 1098.9 604.8 1099.3 605.1 1099.7 605.4 1100.1 605.7 1100.5 606.0 1100.8 606.3" fill="none" stroke="#a39179" stroke-width="1.9" stroke-opacity="0.95" stroke-linecap="round"/><path d="M1200.3 623.3 1200.7 622.9 1201.1 622.5 1201.4 622.1 1201.8 621.7 1202.2 621.2 1202.6 620.8 1203.0 620.4 1203.3 620.0 1203.7 619.6 1204.1 619.2 1204.5 618.8 1204.9 618.5 1205.3 618.1 1205.6 617.8 1206.0 617.5 1206.4 617.2 1206.8 616.9 1207.2 616.7 1207.6 616.4 1207.9 616.2 1208.3 616.1 1208.7 615.9 1209.1 615.8 1209.5 615.8 1209.9 615.7 1210.2 615.7 1210.6 615.8 1211.0 615.9 1211.4 616.0 1211.8 616.2 1212.1 616.4 1212.5 616.7 1212.9 617.0 1213.3 617.3 1213.7 617.6 1214.1 618.0 1214.4 618.4 1214.8 618.8 1215.2 619.2 1215.6 619.7 1216.0 620.1 1216.4 620.5 1216.7 621.0 1217.1 621.4 1217.5 621.9 1217.9 622.3 1218.3 622.7 1218.7 623.1 1219.0 623.5 1219.4 623.9 1219.8 624.4 1220.2 624.8 1220.6 625.3 1220.9 625.8 1221.3 626.3 1221.7 626.8 1222.1 627.3 1222.5 627.8 1222.9 628.3 1223.2 628.9 1223.6 629.4" fill="none" stroke="#a39179" stroke-width="1.9" stroke-opacity="0.95" stroke-linecap="round"/><path d="M948.6 47 L953.8 47 L953.8 69.9 L955.7 69.9 L951.2 75.4 L946.7 69.9 L948.6 69.9 Z" fill="#000"/><path d="M998.3 66.7 L1003.5 66.7 L1003.5 89.3 L1005.4 89.3 L1000.9 94.8 L996.4 89.3 L998.3 89.3 Z" fill="#000"/><path d="M1094.9 98 L1100.1 98 L1100.1 120.2 L1102 120.2 L1097.5 125.7 L1093 120.2 L1094.9 120.2 Z" fill="#000"/><path d="M1215.6 115.3 L1220.8 115.3 L1220.8 136.9 L1222.7 136.9 L1218.2 142.4 L1213.7 136.9 L1215.6 136.9 Z" fill="#000"/><path d="M988.6 525.5 L993.8 525.5 L993.8 547.2 L995.7 547.2 L991.2 552.7 L986.7 547.2 L988.6 547.2 Z" fill="#000"/><path d="M1088.2 553.9 L1093.4 553.9 L1093.4 575.8 L1095.3 575.8 L1090.8 581.3 L1086.3 575.8 L1088.2 575.8 Z" fill="#000"/><path d="M1208.5 575 L1213.7 575 L1213.7 596.9 L1215.6 596.9 L1211.1 602.4 L1206.6 596.9 L1208.5 596.9 Z" fill="#000"/><rect x="58.5" y="56" width="645.5" height="195.5" fill="none" stroke="#7a7a7a" stroke-width="2"/><line x1="54.5" y1="56" x2="58.5" y2="56" stroke="#7a7a7a" stroke-width="1.5"/><text transform="translate(51.7,61) scale(0.96,1)" text-anchor="end" class="tk">0.34</text><line x1="54.5" y1="88.6" x2="58.5" y2="88.6" stroke="#7a7a7a" stroke-width="1.5"/><text transform="translate(51.7,93.6) scale(0.96,1)" text-anchor="end" class="tk">0.3</text><line x1="54.5" y1="129.3" x2="58.5" y2="129.3" stroke="#7a7a7a" stroke-width="1.5"/><text transform="translate(51.7,134.3) scale(0.96,1)" text-anchor="end" class="tk">0.25</text><line x1="54.5" y1="170" x2="58.5" y2="170" stroke="#7a7a7a" stroke-width="1.5"/><text transform="translate(51.7,175) scale(0.96,1)" text-anchor="end" class="tk">0.2</text><line x1="54.5" y1="210.7" x2="58.5" y2="210.7" stroke="#7a7a7a" stroke-width="1.5"/><text transform="translate(51.7,215.7) scale(0.96,1)" text-anchor="end" class="tk">0.15</text><line x1="54.5" y1="251.4" x2="58.5" y2="251.4" stroke="#7a7a7a" stroke-width="1.5"/><text transform="translate(51.7,256.4) scale(0.96,1)" text-anchor="end" class="tk">0.1</text><line x1="58.9" y1="251.5" x2="58.9" y2="255.5" stroke="#7a7a7a" stroke-width="1.5"/><text transform="translate(58.9,269.7) scale(0.93,1)" text-anchor="middle" class="tk">51.4601</text><line x1="123.4" y1="251.5" x2="123.4" y2="255.5" stroke="#7a7a7a" stroke-width="1.5"/><text transform="translate(123.4,269.7) scale(0.93,1)" text-anchor="middle" class="tk">51.4602</text><line x1="252.4" y1="251.5" x2="252.4" y2="255.5" stroke="#7a7a7a" stroke-width="1.5"/><text transform="translate(252.4,269.7) scale(0.93,1)" text-anchor="middle" class="tk">51.4604</text><line x1="381.4" y1="251.5" x2="381.4" y2="255.5" stroke="#7a7a7a" stroke-width="1.5"/><text transform="translate(381.4,269.7) scale(0.93,1)" text-anchor="middle" class="tk">51.4606</text><line x1="510.5" y1="251.5" x2="510.5" y2="255.5" stroke="#7a7a7a" stroke-width="1.5"/><text transform="translate(510.5,269.7) scale(0.93,1)" text-anchor="middle" class="tk">51.4608</text><line x1="639.5" y1="251.5" x2="639.5" y2="255.5" stroke="#7a7a7a" stroke-width="1.5"/><text transform="translate(639.5,269.7) scale(0.93,1)" text-anchor="middle" class="tk">51.461</text><line x1="704" y1="251.5" x2="704" y2="255.5" stroke="#7a7a7a" stroke-width="1.5"/><text transform="translate(704,269.7) scale(0.93,1)" text-anchor="middle" class="tk">51.4611</text><text x="381" y="288" text-anchor="middle" class="tk">Latitude</text><text transform="translate(21,154) rotate(-90)" text-anchor="middle" class="tk" style="font-size:15px">Dose rate (µSv/hr)</text><rect x="467.3" y="21.2" width="267.49999999999994" height="29.2" rx="2.5" fill="#fff" stroke="#7a7a7a" stroke-width="2"/><text transform="translate(480.3,39.4) scale(0.955,1)" class="tk">Hamamatsu 3</text><text transform="translate(604.5,39.4) scale(0.955,1)" class="tk">Hamamatsu 10</text><rect x="576" y="25.8" width="22" height="20" fill="#fff" stroke="#7a7a7a" stroke-width="1.5"/><circle cx="587" cy="28.8" r="2" fill="#2f6fad" fill-opacity="0.45" stroke="#2f6fad" stroke-opacity="0.6" stroke-width="0.8"/><circle cx="579" cy="42.8" r="2" fill="#2f6fad" fill-opacity="0.45" stroke="#2f6fad" stroke-opacity="0.6" stroke-width="0.8"/><circle cx="594" cy="42.8" r="2" fill="#2f6fad" fill-opacity="0.45" stroke="#2f6fad" stroke-opacity="0.6" stroke-width="0.8"/><rect x="700.3" y="25.8" width="22" height="20" fill="#fff" stroke="#7a7a7a" stroke-width="1.5"/><circle cx="711.3" cy="28.8" r="2" fill="#f06070" fill-opacity="0.45" stroke="#f06070" stroke-opacity="0.6" stroke-width="0.8"/><circle cx="703.3" cy="42.8" r="2" fill="#f06070" fill-opacity="0.45" stroke="#f06070" stroke-opacity="0.6" stroke-width="0.8"/><circle cx="718.3" cy="42.8" r="2" fill="#f06070" fill-opacity="0.45" stroke="#f06070" stroke-opacity="0.6" stroke-width="0.8"/><text x="1.5" y="34" class="pl">(a)</text><rect x="59.5" y="353.4" width="646.0" height="198.60000000000002" fill="none" stroke="#7a7a7a" stroke-width="2"/><line x1="55.5" y1="353.2" x2="59.5" y2="353.2" stroke="#7a7a7a" stroke-width="1.5"/><text transform="translate(52.7,358.2) scale(0.96,1)" text-anchor="end" class="tk">32</text><line x1="55.5" y1="373" x2="59.5" y2="373" stroke="#7a7a7a" stroke-width="1.5"/><text transform="translate(52.7,378) scale(0.96,1)" text-anchor="end" class="tk">30</text><line x1="55.5" y1="397.8" x2="59.5" y2="397.8" stroke="#7a7a7a" stroke-width="1.5"/><text transform="translate(52.7,402.8) scale(0.96,1)" text-anchor="end" class="tk">27.5</text><line x1="55.5" y1="422.5" x2="59.5" y2="422.5" stroke="#7a7a7a" stroke-width="1.5"/><text transform="translate(52.7,427.5) scale(0.96,1)" text-anchor="end" class="tk">25</text><line x1="55.5" y1="447.2" x2="59.5" y2="447.2" stroke="#7a7a7a" stroke-width="1.5"/><text transform="translate(52.7,452.2) scale(0.96,1)" text-anchor="end" class="tk">22.5</text><line x1="55.5" y1="472" x2="59.5" y2="472" stroke="#7a7a7a" stroke-width="1.5"/><text transform="translate(52.7,477) scale(0.96,1)" text-anchor="end" class="tk">20</text><line x1="55.5" y1="496.8" x2="59.5" y2="496.8" stroke="#7a7a7a" stroke-width="1.5"/><text transform="translate(52.7,501.8) scale(0.96,1)" text-anchor="end" class="tk">17.5</text><line x1="55.5" y1="521.5" x2="59.5" y2="521.5" stroke="#7a7a7a" stroke-width="1.5"/><text transform="translate(52.7,526.5) scale(0.96,1)" text-anchor="end" class="tk">15</text><line x1="55.5" y1="551.2" x2="59.5" y2="551.2" stroke="#7a7a7a" stroke-width="1.5"/><text transform="translate(52.7,556.2) scale(0.96,1)" text-anchor="end" class="tk">12</text><line x1="60" y1="552" x2="60" y2="556" stroke="#7a7a7a" stroke-width="1.5"/><text transform="translate(60,570.3) scale(0.93,1)" text-anchor="middle" class="tk">51.4601</text><line x1="118.6" y1="552" x2="118.6" y2="556" stroke="#7a7a7a" stroke-width="1.5"/><text transform="translate(118.6,570.3) scale(0.93,1)" text-anchor="middle" class="tk">51.4602</text><line x1="235.8" y1="552" x2="235.8" y2="556" stroke="#7a7a7a" stroke-width="1.5"/><text transform="translate(235.8,570.3) scale(0.93,1)" text-anchor="middle" class="tk">51.4604</text><line x1="353" y1="552" x2="353" y2="556" stroke="#7a7a7a" stroke-width="1.5"/><text transform="translate(353,570.3) scale(0.93,1)" text-anchor="middle" class="tk">51.4606</text><line x1="470.2" y1="552" x2="470.2" y2="556" stroke="#7a7a7a" stroke-width="1.5"/><text transform="translate(470.2,570.3) scale(0.93,1)" text-anchor="middle" class="tk">51.4608</text><line x1="587.4" y1="552" x2="587.4" y2="556" stroke="#7a7a7a" stroke-width="1.5"/><text transform="translate(587.4,570.3) scale(0.93,1)" text-anchor="middle" class="tk">51.461</text><line x1="704.6" y1="552" x2="704.6" y2="556" stroke="#7a7a7a" stroke-width="1.5"/><text transform="translate(704.6,570.3) scale(0.93,1)" text-anchor="middle" class="tk">51.4612</text><text x="381" y="588" text-anchor="middle" class="tk">Latitude</text><text transform="translate(20.5,448.4) rotate(-90)" text-anchor="middle" class="tk" style="font-size:13.9px">Temperature (degree celcius)</text><rect x="461.1" y="320.4" width="268.1" height="30.100000000000023" rx="2.5" fill="#fff" stroke="#7a7a7a" stroke-width="2"/><text transform="translate(474.7,339.1) scale(0.955,1)" class="tk">Hamamatsu 3</text><text transform="translate(598.3,339.1) scale(0.955,1)" class="tk">Hamamatsu 10</text><rect x="570" y="325.4" width="22" height="20" fill="#fff" stroke="#7a7a7a" stroke-width="1.5"/><circle cx="581" cy="328.4" r="2" fill="#2f6fad" fill-opacity="0.45" stroke="#2f6fad" stroke-opacity="0.6" stroke-width="0.8"/><circle cx="573" cy="342.4" r="2" fill="#2f6fad" fill-opacity="0.45" stroke="#2f6fad" stroke-opacity="0.6" stroke-width="0.8"/><circle cx="588" cy="342.4" r="2" fill="#2f6fad" fill-opacity="0.45" stroke="#2f6fad" stroke-opacity="0.6" stroke-width="0.8"/><rect x="695.3" y="325.4" width="22" height="20" fill="#fff" stroke="#7a7a7a" stroke-width="1.5"/><circle cx="706.3" cy="328.4" r="2" fill="#f06070" fill-opacity="0.45" stroke="#f06070" stroke-opacity="0.6" stroke-width="0.8"/><circle cx="698.3" cy="342.4" r="2" fill="#f06070" fill-opacity="0.45" stroke="#f06070" stroke-opacity="0.6" stroke-width="0.8"/><circle cx="713.3" cy="342.4" r="2" fill="#f06070" fill-opacity="0.45" stroke="#f06070" stroke-opacity="0.6" stroke-width="0.8"/><text x="1.5" y="329.7" class="pl">(b)</text><rect x="55" y="672.4" width="641" height="197.10000000000002" fill="none" stroke="#7a7a7a" stroke-width="2"/><line x1="51" y1="672.4" x2="55" y2="672.4" stroke="#7a7a7a" stroke-width="1.5"/><text transform="translate(48.2,677.4) scale(0.96,1)" text-anchor="end" class="tk">40</text><line x1="51" y1="697" x2="55" y2="697" stroke="#7a7a7a" stroke-width="1.5"/><text transform="translate(48.2,702) scale(0.96,1)" text-anchor="end" class="tk">35</text><line x1="51" y1="721.7" x2="55" y2="721.7" stroke="#7a7a7a" stroke-width="1.5"/><text transform="translate(48.2,726.7) scale(0.96,1)" text-anchor="end" class="tk">30</text><line x1="51" y1="746.3" x2="55" y2="746.3" stroke="#7a7a7a" stroke-width="1.5"/><text transform="translate(48.2,751.3) scale(0.96,1)" text-anchor="end" class="tk">25</text><line x1="51" y1="771" x2="55" y2="771" stroke="#7a7a7a" stroke-width="1.5"/><text transform="translate(48.2,776) scale(0.96,1)" text-anchor="end" class="tk">20</text><line x1="51" y1="795.6" x2="55" y2="795.6" stroke="#7a7a7a" stroke-width="1.5"/><text transform="translate(48.2,800.6) scale(0.96,1)" text-anchor="end" class="tk">15</text><line x1="51" y1="820.2" x2="55" y2="820.2" stroke="#7a7a7a" stroke-width="1.5"/><text transform="translate(48.2,825.2) scale(0.96,1)" text-anchor="end" class="tk">10</text><line x1="51" y1="844.9" x2="55" y2="844.9" stroke="#7a7a7a" stroke-width="1.5"/><text transform="translate(48.2,849.9) scale(0.96,1)" text-anchor="end" class="tk">5</text><line x1="51" y1="869.5" x2="55" y2="869.5" stroke="#7a7a7a" stroke-width="1.5"/><text transform="translate(48.2,874.5) scale(0.96,1)" text-anchor="end" class="tk">0</text><line x1="56.2" y1="869.5" x2="56.2" y2="873.5" stroke="#7a7a7a" stroke-width="1.5"/><text transform="translate(56.2,888.8) scale(0.95,1)" text-anchor="middle" class="tk">51.4601</text><line x1="114.4" y1="869.5" x2="114.4" y2="873.5" stroke="#7a7a7a" stroke-width="1.5"/><text transform="translate(114.4,888.8) scale(0.95,1)" text-anchor="middle" class="tk">51.4602</text><line x1="230.8" y1="869.5" x2="230.8" y2="873.5" stroke="#7a7a7a" stroke-width="1.5"/><text transform="translate(230.8,888.8) scale(0.95,1)" text-anchor="middle" class="tk">51.4604</text><line x1="347.2" y1="869.5" x2="347.2" y2="873.5" stroke="#7a7a7a" stroke-width="1.5"/><text transform="translate(347.2,888.8) scale(0.95,1)" text-anchor="middle" class="tk">51.4606</text><line x1="463.6" y1="869.5" x2="463.6" y2="873.5" stroke="#7a7a7a" stroke-width="1.5"/><text transform="translate(463.6,888.8) scale(0.95,1)" text-anchor="middle" class="tk">51.4608</text><line x1="580" y1="869.5" x2="580" y2="873.5" stroke="#7a7a7a" stroke-width="1.5"/><text transform="translate(580,888.8) scale(0.95,1)" text-anchor="middle" class="tk">51.461</text><line x1="696.4" y1="869.5" x2="696.4" y2="873.5" stroke="#7a7a7a" stroke-width="1.5"/><text transform="translate(696.4,888.8) scale(0.95,1)" text-anchor="middle" class="tk">51.4612</text><text x="375" y="906" text-anchor="middle" class="tk">Latitude</text><text transform="translate(27,772) rotate(-90)" text-anchor="middle" class="tk" style="font-size:15px">Time&#160;&#160;(Days)</text><rect x="454.9" y="639" width="270.1" height="29.700000000000045" rx="2.5" fill="#fff" stroke="#7a7a7a" stroke-width="2"/><text transform="translate(468,657.5) scale(0.955,1)" class="tk">Hamamatsu 3</text><text transform="translate(593.4,657.5) scale(0.955,1)" class="tk">Hamamatsu 10</text><rect x="565" y="643.9" width="22" height="20" fill="#fff" stroke="#7a7a7a" stroke-width="1.5"/><circle cx="576" cy="646.9" r="2" fill="#2f6fad" fill-opacity="0.45" stroke="#2f6fad" stroke-opacity="0.6" stroke-width="0.8"/><circle cx="568" cy="660.9" r="2" fill="#2f6fad" fill-opacity="0.45" stroke="#2f6fad" stroke-opacity="0.6" stroke-width="0.8"/><circle cx="583" cy="660.9" r="2" fill="#2f6fad" fill-opacity="0.45" stroke="#2f6fad" stroke-opacity="0.6" stroke-width="0.8"/><rect x="690.6" y="643.9" width="22" height="20" fill="#fff" stroke="#7a7a7a" stroke-width="1.5"/><circle cx="701.6" cy="646.9" r="2" fill="#f06070" fill-opacity="0.45" stroke="#f06070" stroke-opacity="0.6" stroke-width="0.8"/><circle cx="693.6" cy="660.9" r="2" fill="#f06070" fill-opacity="0.45" stroke="#f06070" stroke-opacity="0.6" stroke-width="0.8"/><circle cx="708.6" cy="660.9" r="2" fill="#f06070" fill-opacity="0.45" stroke="#f06070" stroke-opacity="0.6" stroke-width="0.8"/><text x="1.5" y="649" class="pl">(c)</text><rect x="846.3" y="36.5" width="875.1000000000001" height="201.5" fill="none" stroke="#a2a2a2" stroke-width="2.2"/><line x1="843.3" y1="230" x2="846.3" y2="230" stroke="#a2a2a2" stroke-width="1"/><text x="839.8" y="233" text-anchor="end" class="st">10<tspan dy="-3" font-size="5">0</tspan></text><line x1="843.3" y1="178.5" x2="846.3" y2="178.5" stroke="#a2a2a2" stroke-width="1"/><text x="839.8" y="181.5" text-anchor="end" class="st">10<tspan dy="-3" font-size="5">1</tspan></text><line x1="843.3" y1="126.9" x2="846.3" y2="126.9" stroke="#a2a2a2" stroke-width="1"/><text x="839.8" y="129.9" text-anchor="end" class="st">10<tspan dy="-3" font-size="5">2</tspan></text><line x1="843.3" y1="75.4" x2="846.3" y2="75.4" stroke="#a2a2a2" stroke-width="1"/><text x="839.8" y="78.4" text-anchor="end" class="st">10<tspan dy="-3" font-size="5">3</tspan></text><line x1="884.5" y1="238" x2="884.5" y2="241" stroke="#a2a2a2" stroke-width="1"/><text x="884.5" y="250.5" text-anchor="middle" class="st2">0</text><line x1="1073.5" y1="238" x2="1073.5" y2="241" stroke="#a2a2a2" stroke-width="1"/><text x="1073.5" y="250.5" text-anchor="middle" class="st2">1000</text><line x1="1262.6" y1="238" x2="1262.6" y2="241" stroke="#a2a2a2" stroke-width="1"/><text x="1262.6" y="250.5" text-anchor="middle" class="st2">2000</text><line x1="1451.7" y1="238" x2="1451.7" y2="241" stroke="#a2a2a2" stroke-width="1"/><text x="1451.7" y="250.5" text-anchor="middle" class="st2">3000</text><line x1="1640.7" y1="238" x2="1640.7" y2="241" stroke="#a2a2a2" stroke-width="1"/><text x="1640.7" y="250.5" text-anchor="middle" class="st2">4000</text><text x="1283.9" y="263" text-anchor="middle" class="sl">Energy (keV)</text><text transform="translate(820.3,137) rotate(-90)" text-anchor="middle" class="sl">Counts (Total)</text><text x="807.8" y="25.6" class="pl" style="font-size:34.5px">(d)</text><rect x="835.8" y="493" width="885.7" height="204.29999999999995" fill="none" stroke="#a2a2a2" stroke-width="2.2"/><line x1="832.8" y1="689" x2="835.8" y2="689" stroke="#a2a2a2" stroke-width="1"/><text x="829.3" y="692" text-anchor="end" class="st">10<tspan dy="-3" font-size="5">0</tspan></text><line x1="832.8" y1="634.1" x2="835.8" y2="634.1" stroke="#a2a2a2" stroke-width="1"/><text x="829.3" y="637.1" text-anchor="end" class="st">10<tspan dy="-3" font-size="5">1</tspan></text><line x1="832.8" y1="579.2" x2="835.8" y2="579.2" stroke="#a2a2a2" stroke-width="1"/><text x="829.3" y="582.2" text-anchor="end" class="st">10<tspan dy="-3" font-size="5">2</tspan></text><line x1="832.8" y1="524.3" x2="835.8" y2="524.3" stroke="#a2a2a2" stroke-width="1"/><text x="829.3" y="527.3" text-anchor="end" class="st">10<tspan dy="-3" font-size="5">3</tspan></text><line x1="874.4" y1="697.3" x2="874.4" y2="700.3" stroke="#a2a2a2" stroke-width="1"/><text x="874.4" y="709.8" text-anchor="middle" class="st2">0</text><line x1="1065.7" y1="697.3" x2="1065.7" y2="700.3" stroke="#a2a2a2" stroke-width="1"/><text x="1065.7" y="709.8" text-anchor="middle" class="st2">1000</text><line x1="1256.9" y1="697.3" x2="1256.9" y2="700.3" stroke="#a2a2a2" stroke-width="1"/><text x="1256.9" y="709.8" text-anchor="middle" class="st2">2000</text><line x1="1448.2" y1="697.3" x2="1448.2" y2="700.3" stroke="#a2a2a2" stroke-width="1"/><text x="1448.2" y="709.8" text-anchor="middle" class="st2">3000</text><line x1="1639.4" y1="697.3" x2="1639.4" y2="700.3" stroke="#a2a2a2" stroke-width="1"/><text x="1639.4" y="709.8" text-anchor="middle" class="st2">4000</text><text x="1278.6" y="722.4" text-anchor="middle" class="sl">Energy (keV)</text><text transform="translate(809.7,596.3) rotate(-90)" text-anchor="middle" class="sl">Counts (Total)</text><text x="796.6" y="480" class="pl" style="font-size:35.5px">(e)</text><line x1="846.5" y1="329.7" x2="846.5" y2="430.9" stroke="#4a4a4a" stroke-width="1.6"/><line x1="971.2" y1="329.7" x2="971.2" y2="430.9" stroke="#4a4a4a" stroke-width="1.6"/><line x1="1095.7" y1="329.7" x2="1095.7" y2="430.9" stroke="#4a4a4a" stroke-width="1.6"/><line x1="1221.4" y1="329.7" x2="1221.4" y2="430.9" stroke="#4a4a4a" stroke-width="1.6"/><line x1="1346.3" y1="329.7" x2="1346.3" y2="430.9" stroke="#4a4a4a" stroke-width="1.6"/><line x1="1471.4" y1="329.7" x2="1471.4" y2="430.9" stroke="#4a4a4a" stroke-width="1.6"/><line x1="1596" y1="329.7" x2="1596" y2="430.9" stroke="#4a4a4a" stroke-width="1.6"/><line x1="1721.2" y1="329.7" x2="1721.2" y2="430.9" stroke="#4a4a4a" stroke-width="1.6"/><line x1="846.5" y1="329.7" x2="1721.2" y2="329.7" stroke="#4a4a4a" stroke-width="1.6"/><line x1="846.5" y1="350.5" x2="1721.2" y2="350.5" stroke="#4a4a4a" stroke-width="1.6"/><line x1="846.5" y1="370.4" x2="1721.2" y2="370.4" stroke="#4a4a4a" stroke-width="1.6"/><line x1="846.5" y1="390" x2="1721.2" y2="390" stroke="#4a4a4a" stroke-width="1.6"/><line x1="846.5" y1="410.5" x2="1721.2" y2="410.5" stroke="#4a4a4a" stroke-width="1.6"/><line x1="846.5" y1="430.9" x2="1721.2" y2="430.9" stroke="#4a4a4a" stroke-width="1.6"/><text x="908.9" y="343.3" text-anchor="middle" class="tb">Isotope</text><text x="1033.5" y="343.3" text-anchor="middle" class="tb">Energy (keV)</text><text x="1158.6" y="343.3" text-anchor="middle" class="tb">RI (%)</text><text x="1283.8" y="343.3" text-anchor="middle" class="tb"><tspan font-style="italic">R̄</tspan><tspan font-size="6.5" dy="-4">2</tspan><tspan dy="4"> of fit</tspan></text><text x="1408.8" y="343.3" text-anchor="middle" class="tb">FWHM (keV)</text><text x="1533.7" y="343.3" text-anchor="middle" class="tb">Net Area</text><text x="1658.6" y="343.3" text-anchor="middle" class="tb">Net Area Uncertainty</text><text x="958.7" y="363.6" text-anchor="end" class="tb">Pb-214 (NORM)</text><text x="1083.2" y="363.6" text-anchor="end" class="tb">358.0</text><text x="1208.9" y="363.6" text-anchor="end" class="tb">100.0±0.32</text><text x="1333.8" y="363.6" text-anchor="end" class="tb">0.7949</text><text x="1458.9" y="363.6" text-anchor="end" class="tb">23.29</text><text x="1583.5" y="363.6" text-anchor="end" class="tb">3739.0</text><text x="1708.7" y="363.6" text-anchor="end" class="tb">392.24</text><text x="958.7" y="383.4" text-anchor="end" class="tb">Bi-214 (NORM)</text><text x="1083.2" y="383.4" text-anchor="end" class="tb">614.06</text><text x="1208.9" y="383.4" text-anchor="end" class="tb">31.25±0.18</text><text x="1333.8" y="383.4" text-anchor="end" class="tb">0.9332</text><text x="1458.9" y="383.4" text-anchor="end" class="tb">46.0</text><text x="1583.5" y="383.4" text-anchor="end" class="tb">9575.0</text><text x="1708.7" y="383.4" text-anchor="end" class="tb">186.78</text><text x="958.7" y="403.4" text-anchor="end" class="tb">Bi-214 (NORM)</text><text x="1083.2" y="403.4" text-anchor="end" class="tb">1125.25</text><text x="1208.9" y="403.4" text-anchor="end" class="tb">8.27±0.09</text><text x="1333.8" y="403.4" text-anchor="end" class="tb">0.503</text><text x="1458.9" y="403.4" text-anchor="end" class="tb">53.97</text><text x="1583.5" y="403.4" text-anchor="end" class="tb">1725.0</text><text x="1708.7" y="403.4" text-anchor="end" class="tb">178.3</text><text x="958.7" y="423.9" text-anchor="end" class="tb">Bi-214 (NORM)</text><text x="1083.2" y="423.9" text-anchor="end" class="tb">1761.31</text><text x="1208.9" y="423.9" text-anchor="end" class="tb">3.45±0.06</text><text x="1333.8" y="423.9" text-anchor="end" class="tb">0.2754</text><text x="1458.9" y="423.9" text-anchor="end" class="tb">76.29</text><text x="1583.5" y="423.9" text-anchor="end" class="tb">1243.0</text><text x="1708.7" y="423.9" text-anchor="end" class="tb">210.31</text><line x1="835.7" y1="801.2" x2="835.7" y2="882.1" stroke="#4a4a4a" stroke-width="1.6"/><line x1="962.3" y1="801.2" x2="962.3" y2="882.1" stroke="#4a4a4a" stroke-width="1.6"/><line x1="1088.3" y1="801.2" x2="1088.3" y2="882.1" stroke="#4a4a4a" stroke-width="1.6"/><line x1="1215.3" y1="801.2" x2="1215.3" y2="882.1" stroke="#4a4a4a" stroke-width="1.6"/><line x1="1341.2" y1="801.2" x2="1341.2" y2="882.1" stroke="#4a4a4a" stroke-width="1.6"/><line x1="1468.4" y1="801.2" x2="1468.4" y2="882.1" stroke="#4a4a4a" stroke-width="1.6"/><line x1="1594.5" y1="801.2" x2="1594.5" y2="882.1" stroke="#4a4a4a" stroke-width="1.6"/><line x1="1721" y1="801.2" x2="1721" y2="882.1" stroke="#4a4a4a" stroke-width="1.6"/><line x1="835.7" y1="801.2" x2="1721" y2="801.2" stroke="#4a4a4a" stroke-width="1.6"/><line x1="835.7" y1="821.3" x2="1721" y2="821.3" stroke="#4a4a4a" stroke-width="1.6"/><line x1="835.7" y1="841.4" x2="1721" y2="841.4" stroke="#4a4a4a" stroke-width="1.6"/><line x1="835.7" y1="861.2" x2="1721" y2="861.2" stroke="#4a4a4a" stroke-width="1.6"/><line x1="835.7" y1="882.1" x2="1721" y2="882.1" stroke="#4a4a4a" stroke-width="1.6"/><text x="899" y="814.5" text-anchor="middle" class="tb">Isotope</text><text x="1025.3" y="814.5" text-anchor="middle" class="tb">Energy (keV)</text><text x="1151.8" y="814.5" text-anchor="middle" class="tb">RI (%)</text><text x="1278.2" y="814.5" text-anchor="middle" class="tb"><tspan font-style="italic">R̄</tspan><tspan font-size="6.5" dy="-4">2</tspan><tspan dy="4"> of fit</tspan></text><text x="1404.8" y="814.5" text-anchor="middle" class="tb">FWHM (keV)</text><text x="1531.5" y="814.5" text-anchor="middle" class="tb">Net Area</text><text x="1657.8" y="814.5" text-anchor="middle" class="tb">Net Area Uncertainty</text><text x="949.8" y="834.5" text-anchor="end" class="tb">Bi-214 (NORM)</text><text x="1075.8" y="834.5" text-anchor="end" class="tb">610.68</text><text x="1202.8" y="834.5" text-anchor="end" class="tb">100.0±0.7</text><text x="1328.7" y="834.5" text-anchor="end" class="tb">0.8945</text><text x="1455.9" y="834.5" text-anchor="end" class="tb">50.22</text><text x="1582" y="834.5" text-anchor="end" class="tb">6910.0</text><text x="1708.5" y="834.5" text-anchor="end" class="tb">160.52</text><text x="949.8" y="854.5" text-anchor="end" class="tb">Bi-214 (NORM)</text><text x="1075.8" y="854.5" text-anchor="end" class="tb">1123.33</text><text x="1202.8" y="854.5" text-anchor="end" class="tb">26.85±0.36</text><text x="1328.7" y="854.5" text-anchor="end" class="tb">0.5371</text><text x="1455.9" y="854.5" text-anchor="end" class="tb">52.66</text><text x="1582" y="854.5" text-anchor="end" class="tb">1189.0</text><text x="1708.5" y="854.5" text-anchor="end" class="tb">138.52</text><text x="949.8" y="874.9" text-anchor="end" class="tb">Bi-214 (NORM)</text><text x="1075.8" y="874.9" text-anchor="end" class="tb">1759.43</text><text x="1202.8" y="874.9" text-anchor="end" class="tb">11.19±0.23</text><text x="1328.7" y="874.9" text-anchor="end" class="tb">0.4327</text><text x="1455.9" y="874.9" text-anchor="end" class="tb">68.68</text><text x="1582" y="874.9" text-anchor="end" class="tb">834.0</text><text x="1708.5" y="874.9" text-anchor="end" class="tb">111.02</text>
</svg></body></html>
